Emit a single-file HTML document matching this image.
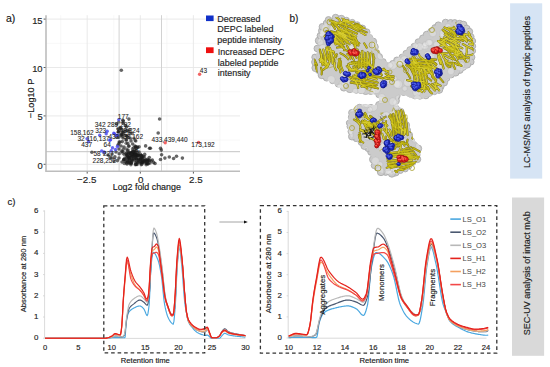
<!DOCTYPE html>
<html><head><meta charset="utf-8"><style>
html,body{margin:0;padding:0;background:#fff;}
body{width:550px;height:367px;overflow:hidden;position:relative;font-family:"Liberation Sans",sans-serif;}
svg{position:absolute;left:0;top:0;}
svg text{stroke:#2a2a2a;stroke-width:0.16px;}
</style></head><body>
<svg width="550" height="367" viewBox="0 0 550 367">
<defs><clipPath id="pc"><path d="M312.4,56.5 C312.7,53.2 314.1,50.8 314.8,48.0 C315.5,45.2 315.6,43.8 316.5,40.0 C317.4,36.2 318.6,28.8 320.5,25.0 C322.4,21.2 325.3,18.9 327.9,17.3 C330.5,15.7 332.8,15.1 336.1,15.2 C339.4,15.2 343.8,16.4 347.6,17.6 C351.4,18.8 355.5,20.3 359.0,22.5 C362.5,24.7 366.1,27.7 368.8,30.8 C371.5,33.9 373.8,37.5 375.4,41.0 C377.0,44.5 377.2,48.5 378.6,51.5 C380.0,54.5 381.9,57.4 384.0,59.0 C386.1,60.6 388.3,61.7 391.0,61.0 C393.7,60.3 396.5,57.8 400.0,55.0 C403.5,52.2 408.5,47.1 412.0,44.0 C415.5,40.9 418.2,38.5 421.1,36.1 C424.0,33.7 426.6,31.8 429.3,29.5 C432.0,27.2 434.8,24.2 437.5,22.6 C440.2,21.0 442.6,20.4 445.6,20.0 C448.6,19.6 452.2,19.4 455.5,20.0 C458.8,20.6 462.6,21.5 465.3,23.3 C468.0,25.1 470.1,27.9 471.8,30.8 C473.5,33.8 474.8,37.5 475.4,41.0 C476.0,44.5 475.9,47.7 475.4,51.5 C474.9,55.3 474.9,60.6 472.5,64.0 C470.1,67.4 464.9,69.3 461.0,72.0 C457.1,74.7 452.5,76.7 449.0,80.0 C445.5,83.3 443.8,89.0 440.0,92.0 C436.2,95.0 430.3,96.9 426.0,98.0 C421.7,99.1 417.7,99.0 414.0,98.5 C410.3,98.0 406.5,95.4 404.0,95.0 C401.5,94.6 400.0,94.2 399.0,96.0 C398.0,97.8 397.2,103.6 398.0,106.0 C398.8,108.4 401.9,107.4 403.6,110.5 C405.4,113.6 406.9,119.6 408.5,124.4 C410.1,129.2 411.3,135.0 413.4,139.1 C415.4,143.2 419.9,145.2 420.8,148.9 C421.7,152.6 421.4,157.4 419.0,161.2 C416.6,165.0 410.7,169.0 406.1,171.5 C401.5,174.0 395.9,175.8 391.4,176.2 C386.9,176.6 382.4,175.5 379.1,173.8 C375.8,172.1 373.4,169.3 371.8,166.0 C370.2,162.7 371.4,157.4 369.3,153.8 C367.2,150.2 362.8,147.3 359.5,144.5 C356.2,141.7 351.7,140.8 349.5,137.0 C347.3,133.2 346.3,126.4 346.5,122.0 C346.7,117.6 348.3,113.3 350.5,110.5 C352.7,107.7 355.1,106.0 359.5,105.0 C363.9,104.0 373.6,106.1 376.7,104.8 C379.8,103.5 379.0,98.8 378.0,97.0 C377.0,95.2 374.2,94.5 370.5,93.8 C366.8,93.1 360.3,93.7 355.7,93.0 C351.1,92.3 346.7,91.4 342.6,89.8 C338.5,88.2 335.0,85.4 331.2,83.2 C327.4,81.0 322.7,79.1 319.7,76.6 C316.7,74.1 314.2,71.3 313.0,68.0 C311.8,64.7 312.1,59.8 312.4,56.5 Z" transform="translate(393,95) scale(0.975) translate(-393,-95)"/></clipPath></defs>
<circle cx="314.9" cy="57.2" r="3.1" fill="#cbcbcb" stroke="#ababab" stroke-width="0.9"/>
<circle cx="317.3" cy="48.5" r="3.3" fill="#cbcbcb" stroke="#ababab" stroke-width="0.9"/>
<circle cx="319.0" cy="40.7" r="3.7" fill="#cbcbcb" stroke="#ababab" stroke-width="0.9"/>
<circle cx="320.3" cy="35.7" r="3.2" fill="#cbcbcb" stroke="#ababab" stroke-width="0.9"/>
<circle cx="321.7" cy="30.7" r="3.2" fill="#cbcbcb" stroke="#ababab" stroke-width="0.9"/>
<circle cx="322.4" cy="26.8" r="3.3" fill="#cbcbcb" stroke="#ababab" stroke-width="0.9"/>
<circle cx="326.1" cy="23.0" r="2.8" fill="#cbcbcb" stroke="#ababab" stroke-width="0.9"/>
<circle cx="328.5" cy="19.8" r="3.2" fill="#cbcbcb" stroke="#ababab" stroke-width="0.9"/>
<circle cx="335.6" cy="17.7" r="3.4" fill="#cbcbcb" stroke="#ababab" stroke-width="0.9"/>
<circle cx="341.3" cy="18.9" r="3.6" fill="#cbcbcb" stroke="#ababab" stroke-width="0.9"/>
<circle cx="346.6" cy="20.0" r="2.7" fill="#cbcbcb" stroke="#ababab" stroke-width="0.9"/>
<circle cx="352.3" cy="22.4" r="3.0" fill="#cbcbcb" stroke="#ababab" stroke-width="0.9"/>
<circle cx="357.3" cy="24.5" r="2.7" fill="#cbcbcb" stroke="#ababab" stroke-width="0.9"/>
<circle cx="362.2" cy="28.6" r="3.6" fill="#cbcbcb" stroke="#ababab" stroke-width="0.9"/>
<circle cx="366.6" cy="32.2" r="3.4" fill="#cbcbcb" stroke="#ababab" stroke-width="0.9"/>
<circle cx="369.9" cy="37.3" r="2.7" fill="#cbcbcb" stroke="#ababab" stroke-width="0.9"/>
<circle cx="372.9" cy="41.8" r="3.8" fill="#cbcbcb" stroke="#ababab" stroke-width="0.9"/>
<circle cx="374.5" cy="47.0" r="3.8" fill="#cbcbcb" stroke="#ababab" stroke-width="0.9"/>
<circle cx="376.5" cy="53.0" r="3.4" fill="#cbcbcb" stroke="#ababab" stroke-width="0.9"/>
<circle cx="379.2" cy="56.8" r="3.3" fill="#cbcbcb" stroke="#ababab" stroke-width="0.9"/>
<circle cx="383.3" cy="61.5" r="2.8" fill="#cbcbcb" stroke="#ababab" stroke-width="0.9"/>
<circle cx="392.4" cy="63.2" r="2.6" fill="#cbcbcb" stroke="#ababab" stroke-width="0.9"/>
<circle cx="396.9" cy="60.2" r="3.2" fill="#cbcbcb" stroke="#ababab" stroke-width="0.9"/>
<circle cx="401.8" cy="56.9" r="2.7" fill="#cbcbcb" stroke="#ababab" stroke-width="0.9"/>
<circle cx="405.8" cy="53.2" r="2.8" fill="#cbcbcb" stroke="#ababab" stroke-width="0.9"/>
<circle cx="409.8" cy="49.6" r="2.9" fill="#cbcbcb" stroke="#ababab" stroke-width="0.9"/>
<circle cx="413.7" cy="46.0" r="2.6" fill="#cbcbcb" stroke="#ababab" stroke-width="0.9"/>
<circle cx="418.3" cy="42.0" r="3.2" fill="#cbcbcb" stroke="#ababab" stroke-width="0.9"/>
<circle cx="422.7" cy="38.1" r="3.1" fill="#cbcbcb" stroke="#ababab" stroke-width="0.9"/>
<circle cx="426.8" cy="34.8" r="3.6" fill="#cbcbcb" stroke="#ababab" stroke-width="0.9"/>
<circle cx="431.0" cy="31.5" r="3.2" fill="#cbcbcb" stroke="#ababab" stroke-width="0.9"/>
<circle cx="435.1" cy="28.0" r="3.4" fill="#cbcbcb" stroke="#ababab" stroke-width="0.9"/>
<circle cx="438.3" cy="25.1" r="3.2" fill="#cbcbcb" stroke="#ababab" stroke-width="0.9"/>
<circle cx="445.6" cy="22.6" r="3.4" fill="#cbcbcb" stroke="#ababab" stroke-width="0.9"/>
<circle cx="450.6" cy="22.6" r="3.1" fill="#cbcbcb" stroke="#ababab" stroke-width="0.9"/>
<circle cx="454.7" cy="22.5" r="2.9" fill="#cbcbcb" stroke="#ababab" stroke-width="0.9"/>
<circle cx="459.6" cy="24.1" r="3.8" fill="#cbcbcb" stroke="#ababab" stroke-width="0.9"/>
<circle cx="463.3" cy="25.0" r="3.8" fill="#cbcbcb" stroke="#ababab" stroke-width="0.9"/>
<circle cx="466.6" cy="28.8" r="3.6" fill="#cbcbcb" stroke="#ababab" stroke-width="0.9"/>
<circle cx="469.3" cy="31.7" r="3.4" fill="#cbcbcb" stroke="#ababab" stroke-width="0.9"/>
<circle cx="471.1" cy="36.8" r="3.0" fill="#cbcbcb" stroke="#ababab" stroke-width="0.9"/>
<circle cx="472.8" cy="41.0" r="2.9" fill="#cbcbcb" stroke="#ababab" stroke-width="0.9"/>
<circle cx="472.8" cy="46.2" r="2.9" fill="#cbcbcb" stroke="#ababab" stroke-width="0.9"/>
<circle cx="472.9" cy="50.9" r="2.7" fill="#cbcbcb" stroke="#ababab" stroke-width="0.9"/>
<circle cx="471.4" cy="57.2" r="3.5" fill="#cbcbcb" stroke="#ababab" stroke-width="0.9"/>
<circle cx="471.0" cy="61.9" r="3.1" fill="#cbcbcb" stroke="#ababab" stroke-width="0.9"/>
<circle cx="467.2" cy="64.5" r="3.6" fill="#cbcbcb" stroke="#ababab" stroke-width="0.9"/>
<circle cx="463.3" cy="67.2" r="3.1" fill="#cbcbcb" stroke="#ababab" stroke-width="0.9"/>
<circle cx="459.6" cy="69.8" r="3.7" fill="#cbcbcb" stroke="#ababab" stroke-width="0.9"/>
<circle cx="455.6" cy="72.5" r="3.6" fill="#cbcbcb" stroke="#ababab" stroke-width="0.9"/>
<circle cx="451.6" cy="75.2" r="2.6" fill="#cbcbcb" stroke="#ababab" stroke-width="0.9"/>
<circle cx="446.9" cy="78.4" r="2.9" fill="#cbcbcb" stroke="#ababab" stroke-width="0.9"/>
<circle cx="443.9" cy="82.4" r="3.7" fill="#cbcbcb" stroke="#ababab" stroke-width="0.9"/>
<circle cx="440.9" cy="86.4" r="3.2" fill="#cbcbcb" stroke="#ababab" stroke-width="0.9"/>
<circle cx="439.0" cy="89.6" r="3.8" fill="#cbcbcb" stroke="#ababab" stroke-width="0.9"/>
<circle cx="434.3" cy="91.6" r="3.1" fill="#cbcbcb" stroke="#ababab" stroke-width="0.9"/>
<circle cx="429.6" cy="93.6" r="2.7" fill="#cbcbcb" stroke="#ababab" stroke-width="0.9"/>
<circle cx="425.9" cy="95.4" r="3.4" fill="#cbcbcb" stroke="#ababab" stroke-width="0.9"/>
<circle cx="419.9" cy="95.7" r="3.5" fill="#cbcbcb" stroke="#ababab" stroke-width="0.9"/>
<circle cx="414.9" cy="96.0" r="2.9" fill="#cbcbcb" stroke="#ababab" stroke-width="0.9"/>
<circle cx="409.9" cy="94.3" r="2.7" fill="#cbcbcb" stroke="#ababab" stroke-width="0.9"/>
<circle cx="403.5" cy="92.5" r="3.0" fill="#cbcbcb" stroke="#ababab" stroke-width="0.9"/>
<circle cx="396.4" cy="95.7" r="3.8" fill="#cbcbcb" stroke="#ababab" stroke-width="0.9"/>
<circle cx="395.9" cy="100.7" r="3.5" fill="#cbcbcb" stroke="#ababab" stroke-width="0.9"/>
<circle cx="396.4" cy="108.0" r="2.7" fill="#cbcbcb" stroke="#ababab" stroke-width="0.9"/>
<circle cx="401.1" cy="111.4" r="2.9" fill="#cbcbcb" stroke="#ababab" stroke-width="0.9"/>
<circle cx="402.8" cy="116.0" r="2.7" fill="#cbcbcb" stroke="#ababab" stroke-width="0.9"/>
<circle cx="404.4" cy="120.6" r="2.7" fill="#cbcbcb" stroke="#ababab" stroke-width="0.9"/>
<circle cx="406.0" cy="125.2" r="3.6" fill="#cbcbcb" stroke="#ababab" stroke-width="0.9"/>
<circle cx="407.7" cy="130.1" r="2.8" fill="#cbcbcb" stroke="#ababab" stroke-width="0.9"/>
<circle cx="409.3" cy="135.0" r="3.3" fill="#cbcbcb" stroke="#ababab" stroke-width="0.9"/>
<circle cx="411.3" cy="140.7" r="3.1" fill="#cbcbcb" stroke="#ababab" stroke-width="0.9"/>
<circle cx="415.0" cy="145.6" r="2.8" fill="#cbcbcb" stroke="#ababab" stroke-width="0.9"/>
<circle cx="418.2" cy="148.5" r="3.5" fill="#cbcbcb" stroke="#ababab" stroke-width="0.9"/>
<circle cx="417.3" cy="154.7" r="2.8" fill="#cbcbcb" stroke="#ababab" stroke-width="0.9"/>
<circle cx="417.4" cy="159.2" r="3.4" fill="#cbcbcb" stroke="#ababab" stroke-width="0.9"/>
<circle cx="413.1" cy="162.6" r="2.7" fill="#cbcbcb" stroke="#ababab" stroke-width="0.9"/>
<circle cx="408.8" cy="166.0" r="3.1" fill="#cbcbcb" stroke="#ababab" stroke-width="0.9"/>
<circle cx="405.3" cy="169.0" r="2.9" fill="#cbcbcb" stroke="#ababab" stroke-width="0.9"/>
<circle cx="400.4" cy="170.6" r="2.9" fill="#cbcbcb" stroke="#ababab" stroke-width="0.9"/>
<circle cx="395.5" cy="172.2" r="3.8" fill="#cbcbcb" stroke="#ababab" stroke-width="0.9"/>
<circle cx="391.9" cy="173.6" r="3.6" fill="#cbcbcb" stroke="#ababab" stroke-width="0.9"/>
<circle cx="385.7" cy="172.4" r="3.0" fill="#cbcbcb" stroke="#ababab" stroke-width="0.9"/>
<circle cx="381.0" cy="172.0" r="3.7" fill="#cbcbcb" stroke="#ababab" stroke-width="0.9"/>
<circle cx="377.3" cy="168.1" r="2.9" fill="#cbcbcb" stroke="#ababab" stroke-width="0.9"/>
<circle cx="374.3" cy="165.5" r="3.1" fill="#cbcbcb" stroke="#ababab" stroke-width="0.9"/>
<circle cx="373.1" cy="159.4" r="3.6" fill="#cbcbcb" stroke="#ababab" stroke-width="0.9"/>
<circle cx="371.1" cy="151.9" r="3.4" fill="#cbcbcb" stroke="#ababab" stroke-width="0.9"/>
<circle cx="367.8" cy="148.8" r="2.7" fill="#cbcbcb" stroke="#ababab" stroke-width="0.9"/>
<circle cx="364.6" cy="145.7" r="3.8" fill="#cbcbcb" stroke="#ababab" stroke-width="0.9"/>
<circle cx="361.1" cy="142.4" r="2.9" fill="#cbcbcb" stroke="#ababab" stroke-width="0.9"/>
<circle cx="356.1" cy="138.7" r="2.9" fill="#cbcbcb" stroke="#ababab" stroke-width="0.9"/>
<circle cx="352.0" cy="136.5" r="3.5" fill="#cbcbcb" stroke="#ababab" stroke-width="0.9"/>
<circle cx="351.0" cy="131.5" r="3.0" fill="#cbcbcb" stroke="#ababab" stroke-width="0.9"/>
<circle cx="350.0" cy="126.5" r="3.0" fill="#cbcbcb" stroke="#ababab" stroke-width="0.9"/>
<circle cx="349.0" cy="122.9" r="2.7" fill="#cbcbcb" stroke="#ababab" stroke-width="0.9"/>
<circle cx="351.0" cy="117.1" r="2.7" fill="#cbcbcb" stroke="#ababab" stroke-width="0.9"/>
<circle cx="351.9" cy="112.7" r="3.3" fill="#cbcbcb" stroke="#ababab" stroke-width="0.9"/>
<circle cx="356.4" cy="110.0" r="2.9" fill="#cbcbcb" stroke="#ababab" stroke-width="0.9"/>
<circle cx="359.5" cy="107.6" r="3.3" fill="#cbcbcb" stroke="#ababab" stroke-width="0.9"/>
<circle cx="365.3" cy="107.5" r="3.0" fill="#cbcbcb" stroke="#ababab" stroke-width="0.9"/>
<circle cx="371.0" cy="107.5" r="3.1" fill="#cbcbcb" stroke="#ababab" stroke-width="0.9"/>
<circle cx="379.3" cy="105.2" r="3.8" fill="#cbcbcb" stroke="#ababab" stroke-width="0.9"/>
<circle cx="379.0" cy="94.6" r="3.2" fill="#cbcbcb" stroke="#ababab" stroke-width="0.9"/>
<circle cx="370.6" cy="91.2" r="3.3" fill="#cbcbcb" stroke="#ababab" stroke-width="0.9"/>
<circle cx="365.7" cy="90.9" r="3.6" fill="#cbcbcb" stroke="#ababab" stroke-width="0.9"/>
<circle cx="360.8" cy="90.7" r="2.8" fill="#cbcbcb" stroke="#ababab" stroke-width="0.9"/>
<circle cx="356.3" cy="90.5" r="2.8" fill="#cbcbcb" stroke="#ababab" stroke-width="0.9"/>
<circle cx="349.8" cy="88.9" r="3.7" fill="#cbcbcb" stroke="#ababab" stroke-width="0.9"/>
<circle cx="343.9" cy="87.5" r="3.6" fill="#cbcbcb" stroke="#ababab" stroke-width="0.9"/>
<circle cx="338.2" cy="84.2" r="2.9" fill="#cbcbcb" stroke="#ababab" stroke-width="0.9"/>
<circle cx="332.5" cy="80.9" r="2.8" fill="#cbcbcb" stroke="#ababab" stroke-width="0.9"/>
<circle cx="326.7" cy="77.6" r="3.5" fill="#cbcbcb" stroke="#ababab" stroke-width="0.9"/>
<circle cx="321.8" cy="75.0" r="3.7" fill="#cbcbcb" stroke="#ababab" stroke-width="0.9"/>
<circle cx="318.4" cy="70.7" r="2.8" fill="#cbcbcb" stroke="#ababab" stroke-width="0.9"/>
<circle cx="315.6" cy="67.9" r="3.7" fill="#cbcbcb" stroke="#ababab" stroke-width="0.9"/>
<circle cx="315.3" cy="62.1" r="3.7" fill="#cbcbcb" stroke="#ababab" stroke-width="0.9"/>
<path d="M312.4,56.5 C312.7,53.2 314.1,50.8 314.8,48.0 C315.5,45.2 315.6,43.8 316.5,40.0 C317.4,36.2 318.6,28.8 320.5,25.0 C322.4,21.2 325.3,18.9 327.9,17.3 C330.5,15.7 332.8,15.1 336.1,15.2 C339.4,15.2 343.8,16.4 347.6,17.6 C351.4,18.8 355.5,20.3 359.0,22.5 C362.5,24.7 366.1,27.7 368.8,30.8 C371.5,33.9 373.8,37.5 375.4,41.0 C377.0,44.5 377.2,48.5 378.6,51.5 C380.0,54.5 381.9,57.4 384.0,59.0 C386.1,60.6 388.3,61.7 391.0,61.0 C393.7,60.3 396.5,57.8 400.0,55.0 C403.5,52.2 408.5,47.1 412.0,44.0 C415.5,40.9 418.2,38.5 421.1,36.1 C424.0,33.7 426.6,31.8 429.3,29.5 C432.0,27.2 434.8,24.2 437.5,22.6 C440.2,21.0 442.6,20.4 445.6,20.0 C448.6,19.6 452.2,19.4 455.5,20.0 C458.8,20.6 462.6,21.5 465.3,23.3 C468.0,25.1 470.1,27.9 471.8,30.8 C473.5,33.8 474.8,37.5 475.4,41.0 C476.0,44.5 475.9,47.7 475.4,51.5 C474.9,55.3 474.9,60.6 472.5,64.0 C470.1,67.4 464.9,69.3 461.0,72.0 C457.1,74.7 452.5,76.7 449.0,80.0 C445.5,83.3 443.8,89.0 440.0,92.0 C436.2,95.0 430.3,96.9 426.0,98.0 C421.7,99.1 417.7,99.0 414.0,98.5 C410.3,98.0 406.5,95.4 404.0,95.0 C401.5,94.6 400.0,94.2 399.0,96.0 C398.0,97.8 397.2,103.6 398.0,106.0 C398.8,108.4 401.9,107.4 403.6,110.5 C405.4,113.6 406.9,119.6 408.5,124.4 C410.1,129.2 411.3,135.0 413.4,139.1 C415.4,143.2 419.9,145.2 420.8,148.9 C421.7,152.6 421.4,157.4 419.0,161.2 C416.6,165.0 410.7,169.0 406.1,171.5 C401.5,174.0 395.9,175.8 391.4,176.2 C386.9,176.6 382.4,175.5 379.1,173.8 C375.8,172.1 373.4,169.3 371.8,166.0 C370.2,162.7 371.4,157.4 369.3,153.8 C367.2,150.2 362.8,147.3 359.5,144.5 C356.2,141.7 351.7,140.8 349.5,137.0 C347.3,133.2 346.3,126.4 346.5,122.0 C346.7,117.6 348.3,113.3 350.5,110.5 C352.7,107.7 355.1,106.0 359.5,105.0 C363.9,104.0 373.6,106.1 376.7,104.8 C379.8,103.5 379.0,98.8 378.0,97.0 C377.0,95.2 374.2,94.5 370.5,93.8 C366.8,93.1 360.3,93.7 355.7,93.0 C351.1,92.3 346.7,91.4 342.6,89.8 C338.5,88.2 335.0,85.4 331.2,83.2 C327.4,81.0 322.7,79.1 319.7,76.6 C316.7,74.1 314.2,71.3 313.0,68.0 C311.8,64.7 312.1,59.8 312.4,56.5 Z" fill="#cbcbcb" transform="translate(393,95) scale(0.965) translate(-393,-95)"/>
<g clip-path="url(#pc)">
<circle cx="411.4" cy="82.5" r="2.7" fill="#ececec" fill-opacity="0.42" stroke="#9a9a9a" stroke-opacity="0.3" stroke-width="0.6"/>
<circle cx="316.5" cy="171.8" r="3.0" fill="#ececec" fill-opacity="0.42" stroke="#9a9a9a" stroke-opacity="0.3" stroke-width="0.6"/>
<circle cx="428.4" cy="55.4" r="4.1" fill="#ececec" fill-opacity="0.42" stroke="#9a9a9a" stroke-opacity="0.3" stroke-width="0.6"/>
<circle cx="410.2" cy="61.4" r="2.9" fill="#ececec" fill-opacity="0.42" stroke="#9a9a9a" stroke-opacity="0.3" stroke-width="0.6"/>
<circle cx="431.0" cy="24.3" r="3.0" fill="#ececec" fill-opacity="0.42" stroke="#9a9a9a" stroke-opacity="0.3" stroke-width="0.6"/>
<circle cx="404.0" cy="153.6" r="3.7" fill="#ececec" fill-opacity="0.42" stroke="#9a9a9a" stroke-opacity="0.3" stroke-width="0.6"/>
<circle cx="357.1" cy="164.4" r="2.9" fill="#ececec" fill-opacity="0.42" stroke="#9a9a9a" stroke-opacity="0.3" stroke-width="0.6"/>
<circle cx="312.8" cy="57.4" r="3.4" fill="#ececec" fill-opacity="0.42" stroke="#9a9a9a" stroke-opacity="0.3" stroke-width="0.6"/>
<circle cx="320.2" cy="42.1" r="3.2" fill="#ececec" fill-opacity="0.42" stroke="#9a9a9a" stroke-opacity="0.3" stroke-width="0.6"/>
<circle cx="406.1" cy="34.7" r="3.2" fill="#ececec" fill-opacity="0.42" stroke="#9a9a9a" stroke-opacity="0.3" stroke-width="0.6"/>
<circle cx="459.7" cy="174.8" r="3.8" fill="#ececec" fill-opacity="0.42" stroke="#9a9a9a" stroke-opacity="0.3" stroke-width="0.6"/>
<circle cx="426.1" cy="109.4" r="2.8" fill="#ececec" fill-opacity="0.42" stroke="#9a9a9a" stroke-opacity="0.3" stroke-width="0.6"/>
<circle cx="315.9" cy="16.0" r="4.3" fill="#ececec" fill-opacity="0.42" stroke="#9a9a9a" stroke-opacity="0.3" stroke-width="0.6"/>
<circle cx="427.8" cy="171.9" r="2.5" fill="#ececec" fill-opacity="0.42" stroke="#9a9a9a" stroke-opacity="0.3" stroke-width="0.6"/>
<circle cx="416.9" cy="92.6" r="4.0" fill="#ececec" fill-opacity="0.42" stroke="#9a9a9a" stroke-opacity="0.3" stroke-width="0.6"/>
<circle cx="363.6" cy="177.9" r="2.7" fill="#ececec" fill-opacity="0.42" stroke="#9a9a9a" stroke-opacity="0.3" stroke-width="0.6"/>
<circle cx="401.7" cy="134.6" r="4.3" fill="#ececec" fill-opacity="0.42" stroke="#9a9a9a" stroke-opacity="0.3" stroke-width="0.6"/>
<circle cx="433.8" cy="129.1" r="4.1" fill="#ececec" fill-opacity="0.42" stroke="#9a9a9a" stroke-opacity="0.3" stroke-width="0.6"/>
<circle cx="463.7" cy="71.1" r="3.9" fill="#ececec" fill-opacity="0.42" stroke="#9a9a9a" stroke-opacity="0.3" stroke-width="0.6"/>
<circle cx="461.3" cy="156.7" r="3.3" fill="#ececec" fill-opacity="0.42" stroke="#9a9a9a" stroke-opacity="0.3" stroke-width="0.6"/>
<circle cx="442.8" cy="155.5" r="3.6" fill="#ececec" fill-opacity="0.42" stroke="#9a9a9a" stroke-opacity="0.3" stroke-width="0.6"/>
<circle cx="415.0" cy="76.1" r="3.7" fill="#ececec" fill-opacity="0.42" stroke="#9a9a9a" stroke-opacity="0.3" stroke-width="0.6"/>
<circle cx="412.3" cy="26.2" r="3.8" fill="#ececec" fill-opacity="0.42" stroke="#9a9a9a" stroke-opacity="0.3" stroke-width="0.6"/>
<circle cx="476.9" cy="158.2" r="4.0" fill="#ececec" fill-opacity="0.42" stroke="#9a9a9a" stroke-opacity="0.3" stroke-width="0.6"/>
<circle cx="375.3" cy="134.3" r="3.7" fill="#ececec" fill-opacity="0.42" stroke="#9a9a9a" stroke-opacity="0.3" stroke-width="0.6"/>
<circle cx="384.0" cy="151.3" r="2.7" fill="#ececec" fill-opacity="0.42" stroke="#9a9a9a" stroke-opacity="0.3" stroke-width="0.6"/>
<circle cx="436.0" cy="17.9" r="3.7" fill="#ececec" fill-opacity="0.42" stroke="#9a9a9a" stroke-opacity="0.3" stroke-width="0.6"/>
<circle cx="390.8" cy="51.0" r="3.9" fill="#ececec" fill-opacity="0.42" stroke="#9a9a9a" stroke-opacity="0.3" stroke-width="0.6"/>
<circle cx="393.5" cy="114.4" r="4.3" fill="#ececec" fill-opacity="0.42" stroke="#9a9a9a" stroke-opacity="0.3" stroke-width="0.6"/>
<circle cx="353.0" cy="14.9" r="3.1" fill="#ececec" fill-opacity="0.42" stroke="#9a9a9a" stroke-opacity="0.3" stroke-width="0.6"/>
<circle cx="423.9" cy="46.4" r="2.8" fill="#ececec" fill-opacity="0.42" stroke="#9a9a9a" stroke-opacity="0.3" stroke-width="0.6"/>
<circle cx="462.2" cy="121.9" r="3.4" fill="#ececec" fill-opacity="0.42" stroke="#9a9a9a" stroke-opacity="0.3" stroke-width="0.6"/>
<circle cx="459.8" cy="66.9" r="3.8" fill="#ececec" fill-opacity="0.42" stroke="#9a9a9a" stroke-opacity="0.3" stroke-width="0.6"/>
<circle cx="343.3" cy="84.1" r="4.1" fill="#ececec" fill-opacity="0.42" stroke="#9a9a9a" stroke-opacity="0.3" stroke-width="0.6"/>
<circle cx="463.6" cy="158.2" r="3.3" fill="#ececec" fill-opacity="0.42" stroke="#9a9a9a" stroke-opacity="0.3" stroke-width="0.6"/>
<circle cx="408.0" cy="65.2" r="2.8" fill="#ececec" fill-opacity="0.42" stroke="#9a9a9a" stroke-opacity="0.3" stroke-width="0.6"/>
<circle cx="393.4" cy="151.1" r="4.2" fill="#ececec" fill-opacity="0.42" stroke="#9a9a9a" stroke-opacity="0.3" stroke-width="0.6"/>
<circle cx="429.5" cy="169.8" r="3.1" fill="#ececec" fill-opacity="0.42" stroke="#9a9a9a" stroke-opacity="0.3" stroke-width="0.6"/>
<circle cx="338.4" cy="87.4" r="3.1" fill="#ececec" fill-opacity="0.42" stroke="#9a9a9a" stroke-opacity="0.3" stroke-width="0.6"/>
<circle cx="346.0" cy="81.3" r="3.8" fill="#ececec" fill-opacity="0.42" stroke="#9a9a9a" stroke-opacity="0.3" stroke-width="0.6"/>
<circle cx="393.0" cy="65.0" r="4.2" fill="#ececec" fill-opacity="0.42" stroke="#9a9a9a" stroke-opacity="0.3" stroke-width="0.6"/>
<circle cx="475.0" cy="87.7" r="2.6" fill="#ececec" fill-opacity="0.42" stroke="#9a9a9a" stroke-opacity="0.3" stroke-width="0.6"/>
<circle cx="315.3" cy="157.0" r="2.6" fill="#ececec" fill-opacity="0.42" stroke="#9a9a9a" stroke-opacity="0.3" stroke-width="0.6"/>
<circle cx="429.0" cy="107.1" r="3.1" fill="#ececec" fill-opacity="0.42" stroke="#9a9a9a" stroke-opacity="0.3" stroke-width="0.6"/>
<circle cx="443.0" cy="16.2" r="2.8" fill="#ececec" fill-opacity="0.42" stroke="#9a9a9a" stroke-opacity="0.3" stroke-width="0.6"/>
<circle cx="386.4" cy="17.1" r="4.2" fill="#ececec" fill-opacity="0.42" stroke="#9a9a9a" stroke-opacity="0.3" stroke-width="0.6"/>
<circle cx="349.9" cy="36.2" r="2.6" fill="#ececec" fill-opacity="0.42" stroke="#9a9a9a" stroke-opacity="0.3" stroke-width="0.6"/>
<circle cx="415.7" cy="86.7" r="3.8" fill="#ececec" fill-opacity="0.42" stroke="#9a9a9a" stroke-opacity="0.3" stroke-width="0.6"/>
<circle cx="420.0" cy="146.2" r="4.4" fill="#ececec" fill-opacity="0.42" stroke="#9a9a9a" stroke-opacity="0.3" stroke-width="0.6"/>
<circle cx="425.0" cy="45.9" r="3.5" fill="#ececec" fill-opacity="0.42" stroke="#9a9a9a" stroke-opacity="0.3" stroke-width="0.6"/>
<circle cx="340.0" cy="14.8" r="3.4" fill="#ececec" fill-opacity="0.42" stroke="#9a9a9a" stroke-opacity="0.3" stroke-width="0.6"/>
<circle cx="430.0" cy="42.6" r="3.0" fill="#ececec" fill-opacity="0.42" stroke="#9a9a9a" stroke-opacity="0.3" stroke-width="0.6"/>
<circle cx="368.1" cy="128.1" r="3.5" fill="#ececec" fill-opacity="0.42" stroke="#9a9a9a" stroke-opacity="0.3" stroke-width="0.6"/>
<circle cx="413.2" cy="137.8" r="3.3" fill="#ececec" fill-opacity="0.42" stroke="#9a9a9a" stroke-opacity="0.3" stroke-width="0.6"/>
<circle cx="443.0" cy="162.5" r="2.7" fill="#ececec" fill-opacity="0.42" stroke="#9a9a9a" stroke-opacity="0.3" stroke-width="0.6"/>
<circle cx="466.7" cy="132.2" r="2.8" fill="#ececec" fill-opacity="0.42" stroke="#9a9a9a" stroke-opacity="0.3" stroke-width="0.6"/>
<circle cx="386.2" cy="116.2" r="4.3" fill="#ececec" fill-opacity="0.42" stroke="#9a9a9a" stroke-opacity="0.3" stroke-width="0.6"/>
<circle cx="373.3" cy="106.9" r="4.3" fill="#ececec" fill-opacity="0.42" stroke="#9a9a9a" stroke-opacity="0.3" stroke-width="0.6"/>
<circle cx="443.9" cy="168.8" r="3.4" fill="#ececec" fill-opacity="0.42" stroke="#9a9a9a" stroke-opacity="0.3" stroke-width="0.6"/>
<circle cx="419.4" cy="46.8" r="3.9" fill="#ececec" fill-opacity="0.42" stroke="#9a9a9a" stroke-opacity="0.3" stroke-width="0.6"/>
<circle cx="447.5" cy="118.9" r="3.9" fill="#ececec" fill-opacity="0.42" stroke="#9a9a9a" stroke-opacity="0.3" stroke-width="0.6"/>
<circle cx="345.8" cy="161.5" r="4.5" fill="#ececec" fill-opacity="0.42" stroke="#9a9a9a" stroke-opacity="0.3" stroke-width="0.6"/>
<circle cx="474.2" cy="101.6" r="4.1" fill="#ececec" fill-opacity="0.42" stroke="#9a9a9a" stroke-opacity="0.3" stroke-width="0.6"/>
<circle cx="363.8" cy="163.1" r="4.2" fill="#ececec" fill-opacity="0.42" stroke="#9a9a9a" stroke-opacity="0.3" stroke-width="0.6"/>
<circle cx="368.5" cy="26.7" r="3.4" fill="#ececec" fill-opacity="0.42" stroke="#9a9a9a" stroke-opacity="0.3" stroke-width="0.6"/>
<circle cx="402.5" cy="139.8" r="3.5" fill="#ececec" fill-opacity="0.42" stroke="#9a9a9a" stroke-opacity="0.3" stroke-width="0.6"/>
<circle cx="314.8" cy="146.5" r="2.6" fill="#ececec" fill-opacity="0.42" stroke="#9a9a9a" stroke-opacity="0.3" stroke-width="0.6"/>
<circle cx="444.4" cy="41.5" r="3.2" fill="#ececec" fill-opacity="0.42" stroke="#9a9a9a" stroke-opacity="0.3" stroke-width="0.6"/>
<circle cx="442.4" cy="36.2" r="2.8" fill="#ececec" fill-opacity="0.42" stroke="#9a9a9a" stroke-opacity="0.3" stroke-width="0.6"/>
<circle cx="396.8" cy="132.4" r="4.2" fill="#ececec" fill-opacity="0.42" stroke="#9a9a9a" stroke-opacity="0.3" stroke-width="0.6"/>
<circle cx="425.8" cy="169.0" r="3.5" fill="#ececec" fill-opacity="0.42" stroke="#9a9a9a" stroke-opacity="0.3" stroke-width="0.6"/>
<circle cx="469.5" cy="27.2" r="2.9" fill="#ececec" fill-opacity="0.42" stroke="#9a9a9a" stroke-opacity="0.3" stroke-width="0.6"/>
<circle cx="398.5" cy="60.9" r="4.0" fill="#ececec" fill-opacity="0.42" stroke="#9a9a9a" stroke-opacity="0.3" stroke-width="0.6"/>
<circle cx="417.3" cy="99.3" r="4.2" fill="#ececec" fill-opacity="0.42" stroke="#9a9a9a" stroke-opacity="0.3" stroke-width="0.6"/>
<circle cx="404.1" cy="64.4" r="3.3" fill="#ececec" fill-opacity="0.42" stroke="#9a9a9a" stroke-opacity="0.3" stroke-width="0.6"/>
<circle cx="452.0" cy="161.6" r="2.9" fill="#ececec" fill-opacity="0.42" stroke="#9a9a9a" stroke-opacity="0.3" stroke-width="0.6"/>
<circle cx="452.9" cy="172.8" r="3.5" fill="#ececec" fill-opacity="0.42" stroke="#9a9a9a" stroke-opacity="0.3" stroke-width="0.6"/>
<circle cx="406.3" cy="46.2" r="3.6" fill="#ececec" fill-opacity="0.42" stroke="#9a9a9a" stroke-opacity="0.3" stroke-width="0.6"/>
<circle cx="394.5" cy="112.9" r="2.6" fill="#ececec" fill-opacity="0.42" stroke="#9a9a9a" stroke-opacity="0.3" stroke-width="0.6"/>
<circle cx="472.9" cy="98.1" r="3.3" fill="#ececec" fill-opacity="0.42" stroke="#9a9a9a" stroke-opacity="0.3" stroke-width="0.6"/>
<circle cx="444.6" cy="105.9" r="3.5" fill="#ececec" fill-opacity="0.42" stroke="#9a9a9a" stroke-opacity="0.3" stroke-width="0.6"/>
<circle cx="426.1" cy="23.9" r="3.6" fill="#ececec" fill-opacity="0.42" stroke="#9a9a9a" stroke-opacity="0.3" stroke-width="0.6"/>
<circle cx="379.5" cy="170.9" r="4.3" fill="#ececec" fill-opacity="0.42" stroke="#9a9a9a" stroke-opacity="0.3" stroke-width="0.6"/>
<circle cx="355.2" cy="91.1" r="2.8" fill="#ececec" fill-opacity="0.42" stroke="#9a9a9a" stroke-opacity="0.3" stroke-width="0.6"/>
<circle cx="382.9" cy="147.6" r="4.3" fill="#ececec" fill-opacity="0.42" stroke="#9a9a9a" stroke-opacity="0.3" stroke-width="0.6"/>
<circle cx="390.1" cy="65.3" r="2.9" fill="#ececec" fill-opacity="0.42" stroke="#9a9a9a" stroke-opacity="0.3" stroke-width="0.6"/>
<circle cx="413.8" cy="165.7" r="2.8" fill="#ececec" fill-opacity="0.42" stroke="#9a9a9a" stroke-opacity="0.3" stroke-width="0.6"/>
<circle cx="440.9" cy="16.8" r="2.9" fill="#ececec" fill-opacity="0.42" stroke="#9a9a9a" stroke-opacity="0.3" stroke-width="0.6"/>
<circle cx="348.2" cy="126.4" r="3.1" fill="#ececec" fill-opacity="0.42" stroke="#9a9a9a" stroke-opacity="0.3" stroke-width="0.6"/>
<circle cx="369.7" cy="115.3" r="2.7" fill="#ececec" fill-opacity="0.42" stroke="#9a9a9a" stroke-opacity="0.3" stroke-width="0.6"/>
<circle cx="432.8" cy="33.3" r="3.5" fill="#ececec" fill-opacity="0.42" stroke="#9a9a9a" stroke-opacity="0.3" stroke-width="0.6"/>
<circle cx="352.1" cy="45.6" r="3.6" fill="#ececec" fill-opacity="0.42" stroke="#9a9a9a" stroke-opacity="0.3" stroke-width="0.6"/>
<circle cx="383.4" cy="75.0" r="3.3" fill="#ececec" fill-opacity="0.42" stroke="#9a9a9a" stroke-opacity="0.3" stroke-width="0.6"/>
<circle cx="398.9" cy="39.4" r="2.9" fill="#ececec" fill-opacity="0.42" stroke="#9a9a9a" stroke-opacity="0.3" stroke-width="0.6"/>
<circle cx="416.1" cy="118.3" r="3.6" fill="#ececec" fill-opacity="0.42" stroke="#9a9a9a" stroke-opacity="0.3" stroke-width="0.6"/>
<circle cx="453.0" cy="113.9" r="4.2" fill="#ececec" fill-opacity="0.42" stroke="#9a9a9a" stroke-opacity="0.3" stroke-width="0.6"/>
<circle cx="349.1" cy="135.2" r="4.1" fill="#ececec" fill-opacity="0.42" stroke="#9a9a9a" stroke-opacity="0.3" stroke-width="0.6"/>
<circle cx="461.6" cy="65.1" r="3.1" fill="#ececec" fill-opacity="0.42" stroke="#9a9a9a" stroke-opacity="0.3" stroke-width="0.6"/>
<circle cx="465.0" cy="49.0" r="4.5" fill="#ececec" fill-opacity="0.42" stroke="#9a9a9a" stroke-opacity="0.3" stroke-width="0.6"/>
<circle cx="459.1" cy="35.1" r="3.0" fill="#ececec" fill-opacity="0.42" stroke="#9a9a9a" stroke-opacity="0.3" stroke-width="0.6"/>
<circle cx="432.1" cy="55.8" r="2.7" fill="#ececec" fill-opacity="0.42" stroke="#9a9a9a" stroke-opacity="0.3" stroke-width="0.6"/>
<circle cx="449.8" cy="82.6" r="4.1" fill="#ececec" fill-opacity="0.42" stroke="#9a9a9a" stroke-opacity="0.3" stroke-width="0.6"/>
<circle cx="331.2" cy="79.5" r="3.9" fill="#ececec" fill-opacity="0.42" stroke="#9a9a9a" stroke-opacity="0.3" stroke-width="0.6"/>
<circle cx="313.0" cy="46.2" r="3.9" fill="#ececec" fill-opacity="0.42" stroke="#9a9a9a" stroke-opacity="0.3" stroke-width="0.6"/>
<circle cx="463.1" cy="172.8" r="2.7" fill="#ececec" fill-opacity="0.42" stroke="#9a9a9a" stroke-opacity="0.3" stroke-width="0.6"/>
<circle cx="395.0" cy="138.1" r="3.5" fill="#ececec" fill-opacity="0.42" stroke="#9a9a9a" stroke-opacity="0.3" stroke-width="0.6"/>
<circle cx="425.2" cy="44.2" r="2.6" fill="#ececec" fill-opacity="0.42" stroke="#9a9a9a" stroke-opacity="0.3" stroke-width="0.6"/>
<circle cx="327.8" cy="19.2" r="3.6" fill="#ececec" fill-opacity="0.42" stroke="#9a9a9a" stroke-opacity="0.3" stroke-width="0.6"/>
<circle cx="396.5" cy="106.8" r="2.8" fill="#ececec" fill-opacity="0.42" stroke="#9a9a9a" stroke-opacity="0.3" stroke-width="0.6"/>
<circle cx="341.0" cy="46.6" r="4.2" fill="#ececec" fill-opacity="0.42" stroke="#9a9a9a" stroke-opacity="0.3" stroke-width="0.6"/>
<circle cx="476.4" cy="165.9" r="2.7" fill="#ececec" fill-opacity="0.42" stroke="#9a9a9a" stroke-opacity="0.3" stroke-width="0.6"/>
<circle cx="320.4" cy="170.0" r="3.4" fill="#ececec" fill-opacity="0.42" stroke="#9a9a9a" stroke-opacity="0.3" stroke-width="0.6"/>
<circle cx="438.5" cy="66.9" r="3.4" fill="#ececec" fill-opacity="0.42" stroke="#9a9a9a" stroke-opacity="0.3" stroke-width="0.6"/>
<circle cx="396.6" cy="84.0" r="3.7" fill="#ececec" fill-opacity="0.42" stroke="#9a9a9a" stroke-opacity="0.3" stroke-width="0.6"/>
<circle cx="312.2" cy="128.7" r="4.2" fill="#ececec" fill-opacity="0.42" stroke="#9a9a9a" stroke-opacity="0.3" stroke-width="0.6"/>
<circle cx="340.5" cy="87.9" r="4.0" fill="#ececec" fill-opacity="0.42" stroke="#9a9a9a" stroke-opacity="0.3" stroke-width="0.6"/>
<circle cx="378.1" cy="45.2" r="2.8" fill="#ececec" fill-opacity="0.42" stroke="#9a9a9a" stroke-opacity="0.3" stroke-width="0.6"/>
<circle cx="396.1" cy="15.5" r="4.3" fill="#ececec" fill-opacity="0.42" stroke="#9a9a9a" stroke-opacity="0.3" stroke-width="0.6"/>
<circle cx="444.7" cy="129.3" r="4.2" fill="#ececec" fill-opacity="0.42" stroke="#9a9a9a" stroke-opacity="0.3" stroke-width="0.6"/>
<circle cx="415.7" cy="79.7" r="3.7" fill="#ececec" fill-opacity="0.42" stroke="#9a9a9a" stroke-opacity="0.3" stroke-width="0.6"/>
<circle cx="394.7" cy="175.1" r="4.1" fill="#ececec" fill-opacity="0.42" stroke="#9a9a9a" stroke-opacity="0.3" stroke-width="0.6"/>
<circle cx="353.4" cy="163.4" r="4.0" fill="#ececec" fill-opacity="0.42" stroke="#9a9a9a" stroke-opacity="0.3" stroke-width="0.6"/>
<circle cx="440.7" cy="147.4" r="3.3" fill="#ececec" fill-opacity="0.42" stroke="#9a9a9a" stroke-opacity="0.3" stroke-width="0.6"/>
<circle cx="460.6" cy="158.2" r="3.9" fill="#ececec" fill-opacity="0.42" stroke="#9a9a9a" stroke-opacity="0.3" stroke-width="0.6"/>
<circle cx="438.9" cy="139.3" r="3.3" fill="#ececec" fill-opacity="0.42" stroke="#9a9a9a" stroke-opacity="0.3" stroke-width="0.6"/>
<circle cx="431.4" cy="24.6" r="3.2" fill="#ececec" fill-opacity="0.42" stroke="#9a9a9a" stroke-opacity="0.3" stroke-width="0.6"/>
<circle cx="388.8" cy="14.7" r="3.2" fill="#ececec" fill-opacity="0.42" stroke="#9a9a9a" stroke-opacity="0.3" stroke-width="0.6"/>
<circle cx="417.3" cy="116.0" r="3.0" fill="#ececec" fill-opacity="0.42" stroke="#9a9a9a" stroke-opacity="0.3" stroke-width="0.6"/>
<circle cx="468.7" cy="122.9" r="3.2" fill="#ececec" fill-opacity="0.42" stroke="#9a9a9a" stroke-opacity="0.3" stroke-width="0.6"/>
<circle cx="420.8" cy="107.0" r="3.6" fill="#ececec" fill-opacity="0.42" stroke="#9a9a9a" stroke-opacity="0.3" stroke-width="0.6"/>
<circle cx="375.5" cy="178.0" r="3.8" fill="#ececec" fill-opacity="0.42" stroke="#9a9a9a" stroke-opacity="0.3" stroke-width="0.6"/>
<circle cx="427.8" cy="138.7" r="4.5" fill="#ececec" fill-opacity="0.42" stroke="#9a9a9a" stroke-opacity="0.3" stroke-width="0.6"/>
<circle cx="313.8" cy="114.5" r="4.0" fill="#ececec" fill-opacity="0.42" stroke="#9a9a9a" stroke-opacity="0.3" stroke-width="0.6"/>
<circle cx="353.1" cy="79.3" r="2.6" fill="#ececec" fill-opacity="0.42" stroke="#9a9a9a" stroke-opacity="0.3" stroke-width="0.6"/>
<circle cx="342.8" cy="75.0" r="2.7" fill="#ececec" fill-opacity="0.42" stroke="#9a9a9a" stroke-opacity="0.3" stroke-width="0.6"/>
<circle cx="352.1" cy="162.4" r="3.6" fill="#ececec" fill-opacity="0.42" stroke="#9a9a9a" stroke-opacity="0.3" stroke-width="0.6"/>
<circle cx="395.3" cy="172.6" r="3.6" fill="#ececec" fill-opacity="0.42" stroke="#9a9a9a" stroke-opacity="0.3" stroke-width="0.6"/>
<circle cx="477.2" cy="118.3" r="4.1" fill="#ececec" fill-opacity="0.42" stroke="#9a9a9a" stroke-opacity="0.3" stroke-width="0.6"/>
<circle cx="322.8" cy="111.6" r="4.0" fill="#ececec" fill-opacity="0.42" stroke="#9a9a9a" stroke-opacity="0.3" stroke-width="0.6"/>
<circle cx="317.6" cy="166.5" r="2.8" fill="#ececec" fill-opacity="0.42" stroke="#9a9a9a" stroke-opacity="0.3" stroke-width="0.6"/>
<circle cx="389.3" cy="40.9" r="3.5" fill="#ececec" fill-opacity="0.42" stroke="#9a9a9a" stroke-opacity="0.3" stroke-width="0.6"/>
<circle cx="412.7" cy="22.7" r="4.4" fill="#ececec" fill-opacity="0.42" stroke="#9a9a9a" stroke-opacity="0.3" stroke-width="0.6"/>
<circle cx="380.7" cy="99.9" r="3.7" fill="#ececec" fill-opacity="0.42" stroke="#9a9a9a" stroke-opacity="0.3" stroke-width="0.6"/>
<circle cx="371.4" cy="60.1" r="3.8" fill="#ececec" fill-opacity="0.42" stroke="#9a9a9a" stroke-opacity="0.3" stroke-width="0.6"/>
<circle cx="404.2" cy="59.8" r="3.9" fill="#ececec" fill-opacity="0.42" stroke="#9a9a9a" stroke-opacity="0.3" stroke-width="0.6"/>
<circle cx="359.7" cy="15.3" r="3.0" fill="#ececec" fill-opacity="0.42" stroke="#9a9a9a" stroke-opacity="0.3" stroke-width="0.6"/>
<circle cx="317.2" cy="38.8" r="4.0" fill="#ececec" fill-opacity="0.42" stroke="#9a9a9a" stroke-opacity="0.3" stroke-width="0.6"/>
<circle cx="375.5" cy="161.1" r="4.0" fill="#ececec" fill-opacity="0.42" stroke="#9a9a9a" stroke-opacity="0.3" stroke-width="0.6"/>
<circle cx="318.4" cy="176.1" r="4.4" fill="#ececec" fill-opacity="0.42" stroke="#9a9a9a" stroke-opacity="0.3" stroke-width="0.6"/>
<circle cx="322.3" cy="162.4" r="3.4" fill="#ececec" fill-opacity="0.42" stroke="#9a9a9a" stroke-opacity="0.3" stroke-width="0.6"/>
<circle cx="390.2" cy="173.6" r="3.0" fill="#ececec" fill-opacity="0.42" stroke="#9a9a9a" stroke-opacity="0.3" stroke-width="0.6"/>
<circle cx="397.9" cy="167.6" r="3.9" fill="#ececec" fill-opacity="0.42" stroke="#9a9a9a" stroke-opacity="0.3" stroke-width="0.6"/>
<circle cx="388.7" cy="174.5" r="4.1" fill="#ececec" fill-opacity="0.42" stroke="#9a9a9a" stroke-opacity="0.3" stroke-width="0.6"/>
<circle cx="411.4" cy="32.0" r="3.7" fill="#ececec" fill-opacity="0.42" stroke="#9a9a9a" stroke-opacity="0.3" stroke-width="0.6"/>
<circle cx="386.6" cy="46.6" r="2.6" fill="#ececec" fill-opacity="0.42" stroke="#9a9a9a" stroke-opacity="0.3" stroke-width="0.6"/>
<circle cx="398.7" cy="33.5" r="3.4" fill="#ececec" fill-opacity="0.42" stroke="#9a9a9a" stroke-opacity="0.3" stroke-width="0.6"/>
<circle cx="422.2" cy="88.2" r="3.0" fill="#ececec" fill-opacity="0.42" stroke="#9a9a9a" stroke-opacity="0.3" stroke-width="0.6"/>
<circle cx="407.8" cy="82.2" r="4.1" fill="#ececec" fill-opacity="0.42" stroke="#9a9a9a" stroke-opacity="0.3" stroke-width="0.6"/>
<circle cx="399.2" cy="177.6" r="4.4" fill="#ececec" fill-opacity="0.42" stroke="#9a9a9a" stroke-opacity="0.3" stroke-width="0.6"/>
<circle cx="433.4" cy="52.3" r="2.7" fill="#ececec" fill-opacity="0.42" stroke="#9a9a9a" stroke-opacity="0.3" stroke-width="0.6"/>
<circle cx="460.0" cy="142.4" r="3.7" fill="#ececec" fill-opacity="0.42" stroke="#9a9a9a" stroke-opacity="0.3" stroke-width="0.6"/>
<circle cx="370.3" cy="57.8" r="3.9" fill="#ececec" fill-opacity="0.42" stroke="#9a9a9a" stroke-opacity="0.3" stroke-width="0.6"/>
<circle cx="404.9" cy="110.6" r="3.8" fill="#ececec" fill-opacity="0.42" stroke="#9a9a9a" stroke-opacity="0.3" stroke-width="0.6"/>
<circle cx="436.6" cy="44.3" r="3.0" fill="#ececec" fill-opacity="0.42" stroke="#9a9a9a" stroke-opacity="0.3" stroke-width="0.6"/>
<circle cx="474.6" cy="164.1" r="4.3" fill="#ececec" fill-opacity="0.42" stroke="#9a9a9a" stroke-opacity="0.3" stroke-width="0.6"/>
<circle cx="316.6" cy="23.0" r="3.0" fill="#ececec" fill-opacity="0.42" stroke="#9a9a9a" stroke-opacity="0.3" stroke-width="0.6"/>
<circle cx="381.4" cy="115.9" r="2.7" fill="#ececec" fill-opacity="0.42" stroke="#9a9a9a" stroke-opacity="0.3" stroke-width="0.6"/>
<circle cx="401.0" cy="25.0" r="2.7" fill="#ececec" fill-opacity="0.42" stroke="#9a9a9a" stroke-opacity="0.3" stroke-width="0.6"/>
<circle cx="423.6" cy="103.9" r="3.8" fill="#ececec" fill-opacity="0.42" stroke="#9a9a9a" stroke-opacity="0.3" stroke-width="0.6"/>
<circle cx="372.7" cy="92.0" r="2.9" fill="#ececec" fill-opacity="0.42" stroke="#9a9a9a" stroke-opacity="0.3" stroke-width="0.6"/>
<circle cx="367.7" cy="135.9" r="4.2" fill="#ececec" fill-opacity="0.42" stroke="#9a9a9a" stroke-opacity="0.3" stroke-width="0.6"/>
<circle cx="322.5" cy="32.8" r="4.1" fill="#ececec" fill-opacity="0.42" stroke="#9a9a9a" stroke-opacity="0.3" stroke-width="0.6"/>
<circle cx="414.8" cy="139.8" r="2.9" fill="#ececec" fill-opacity="0.42" stroke="#9a9a9a" stroke-opacity="0.3" stroke-width="0.6"/>
<circle cx="381.3" cy="55.6" r="4.1" fill="#ececec" fill-opacity="0.42" stroke="#9a9a9a" stroke-opacity="0.3" stroke-width="0.6"/>
<circle cx="372.0" cy="120.9" r="4.5" fill="#ececec" fill-opacity="0.42" stroke="#9a9a9a" stroke-opacity="0.3" stroke-width="0.6"/>
<circle cx="364.7" cy="103.5" r="4.0" fill="#ececec" fill-opacity="0.42" stroke="#9a9a9a" stroke-opacity="0.3" stroke-width="0.6"/>
<circle cx="464.7" cy="83.6" r="3.2" fill="#ececec" fill-opacity="0.42" stroke="#9a9a9a" stroke-opacity="0.3" stroke-width="0.6"/>
<circle cx="326.3" cy="157.4" r="2.7" fill="#ececec" fill-opacity="0.42" stroke="#9a9a9a" stroke-opacity="0.3" stroke-width="0.6"/>
<circle cx="323.9" cy="106.1" r="3.5" fill="#ececec" fill-opacity="0.42" stroke="#9a9a9a" stroke-opacity="0.3" stroke-width="0.6"/>
<circle cx="425.1" cy="62.3" r="4.1" fill="#ececec" fill-opacity="0.42" stroke="#9a9a9a" stroke-opacity="0.3" stroke-width="0.6"/>
<circle cx="322.8" cy="48.2" r="3.8" fill="#ececec" fill-opacity="0.42" stroke="#9a9a9a" stroke-opacity="0.3" stroke-width="0.6"/>
<circle cx="323.7" cy="63.1" r="3.9" fill="#ececec" fill-opacity="0.42" stroke="#9a9a9a" stroke-opacity="0.3" stroke-width="0.6"/>
<circle cx="426.6" cy="59.7" r="2.8" fill="#ececec" fill-opacity="0.42" stroke="#9a9a9a" stroke-opacity="0.3" stroke-width="0.6"/>
<circle cx="370.1" cy="132.8" r="3.2" fill="#ececec" fill-opacity="0.42" stroke="#9a9a9a" stroke-opacity="0.3" stroke-width="0.6"/>
<circle cx="329.7" cy="130.0" r="3.6" fill="#ececec" fill-opacity="0.42" stroke="#9a9a9a" stroke-opacity="0.3" stroke-width="0.6"/>
<circle cx="464.3" cy="168.1" r="4.3" fill="#ececec" fill-opacity="0.42" stroke="#9a9a9a" stroke-opacity="0.3" stroke-width="0.6"/>
<circle cx="383.6" cy="145.5" r="3.1" fill="#ececec" fill-opacity="0.42" stroke="#9a9a9a" stroke-opacity="0.3" stroke-width="0.6"/>
<circle cx="363.4" cy="78.9" r="4.4" fill="#ececec" fill-opacity="0.42" stroke="#9a9a9a" stroke-opacity="0.3" stroke-width="0.6"/>
<circle cx="460.3" cy="54.0" r="3.2" fill="#ececec" fill-opacity="0.42" stroke="#9a9a9a" stroke-opacity="0.3" stroke-width="0.6"/>
<circle cx="371.4" cy="72.9" r="3.3" fill="#ececec" fill-opacity="0.42" stroke="#9a9a9a" stroke-opacity="0.3" stroke-width="0.6"/>
<circle cx="375.1" cy="45.2" r="3.6" fill="#ececec" fill-opacity="0.42" stroke="#9a9a9a" stroke-opacity="0.3" stroke-width="0.6"/>
<circle cx="443.9" cy="102.2" r="4.2" fill="#ececec" fill-opacity="0.42" stroke="#9a9a9a" stroke-opacity="0.3" stroke-width="0.6"/>
<circle cx="404.5" cy="42.1" r="4.0" fill="#ececec" fill-opacity="0.42" stroke="#9a9a9a" stroke-opacity="0.3" stroke-width="0.6"/>
<circle cx="458.0" cy="59.4" r="2.5" fill="#ececec" fill-opacity="0.42" stroke="#9a9a9a" stroke-opacity="0.3" stroke-width="0.6"/>
<circle cx="396.6" cy="102.8" r="3.6" fill="#ececec" fill-opacity="0.42" stroke="#9a9a9a" stroke-opacity="0.3" stroke-width="0.6"/>
<circle cx="472.4" cy="120.4" r="4.1" fill="#ececec" fill-opacity="0.42" stroke="#9a9a9a" stroke-opacity="0.3" stroke-width="0.6"/>
<circle cx="320.8" cy="103.2" r="4.1" fill="#ececec" fill-opacity="0.42" stroke="#9a9a9a" stroke-opacity="0.3" stroke-width="0.6"/>
<circle cx="324.1" cy="26.5" r="4.0" fill="#ececec" fill-opacity="0.42" stroke="#9a9a9a" stroke-opacity="0.3" stroke-width="0.6"/>
<circle cx="461.0" cy="27.0" r="3.8" fill="#ececec" fill-opacity="0.42" stroke="#9a9a9a" stroke-opacity="0.3" stroke-width="0.6"/>
<circle cx="334.2" cy="136.1" r="3.8" fill="#ececec" fill-opacity="0.42" stroke="#9a9a9a" stroke-opacity="0.3" stroke-width="0.6"/>
<circle cx="351.2" cy="49.4" r="4.0" fill="#ececec" fill-opacity="0.42" stroke="#9a9a9a" stroke-opacity="0.3" stroke-width="0.6"/>
<circle cx="397.6" cy="139.2" r="3.3" fill="#ececec" fill-opacity="0.42" stroke="#9a9a9a" stroke-opacity="0.3" stroke-width="0.6"/>
<circle cx="366.8" cy="172.8" r="3.8" fill="#ececec" fill-opacity="0.42" stroke="#9a9a9a" stroke-opacity="0.3" stroke-width="0.6"/>
<circle cx="392.9" cy="101.7" r="3.9" fill="#ececec" fill-opacity="0.42" stroke="#9a9a9a" stroke-opacity="0.3" stroke-width="0.6"/>
<circle cx="429.0" cy="164.0" r="3.3" fill="#ececec" fill-opacity="0.42" stroke="#9a9a9a" stroke-opacity="0.3" stroke-width="0.6"/>
<circle cx="448.8" cy="123.0" r="4.2" fill="#ececec" fill-opacity="0.42" stroke="#9a9a9a" stroke-opacity="0.3" stroke-width="0.6"/>
<circle cx="445.4" cy="150.6" r="4.3" fill="#ececec" fill-opacity="0.42" stroke="#9a9a9a" stroke-opacity="0.3" stroke-width="0.6"/>
<circle cx="470.9" cy="118.6" r="3.5" fill="#ececec" fill-opacity="0.42" stroke="#9a9a9a" stroke-opacity="0.3" stroke-width="0.6"/>
<circle cx="429.3" cy="145.4" r="3.3" fill="#ececec" fill-opacity="0.42" stroke="#9a9a9a" stroke-opacity="0.3" stroke-width="0.6"/>
<circle cx="380.6" cy="37.1" r="4.0" fill="#ececec" fill-opacity="0.42" stroke="#9a9a9a" stroke-opacity="0.3" stroke-width="0.6"/>
<circle cx="476.5" cy="75.0" r="2.8" fill="#ececec" fill-opacity="0.42" stroke="#9a9a9a" stroke-opacity="0.3" stroke-width="0.6"/>
<circle cx="344.3" cy="83.1" r="3.1" fill="#ececec" fill-opacity="0.42" stroke="#9a9a9a" stroke-opacity="0.3" stroke-width="0.6"/>
<circle cx="472.9" cy="22.8" r="3.1" fill="#ececec" fill-opacity="0.42" stroke="#9a9a9a" stroke-opacity="0.3" stroke-width="0.6"/>
<circle cx="329.3" cy="119.9" r="4.1" fill="#ececec" fill-opacity="0.42" stroke="#9a9a9a" stroke-opacity="0.3" stroke-width="0.6"/>
<circle cx="340.1" cy="23.3" r="3.4" fill="#ececec" fill-opacity="0.42" stroke="#9a9a9a" stroke-opacity="0.3" stroke-width="0.6"/>
<circle cx="408.1" cy="163.0" r="2.6" fill="#ececec" fill-opacity="0.42" stroke="#9a9a9a" stroke-opacity="0.3" stroke-width="0.6"/>
<circle cx="328.3" cy="43.4" r="2.9" fill="#ececec" fill-opacity="0.42" stroke="#9a9a9a" stroke-opacity="0.3" stroke-width="0.6"/>
<circle cx="349.5" cy="131.3" r="3.7" fill="#ececec" fill-opacity="0.42" stroke="#9a9a9a" stroke-opacity="0.3" stroke-width="0.6"/>
<circle cx="347.6" cy="43.5" r="3.1" fill="#ececec" fill-opacity="0.42" stroke="#9a9a9a" stroke-opacity="0.3" stroke-width="0.6"/>
<circle cx="339.0" cy="138.0" r="3.1" fill="#ececec" fill-opacity="0.42" stroke="#9a9a9a" stroke-opacity="0.3" stroke-width="0.6"/>
<circle cx="402.1" cy="147.8" r="3.5" fill="#ececec" fill-opacity="0.42" stroke="#9a9a9a" stroke-opacity="0.3" stroke-width="0.6"/>
<circle cx="353.8" cy="159.4" r="4.3" fill="#ececec" fill-opacity="0.42" stroke="#9a9a9a" stroke-opacity="0.3" stroke-width="0.6"/>
<circle cx="367.5" cy="103.3" r="4.4" fill="#ececec" fill-opacity="0.42" stroke="#9a9a9a" stroke-opacity="0.3" stroke-width="0.6"/>
<circle cx="391.1" cy="49.5" r="2.6" fill="#ececec" fill-opacity="0.42" stroke="#9a9a9a" stroke-opacity="0.3" stroke-width="0.6"/>
<circle cx="469.2" cy="145.2" r="3.3" fill="#ececec" fill-opacity="0.42" stroke="#9a9a9a" stroke-opacity="0.3" stroke-width="0.6"/>
<circle cx="398.6" cy="98.1" r="3.0" fill="#ececec" fill-opacity="0.42" stroke="#9a9a9a" stroke-opacity="0.3" stroke-width="0.6"/>
<circle cx="476.4" cy="121.5" r="3.0" fill="#ececec" fill-opacity="0.42" stroke="#9a9a9a" stroke-opacity="0.3" stroke-width="0.6"/>
<circle cx="311.8" cy="91.0" r="3.2" fill="#ececec" fill-opacity="0.42" stroke="#9a9a9a" stroke-opacity="0.3" stroke-width="0.6"/>
<circle cx="443.9" cy="130.7" r="3.7" fill="#ececec" fill-opacity="0.42" stroke="#9a9a9a" stroke-opacity="0.3" stroke-width="0.6"/>
<circle cx="336.4" cy="38.9" r="3.1" fill="#ececec" fill-opacity="0.42" stroke="#9a9a9a" stroke-opacity="0.3" stroke-width="0.6"/>
<circle cx="353.6" cy="156.4" r="3.5" fill="#ececec" fill-opacity="0.42" stroke="#9a9a9a" stroke-opacity="0.3" stroke-width="0.6"/>
<circle cx="417.0" cy="176.9" r="3.0" fill="#ececec" fill-opacity="0.42" stroke="#9a9a9a" stroke-opacity="0.3" stroke-width="0.6"/>
<circle cx="399.8" cy="37.9" r="4.0" fill="#ececec" fill-opacity="0.42" stroke="#9a9a9a" stroke-opacity="0.3" stroke-width="0.6"/>
<circle cx="310.2" cy="148.5" r="4.2" fill="#ececec" fill-opacity="0.42" stroke="#9a9a9a" stroke-opacity="0.3" stroke-width="0.6"/>
<circle cx="448.1" cy="26.6" r="3.0" fill="#ececec" fill-opacity="0.42" stroke="#9a9a9a" stroke-opacity="0.3" stroke-width="0.6"/>
<circle cx="430.4" cy="29.0" r="3.5" fill="#ececec" fill-opacity="0.42" stroke="#9a9a9a" stroke-opacity="0.3" stroke-width="0.6"/>
<circle cx="388.7" cy="170.7" r="3.7" fill="#ececec" fill-opacity="0.42" stroke="#9a9a9a" stroke-opacity="0.3" stroke-width="0.6"/>
<circle cx="454.0" cy="63.1" r="4.1" fill="#ececec" fill-opacity="0.42" stroke="#9a9a9a" stroke-opacity="0.3" stroke-width="0.6"/>
<circle cx="380.1" cy="164.3" r="2.7" fill="#ececec" fill-opacity="0.42" stroke="#9a9a9a" stroke-opacity="0.3" stroke-width="0.6"/>
<circle cx="448.8" cy="47.4" r="3.6" fill="#ececec" fill-opacity="0.42" stroke="#9a9a9a" stroke-opacity="0.3" stroke-width="0.6"/>
<circle cx="398.3" cy="39.0" r="4.2" fill="#ececec" fill-opacity="0.42" stroke="#9a9a9a" stroke-opacity="0.3" stroke-width="0.6"/>
<circle cx="362.3" cy="64.3" r="2.7" fill="#ececec" fill-opacity="0.42" stroke="#9a9a9a" stroke-opacity="0.3" stroke-width="0.6"/>
<circle cx="361.4" cy="90.1" r="3.9" fill="#ececec" fill-opacity="0.42" stroke="#9a9a9a" stroke-opacity="0.3" stroke-width="0.6"/>
<circle cx="370.4" cy="126.4" r="2.7" fill="#ececec" fill-opacity="0.42" stroke="#9a9a9a" stroke-opacity="0.3" stroke-width="0.6"/>
<circle cx="376.2" cy="89.2" r="4.4" fill="#ececec" fill-opacity="0.42" stroke="#9a9a9a" stroke-opacity="0.3" stroke-width="0.6"/>
<circle cx="449.4" cy="120.9" r="2.5" fill="#ececec" fill-opacity="0.42" stroke="#9a9a9a" stroke-opacity="0.3" stroke-width="0.6"/>
<circle cx="373.4" cy="130.2" r="3.0" fill="#ececec" fill-opacity="0.42" stroke="#9a9a9a" stroke-opacity="0.3" stroke-width="0.6"/>
<circle cx="404.8" cy="88.6" r="2.5" fill="#ececec" fill-opacity="0.42" stroke="#9a9a9a" stroke-opacity="0.3" stroke-width="0.6"/>
<circle cx="476.6" cy="144.9" r="2.9" fill="#ececec" fill-opacity="0.42" stroke="#9a9a9a" stroke-opacity="0.3" stroke-width="0.6"/>
<circle cx="413.5" cy="60.9" r="3.3" fill="#ececec" fill-opacity="0.42" stroke="#9a9a9a" stroke-opacity="0.3" stroke-width="0.6"/>
<circle cx="400.7" cy="62.2" r="3.2" fill="#ececec" fill-opacity="0.42" stroke="#9a9a9a" stroke-opacity="0.3" stroke-width="0.6"/>
<circle cx="375.9" cy="123.0" r="3.0" fill="#ececec" fill-opacity="0.42" stroke="#9a9a9a" stroke-opacity="0.3" stroke-width="0.6"/>
<circle cx="343.6" cy="133.7" r="3.2" fill="#ececec" fill-opacity="0.42" stroke="#9a9a9a" stroke-opacity="0.3" stroke-width="0.6"/>
<circle cx="468.8" cy="105.9" r="3.9" fill="#ececec" fill-opacity="0.42" stroke="#9a9a9a" stroke-opacity="0.3" stroke-width="0.6"/>
<circle cx="365.7" cy="149.4" r="2.7" fill="#ececec" fill-opacity="0.42" stroke="#9a9a9a" stroke-opacity="0.3" stroke-width="0.6"/>
<circle cx="333.7" cy="28.6" r="3.9" fill="#ececec" fill-opacity="0.42" stroke="#9a9a9a" stroke-opacity="0.3" stroke-width="0.6"/>
<circle cx="429.0" cy="42.7" r="3.3" fill="#ececec" fill-opacity="0.42" stroke="#9a9a9a" stroke-opacity="0.3" stroke-width="0.6"/>
<circle cx="450.6" cy="110.8" r="2.7" fill="#ececec" fill-opacity="0.42" stroke="#9a9a9a" stroke-opacity="0.3" stroke-width="0.6"/>
<circle cx="348.1" cy="38.9" r="2.7" fill="#ececec" fill-opacity="0.42" stroke="#9a9a9a" stroke-opacity="0.3" stroke-width="0.6"/>
<circle cx="378.3" cy="25.0" r="4.3" fill="#ececec" fill-opacity="0.42" stroke="#9a9a9a" stroke-opacity="0.3" stroke-width="0.6"/>
<circle cx="381.7" cy="97.4" r="3.8" fill="#ececec" fill-opacity="0.42" stroke="#9a9a9a" stroke-opacity="0.3" stroke-width="0.6"/>
<circle cx="438.8" cy="148.5" r="3.3" fill="#ececec" fill-opacity="0.42" stroke="#9a9a9a" stroke-opacity="0.3" stroke-width="0.6"/>
<circle cx="365.7" cy="81.0" r="2.5" fill="#ececec" fill-opacity="0.42" stroke="#9a9a9a" stroke-opacity="0.3" stroke-width="0.6"/>
<circle cx="377.3" cy="128.5" r="4.5" fill="#ececec" fill-opacity="0.42" stroke="#9a9a9a" stroke-opacity="0.3" stroke-width="0.6"/>
<circle cx="442.7" cy="121.9" r="3.7" fill="#ececec" fill-opacity="0.42" stroke="#9a9a9a" stroke-opacity="0.3" stroke-width="0.6"/>
<circle cx="313.1" cy="67.6" r="3.2" fill="#ececec" fill-opacity="0.42" stroke="#9a9a9a" stroke-opacity="0.3" stroke-width="0.6"/>
<circle cx="419.3" cy="30.5" r="3.3" fill="#ececec" fill-opacity="0.42" stroke="#9a9a9a" stroke-opacity="0.3" stroke-width="0.6"/>
<circle cx="395.6" cy="143.1" r="4.2" fill="#ececec" fill-opacity="0.42" stroke="#9a9a9a" stroke-opacity="0.3" stroke-width="0.6"/>
<circle cx="412.7" cy="39.1" r="4.0" fill="#ececec" fill-opacity="0.42" stroke="#9a9a9a" stroke-opacity="0.3" stroke-width="0.6"/>
<circle cx="461.7" cy="103.5" r="3.2" fill="#ececec" fill-opacity="0.42" stroke="#9a9a9a" stroke-opacity="0.3" stroke-width="0.6"/>
<circle cx="394.1" cy="36.4" r="3.9" fill="#ececec" fill-opacity="0.42" stroke="#9a9a9a" stroke-opacity="0.3" stroke-width="0.6"/>
<circle cx="475.8" cy="98.1" r="3.9" fill="#ececec" fill-opacity="0.42" stroke="#9a9a9a" stroke-opacity="0.3" stroke-width="0.6"/>
<circle cx="450.4" cy="45.5" r="4.4" fill="#ececec" fill-opacity="0.42" stroke="#9a9a9a" stroke-opacity="0.3" stroke-width="0.6"/>
<circle cx="415.4" cy="45.7" r="2.7" fill="#ececec" fill-opacity="0.42" stroke="#9a9a9a" stroke-opacity="0.3" stroke-width="0.6"/>
<circle cx="351.1" cy="108.1" r="3.9" fill="#ececec" fill-opacity="0.42" stroke="#9a9a9a" stroke-opacity="0.3" stroke-width="0.6"/>
<circle cx="365.3" cy="166.3" r="3.2" fill="#ececec" fill-opacity="0.42" stroke="#9a9a9a" stroke-opacity="0.3" stroke-width="0.6"/>
<circle cx="387.8" cy="33.5" r="4.4" fill="#ececec" fill-opacity="0.42" stroke="#9a9a9a" stroke-opacity="0.3" stroke-width="0.6"/>
<circle cx="332.8" cy="162.2" r="3.6" fill="#ececec" fill-opacity="0.42" stroke="#9a9a9a" stroke-opacity="0.3" stroke-width="0.6"/>
<circle cx="404.2" cy="105.5" r="3.0" fill="#ececec" fill-opacity="0.42" stroke="#9a9a9a" stroke-opacity="0.3" stroke-width="0.6"/>
<circle cx="462.8" cy="176.7" r="4.1" fill="#ececec" fill-opacity="0.42" stroke="#9a9a9a" stroke-opacity="0.3" stroke-width="0.6"/>
<circle cx="411.1" cy="33.2" r="4.1" fill="#ececec" fill-opacity="0.42" stroke="#9a9a9a" stroke-opacity="0.3" stroke-width="0.6"/>
<circle cx="358.5" cy="161.0" r="3.0" fill="#ececec" fill-opacity="0.42" stroke="#9a9a9a" stroke-opacity="0.3" stroke-width="0.6"/>
<circle cx="406.4" cy="150.1" r="2.9" fill="#ececec" fill-opacity="0.42" stroke="#9a9a9a" stroke-opacity="0.3" stroke-width="0.6"/>
<circle cx="402.0" cy="25.6" r="2.6" fill="#ececec" fill-opacity="0.42" stroke="#9a9a9a" stroke-opacity="0.3" stroke-width="0.6"/>
<circle cx="340.3" cy="175.9" r="4.4" fill="#ececec" fill-opacity="0.42" stroke="#9a9a9a" stroke-opacity="0.3" stroke-width="0.6"/>
<circle cx="420.6" cy="63.8" r="3.8" fill="#ececec" fill-opacity="0.42" stroke="#9a9a9a" stroke-opacity="0.3" stroke-width="0.6"/>
<circle cx="433.9" cy="76.0" r="3.7" fill="#ececec" fill-opacity="0.42" stroke="#9a9a9a" stroke-opacity="0.3" stroke-width="0.6"/>
<circle cx="445.0" cy="15.7" r="2.9" fill="#ececec" fill-opacity="0.42" stroke="#9a9a9a" stroke-opacity="0.3" stroke-width="0.6"/>
<circle cx="388.6" cy="36.6" r="3.3" fill="#ececec" fill-opacity="0.42" stroke="#9a9a9a" stroke-opacity="0.3" stroke-width="0.6"/>
<circle cx="405.7" cy="41.7" r="3.5" fill="#ececec" fill-opacity="0.42" stroke="#9a9a9a" stroke-opacity="0.3" stroke-width="0.6"/>
<circle cx="354.3" cy="106.7" r="3.2" fill="#ececec" fill-opacity="0.42" stroke="#9a9a9a" stroke-opacity="0.3" stroke-width="0.6"/>
<circle cx="417.8" cy="19.2" r="3.8" fill="#ececec" fill-opacity="0.42" stroke="#9a9a9a" stroke-opacity="0.3" stroke-width="0.6"/>
<circle cx="334.3" cy="171.3" r="3.7" fill="#ececec" fill-opacity="0.42" stroke="#9a9a9a" stroke-opacity="0.3" stroke-width="0.6"/>
<circle cx="388.9" cy="80.9" r="3.7" fill="#ececec" fill-opacity="0.42" stroke="#9a9a9a" stroke-opacity="0.3" stroke-width="0.6"/>
<circle cx="425.8" cy="138.1" r="4.0" fill="#ececec" fill-opacity="0.42" stroke="#9a9a9a" stroke-opacity="0.3" stroke-width="0.6"/>
<circle cx="391.6" cy="177.1" r="4.2" fill="#ececec" fill-opacity="0.42" stroke="#9a9a9a" stroke-opacity="0.3" stroke-width="0.6"/>
<circle cx="453.6" cy="80.5" r="3.4" fill="#ececec" fill-opacity="0.42" stroke="#9a9a9a" stroke-opacity="0.3" stroke-width="0.6"/>
<circle cx="405.1" cy="162.4" r="3.6" fill="#ececec" fill-opacity="0.42" stroke="#9a9a9a" stroke-opacity="0.3" stroke-width="0.6"/>
<circle cx="398.2" cy="84.3" r="4.3" fill="#ececec" fill-opacity="0.42" stroke="#9a9a9a" stroke-opacity="0.3" stroke-width="0.6"/>
<circle cx="363.9" cy="22.0" r="4.0" fill="#ececec" fill-opacity="0.42" stroke="#9a9a9a" stroke-opacity="0.3" stroke-width="0.6"/>
<circle cx="461.2" cy="133.8" r="3.7" fill="#ececec" fill-opacity="0.42" stroke="#9a9a9a" stroke-opacity="0.3" stroke-width="0.6"/>
<circle cx="436.3" cy="63.3" r="3.7" fill="#ececec" fill-opacity="0.42" stroke="#9a9a9a" stroke-opacity="0.3" stroke-width="0.6"/>
<circle cx="321.7" cy="33.5" r="3.4" fill="#ececec" fill-opacity="0.42" stroke="#9a9a9a" stroke-opacity="0.3" stroke-width="0.6"/>
<circle cx="394.4" cy="78.5" r="2.6" fill="#ececec" fill-opacity="0.42" stroke="#9a9a9a" stroke-opacity="0.3" stroke-width="0.6"/>
<circle cx="426.7" cy="99.8" r="3.0" fill="#ececec" fill-opacity="0.42" stroke="#9a9a9a" stroke-opacity="0.3" stroke-width="0.6"/>
<circle cx="361.5" cy="78.3" r="3.0" fill="#ececec" fill-opacity="0.42" stroke="#9a9a9a" stroke-opacity="0.3" stroke-width="0.6"/>
<circle cx="321.5" cy="163.4" r="4.4" fill="#ececec" fill-opacity="0.42" stroke="#9a9a9a" stroke-opacity="0.3" stroke-width="0.6"/>
<circle cx="421.8" cy="156.0" r="3.3" fill="#ececec" fill-opacity="0.42" stroke="#9a9a9a" stroke-opacity="0.3" stroke-width="0.6"/>
<circle cx="445.3" cy="49.6" r="4.0" fill="#ececec" fill-opacity="0.42" stroke="#9a9a9a" stroke-opacity="0.3" stroke-width="0.6"/>
<circle cx="405.2" cy="162.1" r="2.7" fill="#ececec" fill-opacity="0.42" stroke="#9a9a9a" stroke-opacity="0.3" stroke-width="0.6"/>
<circle cx="443.1" cy="33.4" r="3.6" fill="#ececec" fill-opacity="0.42" stroke="#9a9a9a" stroke-opacity="0.3" stroke-width="0.6"/>
<circle cx="469.8" cy="13.1" r="3.0" fill="#ececec" fill-opacity="0.42" stroke="#9a9a9a" stroke-opacity="0.3" stroke-width="0.6"/>
<circle cx="360.3" cy="66.6" r="2.6" fill="#ececec" fill-opacity="0.42" stroke="#9a9a9a" stroke-opacity="0.3" stroke-width="0.6"/>
<circle cx="460.4" cy="147.5" r="3.3" fill="#ececec" fill-opacity="0.42" stroke="#9a9a9a" stroke-opacity="0.3" stroke-width="0.6"/>
<circle cx="369.9" cy="109.6" r="2.6" fill="#ececec" fill-opacity="0.42" stroke="#9a9a9a" stroke-opacity="0.3" stroke-width="0.6"/>
<circle cx="315.2" cy="161.3" r="3.1" fill="#ececec" fill-opacity="0.42" stroke="#9a9a9a" stroke-opacity="0.3" stroke-width="0.6"/>
<circle cx="393.7" cy="167.1" r="4.5" fill="#ececec" fill-opacity="0.42" stroke="#9a9a9a" stroke-opacity="0.3" stroke-width="0.6"/>
<circle cx="389.4" cy="47.1" r="3.1" fill="#ececec" fill-opacity="0.42" stroke="#9a9a9a" stroke-opacity="0.3" stroke-width="0.6"/>
<circle cx="465.0" cy="161.0" r="2.9" fill="#ececec" fill-opacity="0.42" stroke="#9a9a9a" stroke-opacity="0.3" stroke-width="0.6"/>
<circle cx="450.8" cy="71.4" r="3.4" fill="#ececec" fill-opacity="0.42" stroke="#9a9a9a" stroke-opacity="0.3" stroke-width="0.6"/>
</g>
<circle cx="330.0" cy="22.0" r="3.0" fill="none" stroke="#a8a030" stroke-width="0.8"/>
<circle cx="326.0" cy="30.0" r="2.5" fill="none" stroke="#a8a030" stroke-width="0.8"/>
<circle cx="372.0" cy="45.0" r="3.0" fill="none" stroke="#a8a030" stroke-width="0.8"/>
<circle cx="346.0" cy="86.0" r="2.5" fill="none" stroke="#a8a030" stroke-width="0.8"/>
<circle cx="399.8" cy="64.3" r="3.0" fill="none" stroke="#a8a030" stroke-width="0.8"/>
<circle cx="405.9" cy="70.4" r="2.5" fill="none" stroke="#a8a030" stroke-width="0.8"/>
<circle cx="358.0" cy="112.0" r="3.0" fill="none" stroke="#a8a030" stroke-width="0.8"/>
<circle cx="352.0" cy="128.0" r="2.5" fill="none" stroke="#a8a030" stroke-width="0.8"/>
<circle cx="385.0" cy="100.0" r="2.5" fill="none" stroke="#a8a030" stroke-width="0.8"/>
<circle cx="378.0" cy="168.0" r="3.0" fill="none" stroke="#a8a030" stroke-width="0.8"/>
<circle cx="412.0" cy="168.0" r="2.5" fill="none" stroke="#a8a030" stroke-width="0.8"/>
<circle cx="467.0" cy="60.0" r="2.5" fill="none" stroke="#a8a030" stroke-width="0.8"/>
<circle cx="432.0" cy="30.0" r="2.5" fill="none" stroke="#a8a030" stroke-width="0.8"/>
<circle cx="392.0" cy="82.0" r="2.5" fill="none" stroke="#a8a030" stroke-width="0.8"/>
<circle cx="390.0" cy="72.0" r="2.0" fill="none" stroke="#a8a030" stroke-width="0.8"/>
<polyline points="338.8,40.1 343.8,37.1 345.1,34.0 348.9,29.5 345.0,31.8" fill="none" stroke="#b0a838" stroke-width="0.7"/>
<polyline points="342.8,40.6 346.5,42.7 342.8,44.7 347.2,44.1 343.0,41.4" fill="none" stroke="#b0a838" stroke-width="0.7"/>
<polyline points="342.6,36.1 339.6,32.9 336.9,34.5 339.8,33.2 341.4,37.1" fill="none" stroke="#b0a838" stroke-width="0.7"/>
<polyline points="342.5,33.5 340.5,37.8 342.2,35.5 343.6,31.4 348.4,30.8" fill="none" stroke="#b0a838" stroke-width="0.7"/>
<polyline points="340.8,40.7 336.2,41.7 334.1,39.2 337.1,35.1 335.0,37.7" fill="none" stroke="#b0a838" stroke-width="0.7"/>
<polyline points="332.9,34.7 333.4,31.6 337.3,36.4 332.7,36.1 335.2,34.9" fill="none" stroke="#b0a838" stroke-width="0.7"/>
<polyline points="338.0,55.0 334.8,55.6 336.3,54.2 337.9,57.0 338.0,57.0" fill="none" stroke="#b0a838" stroke-width="0.7"/>
<polyline points="335.7,59.4 335.9,63.9 332.6,66.7 329.3,67.8 326.6,67.2" fill="none" stroke="#b0a838" stroke-width="0.7"/>
<polyline points="333.6,61.9 336.6,59.2 336.4,56.4 337.2,56.4 332.6,57.4" fill="none" stroke="#b0a838" stroke-width="0.7"/>
<polyline points="372.0,61.7 375.7,58.5 372.3,53.7 372.2,53.1 371.6,50.7" fill="none" stroke="#b0a838" stroke-width="0.7"/>
<polyline points="374.4,49.7 378.4,50.4 378.9,53.3 376.2,49.8 374.4,45.2" fill="none" stroke="#b0a838" stroke-width="0.7"/>
<polyline points="360.8,62.9 361.1,60.6 361.9,56.4 365.1,53.2 362.7,49.8" fill="none" stroke="#b0a838" stroke-width="0.7"/>
<polyline points="371.3,87.9 374.2,83.6 373.3,82.2 370.5,86.9 365.9,86.8" fill="none" stroke="#b0a838" stroke-width="0.7"/>
<polyline points="373.3,91.7 369.8,91.2 372.2,86.6 369.6,90.5 366.0,89.4" fill="none" stroke="#b0a838" stroke-width="0.7"/>
<polyline points="360.3,78.2 356.1,73.5 361.1,76.2 363.4,73.5 360.9,74.0" fill="none" stroke="#b0a838" stroke-width="0.7"/>
<polyline points="444.8,39.1 449.1,37.7 447.5,42.5 448.6,37.9 447.6,39.4" fill="none" stroke="#b0a838" stroke-width="0.7"/>
<polyline points="439.6,36.2 441.6,39.9 442.5,43.7 442.1,42.7 445.5,41.5" fill="none" stroke="#b0a838" stroke-width="0.7"/>
<polyline points="459.9,33.2 458.4,30.0 458.8,26.6 455.9,23.8 455.6,21.9" fill="none" stroke="#b0a838" stroke-width="0.7"/>
<polyline points="453.5,63.8 455.3,67.5 452.4,66.3 448.1,68.2 446.7,66.0" fill="none" stroke="#b0a838" stroke-width="0.7"/>
<polyline points="441.5,44.4 439.1,43.3 443.4,45.5 441.1,44.1 437.6,48.4" fill="none" stroke="#b0a838" stroke-width="0.7"/>
<polyline points="451.1,58.4 453.3,62.4 448.5,60.7 447.4,56.5 451.2,54.8" fill="none" stroke="#b0a838" stroke-width="0.7"/>
<polyline points="427.6,64.5 423.1,63.4 420.5,58.8 417.0,59.8 412.3,57.9" fill="none" stroke="#b0a838" stroke-width="0.7"/>
<polyline points="417.9,65.1 414.2,67.1 411.8,69.4 413.5,65.8 410.5,63.7" fill="none" stroke="#b0a838" stroke-width="0.7"/>
<polyline points="426.0,61.7 424.8,65.4 422.1,63.3 420.5,60.5 415.9,55.7" fill="none" stroke="#b0a838" stroke-width="0.7"/>
<polyline points="423.7,79.6 426.7,84.3 424.7,86.0 428.9,83.2 430.8,84.9" fill="none" stroke="#b0a838" stroke-width="0.7"/>
<polyline points="432.7,86.8 430.1,88.2 426.0,87.4 424.9,83.0 423.7,81.3" fill="none" stroke="#b0a838" stroke-width="0.7"/>
<polyline points="419.9,72.7 416.5,71.7 416.3,68.4 417.9,65.8 413.8,64.2" fill="none" stroke="#b0a838" stroke-width="0.7"/>
<polyline points="396.8,115.6 397.7,117.6 398.2,119.6 393.4,118.5 392.1,114.2" fill="none" stroke="#b0a838" stroke-width="0.7"/>
<polyline points="396.3,113.3 396.3,114.2 396.0,112.4 393.5,107.7 392.0,111.6" fill="none" stroke="#b0a838" stroke-width="0.7"/>
<polyline points="400.8,118.3 402.5,115.1 402.2,116.3 406.8,114.9 407.5,119.3" fill="none" stroke="#b0a838" stroke-width="0.7"/>
<polyline points="407.6,161.1 408.8,160.2 408.0,157.9 411.3,161.7 410.1,165.8" fill="none" stroke="#b0a838" stroke-width="0.7"/>
<polyline points="387.1,149.3 387.1,147.3 385.7,152.1 382.2,149.0 379.5,150.8" fill="none" stroke="#b0a838" stroke-width="0.7"/>
<polyline points="392.6,146.0 393.0,145.0 390.4,144.9 391.9,145.4 393.1,146.0" fill="none" stroke="#b0a838" stroke-width="0.7"/>
<polyline points="381.3,133.3 379.6,131.7 383.5,129.9 385.6,131.8 387.5,136.4" fill="none" stroke="#b0a838" stroke-width="0.7"/>
<polyline points="381.1,113.8 382.3,113.7 382.9,112.4 380.8,114.9 381.1,112.3" fill="none" stroke="#b0a838" stroke-width="0.7"/>
<polyline points="365.0,117.8 361.8,117.9 358.0,113.6 353.7,109.6 355.8,105.7" fill="none" stroke="#b0a838" stroke-width="0.7"/>
<g clip-path="url(#pc)">
<path d="M343.3,20.5 Q352.2,24.6 361.0,28.8" fill="none" stroke="#7a7210" stroke-width="2.3" stroke-linecap="round"/>
<path d="M340.2,22.4 Q349.6,26.7 358.9,31.1" fill="none" stroke="#7a7210" stroke-width="2.3" stroke-linecap="round"/>
<path d="M340.4,25.8 Q348.3,30.5 356.9,33.5" fill="none" stroke="#7a7210" stroke-width="2.3" stroke-linecap="round"/>
<path d="M339.6,28.7 Q348.0,32.2 356.1,36.4" fill="none" stroke="#7a7210" stroke-width="2.3" stroke-linecap="round"/>
<path d="M337.0,30.9 Q345.2,35.5 354.0,38.7" fill="none" stroke="#7a7210" stroke-width="2.3" stroke-linecap="round"/>
<path d="M335.1,33.3 Q345.2,37.7 355.0,42.6" fill="none" stroke="#7a7210" stroke-width="2.3" stroke-linecap="round"/>
<path d="M338.5,34.0 Q343.4,37.9 347.4,42.9" fill="none" stroke="#7a7210" stroke-width="2.3" stroke-linecap="round"/>
<path d="M335.2,35.2 Q339.3,40.0 344.1,44.1" fill="none" stroke="#7a7210" stroke-width="2.3" stroke-linecap="round"/>
<path d="M333.7,38.3 Q339.1,43.5 344.4,49.0" fill="none" stroke="#7a7210" stroke-width="2.3" stroke-linecap="round"/>
<path d="M330.0,48.3 Q332.4,55.8 332.7,63.6" fill="none" stroke="#7a7210" stroke-width="2.3" stroke-linecap="round"/>
<path d="M326.4,47.6 Q327.0,53.8 328.6,59.9" fill="none" stroke="#7a7210" stroke-width="2.3" stroke-linecap="round"/>
<path d="M323.3,49.6 Q326.0,57.0 326.0,64.8" fill="none" stroke="#7a7210" stroke-width="2.3" stroke-linecap="round"/>
<path d="M319.9,49.6 Q322.1,57.2 322.6,65.1" fill="none" stroke="#7a7210" stroke-width="2.3" stroke-linecap="round"/>
<path d="M373.2,54.5 Q374.1,62.3 372.7,70.0" fill="none" stroke="#7a7210" stroke-width="2.3" stroke-linecap="round"/>
<path d="M370.4,53.3 Q369.1,61.4 369.9,69.6" fill="none" stroke="#7a7210" stroke-width="2.3" stroke-linecap="round"/>
<path d="M367.7,52.4 Q366.5,59.3 367.2,66.2" fill="none" stroke="#7a7210" stroke-width="2.3" stroke-linecap="round"/>
<path d="M364.8,52.8 Q364.3,59.5 364.4,66.2" fill="none" stroke="#7a7210" stroke-width="2.3" stroke-linecap="round"/>
<path d="M362.1,51.1 Q361.2,59.4 361.5,67.8" fill="none" stroke="#7a7210" stroke-width="2.3" stroke-linecap="round"/>
<path d="M359.2,54.5 Q359.1,61.2 358.7,67.9" fill="none" stroke="#7a7210" stroke-width="2.3" stroke-linecap="round"/>
<path d="M356.2,72.2 Q368.5,76.0 381.3,77.5" fill="none" stroke="#7a7210" stroke-width="2.3" stroke-linecap="round"/>
<path d="M355.1,74.8 Q366.2,75.7 376.7,79.4" fill="none" stroke="#7a7210" stroke-width="2.3" stroke-linecap="round"/>
<path d="M352.5,77.1 Q365.2,79.5 377.7,82.5" fill="none" stroke="#7a7210" stroke-width="2.3" stroke-linecap="round"/>
<path d="M354.1,80.3 Q365.4,82.3 376.6,85.1" fill="none" stroke="#7a7210" stroke-width="2.3" stroke-linecap="round"/>
<path d="M350.9,82.5 Q363.8,83.7 376.0,87.9" fill="none" stroke="#7a7210" stroke-width="2.3" stroke-linecap="round"/>
<path d="M444.5,27.5 Q454.0,32.0 463.0,37.4" fill="none" stroke="#7a7210" stroke-width="2.3" stroke-linecap="round"/>
<path d="M442.9,30.0 Q452.5,36.4 463.3,40.9" fill="none" stroke="#7a7210" stroke-width="2.3" stroke-linecap="round"/>
<path d="M444.8,34.5 Q452.1,38.6 459.6,42.3" fill="none" stroke="#7a7210" stroke-width="2.3" stroke-linecap="round"/>
<path d="M444.0,37.5 Q451.3,41.8 458.9,45.4" fill="none" stroke="#7a7210" stroke-width="2.3" stroke-linecap="round"/>
<path d="M440.8,39.1 Q449.1,42.8 456.8,47.7" fill="none" stroke="#7a7210" stroke-width="2.3" stroke-linecap="round"/>
<path d="M438.1,41.1 Q447.8,47.4 458.5,51.9" fill="none" stroke="#7a7210" stroke-width="2.3" stroke-linecap="round"/>
<path d="M455.6,45.0 Q458.4,51.4 463.5,56.2" fill="none" stroke="#7a7210" stroke-width="2.3" stroke-linecap="round"/>
<path d="M451.2,44.0 Q455.6,49.5 459.3,55.5" fill="none" stroke="#7a7210" stroke-width="2.3" stroke-linecap="round"/>
<path d="M449.5,46.7 Q455.0,52.1 458.2,59.1" fill="none" stroke="#7a7210" stroke-width="2.3" stroke-linecap="round"/>
<path d="M447.0,48.5 Q450.3,54.6 455.0,59.8" fill="none" stroke="#7a7210" stroke-width="2.3" stroke-linecap="round"/>
<path d="M409.7,58.9 Q421.5,60.6 433.4,61.0" fill="none" stroke="#7a7210" stroke-width="2.3" stroke-linecap="round"/>
<path d="M410.2,61.7 Q420.2,63.1 430.3,63.5" fill="none" stroke="#7a7210" stroke-width="2.3" stroke-linecap="round"/>
<path d="M407.5,64.3 Q419.7,66.4 432.1,66.5" fill="none" stroke="#7a7210" stroke-width="2.3" stroke-linecap="round"/>
<path d="M411.4,67.5 Q421.4,66.9 431.1,69.2" fill="none" stroke="#7a7210" stroke-width="2.3" stroke-linecap="round"/>
<path d="M424.4,68.5 Q425.1,76.4 427.2,84.1" fill="none" stroke="#7a7210" stroke-width="2.3" stroke-linecap="round"/>
<path d="M421.5,69.4 Q423.6,78.6 424.8,88.0" fill="none" stroke="#7a7210" stroke-width="2.3" stroke-linecap="round"/>
<path d="M418.3,68.5 Q421.1,77.0 421.4,86.0" fill="none" stroke="#7a7210" stroke-width="2.3" stroke-linecap="round"/>
<path d="M415.3,68.6 Q417.3,76.8 418.2,85.3" fill="none" stroke="#7a7210" stroke-width="2.3" stroke-linecap="round"/>
<path d="M412.4,69.3 Q414.9,77.1 415.2,85.2" fill="none" stroke="#7a7210" stroke-width="2.3" stroke-linecap="round"/>
<path d="M403.9,108.5 Q406.9,121.6 407.6,135.0" fill="none" stroke="#7a7210" stroke-width="2.3" stroke-linecap="round"/>
<path d="M401.3,110.2 Q404.4,122.0 404.7,134.1" fill="none" stroke="#7a7210" stroke-width="2.3" stroke-linecap="round"/>
<path d="M398.6,110.9 Q400.9,123.3 402.1,135.9" fill="none" stroke="#7a7210" stroke-width="2.3" stroke-linecap="round"/>
<path d="M395.8,111.3 Q399.2,125.0 399.7,139.1" fill="none" stroke="#7a7210" stroke-width="2.3" stroke-linecap="round"/>
<path d="M393.3,113.9 Q396.1,125.4 396.6,137.3" fill="none" stroke="#7a7210" stroke-width="2.3" stroke-linecap="round"/>
<path d="M390.6,114.6 Q393.2,126.7 394.0,139.0" fill="none" stroke="#7a7210" stroke-width="2.3" stroke-linecap="round"/>
<path d="M388.0,153.1 Q400.8,152.3 413.3,149.6" fill="none" stroke="#7a7210" stroke-width="2.3" stroke-linecap="round"/>
<path d="M389.0,155.6 Q401.2,153.4 413.5,152.2" fill="none" stroke="#7a7210" stroke-width="2.3" stroke-linecap="round"/>
<path d="M387.3,158.5 Q399.7,155.2 412.6,154.9" fill="none" stroke="#7a7210" stroke-width="2.3" stroke-linecap="round"/>
<path d="M387.6,161.1 Q399.8,159.8 411.8,157.7" fill="none" stroke="#7a7210" stroke-width="2.3" stroke-linecap="round"/>
<path d="M387.9,163.6 Q399.9,161.8 412.0,160.3" fill="none" stroke="#7a7210" stroke-width="2.3" stroke-linecap="round"/>
<path d="M388.8,166.1 Q401.0,164.6 413.0,162.7" fill="none" stroke="#7a7210" stroke-width="2.3" stroke-linecap="round"/>
<path d="M370.2,115.9 Q374.5,120.5 379.8,124.0" fill="none" stroke="#7a7210" stroke-width="2.3" stroke-linecap="round"/>
<path d="M365.9,116.9 Q372.0,121.5 377.6,126.7" fill="none" stroke="#7a7210" stroke-width="2.3" stroke-linecap="round"/>
<path d="M364.6,120.4 Q370.8,123.7 375.2,129.2" fill="none" stroke="#7a7210" stroke-width="2.3" stroke-linecap="round"/>
<path d="M347.0,35.1 Q348.7,37.3 351.9,39.1" fill="none" stroke="#7a7210" stroke-width="2.1" stroke-linecap="round"/>
<path d="M333.6,39.4 Q337.3,43.6 341.9,44.8" fill="none" stroke="#7a7210" stroke-width="2.1" stroke-linecap="round"/>
<path d="M347.3,54.1 Q350.1,55.0 350.5,58.7" fill="none" stroke="#7a7210" stroke-width="2.1" stroke-linecap="round"/>
<path d="M356.1,42.9 Q354.4,49.4 356.1,52.9" fill="none" stroke="#7a7210" stroke-width="2.1" stroke-linecap="round"/>
<path d="M338.7,33.1 Q341.3,34.8 344.4,36.6" fill="none" stroke="#7a7210" stroke-width="2.1" stroke-linecap="round"/>
<path d="M342.2,17.8 Q346.2,21.4 348.2,21.9" fill="none" stroke="#7a7210" stroke-width="2.1" stroke-linecap="round"/>
<path d="M349.9,53.8 Q355.0,50.3 357.6,49.5" fill="none" stroke="#7a7210" stroke-width="2.1" stroke-linecap="round"/>
<path d="M335.8,23.7 Q342.4,23.5 345.3,25.5" fill="none" stroke="#7a7210" stroke-width="2.1" stroke-linecap="round"/>
<path d="M336.3,17.5 Q340.0,18.6 340.4,23.1" fill="none" stroke="#7a7210" stroke-width="2.1" stroke-linecap="round"/>
<path d="M331.5,33.7 Q337.1,32.3 340.9,33.3" fill="none" stroke="#7a7210" stroke-width="2.1" stroke-linecap="round"/>
<path d="M353.4,49.3 Q353.8,52.4 356.6,57.9" fill="none" stroke="#7a7210" stroke-width="2.1" stroke-linecap="round"/>
<path d="M331.0,31.3 Q332.6,31.1 336.0,32.8" fill="none" stroke="#7a7210" stroke-width="2.1" stroke-linecap="round"/>
<path d="M351.8,33.9 Q353.6,36.2 353.4,39.6" fill="none" stroke="#7a7210" stroke-width="2.1" stroke-linecap="round"/>
<path d="M360.7,32.4 Q362.2,33.2 365.5,35.0" fill="none" stroke="#7a7210" stroke-width="2.1" stroke-linecap="round"/>
<path d="M342.3,32.6 Q345.3,34.6 346.7,38.8" fill="none" stroke="#7a7210" stroke-width="2.1" stroke-linecap="round"/>
<path d="M326.2,31.4 Q329.0,31.3 332.0,33.6" fill="none" stroke="#7a7210" stroke-width="2.1" stroke-linecap="round"/>
<path d="M349.8,36.6 Q352.2,38.9 355.0,37.5" fill="none" stroke="#7a7210" stroke-width="2.1" stroke-linecap="round"/>
<path d="M358.1,23.1 Q361.0,26.8 363.2,27.6" fill="none" stroke="#7a7210" stroke-width="2.1" stroke-linecap="round"/>
<path d="M344.9,29.2 Q347.8,31.2 350.4,36.5" fill="none" stroke="#7a7210" stroke-width="2.1" stroke-linecap="round"/>
<path d="M331.8,22.6 Q336.2,23.3 338.7,22.5" fill="none" stroke="#7a7210" stroke-width="2.1" stroke-linecap="round"/>
<path d="M356.1,49.5 Q358.2,51.5 360.2,53.7" fill="none" stroke="#7a7210" stroke-width="2.1" stroke-linecap="round"/>
<path d="M340.4,53.2 Q346.3,55.8 348.2,59.3" fill="none" stroke="#7a7210" stroke-width="2.1" stroke-linecap="round"/>
<path d="M347.0,45.7 Q349.2,50.6 352.1,54.2" fill="none" stroke="#7a7210" stroke-width="2.1" stroke-linecap="round"/>
<path d="M344.1,39.1 Q348.2,41.7 349.6,44.2" fill="none" stroke="#7a7210" stroke-width="2.1" stroke-linecap="round"/>
<path d="M361.8,28.1 Q365.7,27.4 367.6,28.7" fill="none" stroke="#7a7210" stroke-width="2.1" stroke-linecap="round"/>
<path d="M337.0,47.6 Q339.2,46.9 344.1,47.3" fill="none" stroke="#7a7210" stroke-width="2.1" stroke-linecap="round"/>
<path d="M329.6,20.8 Q334.5,21.1 337.0,23.0" fill="none" stroke="#7a7210" stroke-width="2.1" stroke-linecap="round"/>
<path d="M355.3,23.7 Q358.8,25.2 360.9,26.5" fill="none" stroke="#7a7210" stroke-width="2.1" stroke-linecap="round"/>
<path d="M332.1,40.3 Q333.9,41.2 337.9,42.6" fill="none" stroke="#7a7210" stroke-width="2.1" stroke-linecap="round"/>
<path d="M351.7,24.8 Q353.6,27.5 358.1,29.3" fill="none" stroke="#7a7210" stroke-width="2.1" stroke-linecap="round"/>
<path d="M364.2,43.4 Q366.4,46.5 366.7,47.8" fill="none" stroke="#7a7210" stroke-width="2.1" stroke-linecap="round"/>
<path d="M335.0,35.2 Q336.0,40.3 337.0,42.0" fill="none" stroke="#7a7210" stroke-width="2.1" stroke-linecap="round"/>
<path d="M344.1,50.2 Q345.6,49.5 349.0,51.9" fill="none" stroke="#7a7210" stroke-width="2.1" stroke-linecap="round"/>
<path d="M338.7,31.9 Q343.6,36.1 345.4,36.7" fill="none" stroke="#7a7210" stroke-width="2.1" stroke-linecap="round"/>
<path d="M327.4,31.1 Q328.8,33.1 333.5,32.6" fill="none" stroke="#7a7210" stroke-width="2.1" stroke-linecap="round"/>
<path d="M340.9,30.7 Q342.5,33.2 347.8,32.9" fill="none" stroke="#7a7210" stroke-width="2.1" stroke-linecap="round"/>
<path d="M334.3,24.9 Q337.4,25.5 338.8,29.8" fill="none" stroke="#7a7210" stroke-width="2.1" stroke-linecap="round"/>
<path d="M349.3,27.1 Q353.6,24.5 358.0,25.7" fill="none" stroke="#7a7210" stroke-width="2.1" stroke-linecap="round"/>
<path d="M355.8,25.5 Q361.7,27.5 363.9,27.9" fill="none" stroke="#7a7210" stroke-width="2.1" stroke-linecap="round"/>
<path d="M329.2,38.0 Q329.7,38.3 332.8,41.8" fill="none" stroke="#7a7210" stroke-width="2.1" stroke-linecap="round"/>
<path d="M339.8,23.3 Q343.6,20.8 348.2,20.1" fill="none" stroke="#7a7210" stroke-width="2.1" stroke-linecap="round"/>
<path d="M331.6,23.9 Q332.3,24.5 335.0,28.9" fill="none" stroke="#7a7210" stroke-width="2.1" stroke-linecap="round"/>
<path d="M351.9,52.2 Q351.1,56.6 353.9,60.1" fill="none" stroke="#7a7210" stroke-width="2.1" stroke-linecap="round"/>
<path d="M334.2,23.0 Q337.6,26.9 340.0,29.3" fill="none" stroke="#7a7210" stroke-width="2.1" stroke-linecap="round"/>
<path d="M355.5,38.6 Q353.5,43.9 355.0,47.0" fill="none" stroke="#7a7210" stroke-width="2.1" stroke-linecap="round"/>
<path d="M358.6,28.7 Q363.4,31.6 366.7,32.2" fill="none" stroke="#7a7210" stroke-width="2.1" stroke-linecap="round"/>
<path d="M333.9,39.5 Q335.4,42.2 335.6,44.5" fill="none" stroke="#7a7210" stroke-width="2.1" stroke-linecap="round"/>
<path d="M354.6,37.2 Q356.9,39.5 358.0,44.9" fill="none" stroke="#7a7210" stroke-width="2.1" stroke-linecap="round"/>
<path d="M332.9,21.6 Q334.0,23.2 336.9,25.7" fill="none" stroke="#7a7210" stroke-width="2.1" stroke-linecap="round"/>
<path d="M352.8,40.3 Q357.3,41.8 359.4,43.3" fill="none" stroke="#7a7210" stroke-width="2.1" stroke-linecap="round"/>
<path d="M325.5,35.0 Q327.8,34.3 331.2,36.4" fill="none" stroke="#7a7210" stroke-width="2.1" stroke-linecap="round"/>
<path d="M334.8,42.9 Q338.5,44.7 342.7,45.8" fill="none" stroke="#7a7210" stroke-width="2.1" stroke-linecap="round"/>
<path d="M338.1,35.5 Q341.0,37.5 342.3,41.6" fill="none" stroke="#7a7210" stroke-width="2.1" stroke-linecap="round"/>
<path d="M341.0,29.9 Q345.0,32.3 345.6,32.3" fill="none" stroke="#7a7210" stroke-width="2.1" stroke-linecap="round"/>
<path d="M336.4,40.2 Q341.9,42.0 343.5,40.5" fill="none" stroke="#7a7210" stroke-width="2.1" stroke-linecap="round"/>
<path d="M347.7,21.4 Q351.1,22.4 353.6,21.9" fill="none" stroke="#7a7210" stroke-width="2.1" stroke-linecap="round"/>
<path d="M351.3,42.5 Q356.7,45.0 358.5,45.4" fill="none" stroke="#7a7210" stroke-width="2.1" stroke-linecap="round"/>
<path d="M324.5,36.2 Q325.5,38.4 328.9,40.4" fill="none" stroke="#7a7210" stroke-width="2.1" stroke-linecap="round"/>
<path d="M345.2,21.9 Q345.4,24.1 346.6,27.7" fill="none" stroke="#7a7210" stroke-width="2.1" stroke-linecap="round"/>
<path d="M330.5,42.7 Q327.9,45.7 327.1,50.7" fill="none" stroke="#7a7210" stroke-width="2.1" stroke-linecap="round"/>
<path d="M334.8,62.5 Q333.7,67.5 336.3,70.2" fill="none" stroke="#7a7210" stroke-width="2.1" stroke-linecap="round"/>
<path d="M329.9,51.9 Q329.9,55.0 329.6,61.0" fill="none" stroke="#7a7210" stroke-width="2.1" stroke-linecap="round"/>
<path d="M321.4,62.1 Q325.2,63.9 326.8,67.6" fill="none" stroke="#7a7210" stroke-width="2.1" stroke-linecap="round"/>
<path d="M319.6,59.8 Q323.5,61.6 327.1,63.4" fill="none" stroke="#7a7210" stroke-width="2.1" stroke-linecap="round"/>
<path d="M320.9,58.4 Q323.8,60.6 328.0,65.0" fill="none" stroke="#7a7210" stroke-width="2.1" stroke-linecap="round"/>
<path d="M340.9,61.2 Q340.3,66.1 342.8,70.5" fill="none" stroke="#7a7210" stroke-width="2.1" stroke-linecap="round"/>
<path d="M330.7,52.7 Q329.4,54.1 326.8,58.3" fill="none" stroke="#7a7210" stroke-width="2.1" stroke-linecap="round"/>
<path d="M314.3,64.0 Q312.8,68.2 308.5,70.0" fill="none" stroke="#7a7210" stroke-width="2.1" stroke-linecap="round"/>
<path d="M330.0,60.6 Q328.5,66.0 326.1,68.0" fill="none" stroke="#7a7210" stroke-width="2.1" stroke-linecap="round"/>
<path d="M321.2,54.3 Q322.4,58.4 320.1,59.4" fill="none" stroke="#7a7210" stroke-width="2.1" stroke-linecap="round"/>
<path d="M332.4,51.1 Q335.9,55.8 335.7,56.9" fill="none" stroke="#7a7210" stroke-width="2.1" stroke-linecap="round"/>
<path d="M326.5,49.6 Q331.0,51.1 334.1,51.7" fill="none" stroke="#7a7210" stroke-width="2.1" stroke-linecap="round"/>
<path d="M336.8,54.3 Q333.4,57.5 333.1,62.4" fill="none" stroke="#7a7210" stroke-width="2.1" stroke-linecap="round"/>
<path d="M328.1,64.2 Q326.5,68.3 322.8,70.0" fill="none" stroke="#7a7210" stroke-width="2.1" stroke-linecap="round"/>
<path d="M314.3,59.5 Q315.1,61.1 317.0,65.0" fill="none" stroke="#7a7210" stroke-width="2.1" stroke-linecap="round"/>
<path d="M324.6,55.3 Q323.8,59.8 324.3,62.9" fill="none" stroke="#7a7210" stroke-width="2.1" stroke-linecap="round"/>
<path d="M316.1,65.5 Q316.2,67.9 316.6,72.5" fill="none" stroke="#7a7210" stroke-width="2.1" stroke-linecap="round"/>
<path d="M321.7,54.1 Q321.4,58.4 320.4,62.0" fill="none" stroke="#7a7210" stroke-width="2.1" stroke-linecap="round"/>
<path d="M338.5,66.5 Q340.4,70.2 340.5,72.4" fill="none" stroke="#7a7210" stroke-width="2.1" stroke-linecap="round"/>
<path d="M340.3,58.7 Q338.2,61.9 338.1,67.3" fill="none" stroke="#7a7210" stroke-width="2.1" stroke-linecap="round"/>
<path d="M338.7,59.4 Q340.0,65.6 338.6,67.7" fill="none" stroke="#7a7210" stroke-width="2.1" stroke-linecap="round"/>
<path d="M321.0,67.7 Q322.4,70.5 321.6,74.4" fill="none" stroke="#7a7210" stroke-width="2.1" stroke-linecap="round"/>
<path d="M315.4,63.6 Q311.5,63.4 311.2,66.9" fill="none" stroke="#7a7210" stroke-width="2.1" stroke-linecap="round"/>
<path d="M364.2,62.4 Q365.5,62.6 369.5,62.9" fill="none" stroke="#7a7210" stroke-width="2.1" stroke-linecap="round"/>
<path d="M385.5,73.7 Q390.8,75.8 392.5,80.4" fill="none" stroke="#7a7210" stroke-width="2.1" stroke-linecap="round"/>
<path d="M376.0,68.0 Q380.5,72.2 381.9,75.1" fill="none" stroke="#7a7210" stroke-width="2.1" stroke-linecap="round"/>
<path d="M362.2,60.7 Q363.8,61.5 367.9,63.4" fill="none" stroke="#7a7210" stroke-width="2.1" stroke-linecap="round"/>
<path d="M349.5,63.4 Q352.5,64.3 357.2,64.9" fill="none" stroke="#7a7210" stroke-width="2.1" stroke-linecap="round"/>
<path d="M360.1,80.9 Q360.2,85.0 364.2,85.7" fill="none" stroke="#7a7210" stroke-width="2.1" stroke-linecap="round"/>
<path d="M367.7,63.4 Q370.6,64.7 373.0,67.5" fill="none" stroke="#7a7210" stroke-width="2.1" stroke-linecap="round"/>
<path d="M362.4,75.4 Q368.8,77.1 371.6,74.9" fill="none" stroke="#7a7210" stroke-width="2.1" stroke-linecap="round"/>
<path d="M361.6,74.7 Q364.4,74.1 368.9,77.2" fill="none" stroke="#7a7210" stroke-width="2.1" stroke-linecap="round"/>
<path d="M377.8,67.7 Q380.1,69.4 382.4,69.8" fill="none" stroke="#7a7210" stroke-width="2.1" stroke-linecap="round"/>
<path d="M355.0,80.9 Q357.4,83.4 358.3,88.0" fill="none" stroke="#7a7210" stroke-width="2.1" stroke-linecap="round"/>
<path d="M357.9,66.7 Q362.7,65.7 367.1,65.0" fill="none" stroke="#7a7210" stroke-width="2.1" stroke-linecap="round"/>
<path d="M385.2,78.2 Q389.9,79.8 393.6,78.2" fill="none" stroke="#7a7210" stroke-width="2.1" stroke-linecap="round"/>
<path d="M349.8,69.2 Q355.6,69.1 359.6,71.1" fill="none" stroke="#7a7210" stroke-width="2.1" stroke-linecap="round"/>
<path d="M359.2,77.6 Q362.6,79.9 364.8,81.1" fill="none" stroke="#7a7210" stroke-width="2.1" stroke-linecap="round"/>
<path d="M357.7,72.8 Q359.8,73.5 363.0,78.2" fill="none" stroke="#7a7210" stroke-width="2.1" stroke-linecap="round"/>
<path d="M360.6,71.7 Q365.5,69.9 369.8,71.6" fill="none" stroke="#7a7210" stroke-width="2.1" stroke-linecap="round"/>
<path d="M365.0,72.5 Q368.0,73.3 371.5,77.5" fill="none" stroke="#7a7210" stroke-width="2.1" stroke-linecap="round"/>
<path d="M350.6,79.1 Q354.1,81.6 359.5,80.8" fill="none" stroke="#7a7210" stroke-width="2.1" stroke-linecap="round"/>
<path d="M348.3,64.1 Q348.0,65.8 350.5,68.9" fill="none" stroke="#7a7210" stroke-width="2.1" stroke-linecap="round"/>
<path d="M366.3,68.6 Q367.5,71.8 370.9,72.4" fill="none" stroke="#7a7210" stroke-width="2.1" stroke-linecap="round"/>
<path d="M371.0,83.6 Q373.3,87.3 378.1,88.4" fill="none" stroke="#7a7210" stroke-width="2.1" stroke-linecap="round"/>
<path d="M372.3,74.1 Q376.4,71.4 379.2,69.6" fill="none" stroke="#7a7210" stroke-width="2.1" stroke-linecap="round"/>
<path d="M351.6,62.1 Q355.2,63.1 358.0,61.9" fill="none" stroke="#7a7210" stroke-width="2.1" stroke-linecap="round"/>
<path d="M346.5,74.9 Q350.3,77.3 351.1,77.5" fill="none" stroke="#7a7210" stroke-width="2.1" stroke-linecap="round"/>
<path d="M364.7,86.4 Q368.1,83.5 372.7,84.5" fill="none" stroke="#7a7210" stroke-width="2.1" stroke-linecap="round"/>
<path d="M361.4,86.6 Q364.8,85.9 367.3,88.3" fill="none" stroke="#7a7210" stroke-width="2.1" stroke-linecap="round"/>
<path d="M367.1,68.0 Q370.6,71.4 372.6,71.3" fill="none" stroke="#7a7210" stroke-width="2.1" stroke-linecap="round"/>
<path d="M360.7,58.3 Q362.4,60.7 363.8,62.4" fill="none" stroke="#7a7210" stroke-width="2.1" stroke-linecap="round"/>
<path d="M359.2,64.8 Q364.4,65.4 366.8,65.7" fill="none" stroke="#7a7210" stroke-width="2.1" stroke-linecap="round"/>
<path d="M376.3,76.8 Q381.1,77.1 382.5,78.5" fill="none" stroke="#7a7210" stroke-width="2.1" stroke-linecap="round"/>
<path d="M360.5,58.8 Q364.9,59.0 365.8,58.2" fill="none" stroke="#7a7210" stroke-width="2.1" stroke-linecap="round"/>
<path d="M346.7,66.0 Q349.1,69.0 352.1,71.0" fill="none" stroke="#7a7210" stroke-width="2.1" stroke-linecap="round"/>
<path d="M384.0,78.1 Q386.9,75.5 393.6,76.3" fill="none" stroke="#7a7210" stroke-width="2.1" stroke-linecap="round"/>
<path d="M349.0,70.3 Q353.0,71.1 355.3,70.2" fill="none" stroke="#7a7210" stroke-width="2.1" stroke-linecap="round"/>
<path d="M352.4,78.6 Q356.6,81.5 357.1,80.8" fill="none" stroke="#7a7210" stroke-width="2.1" stroke-linecap="round"/>
<path d="M353.2,75.7 Q355.1,76.6 360.0,78.0" fill="none" stroke="#7a7210" stroke-width="2.1" stroke-linecap="round"/>
<path d="M379.7,69.2 Q383.6,69.0 388.3,72.1" fill="none" stroke="#7a7210" stroke-width="2.1" stroke-linecap="round"/>
<path d="M367.5,59.0 Q367.9,61.4 369.1,64.1" fill="none" stroke="#7a7210" stroke-width="2.1" stroke-linecap="round"/>
<path d="M353.9,62.3 Q356.8,67.0 356.4,70.6" fill="none" stroke="#7a7210" stroke-width="2.1" stroke-linecap="round"/>
<path d="M358.3,62.8 Q363.0,63.2 367.5,64.4" fill="none" stroke="#7a7210" stroke-width="2.1" stroke-linecap="round"/>
<path d="M383.9,68.7 Q384.9,70.8 388.2,71.6" fill="none" stroke="#7a7210" stroke-width="2.1" stroke-linecap="round"/>
<path d="M364.3,67.2 Q367.5,68.3 371.5,71.0" fill="none" stroke="#7a7210" stroke-width="2.1" stroke-linecap="round"/>
<path d="M363.2,71.7 Q369.4,72.7 372.4,69.8" fill="none" stroke="#7a7210" stroke-width="2.1" stroke-linecap="round"/>
<path d="M354.8,62.1 Q358.9,65.6 362.2,65.2" fill="none" stroke="#7a7210" stroke-width="2.1" stroke-linecap="round"/>
<path d="M360.9,76.6 Q365.7,77.0 366.7,78.6" fill="none" stroke="#7a7210" stroke-width="2.1" stroke-linecap="round"/>
<path d="M357.6,81.3 Q360.4,78.5 363.9,79.0" fill="none" stroke="#7a7210" stroke-width="2.1" stroke-linecap="round"/>
<path d="M353.3,66.8 Q355.6,70.0 361.4,72.6" fill="none" stroke="#7a7210" stroke-width="2.1" stroke-linecap="round"/>
<path d="M466.7,47.4 Q467.2,52.4 466.0,55.3" fill="none" stroke="#7a7210" stroke-width="2.1" stroke-linecap="round"/>
<path d="M450.5,40.4 Q452.0,39.7 456.3,42.8" fill="none" stroke="#7a7210" stroke-width="2.1" stroke-linecap="round"/>
<path d="M443.4,48.0 Q447.3,49.0 453.0,49.4" fill="none" stroke="#7a7210" stroke-width="2.1" stroke-linecap="round"/>
<path d="M471.7,47.6 Q475.1,52.6 478.6,54.3" fill="none" stroke="#7a7210" stroke-width="2.1" stroke-linecap="round"/>
<path d="M468.8,34.0 Q471.3,34.4 474.1,34.3" fill="none" stroke="#7a7210" stroke-width="2.1" stroke-linecap="round"/>
<path d="M445.3,60.9 Q447.2,63.6 450.8,64.8" fill="none" stroke="#7a7210" stroke-width="2.1" stroke-linecap="round"/>
<path d="M456.7,31.5 Q459.2,33.5 464.5,34.9" fill="none" stroke="#7a7210" stroke-width="2.1" stroke-linecap="round"/>
<path d="M442.7,29.7 Q446.9,34.6 448.1,36.1" fill="none" stroke="#7a7210" stroke-width="2.1" stroke-linecap="round"/>
<path d="M463.0,57.3 Q463.3,57.5 466.0,61.5" fill="none" stroke="#7a7210" stroke-width="2.1" stroke-linecap="round"/>
<path d="M455.0,62.9 Q457.2,65.6 460.6,65.2" fill="none" stroke="#7a7210" stroke-width="2.1" stroke-linecap="round"/>
<path d="M459.6,58.1 Q463.8,58.9 464.7,57.4" fill="none" stroke="#7a7210" stroke-width="2.1" stroke-linecap="round"/>
<path d="M445.7,62.8 Q446.6,66.7 450.3,66.9" fill="none" stroke="#7a7210" stroke-width="2.1" stroke-linecap="round"/>
<path d="M453.4,63.2 Q453.0,66.4 455.0,68.8" fill="none" stroke="#7a7210" stroke-width="2.1" stroke-linecap="round"/>
<path d="M450.7,47.0 Q454.8,49.0 456.0,51.2" fill="none" stroke="#7a7210" stroke-width="2.1" stroke-linecap="round"/>
<path d="M440.7,45.7 Q444.0,44.4 445.8,46.7" fill="none" stroke="#7a7210" stroke-width="2.1" stroke-linecap="round"/>
<path d="M453.3,47.7 Q456.6,50.5 456.0,52.5" fill="none" stroke="#7a7210" stroke-width="2.1" stroke-linecap="round"/>
<path d="M449.7,29.5 Q453.6,31.6 455.9,35.1" fill="none" stroke="#7a7210" stroke-width="2.1" stroke-linecap="round"/>
<path d="M469.0,40.4 Q472.8,41.1 473.2,43.3" fill="none" stroke="#7a7210" stroke-width="2.1" stroke-linecap="round"/>
<path d="M462.3,38.1 Q465.9,39.6 466.7,41.5" fill="none" stroke="#7a7210" stroke-width="2.1" stroke-linecap="round"/>
<path d="M443.6,39.0 Q445.0,44.3 446.7,47.9" fill="none" stroke="#7a7210" stroke-width="2.1" stroke-linecap="round"/>
<path d="M454.0,38.4 Q457.6,38.4 461.5,38.2" fill="none" stroke="#7a7210" stroke-width="2.1" stroke-linecap="round"/>
<path d="M469.5,43.9 Q470.9,43.9 475.9,44.3" fill="none" stroke="#7a7210" stroke-width="2.1" stroke-linecap="round"/>
<path d="M436.0,50.0 Q438.9,54.8 440.4,58.1" fill="none" stroke="#7a7210" stroke-width="2.1" stroke-linecap="round"/>
<path d="M460.5,34.7 Q463.3,33.3 468.4,35.0" fill="none" stroke="#7a7210" stroke-width="2.1" stroke-linecap="round"/>
<path d="M467.1,55.4 Q470.0,56.0 474.5,53.7" fill="none" stroke="#7a7210" stroke-width="2.1" stroke-linecap="round"/>
<path d="M438.9,56.5 Q440.8,61.1 440.4,64.0" fill="none" stroke="#7a7210" stroke-width="2.1" stroke-linecap="round"/>
<path d="M440.8,59.5 Q442.6,64.2 443.7,68.6" fill="none" stroke="#7a7210" stroke-width="2.1" stroke-linecap="round"/>
<path d="M464.2,34.6 Q464.4,37.8 466.8,41.5" fill="none" stroke="#7a7210" stroke-width="2.1" stroke-linecap="round"/>
<path d="M463.9,56.7 Q467.3,58.9 468.9,57.6" fill="none" stroke="#7a7210" stroke-width="2.1" stroke-linecap="round"/>
<path d="M438.1,56.1 Q438.6,60.9 441.1,63.3" fill="none" stroke="#7a7210" stroke-width="2.1" stroke-linecap="round"/>
<path d="M453.7,26.8 Q456.3,30.6 457.1,32.6" fill="none" stroke="#7a7210" stroke-width="2.1" stroke-linecap="round"/>
<path d="M452.3,55.0 Q458.1,55.3 461.4,52.4" fill="none" stroke="#7a7210" stroke-width="2.1" stroke-linecap="round"/>
<path d="M441.3,42.0 Q446.6,38.1 448.3,37.9" fill="none" stroke="#7a7210" stroke-width="2.1" stroke-linecap="round"/>
<path d="M439.1,52.8 Q442.9,53.6 447.4,53.3" fill="none" stroke="#7a7210" stroke-width="2.1" stroke-linecap="round"/>
<path d="M451.5,31.0 Q454.4,33.5 456.0,39.5" fill="none" stroke="#7a7210" stroke-width="2.1" stroke-linecap="round"/>
<path d="M462.7,44.0 Q467.5,46.9 471.3,48.5" fill="none" stroke="#7a7210" stroke-width="2.1" stroke-linecap="round"/>
<path d="M445.3,48.9 Q447.0,50.3 452.2,51.8" fill="none" stroke="#7a7210" stroke-width="2.1" stroke-linecap="round"/>
<path d="M448.5,27.7 Q451.5,27.7 454.0,28.7" fill="none" stroke="#7a7210" stroke-width="2.1" stroke-linecap="round"/>
<path d="M455.7,50.7 Q455.0,54.0 458.2,56.1" fill="none" stroke="#7a7210" stroke-width="2.1" stroke-linecap="round"/>
<path d="M462.2,36.5 Q466.1,36.3 467.1,39.7" fill="none" stroke="#7a7210" stroke-width="2.1" stroke-linecap="round"/>
<path d="M457.0,32.2 Q459.8,32.3 463.6,35.1" fill="none" stroke="#7a7210" stroke-width="2.1" stroke-linecap="round"/>
<path d="M472.1,38.9 Q475.8,40.3 476.5,42.7" fill="none" stroke="#7a7210" stroke-width="2.1" stroke-linecap="round"/>
<path d="M469.0,36.2 Q473.6,39.4 474.4,40.2" fill="none" stroke="#7a7210" stroke-width="2.1" stroke-linecap="round"/>
<path d="M447.5,28.6 Q450.0,29.6 451.3,33.2" fill="none" stroke="#7a7210" stroke-width="2.1" stroke-linecap="round"/>
<path d="M456.8,60.8 Q458.7,64.3 461.6,66.0" fill="none" stroke="#7a7210" stroke-width="2.1" stroke-linecap="round"/>
<path d="M451.3,40.8 Q453.0,39.7 456.1,42.6" fill="none" stroke="#7a7210" stroke-width="2.1" stroke-linecap="round"/>
<path d="M469.5,44.2 Q473.2,44.1 475.5,46.7" fill="none" stroke="#7a7210" stroke-width="2.1" stroke-linecap="round"/>
<path d="M438.6,41.0 Q443.4,40.9 444.1,44.0" fill="none" stroke="#7a7210" stroke-width="2.1" stroke-linecap="round"/>
<path d="M442.4,53.8 Q443.4,59.3 447.4,61.0" fill="none" stroke="#7a7210" stroke-width="2.1" stroke-linecap="round"/>
<path d="M447.1,48.5 Q452.4,51.3 454.6,51.0" fill="none" stroke="#7a7210" stroke-width="2.1" stroke-linecap="round"/>
<path d="M447.7,62.9 Q450.2,63.2 453.4,63.0" fill="none" stroke="#7a7210" stroke-width="2.1" stroke-linecap="round"/>
<path d="M458.6,55.1 Q463.8,55.8 465.4,57.3" fill="none" stroke="#7a7210" stroke-width="2.1" stroke-linecap="round"/>
<path d="M443.9,55.0 Q447.5,56.7 452.9,59.3" fill="none" stroke="#7a7210" stroke-width="2.1" stroke-linecap="round"/>
<path d="M456.2,47.7 Q460.2,46.5 462.4,48.4" fill="none" stroke="#7a7210" stroke-width="2.1" stroke-linecap="round"/>
<path d="M468.5,32.1 Q469.4,35.8 472.5,39.7" fill="none" stroke="#7a7210" stroke-width="2.1" stroke-linecap="round"/>
<path d="M420.3,71.3 Q422.7,74.6 427.1,76.2" fill="none" stroke="#7a7210" stroke-width="2.1" stroke-linecap="round"/>
<path d="M419.7,77.2 Q421.4,83.7 421.9,86.5" fill="none" stroke="#7a7210" stroke-width="2.1" stroke-linecap="round"/>
<path d="M432.3,67.4 Q435.6,68.8 437.1,69.6" fill="none" stroke="#7a7210" stroke-width="2.1" stroke-linecap="round"/>
<path d="M413.0,72.8 Q417.0,74.0 417.5,78.0" fill="none" stroke="#7a7210" stroke-width="2.1" stroke-linecap="round"/>
<path d="M427.9,87.0 Q428.4,90.8 432.1,93.5" fill="none" stroke="#7a7210" stroke-width="2.1" stroke-linecap="round"/>
<path d="M429.0,61.9 Q434.1,61.8 436.5,64.4" fill="none" stroke="#7a7210" stroke-width="2.1" stroke-linecap="round"/>
<path d="M406.2,65.2 Q410.8,68.5 414.0,70.0" fill="none" stroke="#7a7210" stroke-width="2.1" stroke-linecap="round"/>
<path d="M421.0,76.7 Q424.6,82.2 426.8,84.0" fill="none" stroke="#7a7210" stroke-width="2.1" stroke-linecap="round"/>
<path d="M423.8,65.8 Q427.6,68.4 428.6,71.1" fill="none" stroke="#7a7210" stroke-width="2.1" stroke-linecap="round"/>
<path d="M414.6,57.2 Q415.3,60.3 417.2,64.4" fill="none" stroke="#7a7210" stroke-width="2.1" stroke-linecap="round"/>
<path d="M414.9,65.9 Q419.0,68.7 419.8,71.6" fill="none" stroke="#7a7210" stroke-width="2.1" stroke-linecap="round"/>
<path d="M419.3,87.4 Q420.4,88.8 424.6,88.6" fill="none" stroke="#7a7210" stroke-width="2.1" stroke-linecap="round"/>
<path d="M402.9,65.8 Q404.9,69.3 406.0,70.7" fill="none" stroke="#7a7210" stroke-width="2.1" stroke-linecap="round"/>
<path d="M430.2,72.3 Q433.3,76.3 433.2,78.5" fill="none" stroke="#7a7210" stroke-width="2.1" stroke-linecap="round"/>
<path d="M434.4,83.4 Q435.9,84.5 435.4,89.0" fill="none" stroke="#7a7210" stroke-width="2.1" stroke-linecap="round"/>
<path d="M413.1,58.9 Q415.2,61.0 413.5,64.8" fill="none" stroke="#7a7210" stroke-width="2.1" stroke-linecap="round"/>
<path d="M423.3,59.0 Q427.0,62.1 429.4,65.4" fill="none" stroke="#7a7210" stroke-width="2.1" stroke-linecap="round"/>
<path d="M410.3,63.8 Q412.3,67.2 414.9,68.4" fill="none" stroke="#7a7210" stroke-width="2.1" stroke-linecap="round"/>
<path d="M425.8,61.8 Q428.1,66.0 431.0,66.8" fill="none" stroke="#7a7210" stroke-width="2.1" stroke-linecap="round"/>
<path d="M437.4,75.1 Q440.5,78.8 443.4,82.1" fill="none" stroke="#7a7210" stroke-width="2.1" stroke-linecap="round"/>
<path d="M411.4,67.3 Q413.9,69.6 414.4,73.1" fill="none" stroke="#7a7210" stroke-width="2.1" stroke-linecap="round"/>
<path d="M427.2,66.2 Q427.4,70.7 428.2,72.4" fill="none" stroke="#7a7210" stroke-width="2.1" stroke-linecap="round"/>
<path d="M419.3,65.7 Q418.4,69.4 420.5,71.5" fill="none" stroke="#7a7210" stroke-width="2.1" stroke-linecap="round"/>
<path d="M411.1,86.1 Q416.1,89.7 418.7,91.2" fill="none" stroke="#7a7210" stroke-width="2.1" stroke-linecap="round"/>
<path d="M414.6,74.2 Q418.5,74.7 421.2,76.2" fill="none" stroke="#7a7210" stroke-width="2.1" stroke-linecap="round"/>
<path d="M428.1,68.7 Q429.2,71.2 433.0,75.5" fill="none" stroke="#7a7210" stroke-width="2.1" stroke-linecap="round"/>
<path d="M431.3,70.5 Q433.4,73.0 432.2,77.0" fill="none" stroke="#7a7210" stroke-width="2.1" stroke-linecap="round"/>
<path d="M421.2,82.1 Q423.0,87.3 424.5,91.4" fill="none" stroke="#7a7210" stroke-width="2.1" stroke-linecap="round"/>
<path d="M407.1,72.9 Q408.5,74.3 410.2,78.1" fill="none" stroke="#7a7210" stroke-width="2.1" stroke-linecap="round"/>
<path d="M414.9,67.0 Q418.0,69.2 420.5,69.2" fill="none" stroke="#7a7210" stroke-width="2.1" stroke-linecap="round"/>
<path d="M419.0,54.3 Q418.8,56.2 422.4,58.5" fill="none" stroke="#7a7210" stroke-width="2.1" stroke-linecap="round"/>
<path d="M424.6,67.9 Q428.1,67.1 432.1,68.2" fill="none" stroke="#7a7210" stroke-width="2.1" stroke-linecap="round"/>
<path d="M407.0,80.1 Q412.4,80.6 415.3,84.3" fill="none" stroke="#7a7210" stroke-width="2.1" stroke-linecap="round"/>
<path d="M426.2,77.5 Q429.1,78.3 431.1,80.7" fill="none" stroke="#7a7210" stroke-width="2.1" stroke-linecap="round"/>
<path d="M414.9,85.6 Q418.4,90.0 422.2,92.1" fill="none" stroke="#7a7210" stroke-width="2.1" stroke-linecap="round"/>
<path d="M407.8,62.8 Q413.7,63.6 417.1,62.6" fill="none" stroke="#7a7210" stroke-width="2.1" stroke-linecap="round"/>
<path d="M417.6,84.5 Q422.9,85.2 426.3,83.0" fill="none" stroke="#7a7210" stroke-width="2.1" stroke-linecap="round"/>
<path d="M408.2,65.6 Q410.8,67.5 412.6,72.5" fill="none" stroke="#7a7210" stroke-width="2.1" stroke-linecap="round"/>
<path d="M431.5,63.7 Q434.9,68.2 436.2,71.9" fill="none" stroke="#7a7210" stroke-width="2.1" stroke-linecap="round"/>
<path d="M414.1,59.5 Q416.5,60.8 419.4,65.8" fill="none" stroke="#7a7210" stroke-width="2.1" stroke-linecap="round"/>
<path d="M435.5,67.7 Q437.6,67.9 439.1,72.1" fill="none" stroke="#7a7210" stroke-width="2.1" stroke-linecap="round"/>
<path d="M434.9,79.3 Q437.1,84.0 436.6,84.9" fill="none" stroke="#7a7210" stroke-width="2.1" stroke-linecap="round"/>
<path d="M419.6,88.5 Q422.8,88.5 427.1,89.1" fill="none" stroke="#7a7210" stroke-width="2.1" stroke-linecap="round"/>
<path d="M435.4,83.9 Q437.4,83.8 440.7,85.7" fill="none" stroke="#7a7210" stroke-width="2.1" stroke-linecap="round"/>
<path d="M431.8,83.8 Q435.3,87.4 436.5,88.7" fill="none" stroke="#7a7210" stroke-width="2.1" stroke-linecap="round"/>
<path d="M422.6,83.8 Q425.5,84.4 427.8,87.9" fill="none" stroke="#7a7210" stroke-width="2.1" stroke-linecap="round"/>
<path d="M420.5,75.4 Q425.8,72.8 429.7,72.4" fill="none" stroke="#7a7210" stroke-width="2.1" stroke-linecap="round"/>
<path d="M420.7,64.4 Q423.7,66.7 426.0,66.4" fill="none" stroke="#7a7210" stroke-width="2.1" stroke-linecap="round"/>
<path d="M422.4,60.1 Q424.5,61.1 429.1,59.4" fill="none" stroke="#7a7210" stroke-width="2.1" stroke-linecap="round"/>
<path d="M413.6,61.3 Q413.9,65.8 417.6,67.5" fill="none" stroke="#7a7210" stroke-width="2.1" stroke-linecap="round"/>
<path d="M422.6,67.9 Q426.4,72.2 427.7,73.1" fill="none" stroke="#7a7210" stroke-width="2.1" stroke-linecap="round"/>
<path d="M415.0,69.4 Q419.1,69.6 420.2,71.1" fill="none" stroke="#7a7210" stroke-width="2.1" stroke-linecap="round"/>
<path d="M412.6,57.1 Q413.0,61.9 415.9,63.6" fill="none" stroke="#7a7210" stroke-width="2.1" stroke-linecap="round"/>
<path d="M426.9,59.1 Q431.2,59.0 436.1,59.6" fill="none" stroke="#7a7210" stroke-width="2.1" stroke-linecap="round"/>
<path d="M432.3,75.4 Q434.0,77.8 436.3,80.0" fill="none" stroke="#7a7210" stroke-width="2.1" stroke-linecap="round"/>
<path d="M434.5,86.0 Q436.8,86.5 439.4,90.7" fill="none" stroke="#7a7210" stroke-width="2.1" stroke-linecap="round"/>
<path d="M423.4,69.6 Q424.0,70.8 426.3,75.2" fill="none" stroke="#7a7210" stroke-width="2.1" stroke-linecap="round"/>
<path d="M429.1,84.1 Q430.2,85.3 435.0,90.5" fill="none" stroke="#7a7210" stroke-width="2.1" stroke-linecap="round"/>
<path d="M432.3,61.3 Q434.1,62.7 436.0,65.4" fill="none" stroke="#7a7210" stroke-width="2.1" stroke-linecap="round"/>
<path d="M414.7,80.7 Q420.8,82.0 423.8,81.4" fill="none" stroke="#7a7210" stroke-width="2.1" stroke-linecap="round"/>
<path d="M377.3,125.6 Q378.6,131.9 376.0,135.0" fill="none" stroke="#7a7210" stroke-width="2.1" stroke-linecap="round"/>
<path d="M394.8,129.5 Q398.2,131.7 400.8,136.8" fill="none" stroke="#7a7210" stroke-width="2.1" stroke-linecap="round"/>
<path d="M411.8,127.3 Q414.7,131.2 419.2,132.1" fill="none" stroke="#7a7210" stroke-width="2.1" stroke-linecap="round"/>
<path d="M380.0,125.9 Q381.2,130.4 380.8,132.7" fill="none" stroke="#7a7210" stroke-width="2.1" stroke-linecap="round"/>
<path d="M398.1,125.1 Q400.0,128.1 405.3,131.6" fill="none" stroke="#7a7210" stroke-width="2.1" stroke-linecap="round"/>
<path d="M412.3,120.5 Q416.7,122.9 417.5,128.3" fill="none" stroke="#7a7210" stroke-width="2.1" stroke-linecap="round"/>
<path d="M392.9,117.6 Q392.9,121.4 392.7,125.1" fill="none" stroke="#7a7210" stroke-width="2.1" stroke-linecap="round"/>
<path d="M379.5,133.9 Q379.8,139.9 376.9,143.2" fill="none" stroke="#7a7210" stroke-width="2.1" stroke-linecap="round"/>
<path d="M410.4,131.8 Q414.9,133.8 418.2,137.4" fill="none" stroke="#7a7210" stroke-width="2.1" stroke-linecap="round"/>
<path d="M386.1,121.3 Q384.7,124.8 386.9,130.5" fill="none" stroke="#7a7210" stroke-width="2.1" stroke-linecap="round"/>
<path d="M396.9,139.1 Q398.6,141.0 399.5,145.9" fill="none" stroke="#7a7210" stroke-width="2.1" stroke-linecap="round"/>
<path d="M398.0,135.8 Q395.6,138.4 393.0,139.7" fill="none" stroke="#7a7210" stroke-width="2.1" stroke-linecap="round"/>
<path d="M413.1,132.4 Q413.7,133.9 412.3,138.6" fill="none" stroke="#7a7210" stroke-width="2.1" stroke-linecap="round"/>
<path d="M385.7,140.4 Q385.0,145.1 387.7,147.9" fill="none" stroke="#7a7210" stroke-width="2.1" stroke-linecap="round"/>
<path d="M385.3,117.0 Q382.0,119.6 379.0,120.9" fill="none" stroke="#7a7210" stroke-width="2.1" stroke-linecap="round"/>
<path d="M398.7,122.3 Q403.0,124.5 403.5,124.6" fill="none" stroke="#7a7210" stroke-width="2.1" stroke-linecap="round"/>
<path d="M385.8,136.6 Q386.6,140.5 385.9,143.9" fill="none" stroke="#7a7210" stroke-width="2.1" stroke-linecap="round"/>
<path d="M394.9,137.9 Q395.2,141.2 393.0,143.2" fill="none" stroke="#7a7210" stroke-width="2.1" stroke-linecap="round"/>
<path d="M388.1,132.8 Q388.1,137.1 391.6,140.1" fill="none" stroke="#7a7210" stroke-width="2.1" stroke-linecap="round"/>
<path d="M396.8,138.4 Q396.1,141.0 395.8,143.6" fill="none" stroke="#7a7210" stroke-width="2.1" stroke-linecap="round"/>
<path d="M401.1,141.8 Q404.3,144.2 404.5,145.7" fill="none" stroke="#7a7210" stroke-width="2.1" stroke-linecap="round"/>
<path d="M388.9,116.4 Q390.8,119.0 392.8,121.7" fill="none" stroke="#7a7210" stroke-width="2.1" stroke-linecap="round"/>
<path d="M387.7,140.1 Q391.9,139.9 397.0,143.6" fill="none" stroke="#7a7210" stroke-width="2.1" stroke-linecap="round"/>
<path d="M404.9,128.7 Q406.2,131.6 404.5,134.0" fill="none" stroke="#7a7210" stroke-width="2.1" stroke-linecap="round"/>
<path d="M411.8,122.3 Q414.5,126.4 418.4,126.8" fill="none" stroke="#7a7210" stroke-width="2.1" stroke-linecap="round"/>
<path d="M405.5,128.8 Q404.8,131.7 403.9,135.2" fill="none" stroke="#7a7210" stroke-width="2.1" stroke-linecap="round"/>
<path d="M396.4,121.9 Q395.6,125.0 398.2,129.3" fill="none" stroke="#7a7210" stroke-width="2.1" stroke-linecap="round"/>
<path d="M402.9,116.1 Q400.8,118.2 399.9,122.3" fill="none" stroke="#7a7210" stroke-width="2.1" stroke-linecap="round"/>
<path d="M412.4,133.5 Q413.3,138.4 417.2,139.7" fill="none" stroke="#7a7210" stroke-width="2.1" stroke-linecap="round"/>
<path d="M383.5,128.6 Q384.3,130.4 388.8,135.5" fill="none" stroke="#7a7210" stroke-width="2.1" stroke-linecap="round"/>
<path d="M391.6,123.1 Q395.8,127.1 396.0,128.0" fill="none" stroke="#7a7210" stroke-width="2.1" stroke-linecap="round"/>
<path d="M382.5,123.2 Q385.3,122.7 387.4,125.7" fill="none" stroke="#7a7210" stroke-width="2.1" stroke-linecap="round"/>
<path d="M389.4,129.7 Q391.5,131.2 391.1,135.6" fill="none" stroke="#7a7210" stroke-width="2.1" stroke-linecap="round"/>
<path d="M399.2,127.5 Q401.9,127.4 403.0,131.0" fill="none" stroke="#7a7210" stroke-width="2.1" stroke-linecap="round"/>
<path d="M395.8,113.5 Q397.0,119.1 399.0,123.0" fill="none" stroke="#7a7210" stroke-width="2.1" stroke-linecap="round"/>
<path d="M394.5,117.3 Q395.5,122.6 393.5,126.5" fill="none" stroke="#7a7210" stroke-width="2.1" stroke-linecap="round"/>
<path d="M385.2,125.6 Q387.6,130.0 386.3,132.4" fill="none" stroke="#7a7210" stroke-width="2.1" stroke-linecap="round"/>
<path d="M398.1,127.4 Q399.6,131.5 399.5,136.9" fill="none" stroke="#7a7210" stroke-width="2.1" stroke-linecap="round"/>
<path d="M407.6,139.7 Q406.1,142.7 408.4,145.8" fill="none" stroke="#7a7210" stroke-width="2.1" stroke-linecap="round"/>
<path d="M394.6,125.9 Q393.3,129.3 393.6,135.2" fill="none" stroke="#7a7210" stroke-width="2.1" stroke-linecap="round"/>
<path d="M382.3,133.8 Q383.7,137.7 383.7,138.9" fill="none" stroke="#7a7210" stroke-width="2.1" stroke-linecap="round"/>
<path d="M387.9,152.0 Q391.3,148.9 394.7,148.9" fill="none" stroke="#7a7210" stroke-width="2.1" stroke-linecap="round"/>
<path d="M400.5,143.8 Q403.0,142.2 407.3,144.3" fill="none" stroke="#7a7210" stroke-width="2.1" stroke-linecap="round"/>
<path d="M390.7,168.2 Q393.2,166.8 396.8,167.0" fill="none" stroke="#7a7210" stroke-width="2.1" stroke-linecap="round"/>
<path d="M398.5,166.2 Q401.2,167.6 404.8,166.7" fill="none" stroke="#7a7210" stroke-width="2.1" stroke-linecap="round"/>
<path d="M401.4,153.2 Q404.0,150.5 407.1,150.7" fill="none" stroke="#7a7210" stroke-width="2.1" stroke-linecap="round"/>
<path d="M388.5,149.2 Q390.5,149.2 395.7,147.6" fill="none" stroke="#7a7210" stroke-width="2.1" stroke-linecap="round"/>
<path d="M414.1,156.6 Q416.9,157.8 418.6,159.3" fill="none" stroke="#7a7210" stroke-width="2.1" stroke-linecap="round"/>
<path d="M396.9,171.5 Q398.6,168.8 402.6,170.0" fill="none" stroke="#7a7210" stroke-width="2.1" stroke-linecap="round"/>
<path d="M398.5,152.6 Q401.2,147.9 401.2,143.8" fill="none" stroke="#7a7210" stroke-width="2.1" stroke-linecap="round"/>
<path d="M404.0,159.2 Q407.6,155.8 410.1,155.2" fill="none" stroke="#7a7210" stroke-width="2.1" stroke-linecap="round"/>
<path d="M400.6,169.1 Q406.3,171.5 409.4,171.5" fill="none" stroke="#7a7210" stroke-width="2.1" stroke-linecap="round"/>
<path d="M392.1,148.9 Q393.6,145.9 398.1,144.8" fill="none" stroke="#7a7210" stroke-width="2.1" stroke-linecap="round"/>
<path d="M411.0,167.3 Q414.9,168.0 420.6,167.8" fill="none" stroke="#7a7210" stroke-width="2.1" stroke-linecap="round"/>
<path d="M403.0,160.3 Q408.3,159.2 409.6,156.2" fill="none" stroke="#7a7210" stroke-width="2.1" stroke-linecap="round"/>
<path d="M413.0,162.9 Q417.4,161.8 422.1,161.1" fill="none" stroke="#7a7210" stroke-width="2.1" stroke-linecap="round"/>
<path d="M405.6,166.0 Q409.7,166.1 413.9,164.9" fill="none" stroke="#7a7210" stroke-width="2.1" stroke-linecap="round"/>
<path d="M386.7,167.8 Q392.0,166.6 394.3,165.0" fill="none" stroke="#7a7210" stroke-width="2.1" stroke-linecap="round"/>
<path d="M405.6,169.6 Q408.9,167.2 413.3,168.1" fill="none" stroke="#7a7210" stroke-width="2.1" stroke-linecap="round"/>
<path d="M417.5,158.1 Q418.8,158.0 423.7,157.4" fill="none" stroke="#7a7210" stroke-width="2.1" stroke-linecap="round"/>
<path d="M413.4,156.2 Q415.5,157.6 420.8,156.4" fill="none" stroke="#7a7210" stroke-width="2.1" stroke-linecap="round"/>
<path d="M402.3,149.3 Q407.7,152.0 409.7,152.6" fill="none" stroke="#7a7210" stroke-width="2.1" stroke-linecap="round"/>
<path d="M409.0,158.0 Q413.4,157.4 415.2,159.2" fill="none" stroke="#7a7210" stroke-width="2.1" stroke-linecap="round"/>
<path d="M395.2,170.8 Q397.2,173.9 401.2,175.8" fill="none" stroke="#7a7210" stroke-width="2.1" stroke-linecap="round"/>
<path d="M409.8,164.1 Q412.5,164.5 417.7,163.4" fill="none" stroke="#7a7210" stroke-width="2.1" stroke-linecap="round"/>
<path d="M390.8,153.8 Q396.9,155.6 400.4,154.7" fill="none" stroke="#7a7210" stroke-width="2.1" stroke-linecap="round"/>
<path d="M405.1,169.3 Q408.3,167.8 412.4,165.7" fill="none" stroke="#7a7210" stroke-width="2.1" stroke-linecap="round"/>
<path d="M405.8,148.9 Q407.0,149.3 411.1,147.3" fill="none" stroke="#7a7210" stroke-width="2.1" stroke-linecap="round"/>
<path d="M401.0,160.0 Q404.8,157.6 408.2,157.2" fill="none" stroke="#7a7210" stroke-width="2.1" stroke-linecap="round"/>
<path d="M402.5,151.3 Q406.4,147.7 406.8,147.9" fill="none" stroke="#7a7210" stroke-width="2.1" stroke-linecap="round"/>
<path d="M400.6,155.6 Q402.5,154.6 406.5,155.4" fill="none" stroke="#7a7210" stroke-width="2.1" stroke-linecap="round"/>
<path d="M388.1,164.4 Q392.6,164.4 395.7,162.1" fill="none" stroke="#7a7210" stroke-width="2.1" stroke-linecap="round"/>
<path d="M398.0,146.6 Q400.0,142.6 403.8,141.8" fill="none" stroke="#7a7210" stroke-width="2.1" stroke-linecap="round"/>
<path d="M404.6,158.0 Q408.1,156.7 413.3,156.4" fill="none" stroke="#7a7210" stroke-width="2.1" stroke-linecap="round"/>
<path d="M400.7,168.4 Q404.5,167.5 408.2,166.4" fill="none" stroke="#7a7210" stroke-width="2.1" stroke-linecap="round"/>
<path d="M404.4,153.2 Q405.2,153.9 409.8,153.9" fill="none" stroke="#7a7210" stroke-width="2.1" stroke-linecap="round"/>
<path d="M413.0,147.9 Q418.3,150.7 420.8,152.1" fill="none" stroke="#7a7210" stroke-width="2.1" stroke-linecap="round"/>
<path d="M406.7,158.2 Q410.1,158.7 412.1,157.6" fill="none" stroke="#7a7210" stroke-width="2.1" stroke-linecap="round"/>
<path d="M399.8,163.7 Q402.5,159.2 406.9,158.6" fill="none" stroke="#7a7210" stroke-width="2.1" stroke-linecap="round"/>
<path d="M388.0,164.3 Q390.8,167.3 393.5,166.3" fill="none" stroke="#7a7210" stroke-width="2.1" stroke-linecap="round"/>
<path d="M405.8,155.1 Q407.8,157.2 413.3,157.0" fill="none" stroke="#7a7210" stroke-width="2.1" stroke-linecap="round"/>
<path d="M413.5,152.0 Q416.5,155.1 417.2,157.2" fill="none" stroke="#7a7210" stroke-width="2.1" stroke-linecap="round"/>
<path d="M368.7,123.4 Q368.5,126.4 369.4,129.3" fill="none" stroke="#7a7210" stroke-width="2.1" stroke-linecap="round"/>
<path d="M353.9,119.5 Q356.0,120.3 359.9,123.9" fill="none" stroke="#7a7210" stroke-width="2.1" stroke-linecap="round"/>
<path d="M365.1,112.9 Q367.1,116.5 368.0,119.0" fill="none" stroke="#7a7210" stroke-width="2.1" stroke-linecap="round"/>
<path d="M370.1,121.1 Q373.9,121.9 376.0,123.2" fill="none" stroke="#7a7210" stroke-width="2.1" stroke-linecap="round"/>
<path d="M370.7,123.5 Q374.1,126.6 380.3,126.3" fill="none" stroke="#7a7210" stroke-width="2.1" stroke-linecap="round"/>
<path d="M358.8,135.1 Q359.4,140.8 363.3,142.6" fill="none" stroke="#7a7210" stroke-width="2.1" stroke-linecap="round"/>
<path d="M359.5,132.8 Q361.3,136.0 359.6,142.4" fill="none" stroke="#7a7210" stroke-width="2.1" stroke-linecap="round"/>
<path d="M362.4,120.6 Q367.2,124.5 370.9,125.6" fill="none" stroke="#7a7210" stroke-width="2.1" stroke-linecap="round"/>
<path d="M368.5,125.2 Q371.0,126.0 374.1,129.0" fill="none" stroke="#7a7210" stroke-width="2.1" stroke-linecap="round"/>
<path d="M360.1,130.7 Q363.6,129.7 366.3,131.9" fill="none" stroke="#7a7210" stroke-width="2.1" stroke-linecap="round"/>
<path d="M360.0,112.5 Q364.3,114.0 365.1,117.3" fill="none" stroke="#7a7210" stroke-width="2.1" stroke-linecap="round"/>
<path d="M364.9,123.4 Q365.4,126.0 369.2,127.4" fill="none" stroke="#7a7210" stroke-width="2.1" stroke-linecap="round"/>
<path d="M368.5,137.4 Q373.6,139.3 375.7,140.8" fill="none" stroke="#7a7210" stroke-width="2.1" stroke-linecap="round"/>
<path d="M364.2,123.9 Q367.1,129.0 367.3,131.8" fill="none" stroke="#7a7210" stroke-width="2.1" stroke-linecap="round"/>
<path d="M358.0,122.0 Q360.8,125.8 360.4,127.8" fill="none" stroke="#7a7210" stroke-width="2.1" stroke-linecap="round"/>
<path d="M360.0,129.2 Q362.4,130.2 365.6,134.1" fill="none" stroke="#7a7210" stroke-width="2.1" stroke-linecap="round"/>
<path d="M374.9,124.8 Q376.3,127.2 374.9,131.8" fill="none" stroke="#7a7210" stroke-width="2.1" stroke-linecap="round"/>
<path d="M356.2,115.1 Q356.5,119.4 359.7,121.8" fill="none" stroke="#7a7210" stroke-width="2.1" stroke-linecap="round"/>
<path d="M361.9,121.3 Q365.6,122.7 370.4,122.3" fill="none" stroke="#7a7210" stroke-width="2.1" stroke-linecap="round"/>
<path d="M370.5,118.3 Q375.1,119.9 376.0,121.7" fill="none" stroke="#7a7210" stroke-width="2.1" stroke-linecap="round"/>
<path d="M361.6,123.1 Q367.4,121.4 371.1,122.5" fill="none" stroke="#7a7210" stroke-width="2.1" stroke-linecap="round"/>
<path d="M378.0,129.1 Q379.7,132.1 379.4,133.9" fill="none" stroke="#7a7210" stroke-width="2.1" stroke-linecap="round"/>
<path d="M367.6,124.1 Q369.8,127.5 369.6,131.1" fill="none" stroke="#7a7210" stroke-width="2.1" stroke-linecap="round"/>
<path d="M370.2,131.5 Q371.7,132.4 375.7,136.8" fill="none" stroke="#7a7210" stroke-width="2.1" stroke-linecap="round"/>
<path d="M343.3,20.5 Q352.2,24.6 361.0,28.8" fill="none" stroke="#ccc01a" stroke-width="1.4" stroke-linecap="round"/>
<path d="M340.2,22.4 Q349.6,26.7 358.9,31.1" fill="none" stroke="#bfb314" stroke-width="1.4" stroke-linecap="round"/>
<path d="M340.4,25.8 Q348.3,30.5 356.9,33.5" fill="none" stroke="#bfb314" stroke-width="1.4" stroke-linecap="round"/>
<path d="M339.6,28.7 Q348.0,32.2 356.1,36.4" fill="none" stroke="#d8ce30" stroke-width="1.4" stroke-linecap="round"/>
<path d="M337.0,30.9 Q345.2,35.5 354.0,38.7" fill="none" stroke="#d8ce30" stroke-width="1.4" stroke-linecap="round"/>
<path d="M335.1,33.3 Q345.2,37.7 355.0,42.6" fill="none" stroke="#d8ce30" stroke-width="1.4" stroke-linecap="round"/>
<path d="M338.5,34.0 Q343.4,37.9 347.4,42.9" fill="none" stroke="#ccc01a" stroke-width="1.4" stroke-linecap="round"/>
<path d="M335.2,35.2 Q339.3,40.0 344.1,44.1" fill="none" stroke="#ccc01a" stroke-width="1.4" stroke-linecap="round"/>
<path d="M333.7,38.3 Q339.1,43.5 344.4,49.0" fill="none" stroke="#d8ce30" stroke-width="1.4" stroke-linecap="round"/>
<path d="M330.0,48.3 Q332.4,55.8 332.7,63.6" fill="none" stroke="#d8ce30" stroke-width="1.4" stroke-linecap="round"/>
<path d="M326.4,47.6 Q327.0,53.8 328.6,59.9" fill="none" stroke="#bfb314" stroke-width="1.4" stroke-linecap="round"/>
<path d="M323.3,49.6 Q326.0,57.0 326.0,64.8" fill="none" stroke="#d8ce30" stroke-width="1.4" stroke-linecap="round"/>
<path d="M319.9,49.6 Q322.1,57.2 322.6,65.1" fill="none" stroke="#bfb314" stroke-width="1.4" stroke-linecap="round"/>
<path d="M373.2,54.5 Q374.1,62.3 372.7,70.0" fill="none" stroke="#bfb314" stroke-width="1.4" stroke-linecap="round"/>
<path d="M370.4,53.3 Q369.1,61.4 369.9,69.6" fill="none" stroke="#ccc01a" stroke-width="1.4" stroke-linecap="round"/>
<path d="M367.7,52.4 Q366.5,59.3 367.2,66.2" fill="none" stroke="#d8ce30" stroke-width="1.4" stroke-linecap="round"/>
<path d="M364.8,52.8 Q364.3,59.5 364.4,66.2" fill="none" stroke="#ccc01a" stroke-width="1.4" stroke-linecap="round"/>
<path d="M362.1,51.1 Q361.2,59.4 361.5,67.8" fill="none" stroke="#d8ce30" stroke-width="1.4" stroke-linecap="round"/>
<path d="M359.2,54.5 Q359.1,61.2 358.7,67.9" fill="none" stroke="#ccc01a" stroke-width="1.4" stroke-linecap="round"/>
<path d="M356.2,72.2 Q368.5,76.0 381.3,77.5" fill="none" stroke="#bfb314" stroke-width="1.4" stroke-linecap="round"/>
<path d="M355.1,74.8 Q366.2,75.7 376.7,79.4" fill="none" stroke="#d8ce30" stroke-width="1.4" stroke-linecap="round"/>
<path d="M352.5,77.1 Q365.2,79.5 377.7,82.5" fill="none" stroke="#bfb314" stroke-width="1.4" stroke-linecap="round"/>
<path d="M354.1,80.3 Q365.4,82.3 376.6,85.1" fill="none" stroke="#bfb314" stroke-width="1.4" stroke-linecap="round"/>
<path d="M350.9,82.5 Q363.8,83.7 376.0,87.9" fill="none" stroke="#bfb314" stroke-width="1.4" stroke-linecap="round"/>
<path d="M444.5,27.5 Q454.0,32.0 463.0,37.4" fill="none" stroke="#ccc01a" stroke-width="1.4" stroke-linecap="round"/>
<path d="M442.9,30.0 Q452.5,36.4 463.3,40.9" fill="none" stroke="#bfb314" stroke-width="1.4" stroke-linecap="round"/>
<path d="M444.8,34.5 Q452.1,38.6 459.6,42.3" fill="none" stroke="#d8ce30" stroke-width="1.4" stroke-linecap="round"/>
<path d="M444.0,37.5 Q451.3,41.8 458.9,45.4" fill="none" stroke="#d8ce30" stroke-width="1.4" stroke-linecap="round"/>
<path d="M440.8,39.1 Q449.1,42.8 456.8,47.7" fill="none" stroke="#ccc01a" stroke-width="1.4" stroke-linecap="round"/>
<path d="M438.1,41.1 Q447.8,47.4 458.5,51.9" fill="none" stroke="#d8ce30" stroke-width="1.4" stroke-linecap="round"/>
<path d="M455.6,45.0 Q458.4,51.4 463.5,56.2" fill="none" stroke="#d8ce30" stroke-width="1.4" stroke-linecap="round"/>
<path d="M451.2,44.0 Q455.6,49.5 459.3,55.5" fill="none" stroke="#d8ce30" stroke-width="1.4" stroke-linecap="round"/>
<path d="M449.5,46.7 Q455.0,52.1 458.2,59.1" fill="none" stroke="#ccc01a" stroke-width="1.4" stroke-linecap="round"/>
<path d="M447.0,48.5 Q450.3,54.6 455.0,59.8" fill="none" stroke="#bfb314" stroke-width="1.4" stroke-linecap="round"/>
<path d="M409.7,58.9 Q421.5,60.6 433.4,61.0" fill="none" stroke="#bfb314" stroke-width="1.4" stroke-linecap="round"/>
<path d="M410.2,61.7 Q420.2,63.1 430.3,63.5" fill="none" stroke="#ccc01a" stroke-width="1.4" stroke-linecap="round"/>
<path d="M407.5,64.3 Q419.7,66.4 432.1,66.5" fill="none" stroke="#bfb314" stroke-width="1.4" stroke-linecap="round"/>
<path d="M411.4,67.5 Q421.4,66.9 431.1,69.2" fill="none" stroke="#d8ce30" stroke-width="1.4" stroke-linecap="round"/>
<path d="M424.4,68.5 Q425.1,76.4 427.2,84.1" fill="none" stroke="#d8ce30" stroke-width="1.4" stroke-linecap="round"/>
<path d="M421.5,69.4 Q423.6,78.6 424.8,88.0" fill="none" stroke="#d8ce30" stroke-width="1.4" stroke-linecap="round"/>
<path d="M418.3,68.5 Q421.1,77.0 421.4,86.0" fill="none" stroke="#d8ce30" stroke-width="1.4" stroke-linecap="round"/>
<path d="M415.3,68.6 Q417.3,76.8 418.2,85.3" fill="none" stroke="#d8ce30" stroke-width="1.4" stroke-linecap="round"/>
<path d="M412.4,69.3 Q414.9,77.1 415.2,85.2" fill="none" stroke="#bfb314" stroke-width="1.4" stroke-linecap="round"/>
<path d="M403.9,108.5 Q406.9,121.6 407.6,135.0" fill="none" stroke="#ccc01a" stroke-width="1.4" stroke-linecap="round"/>
<path d="M401.3,110.2 Q404.4,122.0 404.7,134.1" fill="none" stroke="#bfb314" stroke-width="1.4" stroke-linecap="round"/>
<path d="M398.6,110.9 Q400.9,123.3 402.1,135.9" fill="none" stroke="#d8ce30" stroke-width="1.4" stroke-linecap="round"/>
<path d="M395.8,111.3 Q399.2,125.0 399.7,139.1" fill="none" stroke="#ccc01a" stroke-width="1.4" stroke-linecap="round"/>
<path d="M393.3,113.9 Q396.1,125.4 396.6,137.3" fill="none" stroke="#bfb314" stroke-width="1.4" stroke-linecap="round"/>
<path d="M390.6,114.6 Q393.2,126.7 394.0,139.0" fill="none" stroke="#bfb314" stroke-width="1.4" stroke-linecap="round"/>
<path d="M388.0,153.1 Q400.8,152.3 413.3,149.6" fill="none" stroke="#ccc01a" stroke-width="1.4" stroke-linecap="round"/>
<path d="M389.0,155.6 Q401.2,153.4 413.5,152.2" fill="none" stroke="#ccc01a" stroke-width="1.4" stroke-linecap="round"/>
<path d="M387.3,158.5 Q399.7,155.2 412.6,154.9" fill="none" stroke="#d8ce30" stroke-width="1.4" stroke-linecap="round"/>
<path d="M387.6,161.1 Q399.8,159.8 411.8,157.7" fill="none" stroke="#ccc01a" stroke-width="1.4" stroke-linecap="round"/>
<path d="M387.9,163.6 Q399.9,161.8 412.0,160.3" fill="none" stroke="#d8ce30" stroke-width="1.4" stroke-linecap="round"/>
<path d="M388.8,166.1 Q401.0,164.6 413.0,162.7" fill="none" stroke="#ccc01a" stroke-width="1.4" stroke-linecap="round"/>
<path d="M370.2,115.9 Q374.5,120.5 379.8,124.0" fill="none" stroke="#bfb314" stroke-width="1.4" stroke-linecap="round"/>
<path d="M365.9,116.9 Q372.0,121.5 377.6,126.7" fill="none" stroke="#ccc01a" stroke-width="1.4" stroke-linecap="round"/>
<path d="M364.6,120.4 Q370.8,123.7 375.2,129.2" fill="none" stroke="#ccc01a" stroke-width="1.4" stroke-linecap="round"/>
<path d="M347.0,35.1 Q348.7,37.3 351.9,39.1" fill="none" stroke="#bfb314" stroke-width="1.2" stroke-linecap="round"/>
<path d="M333.6,39.4 Q337.3,43.6 341.9,44.8" fill="none" stroke="#ccc01a" stroke-width="1.2" stroke-linecap="round"/>
<path d="M347.3,54.1 Q350.1,55.0 350.5,58.7" fill="none" stroke="#ccc01a" stroke-width="1.2" stroke-linecap="round"/>
<path d="M356.1,42.9 Q354.4,49.4 356.1,52.9" fill="none" stroke="#d8ce30" stroke-width="1.2" stroke-linecap="round"/>
<path d="M338.7,33.1 Q341.3,34.8 344.4,36.6" fill="none" stroke="#d8ce30" stroke-width="1.2" stroke-linecap="round"/>
<path d="M342.2,17.8 Q346.2,21.4 348.2,21.9" fill="none" stroke="#ccc01a" stroke-width="1.2" stroke-linecap="round"/>
<path d="M349.9,53.8 Q355.0,50.3 357.6,49.5" fill="none" stroke="#bfb314" stroke-width="1.2" stroke-linecap="round"/>
<path d="M335.8,23.7 Q342.4,23.5 345.3,25.5" fill="none" stroke="#bfb314" stroke-width="1.2" stroke-linecap="round"/>
<path d="M336.3,17.5 Q340.0,18.6 340.4,23.1" fill="none" stroke="#d8ce30" stroke-width="1.2" stroke-linecap="round"/>
<path d="M331.5,33.7 Q337.1,32.3 340.9,33.3" fill="none" stroke="#d8ce30" stroke-width="1.2" stroke-linecap="round"/>
<path d="M353.4,49.3 Q353.8,52.4 356.6,57.9" fill="none" stroke="#ccc01a" stroke-width="1.2" stroke-linecap="round"/>
<path d="M331.0,31.3 Q332.6,31.1 336.0,32.8" fill="none" stroke="#bfb314" stroke-width="1.2" stroke-linecap="round"/>
<path d="M351.8,33.9 Q353.6,36.2 353.4,39.6" fill="none" stroke="#bfb314" stroke-width="1.2" stroke-linecap="round"/>
<path d="M360.7,32.4 Q362.2,33.2 365.5,35.0" fill="none" stroke="#d8ce30" stroke-width="1.2" stroke-linecap="round"/>
<path d="M342.3,32.6 Q345.3,34.6 346.7,38.8" fill="none" stroke="#d8ce30" stroke-width="1.2" stroke-linecap="round"/>
<path d="M326.2,31.4 Q329.0,31.3 332.0,33.6" fill="none" stroke="#bfb314" stroke-width="1.2" stroke-linecap="round"/>
<path d="M349.8,36.6 Q352.2,38.9 355.0,37.5" fill="none" stroke="#bfb314" stroke-width="1.2" stroke-linecap="round"/>
<path d="M358.1,23.1 Q361.0,26.8 363.2,27.6" fill="none" stroke="#bfb314" stroke-width="1.2" stroke-linecap="round"/>
<path d="M344.9,29.2 Q347.8,31.2 350.4,36.5" fill="none" stroke="#ccc01a" stroke-width="1.2" stroke-linecap="round"/>
<path d="M331.8,22.6 Q336.2,23.3 338.7,22.5" fill="none" stroke="#bfb314" stroke-width="1.2" stroke-linecap="round"/>
<path d="M356.1,49.5 Q358.2,51.5 360.2,53.7" fill="none" stroke="#d8ce30" stroke-width="1.2" stroke-linecap="round"/>
<path d="M340.4,53.2 Q346.3,55.8 348.2,59.3" fill="none" stroke="#ccc01a" stroke-width="1.2" stroke-linecap="round"/>
<path d="M347.0,45.7 Q349.2,50.6 352.1,54.2" fill="none" stroke="#ccc01a" stroke-width="1.2" stroke-linecap="round"/>
<path d="M344.1,39.1 Q348.2,41.7 349.6,44.2" fill="none" stroke="#ccc01a" stroke-width="1.2" stroke-linecap="round"/>
<path d="M361.8,28.1 Q365.7,27.4 367.6,28.7" fill="none" stroke="#d8ce30" stroke-width="1.2" stroke-linecap="round"/>
<path d="M337.0,47.6 Q339.2,46.9 344.1,47.3" fill="none" stroke="#bfb314" stroke-width="1.2" stroke-linecap="round"/>
<path d="M329.6,20.8 Q334.5,21.1 337.0,23.0" fill="none" stroke="#d8ce30" stroke-width="1.2" stroke-linecap="round"/>
<path d="M355.3,23.7 Q358.8,25.2 360.9,26.5" fill="none" stroke="#bfb314" stroke-width="1.2" stroke-linecap="round"/>
<path d="M332.1,40.3 Q333.9,41.2 337.9,42.6" fill="none" stroke="#d8ce30" stroke-width="1.2" stroke-linecap="round"/>
<path d="M351.7,24.8 Q353.6,27.5 358.1,29.3" fill="none" stroke="#d8ce30" stroke-width="1.2" stroke-linecap="round"/>
<path d="M364.2,43.4 Q366.4,46.5 366.7,47.8" fill="none" stroke="#ccc01a" stroke-width="1.2" stroke-linecap="round"/>
<path d="M335.0,35.2 Q336.0,40.3 337.0,42.0" fill="none" stroke="#d8ce30" stroke-width="1.2" stroke-linecap="round"/>
<path d="M344.1,50.2 Q345.6,49.5 349.0,51.9" fill="none" stroke="#bfb314" stroke-width="1.2" stroke-linecap="round"/>
<path d="M338.7,31.9 Q343.6,36.1 345.4,36.7" fill="none" stroke="#d8ce30" stroke-width="1.2" stroke-linecap="round"/>
<path d="M327.4,31.1 Q328.8,33.1 333.5,32.6" fill="none" stroke="#bfb314" stroke-width="1.2" stroke-linecap="round"/>
<path d="M340.9,30.7 Q342.5,33.2 347.8,32.9" fill="none" stroke="#ccc01a" stroke-width="1.2" stroke-linecap="round"/>
<path d="M334.3,24.9 Q337.4,25.5 338.8,29.8" fill="none" stroke="#bfb314" stroke-width="1.2" stroke-linecap="round"/>
<path d="M349.3,27.1 Q353.6,24.5 358.0,25.7" fill="none" stroke="#bfb314" stroke-width="1.2" stroke-linecap="round"/>
<path d="M355.8,25.5 Q361.7,27.5 363.9,27.9" fill="none" stroke="#bfb314" stroke-width="1.2" stroke-linecap="round"/>
<path d="M329.2,38.0 Q329.7,38.3 332.8,41.8" fill="none" stroke="#bfb314" stroke-width="1.2" stroke-linecap="round"/>
<path d="M339.8,23.3 Q343.6,20.8 348.2,20.1" fill="none" stroke="#d8ce30" stroke-width="1.2" stroke-linecap="round"/>
<path d="M331.6,23.9 Q332.3,24.5 335.0,28.9" fill="none" stroke="#ccc01a" stroke-width="1.2" stroke-linecap="round"/>
<path d="M351.9,52.2 Q351.1,56.6 353.9,60.1" fill="none" stroke="#d8ce30" stroke-width="1.2" stroke-linecap="round"/>
<path d="M334.2,23.0 Q337.6,26.9 340.0,29.3" fill="none" stroke="#ccc01a" stroke-width="1.2" stroke-linecap="round"/>
<path d="M355.5,38.6 Q353.5,43.9 355.0,47.0" fill="none" stroke="#bfb314" stroke-width="1.2" stroke-linecap="round"/>
<path d="M358.6,28.7 Q363.4,31.6 366.7,32.2" fill="none" stroke="#bfb314" stroke-width="1.2" stroke-linecap="round"/>
<path d="M333.9,39.5 Q335.4,42.2 335.6,44.5" fill="none" stroke="#ccc01a" stroke-width="1.2" stroke-linecap="round"/>
<path d="M354.6,37.2 Q356.9,39.5 358.0,44.9" fill="none" stroke="#ccc01a" stroke-width="1.2" stroke-linecap="round"/>
<path d="M332.9,21.6 Q334.0,23.2 336.9,25.7" fill="none" stroke="#bfb314" stroke-width="1.2" stroke-linecap="round"/>
<path d="M352.8,40.3 Q357.3,41.8 359.4,43.3" fill="none" stroke="#bfb314" stroke-width="1.2" stroke-linecap="round"/>
<path d="M325.5,35.0 Q327.8,34.3 331.2,36.4" fill="none" stroke="#bfb314" stroke-width="1.2" stroke-linecap="round"/>
<path d="M334.8,42.9 Q338.5,44.7 342.7,45.8" fill="none" stroke="#bfb314" stroke-width="1.2" stroke-linecap="round"/>
<path d="M338.1,35.5 Q341.0,37.5 342.3,41.6" fill="none" stroke="#bfb314" stroke-width="1.2" stroke-linecap="round"/>
<path d="M341.0,29.9 Q345.0,32.3 345.6,32.3" fill="none" stroke="#bfb314" stroke-width="1.2" stroke-linecap="round"/>
<path d="M336.4,40.2 Q341.9,42.0 343.5,40.5" fill="none" stroke="#bfb314" stroke-width="1.2" stroke-linecap="round"/>
<path d="M347.7,21.4 Q351.1,22.4 353.6,21.9" fill="none" stroke="#d8ce30" stroke-width="1.2" stroke-linecap="round"/>
<path d="M351.3,42.5 Q356.7,45.0 358.5,45.4" fill="none" stroke="#bfb314" stroke-width="1.2" stroke-linecap="round"/>
<path d="M324.5,36.2 Q325.5,38.4 328.9,40.4" fill="none" stroke="#d8ce30" stroke-width="1.2" stroke-linecap="round"/>
<path d="M345.2,21.9 Q345.4,24.1 346.6,27.7" fill="none" stroke="#ccc01a" stroke-width="1.2" stroke-linecap="round"/>
<path d="M330.5,42.7 Q327.9,45.7 327.1,50.7" fill="none" stroke="#ccc01a" stroke-width="1.2" stroke-linecap="round"/>
<path d="M334.8,62.5 Q333.7,67.5 336.3,70.2" fill="none" stroke="#d8ce30" stroke-width="1.2" stroke-linecap="round"/>
<path d="M329.9,51.9 Q329.9,55.0 329.6,61.0" fill="none" stroke="#ccc01a" stroke-width="1.2" stroke-linecap="round"/>
<path d="M321.4,62.1 Q325.2,63.9 326.8,67.6" fill="none" stroke="#ccc01a" stroke-width="1.2" stroke-linecap="round"/>
<path d="M319.6,59.8 Q323.5,61.6 327.1,63.4" fill="none" stroke="#d8ce30" stroke-width="1.2" stroke-linecap="round"/>
<path d="M320.9,58.4 Q323.8,60.6 328.0,65.0" fill="none" stroke="#d8ce30" stroke-width="1.2" stroke-linecap="round"/>
<path d="M340.9,61.2 Q340.3,66.1 342.8,70.5" fill="none" stroke="#ccc01a" stroke-width="1.2" stroke-linecap="round"/>
<path d="M330.7,52.7 Q329.4,54.1 326.8,58.3" fill="none" stroke="#bfb314" stroke-width="1.2" stroke-linecap="round"/>
<path d="M314.3,64.0 Q312.8,68.2 308.5,70.0" fill="none" stroke="#d8ce30" stroke-width="1.2" stroke-linecap="round"/>
<path d="M330.0,60.6 Q328.5,66.0 326.1,68.0" fill="none" stroke="#d8ce30" stroke-width="1.2" stroke-linecap="round"/>
<path d="M321.2,54.3 Q322.4,58.4 320.1,59.4" fill="none" stroke="#ccc01a" stroke-width="1.2" stroke-linecap="round"/>
<path d="M332.4,51.1 Q335.9,55.8 335.7,56.9" fill="none" stroke="#ccc01a" stroke-width="1.2" stroke-linecap="round"/>
<path d="M326.5,49.6 Q331.0,51.1 334.1,51.7" fill="none" stroke="#d8ce30" stroke-width="1.2" stroke-linecap="round"/>
<path d="M336.8,54.3 Q333.4,57.5 333.1,62.4" fill="none" stroke="#bfb314" stroke-width="1.2" stroke-linecap="round"/>
<path d="M328.1,64.2 Q326.5,68.3 322.8,70.0" fill="none" stroke="#ccc01a" stroke-width="1.2" stroke-linecap="round"/>
<path d="M314.3,59.5 Q315.1,61.1 317.0,65.0" fill="none" stroke="#bfb314" stroke-width="1.2" stroke-linecap="round"/>
<path d="M324.6,55.3 Q323.8,59.8 324.3,62.9" fill="none" stroke="#bfb314" stroke-width="1.2" stroke-linecap="round"/>
<path d="M316.1,65.5 Q316.2,67.9 316.6,72.5" fill="none" stroke="#bfb314" stroke-width="1.2" stroke-linecap="round"/>
<path d="M321.7,54.1 Q321.4,58.4 320.4,62.0" fill="none" stroke="#d8ce30" stroke-width="1.2" stroke-linecap="round"/>
<path d="M338.5,66.5 Q340.4,70.2 340.5,72.4" fill="none" stroke="#ccc01a" stroke-width="1.2" stroke-linecap="round"/>
<path d="M340.3,58.7 Q338.2,61.9 338.1,67.3" fill="none" stroke="#bfb314" stroke-width="1.2" stroke-linecap="round"/>
<path d="M338.7,59.4 Q340.0,65.6 338.6,67.7" fill="none" stroke="#bfb314" stroke-width="1.2" stroke-linecap="round"/>
<path d="M321.0,67.7 Q322.4,70.5 321.6,74.4" fill="none" stroke="#bfb314" stroke-width="1.2" stroke-linecap="round"/>
<path d="M315.4,63.6 Q311.5,63.4 311.2,66.9" fill="none" stroke="#ccc01a" stroke-width="1.2" stroke-linecap="round"/>
<path d="M364.2,62.4 Q365.5,62.6 369.5,62.9" fill="none" stroke="#ccc01a" stroke-width="1.2" stroke-linecap="round"/>
<path d="M385.5,73.7 Q390.8,75.8 392.5,80.4" fill="none" stroke="#ccc01a" stroke-width="1.2" stroke-linecap="round"/>
<path d="M376.0,68.0 Q380.5,72.2 381.9,75.1" fill="none" stroke="#bfb314" stroke-width="1.2" stroke-linecap="round"/>
<path d="M362.2,60.7 Q363.8,61.5 367.9,63.4" fill="none" stroke="#ccc01a" stroke-width="1.2" stroke-linecap="round"/>
<path d="M349.5,63.4 Q352.5,64.3 357.2,64.9" fill="none" stroke="#d8ce30" stroke-width="1.2" stroke-linecap="round"/>
<path d="M360.1,80.9 Q360.2,85.0 364.2,85.7" fill="none" stroke="#d8ce30" stroke-width="1.2" stroke-linecap="round"/>
<path d="M367.7,63.4 Q370.6,64.7 373.0,67.5" fill="none" stroke="#d8ce30" stroke-width="1.2" stroke-linecap="round"/>
<path d="M362.4,75.4 Q368.8,77.1 371.6,74.9" fill="none" stroke="#ccc01a" stroke-width="1.2" stroke-linecap="round"/>
<path d="M361.6,74.7 Q364.4,74.1 368.9,77.2" fill="none" stroke="#bfb314" stroke-width="1.2" stroke-linecap="round"/>
<path d="M377.8,67.7 Q380.1,69.4 382.4,69.8" fill="none" stroke="#bfb314" stroke-width="1.2" stroke-linecap="round"/>
<path d="M355.0,80.9 Q357.4,83.4 358.3,88.0" fill="none" stroke="#d8ce30" stroke-width="1.2" stroke-linecap="round"/>
<path d="M357.9,66.7 Q362.7,65.7 367.1,65.0" fill="none" stroke="#bfb314" stroke-width="1.2" stroke-linecap="round"/>
<path d="M385.2,78.2 Q389.9,79.8 393.6,78.2" fill="none" stroke="#d8ce30" stroke-width="1.2" stroke-linecap="round"/>
<path d="M349.8,69.2 Q355.6,69.1 359.6,71.1" fill="none" stroke="#d8ce30" stroke-width="1.2" stroke-linecap="round"/>
<path d="M359.2,77.6 Q362.6,79.9 364.8,81.1" fill="none" stroke="#ccc01a" stroke-width="1.2" stroke-linecap="round"/>
<path d="M357.7,72.8 Q359.8,73.5 363.0,78.2" fill="none" stroke="#bfb314" stroke-width="1.2" stroke-linecap="round"/>
<path d="M360.6,71.7 Q365.5,69.9 369.8,71.6" fill="none" stroke="#bfb314" stroke-width="1.2" stroke-linecap="round"/>
<path d="M365.0,72.5 Q368.0,73.3 371.5,77.5" fill="none" stroke="#ccc01a" stroke-width="1.2" stroke-linecap="round"/>
<path d="M350.6,79.1 Q354.1,81.6 359.5,80.8" fill="none" stroke="#d8ce30" stroke-width="1.2" stroke-linecap="round"/>
<path d="M348.3,64.1 Q348.0,65.8 350.5,68.9" fill="none" stroke="#d8ce30" stroke-width="1.2" stroke-linecap="round"/>
<path d="M366.3,68.6 Q367.5,71.8 370.9,72.4" fill="none" stroke="#bfb314" stroke-width="1.2" stroke-linecap="round"/>
<path d="M371.0,83.6 Q373.3,87.3 378.1,88.4" fill="none" stroke="#bfb314" stroke-width="1.2" stroke-linecap="round"/>
<path d="M372.3,74.1 Q376.4,71.4 379.2,69.6" fill="none" stroke="#d8ce30" stroke-width="1.2" stroke-linecap="round"/>
<path d="M351.6,62.1 Q355.2,63.1 358.0,61.9" fill="none" stroke="#bfb314" stroke-width="1.2" stroke-linecap="round"/>
<path d="M346.5,74.9 Q350.3,77.3 351.1,77.5" fill="none" stroke="#ccc01a" stroke-width="1.2" stroke-linecap="round"/>
<path d="M364.7,86.4 Q368.1,83.5 372.7,84.5" fill="none" stroke="#ccc01a" stroke-width="1.2" stroke-linecap="round"/>
<path d="M361.4,86.6 Q364.8,85.9 367.3,88.3" fill="none" stroke="#ccc01a" stroke-width="1.2" stroke-linecap="round"/>
<path d="M367.1,68.0 Q370.6,71.4 372.6,71.3" fill="none" stroke="#bfb314" stroke-width="1.2" stroke-linecap="round"/>
<path d="M360.7,58.3 Q362.4,60.7 363.8,62.4" fill="none" stroke="#bfb314" stroke-width="1.2" stroke-linecap="round"/>
<path d="M359.2,64.8 Q364.4,65.4 366.8,65.7" fill="none" stroke="#bfb314" stroke-width="1.2" stroke-linecap="round"/>
<path d="M376.3,76.8 Q381.1,77.1 382.5,78.5" fill="none" stroke="#bfb314" stroke-width="1.2" stroke-linecap="round"/>
<path d="M360.5,58.8 Q364.9,59.0 365.8,58.2" fill="none" stroke="#bfb314" stroke-width="1.2" stroke-linecap="round"/>
<path d="M346.7,66.0 Q349.1,69.0 352.1,71.0" fill="none" stroke="#d8ce30" stroke-width="1.2" stroke-linecap="round"/>
<path d="M384.0,78.1 Q386.9,75.5 393.6,76.3" fill="none" stroke="#ccc01a" stroke-width="1.2" stroke-linecap="round"/>
<path d="M349.0,70.3 Q353.0,71.1 355.3,70.2" fill="none" stroke="#bfb314" stroke-width="1.2" stroke-linecap="round"/>
<path d="M352.4,78.6 Q356.6,81.5 357.1,80.8" fill="none" stroke="#ccc01a" stroke-width="1.2" stroke-linecap="round"/>
<path d="M353.2,75.7 Q355.1,76.6 360.0,78.0" fill="none" stroke="#d8ce30" stroke-width="1.2" stroke-linecap="round"/>
<path d="M379.7,69.2 Q383.6,69.0 388.3,72.1" fill="none" stroke="#d8ce30" stroke-width="1.2" stroke-linecap="round"/>
<path d="M367.5,59.0 Q367.9,61.4 369.1,64.1" fill="none" stroke="#ccc01a" stroke-width="1.2" stroke-linecap="round"/>
<path d="M353.9,62.3 Q356.8,67.0 356.4,70.6" fill="none" stroke="#bfb314" stroke-width="1.2" stroke-linecap="round"/>
<path d="M358.3,62.8 Q363.0,63.2 367.5,64.4" fill="none" stroke="#bfb314" stroke-width="1.2" stroke-linecap="round"/>
<path d="M383.9,68.7 Q384.9,70.8 388.2,71.6" fill="none" stroke="#ccc01a" stroke-width="1.2" stroke-linecap="round"/>
<path d="M364.3,67.2 Q367.5,68.3 371.5,71.0" fill="none" stroke="#ccc01a" stroke-width="1.2" stroke-linecap="round"/>
<path d="M363.2,71.7 Q369.4,72.7 372.4,69.8" fill="none" stroke="#bfb314" stroke-width="1.2" stroke-linecap="round"/>
<path d="M354.8,62.1 Q358.9,65.6 362.2,65.2" fill="none" stroke="#bfb314" stroke-width="1.2" stroke-linecap="round"/>
<path d="M360.9,76.6 Q365.7,77.0 366.7,78.6" fill="none" stroke="#d8ce30" stroke-width="1.2" stroke-linecap="round"/>
<path d="M357.6,81.3 Q360.4,78.5 363.9,79.0" fill="none" stroke="#bfb314" stroke-width="1.2" stroke-linecap="round"/>
<path d="M353.3,66.8 Q355.6,70.0 361.4,72.6" fill="none" stroke="#ccc01a" stroke-width="1.2" stroke-linecap="round"/>
<path d="M466.7,47.4 Q467.2,52.4 466.0,55.3" fill="none" stroke="#d8ce30" stroke-width="1.2" stroke-linecap="round"/>
<path d="M450.5,40.4 Q452.0,39.7 456.3,42.8" fill="none" stroke="#d8ce30" stroke-width="1.2" stroke-linecap="round"/>
<path d="M443.4,48.0 Q447.3,49.0 453.0,49.4" fill="none" stroke="#d8ce30" stroke-width="1.2" stroke-linecap="round"/>
<path d="M471.7,47.6 Q475.1,52.6 478.6,54.3" fill="none" stroke="#bfb314" stroke-width="1.2" stroke-linecap="round"/>
<path d="M468.8,34.0 Q471.3,34.4 474.1,34.3" fill="none" stroke="#bfb314" stroke-width="1.2" stroke-linecap="round"/>
<path d="M445.3,60.9 Q447.2,63.6 450.8,64.8" fill="none" stroke="#d8ce30" stroke-width="1.2" stroke-linecap="round"/>
<path d="M456.7,31.5 Q459.2,33.5 464.5,34.9" fill="none" stroke="#d8ce30" stroke-width="1.2" stroke-linecap="round"/>
<path d="M442.7,29.7 Q446.9,34.6 448.1,36.1" fill="none" stroke="#ccc01a" stroke-width="1.2" stroke-linecap="round"/>
<path d="M463.0,57.3 Q463.3,57.5 466.0,61.5" fill="none" stroke="#ccc01a" stroke-width="1.2" stroke-linecap="round"/>
<path d="M455.0,62.9 Q457.2,65.6 460.6,65.2" fill="none" stroke="#ccc01a" stroke-width="1.2" stroke-linecap="round"/>
<path d="M459.6,58.1 Q463.8,58.9 464.7,57.4" fill="none" stroke="#bfb314" stroke-width="1.2" stroke-linecap="round"/>
<path d="M445.7,62.8 Q446.6,66.7 450.3,66.9" fill="none" stroke="#bfb314" stroke-width="1.2" stroke-linecap="round"/>
<path d="M453.4,63.2 Q453.0,66.4 455.0,68.8" fill="none" stroke="#ccc01a" stroke-width="1.2" stroke-linecap="round"/>
<path d="M450.7,47.0 Q454.8,49.0 456.0,51.2" fill="none" stroke="#ccc01a" stroke-width="1.2" stroke-linecap="round"/>
<path d="M440.7,45.7 Q444.0,44.4 445.8,46.7" fill="none" stroke="#d8ce30" stroke-width="1.2" stroke-linecap="round"/>
<path d="M453.3,47.7 Q456.6,50.5 456.0,52.5" fill="none" stroke="#bfb314" stroke-width="1.2" stroke-linecap="round"/>
<path d="M449.7,29.5 Q453.6,31.6 455.9,35.1" fill="none" stroke="#bfb314" stroke-width="1.2" stroke-linecap="round"/>
<path d="M469.0,40.4 Q472.8,41.1 473.2,43.3" fill="none" stroke="#ccc01a" stroke-width="1.2" stroke-linecap="round"/>
<path d="M462.3,38.1 Q465.9,39.6 466.7,41.5" fill="none" stroke="#d8ce30" stroke-width="1.2" stroke-linecap="round"/>
<path d="M443.6,39.0 Q445.0,44.3 446.7,47.9" fill="none" stroke="#ccc01a" stroke-width="1.2" stroke-linecap="round"/>
<path d="M454.0,38.4 Q457.6,38.4 461.5,38.2" fill="none" stroke="#d8ce30" stroke-width="1.2" stroke-linecap="round"/>
<path d="M469.5,43.9 Q470.9,43.9 475.9,44.3" fill="none" stroke="#d8ce30" stroke-width="1.2" stroke-linecap="round"/>
<path d="M436.0,50.0 Q438.9,54.8 440.4,58.1" fill="none" stroke="#d8ce30" stroke-width="1.2" stroke-linecap="round"/>
<path d="M460.5,34.7 Q463.3,33.3 468.4,35.0" fill="none" stroke="#d8ce30" stroke-width="1.2" stroke-linecap="round"/>
<path d="M467.1,55.4 Q470.0,56.0 474.5,53.7" fill="none" stroke="#d8ce30" stroke-width="1.2" stroke-linecap="round"/>
<path d="M438.9,56.5 Q440.8,61.1 440.4,64.0" fill="none" stroke="#ccc01a" stroke-width="1.2" stroke-linecap="round"/>
<path d="M440.8,59.5 Q442.6,64.2 443.7,68.6" fill="none" stroke="#ccc01a" stroke-width="1.2" stroke-linecap="round"/>
<path d="M464.2,34.6 Q464.4,37.8 466.8,41.5" fill="none" stroke="#d8ce30" stroke-width="1.2" stroke-linecap="round"/>
<path d="M463.9,56.7 Q467.3,58.9 468.9,57.6" fill="none" stroke="#d8ce30" stroke-width="1.2" stroke-linecap="round"/>
<path d="M438.1,56.1 Q438.6,60.9 441.1,63.3" fill="none" stroke="#d8ce30" stroke-width="1.2" stroke-linecap="round"/>
<path d="M453.7,26.8 Q456.3,30.6 457.1,32.6" fill="none" stroke="#ccc01a" stroke-width="1.2" stroke-linecap="round"/>
<path d="M452.3,55.0 Q458.1,55.3 461.4,52.4" fill="none" stroke="#d8ce30" stroke-width="1.2" stroke-linecap="round"/>
<path d="M441.3,42.0 Q446.6,38.1 448.3,37.9" fill="none" stroke="#d8ce30" stroke-width="1.2" stroke-linecap="round"/>
<path d="M439.1,52.8 Q442.9,53.6 447.4,53.3" fill="none" stroke="#ccc01a" stroke-width="1.2" stroke-linecap="round"/>
<path d="M451.5,31.0 Q454.4,33.5 456.0,39.5" fill="none" stroke="#ccc01a" stroke-width="1.2" stroke-linecap="round"/>
<path d="M462.7,44.0 Q467.5,46.9 471.3,48.5" fill="none" stroke="#d8ce30" stroke-width="1.2" stroke-linecap="round"/>
<path d="M445.3,48.9 Q447.0,50.3 452.2,51.8" fill="none" stroke="#bfb314" stroke-width="1.2" stroke-linecap="round"/>
<path d="M448.5,27.7 Q451.5,27.7 454.0,28.7" fill="none" stroke="#d8ce30" stroke-width="1.2" stroke-linecap="round"/>
<path d="M455.7,50.7 Q455.0,54.0 458.2,56.1" fill="none" stroke="#d8ce30" stroke-width="1.2" stroke-linecap="round"/>
<path d="M462.2,36.5 Q466.1,36.3 467.1,39.7" fill="none" stroke="#ccc01a" stroke-width="1.2" stroke-linecap="round"/>
<path d="M457.0,32.2 Q459.8,32.3 463.6,35.1" fill="none" stroke="#bfb314" stroke-width="1.2" stroke-linecap="round"/>
<path d="M472.1,38.9 Q475.8,40.3 476.5,42.7" fill="none" stroke="#ccc01a" stroke-width="1.2" stroke-linecap="round"/>
<path d="M469.0,36.2 Q473.6,39.4 474.4,40.2" fill="none" stroke="#d8ce30" stroke-width="1.2" stroke-linecap="round"/>
<path d="M447.5,28.6 Q450.0,29.6 451.3,33.2" fill="none" stroke="#ccc01a" stroke-width="1.2" stroke-linecap="round"/>
<path d="M456.8,60.8 Q458.7,64.3 461.6,66.0" fill="none" stroke="#ccc01a" stroke-width="1.2" stroke-linecap="round"/>
<path d="M451.3,40.8 Q453.0,39.7 456.1,42.6" fill="none" stroke="#d8ce30" stroke-width="1.2" stroke-linecap="round"/>
<path d="M469.5,44.2 Q473.2,44.1 475.5,46.7" fill="none" stroke="#d8ce30" stroke-width="1.2" stroke-linecap="round"/>
<path d="M438.6,41.0 Q443.4,40.9 444.1,44.0" fill="none" stroke="#d8ce30" stroke-width="1.2" stroke-linecap="round"/>
<path d="M442.4,53.8 Q443.4,59.3 447.4,61.0" fill="none" stroke="#d8ce30" stroke-width="1.2" stroke-linecap="round"/>
<path d="M447.1,48.5 Q452.4,51.3 454.6,51.0" fill="none" stroke="#bfb314" stroke-width="1.2" stroke-linecap="round"/>
<path d="M447.7,62.9 Q450.2,63.2 453.4,63.0" fill="none" stroke="#ccc01a" stroke-width="1.2" stroke-linecap="round"/>
<path d="M458.6,55.1 Q463.8,55.8 465.4,57.3" fill="none" stroke="#bfb314" stroke-width="1.2" stroke-linecap="round"/>
<path d="M443.9,55.0 Q447.5,56.7 452.9,59.3" fill="none" stroke="#d8ce30" stroke-width="1.2" stroke-linecap="round"/>
<path d="M456.2,47.7 Q460.2,46.5 462.4,48.4" fill="none" stroke="#d8ce30" stroke-width="1.2" stroke-linecap="round"/>
<path d="M468.5,32.1 Q469.4,35.8 472.5,39.7" fill="none" stroke="#d8ce30" stroke-width="1.2" stroke-linecap="round"/>
<path d="M420.3,71.3 Q422.7,74.6 427.1,76.2" fill="none" stroke="#bfb314" stroke-width="1.2" stroke-linecap="round"/>
<path d="M419.7,77.2 Q421.4,83.7 421.9,86.5" fill="none" stroke="#ccc01a" stroke-width="1.2" stroke-linecap="round"/>
<path d="M432.3,67.4 Q435.6,68.8 437.1,69.6" fill="none" stroke="#d8ce30" stroke-width="1.2" stroke-linecap="round"/>
<path d="M413.0,72.8 Q417.0,74.0 417.5,78.0" fill="none" stroke="#d8ce30" stroke-width="1.2" stroke-linecap="round"/>
<path d="M427.9,87.0 Q428.4,90.8 432.1,93.5" fill="none" stroke="#ccc01a" stroke-width="1.2" stroke-linecap="round"/>
<path d="M429.0,61.9 Q434.1,61.8 436.5,64.4" fill="none" stroke="#bfb314" stroke-width="1.2" stroke-linecap="round"/>
<path d="M406.2,65.2 Q410.8,68.5 414.0,70.0" fill="none" stroke="#bfb314" stroke-width="1.2" stroke-linecap="round"/>
<path d="M421.0,76.7 Q424.6,82.2 426.8,84.0" fill="none" stroke="#bfb314" stroke-width="1.2" stroke-linecap="round"/>
<path d="M423.8,65.8 Q427.6,68.4 428.6,71.1" fill="none" stroke="#d8ce30" stroke-width="1.2" stroke-linecap="round"/>
<path d="M414.6,57.2 Q415.3,60.3 417.2,64.4" fill="none" stroke="#ccc01a" stroke-width="1.2" stroke-linecap="round"/>
<path d="M414.9,65.9 Q419.0,68.7 419.8,71.6" fill="none" stroke="#bfb314" stroke-width="1.2" stroke-linecap="round"/>
<path d="M419.3,87.4 Q420.4,88.8 424.6,88.6" fill="none" stroke="#d8ce30" stroke-width="1.2" stroke-linecap="round"/>
<path d="M402.9,65.8 Q404.9,69.3 406.0,70.7" fill="none" stroke="#bfb314" stroke-width="1.2" stroke-linecap="round"/>
<path d="M430.2,72.3 Q433.3,76.3 433.2,78.5" fill="none" stroke="#ccc01a" stroke-width="1.2" stroke-linecap="round"/>
<path d="M434.4,83.4 Q435.9,84.5 435.4,89.0" fill="none" stroke="#d8ce30" stroke-width="1.2" stroke-linecap="round"/>
<path d="M413.1,58.9 Q415.2,61.0 413.5,64.8" fill="none" stroke="#ccc01a" stroke-width="1.2" stroke-linecap="round"/>
<path d="M423.3,59.0 Q427.0,62.1 429.4,65.4" fill="none" stroke="#ccc01a" stroke-width="1.2" stroke-linecap="round"/>
<path d="M410.3,63.8 Q412.3,67.2 414.9,68.4" fill="none" stroke="#ccc01a" stroke-width="1.2" stroke-linecap="round"/>
<path d="M425.8,61.8 Q428.1,66.0 431.0,66.8" fill="none" stroke="#ccc01a" stroke-width="1.2" stroke-linecap="round"/>
<path d="M437.4,75.1 Q440.5,78.8 443.4,82.1" fill="none" stroke="#bfb314" stroke-width="1.2" stroke-linecap="round"/>
<path d="M411.4,67.3 Q413.9,69.6 414.4,73.1" fill="none" stroke="#bfb314" stroke-width="1.2" stroke-linecap="round"/>
<path d="M427.2,66.2 Q427.4,70.7 428.2,72.4" fill="none" stroke="#bfb314" stroke-width="1.2" stroke-linecap="round"/>
<path d="M419.3,65.7 Q418.4,69.4 420.5,71.5" fill="none" stroke="#d8ce30" stroke-width="1.2" stroke-linecap="round"/>
<path d="M411.1,86.1 Q416.1,89.7 418.7,91.2" fill="none" stroke="#bfb314" stroke-width="1.2" stroke-linecap="round"/>
<path d="M414.6,74.2 Q418.5,74.7 421.2,76.2" fill="none" stroke="#bfb314" stroke-width="1.2" stroke-linecap="round"/>
<path d="M428.1,68.7 Q429.2,71.2 433.0,75.5" fill="none" stroke="#d8ce30" stroke-width="1.2" stroke-linecap="round"/>
<path d="M431.3,70.5 Q433.4,73.0 432.2,77.0" fill="none" stroke="#bfb314" stroke-width="1.2" stroke-linecap="round"/>
<path d="M421.2,82.1 Q423.0,87.3 424.5,91.4" fill="none" stroke="#d8ce30" stroke-width="1.2" stroke-linecap="round"/>
<path d="M407.1,72.9 Q408.5,74.3 410.2,78.1" fill="none" stroke="#bfb314" stroke-width="1.2" stroke-linecap="round"/>
<path d="M414.9,67.0 Q418.0,69.2 420.5,69.2" fill="none" stroke="#bfb314" stroke-width="1.2" stroke-linecap="round"/>
<path d="M419.0,54.3 Q418.8,56.2 422.4,58.5" fill="none" stroke="#d8ce30" stroke-width="1.2" stroke-linecap="round"/>
<path d="M424.6,67.9 Q428.1,67.1 432.1,68.2" fill="none" stroke="#ccc01a" stroke-width="1.2" stroke-linecap="round"/>
<path d="M407.0,80.1 Q412.4,80.6 415.3,84.3" fill="none" stroke="#d8ce30" stroke-width="1.2" stroke-linecap="round"/>
<path d="M426.2,77.5 Q429.1,78.3 431.1,80.7" fill="none" stroke="#bfb314" stroke-width="1.2" stroke-linecap="round"/>
<path d="M414.9,85.6 Q418.4,90.0 422.2,92.1" fill="none" stroke="#d8ce30" stroke-width="1.2" stroke-linecap="round"/>
<path d="M407.8,62.8 Q413.7,63.6 417.1,62.6" fill="none" stroke="#d8ce30" stroke-width="1.2" stroke-linecap="round"/>
<path d="M417.6,84.5 Q422.9,85.2 426.3,83.0" fill="none" stroke="#bfb314" stroke-width="1.2" stroke-linecap="round"/>
<path d="M408.2,65.6 Q410.8,67.5 412.6,72.5" fill="none" stroke="#bfb314" stroke-width="1.2" stroke-linecap="round"/>
<path d="M431.5,63.7 Q434.9,68.2 436.2,71.9" fill="none" stroke="#d8ce30" stroke-width="1.2" stroke-linecap="round"/>
<path d="M414.1,59.5 Q416.5,60.8 419.4,65.8" fill="none" stroke="#ccc01a" stroke-width="1.2" stroke-linecap="round"/>
<path d="M435.5,67.7 Q437.6,67.9 439.1,72.1" fill="none" stroke="#ccc01a" stroke-width="1.2" stroke-linecap="round"/>
<path d="M434.9,79.3 Q437.1,84.0 436.6,84.9" fill="none" stroke="#ccc01a" stroke-width="1.2" stroke-linecap="round"/>
<path d="M419.6,88.5 Q422.8,88.5 427.1,89.1" fill="none" stroke="#ccc01a" stroke-width="1.2" stroke-linecap="round"/>
<path d="M435.4,83.9 Q437.4,83.8 440.7,85.7" fill="none" stroke="#d8ce30" stroke-width="1.2" stroke-linecap="round"/>
<path d="M431.8,83.8 Q435.3,87.4 436.5,88.7" fill="none" stroke="#d8ce30" stroke-width="1.2" stroke-linecap="round"/>
<path d="M422.6,83.8 Q425.5,84.4 427.8,87.9" fill="none" stroke="#ccc01a" stroke-width="1.2" stroke-linecap="round"/>
<path d="M420.5,75.4 Q425.8,72.8 429.7,72.4" fill="none" stroke="#bfb314" stroke-width="1.2" stroke-linecap="round"/>
<path d="M420.7,64.4 Q423.7,66.7 426.0,66.4" fill="none" stroke="#bfb314" stroke-width="1.2" stroke-linecap="round"/>
<path d="M422.4,60.1 Q424.5,61.1 429.1,59.4" fill="none" stroke="#ccc01a" stroke-width="1.2" stroke-linecap="round"/>
<path d="M413.6,61.3 Q413.9,65.8 417.6,67.5" fill="none" stroke="#ccc01a" stroke-width="1.2" stroke-linecap="round"/>
<path d="M422.6,67.9 Q426.4,72.2 427.7,73.1" fill="none" stroke="#d8ce30" stroke-width="1.2" stroke-linecap="round"/>
<path d="M415.0,69.4 Q419.1,69.6 420.2,71.1" fill="none" stroke="#ccc01a" stroke-width="1.2" stroke-linecap="round"/>
<path d="M412.6,57.1 Q413.0,61.9 415.9,63.6" fill="none" stroke="#d8ce30" stroke-width="1.2" stroke-linecap="round"/>
<path d="M426.9,59.1 Q431.2,59.0 436.1,59.6" fill="none" stroke="#bfb314" stroke-width="1.2" stroke-linecap="round"/>
<path d="M432.3,75.4 Q434.0,77.8 436.3,80.0" fill="none" stroke="#bfb314" stroke-width="1.2" stroke-linecap="round"/>
<path d="M434.5,86.0 Q436.8,86.5 439.4,90.7" fill="none" stroke="#d8ce30" stroke-width="1.2" stroke-linecap="round"/>
<path d="M423.4,69.6 Q424.0,70.8 426.3,75.2" fill="none" stroke="#ccc01a" stroke-width="1.2" stroke-linecap="round"/>
<path d="M429.1,84.1 Q430.2,85.3 435.0,90.5" fill="none" stroke="#d8ce30" stroke-width="1.2" stroke-linecap="round"/>
<path d="M432.3,61.3 Q434.1,62.7 436.0,65.4" fill="none" stroke="#bfb314" stroke-width="1.2" stroke-linecap="round"/>
<path d="M414.7,80.7 Q420.8,82.0 423.8,81.4" fill="none" stroke="#d8ce30" stroke-width="1.2" stroke-linecap="round"/>
<path d="M377.3,125.6 Q378.6,131.9 376.0,135.0" fill="none" stroke="#d8ce30" stroke-width="1.2" stroke-linecap="round"/>
<path d="M394.8,129.5 Q398.2,131.7 400.8,136.8" fill="none" stroke="#ccc01a" stroke-width="1.2" stroke-linecap="round"/>
<path d="M411.8,127.3 Q414.7,131.2 419.2,132.1" fill="none" stroke="#ccc01a" stroke-width="1.2" stroke-linecap="round"/>
<path d="M380.0,125.9 Q381.2,130.4 380.8,132.7" fill="none" stroke="#ccc01a" stroke-width="1.2" stroke-linecap="round"/>
<path d="M398.1,125.1 Q400.0,128.1 405.3,131.6" fill="none" stroke="#ccc01a" stroke-width="1.2" stroke-linecap="round"/>
<path d="M412.3,120.5 Q416.7,122.9 417.5,128.3" fill="none" stroke="#bfb314" stroke-width="1.2" stroke-linecap="round"/>
<path d="M392.9,117.6 Q392.9,121.4 392.7,125.1" fill="none" stroke="#ccc01a" stroke-width="1.2" stroke-linecap="round"/>
<path d="M379.5,133.9 Q379.8,139.9 376.9,143.2" fill="none" stroke="#ccc01a" stroke-width="1.2" stroke-linecap="round"/>
<path d="M410.4,131.8 Q414.9,133.8 418.2,137.4" fill="none" stroke="#d8ce30" stroke-width="1.2" stroke-linecap="round"/>
<path d="M386.1,121.3 Q384.7,124.8 386.9,130.5" fill="none" stroke="#ccc01a" stroke-width="1.2" stroke-linecap="round"/>
<path d="M396.9,139.1 Q398.6,141.0 399.5,145.9" fill="none" stroke="#bfb314" stroke-width="1.2" stroke-linecap="round"/>
<path d="M398.0,135.8 Q395.6,138.4 393.0,139.7" fill="none" stroke="#bfb314" stroke-width="1.2" stroke-linecap="round"/>
<path d="M413.1,132.4 Q413.7,133.9 412.3,138.6" fill="none" stroke="#ccc01a" stroke-width="1.2" stroke-linecap="round"/>
<path d="M385.7,140.4 Q385.0,145.1 387.7,147.9" fill="none" stroke="#d8ce30" stroke-width="1.2" stroke-linecap="round"/>
<path d="M385.3,117.0 Q382.0,119.6 379.0,120.9" fill="none" stroke="#d8ce30" stroke-width="1.2" stroke-linecap="round"/>
<path d="M398.7,122.3 Q403.0,124.5 403.5,124.6" fill="none" stroke="#bfb314" stroke-width="1.2" stroke-linecap="round"/>
<path d="M385.8,136.6 Q386.6,140.5 385.9,143.9" fill="none" stroke="#ccc01a" stroke-width="1.2" stroke-linecap="round"/>
<path d="M394.9,137.9 Q395.2,141.2 393.0,143.2" fill="none" stroke="#d8ce30" stroke-width="1.2" stroke-linecap="round"/>
<path d="M388.1,132.8 Q388.1,137.1 391.6,140.1" fill="none" stroke="#ccc01a" stroke-width="1.2" stroke-linecap="round"/>
<path d="M396.8,138.4 Q396.1,141.0 395.8,143.6" fill="none" stroke="#ccc01a" stroke-width="1.2" stroke-linecap="round"/>
<path d="M401.1,141.8 Q404.3,144.2 404.5,145.7" fill="none" stroke="#bfb314" stroke-width="1.2" stroke-linecap="round"/>
<path d="M388.9,116.4 Q390.8,119.0 392.8,121.7" fill="none" stroke="#ccc01a" stroke-width="1.2" stroke-linecap="round"/>
<path d="M387.7,140.1 Q391.9,139.9 397.0,143.6" fill="none" stroke="#bfb314" stroke-width="1.2" stroke-linecap="round"/>
<path d="M404.9,128.7 Q406.2,131.6 404.5,134.0" fill="none" stroke="#d8ce30" stroke-width="1.2" stroke-linecap="round"/>
<path d="M411.8,122.3 Q414.5,126.4 418.4,126.8" fill="none" stroke="#ccc01a" stroke-width="1.2" stroke-linecap="round"/>
<path d="M405.5,128.8 Q404.8,131.7 403.9,135.2" fill="none" stroke="#d8ce30" stroke-width="1.2" stroke-linecap="round"/>
<path d="M396.4,121.9 Q395.6,125.0 398.2,129.3" fill="none" stroke="#bfb314" stroke-width="1.2" stroke-linecap="round"/>
<path d="M402.9,116.1 Q400.8,118.2 399.9,122.3" fill="none" stroke="#ccc01a" stroke-width="1.2" stroke-linecap="round"/>
<path d="M412.4,133.5 Q413.3,138.4 417.2,139.7" fill="none" stroke="#d8ce30" stroke-width="1.2" stroke-linecap="round"/>
<path d="M383.5,128.6 Q384.3,130.4 388.8,135.5" fill="none" stroke="#ccc01a" stroke-width="1.2" stroke-linecap="round"/>
<path d="M391.6,123.1 Q395.8,127.1 396.0,128.0" fill="none" stroke="#d8ce30" stroke-width="1.2" stroke-linecap="round"/>
<path d="M382.5,123.2 Q385.3,122.7 387.4,125.7" fill="none" stroke="#ccc01a" stroke-width="1.2" stroke-linecap="round"/>
<path d="M389.4,129.7 Q391.5,131.2 391.1,135.6" fill="none" stroke="#d8ce30" stroke-width="1.2" stroke-linecap="round"/>
<path d="M399.2,127.5 Q401.9,127.4 403.0,131.0" fill="none" stroke="#d8ce30" stroke-width="1.2" stroke-linecap="round"/>
<path d="M395.8,113.5 Q397.0,119.1 399.0,123.0" fill="none" stroke="#d8ce30" stroke-width="1.2" stroke-linecap="round"/>
<path d="M394.5,117.3 Q395.5,122.6 393.5,126.5" fill="none" stroke="#bfb314" stroke-width="1.2" stroke-linecap="round"/>
<path d="M385.2,125.6 Q387.6,130.0 386.3,132.4" fill="none" stroke="#d8ce30" stroke-width="1.2" stroke-linecap="round"/>
<path d="M398.1,127.4 Q399.6,131.5 399.5,136.9" fill="none" stroke="#bfb314" stroke-width="1.2" stroke-linecap="round"/>
<path d="M407.6,139.7 Q406.1,142.7 408.4,145.8" fill="none" stroke="#bfb314" stroke-width="1.2" stroke-linecap="round"/>
<path d="M394.6,125.9 Q393.3,129.3 393.6,135.2" fill="none" stroke="#bfb314" stroke-width="1.2" stroke-linecap="round"/>
<path d="M382.3,133.8 Q383.7,137.7 383.7,138.9" fill="none" stroke="#d8ce30" stroke-width="1.2" stroke-linecap="round"/>
<path d="M387.9,152.0 Q391.3,148.9 394.7,148.9" fill="none" stroke="#ccc01a" stroke-width="1.2" stroke-linecap="round"/>
<path d="M400.5,143.8 Q403.0,142.2 407.3,144.3" fill="none" stroke="#bfb314" stroke-width="1.2" stroke-linecap="round"/>
<path d="M390.7,168.2 Q393.2,166.8 396.8,167.0" fill="none" stroke="#ccc01a" stroke-width="1.2" stroke-linecap="round"/>
<path d="M398.5,166.2 Q401.2,167.6 404.8,166.7" fill="none" stroke="#ccc01a" stroke-width="1.2" stroke-linecap="round"/>
<path d="M401.4,153.2 Q404.0,150.5 407.1,150.7" fill="none" stroke="#bfb314" stroke-width="1.2" stroke-linecap="round"/>
<path d="M388.5,149.2 Q390.5,149.2 395.7,147.6" fill="none" stroke="#bfb314" stroke-width="1.2" stroke-linecap="round"/>
<path d="M414.1,156.6 Q416.9,157.8 418.6,159.3" fill="none" stroke="#d8ce30" stroke-width="1.2" stroke-linecap="round"/>
<path d="M396.9,171.5 Q398.6,168.8 402.6,170.0" fill="none" stroke="#ccc01a" stroke-width="1.2" stroke-linecap="round"/>
<path d="M398.5,152.6 Q401.2,147.9 401.2,143.8" fill="none" stroke="#d8ce30" stroke-width="1.2" stroke-linecap="round"/>
<path d="M404.0,159.2 Q407.6,155.8 410.1,155.2" fill="none" stroke="#d8ce30" stroke-width="1.2" stroke-linecap="round"/>
<path d="M400.6,169.1 Q406.3,171.5 409.4,171.5" fill="none" stroke="#ccc01a" stroke-width="1.2" stroke-linecap="round"/>
<path d="M392.1,148.9 Q393.6,145.9 398.1,144.8" fill="none" stroke="#bfb314" stroke-width="1.2" stroke-linecap="round"/>
<path d="M411.0,167.3 Q414.9,168.0 420.6,167.8" fill="none" stroke="#ccc01a" stroke-width="1.2" stroke-linecap="round"/>
<path d="M403.0,160.3 Q408.3,159.2 409.6,156.2" fill="none" stroke="#bfb314" stroke-width="1.2" stroke-linecap="round"/>
<path d="M413.0,162.9 Q417.4,161.8 422.1,161.1" fill="none" stroke="#ccc01a" stroke-width="1.2" stroke-linecap="round"/>
<path d="M405.6,166.0 Q409.7,166.1 413.9,164.9" fill="none" stroke="#ccc01a" stroke-width="1.2" stroke-linecap="round"/>
<path d="M386.7,167.8 Q392.0,166.6 394.3,165.0" fill="none" stroke="#ccc01a" stroke-width="1.2" stroke-linecap="round"/>
<path d="M405.6,169.6 Q408.9,167.2 413.3,168.1" fill="none" stroke="#d8ce30" stroke-width="1.2" stroke-linecap="round"/>
<path d="M417.5,158.1 Q418.8,158.0 423.7,157.4" fill="none" stroke="#bfb314" stroke-width="1.2" stroke-linecap="round"/>
<path d="M413.4,156.2 Q415.5,157.6 420.8,156.4" fill="none" stroke="#bfb314" stroke-width="1.2" stroke-linecap="round"/>
<path d="M402.3,149.3 Q407.7,152.0 409.7,152.6" fill="none" stroke="#bfb314" stroke-width="1.2" stroke-linecap="round"/>
<path d="M409.0,158.0 Q413.4,157.4 415.2,159.2" fill="none" stroke="#d8ce30" stroke-width="1.2" stroke-linecap="round"/>
<path d="M395.2,170.8 Q397.2,173.9 401.2,175.8" fill="none" stroke="#bfb314" stroke-width="1.2" stroke-linecap="round"/>
<path d="M409.8,164.1 Q412.5,164.5 417.7,163.4" fill="none" stroke="#bfb314" stroke-width="1.2" stroke-linecap="round"/>
<path d="M390.8,153.8 Q396.9,155.6 400.4,154.7" fill="none" stroke="#ccc01a" stroke-width="1.2" stroke-linecap="round"/>
<path d="M405.1,169.3 Q408.3,167.8 412.4,165.7" fill="none" stroke="#ccc01a" stroke-width="1.2" stroke-linecap="round"/>
<path d="M405.8,148.9 Q407.0,149.3 411.1,147.3" fill="none" stroke="#bfb314" stroke-width="1.2" stroke-linecap="round"/>
<path d="M401.0,160.0 Q404.8,157.6 408.2,157.2" fill="none" stroke="#ccc01a" stroke-width="1.2" stroke-linecap="round"/>
<path d="M402.5,151.3 Q406.4,147.7 406.8,147.9" fill="none" stroke="#bfb314" stroke-width="1.2" stroke-linecap="round"/>
<path d="M400.6,155.6 Q402.5,154.6 406.5,155.4" fill="none" stroke="#ccc01a" stroke-width="1.2" stroke-linecap="round"/>
<path d="M388.1,164.4 Q392.6,164.4 395.7,162.1" fill="none" stroke="#bfb314" stroke-width="1.2" stroke-linecap="round"/>
<path d="M398.0,146.6 Q400.0,142.6 403.8,141.8" fill="none" stroke="#bfb314" stroke-width="1.2" stroke-linecap="round"/>
<path d="M404.6,158.0 Q408.1,156.7 413.3,156.4" fill="none" stroke="#bfb314" stroke-width="1.2" stroke-linecap="round"/>
<path d="M400.7,168.4 Q404.5,167.5 408.2,166.4" fill="none" stroke="#bfb314" stroke-width="1.2" stroke-linecap="round"/>
<path d="M404.4,153.2 Q405.2,153.9 409.8,153.9" fill="none" stroke="#d8ce30" stroke-width="1.2" stroke-linecap="round"/>
<path d="M413.0,147.9 Q418.3,150.7 420.8,152.1" fill="none" stroke="#bfb314" stroke-width="1.2" stroke-linecap="round"/>
<path d="M406.7,158.2 Q410.1,158.7 412.1,157.6" fill="none" stroke="#bfb314" stroke-width="1.2" stroke-linecap="round"/>
<path d="M399.8,163.7 Q402.5,159.2 406.9,158.6" fill="none" stroke="#ccc01a" stroke-width="1.2" stroke-linecap="round"/>
<path d="M388.0,164.3 Q390.8,167.3 393.5,166.3" fill="none" stroke="#ccc01a" stroke-width="1.2" stroke-linecap="round"/>
<path d="M405.8,155.1 Q407.8,157.2 413.3,157.0" fill="none" stroke="#ccc01a" stroke-width="1.2" stroke-linecap="round"/>
<path d="M413.5,152.0 Q416.5,155.1 417.2,157.2" fill="none" stroke="#bfb314" stroke-width="1.2" stroke-linecap="round"/>
<path d="M368.7,123.4 Q368.5,126.4 369.4,129.3" fill="none" stroke="#d8ce30" stroke-width="1.2" stroke-linecap="round"/>
<path d="M353.9,119.5 Q356.0,120.3 359.9,123.9" fill="none" stroke="#ccc01a" stroke-width="1.2" stroke-linecap="round"/>
<path d="M365.1,112.9 Q367.1,116.5 368.0,119.0" fill="none" stroke="#ccc01a" stroke-width="1.2" stroke-linecap="round"/>
<path d="M370.1,121.1 Q373.9,121.9 376.0,123.2" fill="none" stroke="#d8ce30" stroke-width="1.2" stroke-linecap="round"/>
<path d="M370.7,123.5 Q374.1,126.6 380.3,126.3" fill="none" stroke="#bfb314" stroke-width="1.2" stroke-linecap="round"/>
<path d="M358.8,135.1 Q359.4,140.8 363.3,142.6" fill="none" stroke="#ccc01a" stroke-width="1.2" stroke-linecap="round"/>
<path d="M359.5,132.8 Q361.3,136.0 359.6,142.4" fill="none" stroke="#bfb314" stroke-width="1.2" stroke-linecap="round"/>
<path d="M362.4,120.6 Q367.2,124.5 370.9,125.6" fill="none" stroke="#d8ce30" stroke-width="1.2" stroke-linecap="round"/>
<path d="M368.5,125.2 Q371.0,126.0 374.1,129.0" fill="none" stroke="#ccc01a" stroke-width="1.2" stroke-linecap="round"/>
<path d="M360.1,130.7 Q363.6,129.7 366.3,131.9" fill="none" stroke="#ccc01a" stroke-width="1.2" stroke-linecap="round"/>
<path d="M360.0,112.5 Q364.3,114.0 365.1,117.3" fill="none" stroke="#ccc01a" stroke-width="1.2" stroke-linecap="round"/>
<path d="M364.9,123.4 Q365.4,126.0 369.2,127.4" fill="none" stroke="#ccc01a" stroke-width="1.2" stroke-linecap="round"/>
<path d="M368.5,137.4 Q373.6,139.3 375.7,140.8" fill="none" stroke="#ccc01a" stroke-width="1.2" stroke-linecap="round"/>
<path d="M364.2,123.9 Q367.1,129.0 367.3,131.8" fill="none" stroke="#ccc01a" stroke-width="1.2" stroke-linecap="round"/>
<path d="M358.0,122.0 Q360.8,125.8 360.4,127.8" fill="none" stroke="#d8ce30" stroke-width="1.2" stroke-linecap="round"/>
<path d="M360.0,129.2 Q362.4,130.2 365.6,134.1" fill="none" stroke="#d8ce30" stroke-width="1.2" stroke-linecap="round"/>
<path d="M374.9,124.8 Q376.3,127.2 374.9,131.8" fill="none" stroke="#bfb314" stroke-width="1.2" stroke-linecap="round"/>
<path d="M356.2,115.1 Q356.5,119.4 359.7,121.8" fill="none" stroke="#bfb314" stroke-width="1.2" stroke-linecap="round"/>
<path d="M361.9,121.3 Q365.6,122.7 370.4,122.3" fill="none" stroke="#bfb314" stroke-width="1.2" stroke-linecap="round"/>
<path d="M370.5,118.3 Q375.1,119.9 376.0,121.7" fill="none" stroke="#d8ce30" stroke-width="1.2" stroke-linecap="round"/>
<path d="M361.6,123.1 Q367.4,121.4 371.1,122.5" fill="none" stroke="#d8ce30" stroke-width="1.2" stroke-linecap="round"/>
<path d="M378.0,129.1 Q379.7,132.1 379.4,133.9" fill="none" stroke="#ccc01a" stroke-width="1.2" stroke-linecap="round"/>
<path d="M367.6,124.1 Q369.8,127.5 369.6,131.1" fill="none" stroke="#ccc01a" stroke-width="1.2" stroke-linecap="round"/>
<path d="M370.2,131.5 Q371.7,132.4 375.7,136.8" fill="none" stroke="#ccc01a" stroke-width="1.2" stroke-linecap="round"/>
</g>
<line x1="366.6" y1="133.8" x2="366.7" y2="138.0" stroke="#141414" stroke-width="0.85"/>
<line x1="370.3" y1="131.6" x2="370.6" y2="136.0" stroke="#141414" stroke-width="0.85"/>
<line x1="371.3" y1="130.7" x2="373.9" y2="132.6" stroke="#141414" stroke-width="0.85"/>
<line x1="375.2" y1="136.3" x2="370.8" y2="137.6" stroke="#141414" stroke-width="0.85"/>
<line x1="368.4" y1="126.8" x2="371.5" y2="130.6" stroke="#141414" stroke-width="0.85"/>
<line x1="363.9" y1="129.8" x2="366.4" y2="134.9" stroke="#141414" stroke-width="0.85"/>
<line x1="363.7" y1="137.0" x2="367.1" y2="137.1" stroke="#141414" stroke-width="0.85"/>
<line x1="366.3" y1="132.6" x2="371.0" y2="133.6" stroke="#141414" stroke-width="0.85"/>
<line x1="373.9" y1="125.4" x2="372.9" y2="131.0" stroke="#141414" stroke-width="0.85"/>
<line x1="371.1" y1="130.1" x2="368.7" y2="134.0" stroke="#141414" stroke-width="0.85"/>
<line x1="365.4" y1="128.7" x2="367.8" y2="131.5" stroke="#141414" stroke-width="0.85"/>
<line x1="370.6" y1="130.2" x2="374.1" y2="134.4" stroke="#141414" stroke-width="0.85"/>
<line x1="371.9" y1="132.4" x2="369.4" y2="134.4" stroke="#141414" stroke-width="0.85"/>
<line x1="375.9" y1="126.5" x2="373.0" y2="131.0" stroke="#141414" stroke-width="0.85"/>
<line x1="372.7" y1="129.2" x2="368.7" y2="129.9" stroke="#141414" stroke-width="0.85"/>
<line x1="371.6" y1="130.5" x2="369.5" y2="136.0" stroke="#141414" stroke-width="0.85"/>
<line x1="374.7" y1="135.8" x2="372.1" y2="138.3" stroke="#141414" stroke-width="0.85"/>
<line x1="368.6" y1="132.9" x2="365.7" y2="137.9" stroke="#141414" stroke-width="0.85"/>
<line x1="370.9" y1="135.5" x2="366.1" y2="135.8" stroke="#141414" stroke-width="0.85"/>
<line x1="370.6" y1="131.8" x2="370.9" y2="135.9" stroke="#141414" stroke-width="0.85"/>
<line x1="366.5" y1="133.3" x2="362.0" y2="134.1" stroke="#141414" stroke-width="0.85"/>
<line x1="373.6" y1="127.8" x2="369.9" y2="129.5" stroke="#141414" stroke-width="0.85"/>
<line x1="368.1" y1="136.3" x2="369.8" y2="139.6" stroke="#141414" stroke-width="0.85"/>
<line x1="370.9" y1="132.2" x2="375.2" y2="134.2" stroke="#141414" stroke-width="0.85"/>
<line x1="365.3" y1="132.7" x2="367.6" y2="134.9" stroke="#141414" stroke-width="0.85"/>
<line x1="370.8" y1="130.9" x2="368.3" y2="133.5" stroke="#141414" stroke-width="0.85"/>
<line x1="382.1" y1="117.8" x2="382.7" y2="122.2" stroke="#555" stroke-width="0.5"/>
<line x1="385.6" y1="114.8" x2="387.0" y2="118.2" stroke="#555" stroke-width="0.5"/>
<line x1="384.4" y1="119.9" x2="381.4" y2="123.1" stroke="#555" stroke-width="0.5"/>
<line x1="380.6" y1="116.6" x2="381.5" y2="119.6" stroke="#555" stroke-width="0.5"/>
<line x1="379.9" y1="115.8" x2="381.3" y2="119.0" stroke="#555" stroke-width="0.5"/>
<line x1="381.4" y1="115.5" x2="385.2" y2="117.5" stroke="#555" stroke-width="0.5"/>
<circle cx="327.9" cy="41.7" r="2.1" fill="#2430c8" stroke="#101880" stroke-width="0.6"/>
<circle cx="327.7" cy="35.0" r="2.1" fill="#2430c8" stroke="#101880" stroke-width="0.6"/>
<circle cx="326.6" cy="38.6" r="2.1" fill="#2430c8" stroke="#101880" stroke-width="0.6"/>
<circle cx="327.8" cy="37.3" r="2.1" fill="#2430c8" stroke="#101880" stroke-width="0.6"/>
<circle cx="329.0" cy="34.9" r="2.1" fill="#2430c8" stroke="#101880" stroke-width="0.6"/>
<circle cx="329.0" cy="33.4" r="2.1" fill="#2430c8" stroke="#101880" stroke-width="0.6"/>
<circle cx="329.7" cy="37.5" r="2.1" fill="#2430c8" stroke="#101880" stroke-width="0.6"/>
<circle cx="328.4" cy="43.8" r="2.1" fill="#2430c8" stroke="#101880" stroke-width="0.6"/>
<circle cx="329.2" cy="41.9" r="2.1" fill="#2430c8" stroke="#101880" stroke-width="0.6"/>
<circle cx="332.2" cy="36.6" r="2.1" fill="#2430c8" stroke="#101880" stroke-width="0.6"/>
<circle cx="330.6" cy="34.8" r="2.1" fill="#2430c8" stroke="#101880" stroke-width="0.6"/>
<circle cx="329.8" cy="41.3" r="2.1" fill="#2430c8" stroke="#101880" stroke-width="0.6"/>
<circle cx="327.6" cy="38.9" r="2.1" fill="#2430c8" stroke="#101880" stroke-width="0.6"/>
<circle cx="331.7" cy="36.8" r="2.1" fill="#2430c8" stroke="#101880" stroke-width="0.6"/>
<circle cx="328.1" cy="33.8" r="2.1" fill="#2430c8" stroke="#101880" stroke-width="0.6"/>
<circle cx="330.9" cy="40.3" r="2.1" fill="#2430c8" stroke="#101880" stroke-width="0.6"/>
<circle cx="330.2" cy="41.7" r="2.1" fill="#2430c8" stroke="#101880" stroke-width="0.6"/>
<circle cx="331.5" cy="41.0" r="2.1" fill="#2430c8" stroke="#101880" stroke-width="0.6"/>
<circle cx="331.6" cy="39.9" r="2.1" fill="#2430c8" stroke="#101880" stroke-width="0.6"/>
<circle cx="330.2" cy="37.2" r="2.1" fill="#2430c8" stroke="#101880" stroke-width="0.6"/>
<circle cx="327.5" cy="37.7" r="2.1" fill="#2430c8" stroke="#101880" stroke-width="0.6"/>
<circle cx="330.6" cy="37.2" r="2.1" fill="#2430c8" stroke="#101880" stroke-width="0.6"/>
<circle cx="327.3" cy="41.1" r="0.7" fill="#5060e8"/>
<circle cx="327.1" cy="34.4" r="0.7" fill="#5060e8"/>
<circle cx="326.0" cy="37.9" r="0.7" fill="#5060e8"/>
<circle cx="327.1" cy="36.7" r="0.7" fill="#5060e8"/>
<circle cx="328.4" cy="34.3" r="0.7" fill="#5060e8"/>
<circle cx="328.4" cy="32.8" r="0.7" fill="#5060e8"/>
<circle cx="329.1" cy="36.9" r="0.7" fill="#5060e8"/>
<circle cx="327.7" cy="43.1" r="0.7" fill="#5060e8"/>
<circle cx="328.6" cy="41.2" r="0.7" fill="#5060e8"/>
<circle cx="331.6" cy="36.0" r="0.7" fill="#5060e8"/>
<circle cx="329.9" cy="34.2" r="0.7" fill="#5060e8"/>
<circle cx="329.2" cy="40.7" r="0.7" fill="#5060e8"/>
<circle cx="326.9" cy="38.3" r="0.7" fill="#5060e8"/>
<circle cx="331.0" cy="36.1" r="0.7" fill="#5060e8"/>
<circle cx="327.5" cy="33.1" r="0.7" fill="#5060e8"/>
<circle cx="330.3" cy="39.7" r="0.7" fill="#5060e8"/>
<circle cx="329.6" cy="41.1" r="0.7" fill="#5060e8"/>
<circle cx="330.8" cy="40.3" r="0.7" fill="#5060e8"/>
<circle cx="331.0" cy="39.3" r="0.7" fill="#5060e8"/>
<circle cx="329.5" cy="36.6" r="0.7" fill="#5060e8"/>
<circle cx="326.9" cy="37.1" r="0.7" fill="#5060e8"/>
<circle cx="330.0" cy="36.6" r="0.7" fill="#5060e8"/>
<circle cx="347.4" cy="74.6" r="1.9" fill="#2430c8" stroke="#101880" stroke-width="0.6"/>
<circle cx="348.6" cy="74.4" r="1.9" fill="#2430c8" stroke="#101880" stroke-width="0.6"/>
<circle cx="348.6" cy="73.8" r="1.9" fill="#2430c8" stroke="#101880" stroke-width="0.6"/>
<circle cx="346.8" cy="74.4" r="1.9" fill="#2430c8" stroke="#101880" stroke-width="0.6"/>
<circle cx="345.0" cy="73.6" r="1.9" fill="#2430c8" stroke="#101880" stroke-width="0.6"/>
<circle cx="346.7" cy="74.4" r="1.9" fill="#2430c8" stroke="#101880" stroke-width="0.6"/>
<circle cx="345.7" cy="73.1" r="1.9" fill="#2430c8" stroke="#101880" stroke-width="0.6"/>
<circle cx="346.9" cy="74.1" r="0.7" fill="#5060e8"/>
<circle cx="348.0" cy="73.8" r="0.7" fill="#5060e8"/>
<circle cx="348.0" cy="73.2" r="0.7" fill="#5060e8"/>
<circle cx="346.2" cy="73.8" r="0.7" fill="#5060e8"/>
<circle cx="344.4" cy="73.0" r="0.7" fill="#5060e8"/>
<circle cx="346.1" cy="73.8" r="0.7" fill="#5060e8"/>
<circle cx="345.1" cy="72.5" r="0.7" fill="#5060e8"/>
<circle cx="344.6" cy="79.4" r="1.9" fill="#2430c8" stroke="#101880" stroke-width="0.6"/>
<circle cx="345.6" cy="80.0" r="1.9" fill="#2430c8" stroke="#101880" stroke-width="0.6"/>
<circle cx="343.7" cy="80.4" r="1.9" fill="#2430c8" stroke="#101880" stroke-width="0.6"/>
<circle cx="342.8" cy="79.1" r="1.9" fill="#2430c8" stroke="#101880" stroke-width="0.6"/>
<circle cx="342.2" cy="78.5" r="1.9" fill="#2430c8" stroke="#101880" stroke-width="0.6"/>
<circle cx="346.0" cy="79.2" r="1.9" fill="#2430c8" stroke="#101880" stroke-width="0.6"/>
<circle cx="346.2" cy="79.4" r="1.9" fill="#2430c8" stroke="#101880" stroke-width="0.6"/>
<circle cx="344.1" cy="78.8" r="0.7" fill="#5060e8"/>
<circle cx="345.1" cy="79.4" r="0.7" fill="#5060e8"/>
<circle cx="343.1" cy="79.9" r="0.7" fill="#5060e8"/>
<circle cx="342.2" cy="78.5" r="0.7" fill="#5060e8"/>
<circle cx="341.6" cy="78.0" r="0.7" fill="#5060e8"/>
<circle cx="345.4" cy="78.6" r="0.7" fill="#5060e8"/>
<circle cx="345.7" cy="78.8" r="0.7" fill="#5060e8"/>
<circle cx="359.7" cy="75.6" r="2.1" fill="#2430c8" stroke="#101880" stroke-width="0.6"/>
<circle cx="363.7" cy="74.6" r="2.1" fill="#2430c8" stroke="#101880" stroke-width="0.6"/>
<circle cx="361.3" cy="73.9" r="2.1" fill="#2430c8" stroke="#101880" stroke-width="0.6"/>
<circle cx="361.3" cy="76.5" r="2.1" fill="#2430c8" stroke="#101880" stroke-width="0.6"/>
<circle cx="361.4" cy="75.0" r="2.1" fill="#2430c8" stroke="#101880" stroke-width="0.6"/>
<circle cx="361.5" cy="76.2" r="2.1" fill="#2430c8" stroke="#101880" stroke-width="0.6"/>
<circle cx="361.6" cy="76.6" r="2.1" fill="#2430c8" stroke="#101880" stroke-width="0.6"/>
<circle cx="364.1" cy="75.6" r="2.1" fill="#2430c8" stroke="#101880" stroke-width="0.6"/>
<circle cx="363.7" cy="75.8" r="2.1" fill="#2430c8" stroke="#101880" stroke-width="0.6"/>
<circle cx="361.9" cy="76.1" r="2.1" fill="#2430c8" stroke="#101880" stroke-width="0.6"/>
<circle cx="363.8" cy="75.1" r="2.1" fill="#2430c8" stroke="#101880" stroke-width="0.6"/>
<circle cx="359.1" cy="74.9" r="0.7" fill="#5060e8"/>
<circle cx="363.1" cy="74.0" r="0.7" fill="#5060e8"/>
<circle cx="360.7" cy="73.3" r="0.7" fill="#5060e8"/>
<circle cx="360.6" cy="75.8" r="0.7" fill="#5060e8"/>
<circle cx="360.8" cy="74.4" r="0.7" fill="#5060e8"/>
<circle cx="360.9" cy="75.6" r="0.7" fill="#5060e8"/>
<circle cx="361.0" cy="76.0" r="0.7" fill="#5060e8"/>
<circle cx="363.5" cy="75.0" r="0.7" fill="#5060e8"/>
<circle cx="363.1" cy="75.2" r="0.7" fill="#5060e8"/>
<circle cx="361.3" cy="75.5" r="0.7" fill="#5060e8"/>
<circle cx="363.2" cy="74.5" r="0.7" fill="#5060e8"/>
<circle cx="375.5" cy="72.1" r="2.1" fill="#2430c8" stroke="#101880" stroke-width="0.6"/>
<circle cx="378.5" cy="71.6" r="2.1" fill="#2430c8" stroke="#101880" stroke-width="0.6"/>
<circle cx="378.0" cy="72.8" r="2.1" fill="#2430c8" stroke="#101880" stroke-width="0.6"/>
<circle cx="376.1" cy="70.5" r="2.1" fill="#2430c8" stroke="#101880" stroke-width="0.6"/>
<circle cx="377.3" cy="71.6" r="2.1" fill="#2430c8" stroke="#101880" stroke-width="0.6"/>
<circle cx="376.5" cy="71.7" r="2.1" fill="#2430c8" stroke="#101880" stroke-width="0.6"/>
<circle cx="376.9" cy="71.4" r="2.1" fill="#2430c8" stroke="#101880" stroke-width="0.6"/>
<circle cx="378.5" cy="68.6" r="2.1" fill="#2430c8" stroke="#101880" stroke-width="0.6"/>
<circle cx="374.6" cy="71.0" r="2.1" fill="#2430c8" stroke="#101880" stroke-width="0.6"/>
<circle cx="376.9" cy="72.3" r="2.1" fill="#2430c8" stroke="#101880" stroke-width="0.6"/>
<circle cx="379.0" cy="69.3" r="2.1" fill="#2430c8" stroke="#101880" stroke-width="0.6"/>
<circle cx="376.1" cy="72.5" r="2.1" fill="#2430c8" stroke="#101880" stroke-width="0.6"/>
<circle cx="374.9" cy="71.5" r="0.7" fill="#5060e8"/>
<circle cx="377.8" cy="71.0" r="0.7" fill="#5060e8"/>
<circle cx="377.3" cy="72.2" r="0.7" fill="#5060e8"/>
<circle cx="375.5" cy="69.8" r="0.7" fill="#5060e8"/>
<circle cx="376.6" cy="71.0" r="0.7" fill="#5060e8"/>
<circle cx="375.8" cy="71.1" r="0.7" fill="#5060e8"/>
<circle cx="376.3" cy="70.7" r="0.7" fill="#5060e8"/>
<circle cx="377.8" cy="68.0" r="0.7" fill="#5060e8"/>
<circle cx="374.0" cy="70.4" r="0.7" fill="#5060e8"/>
<circle cx="376.3" cy="71.7" r="0.7" fill="#5060e8"/>
<circle cx="378.3" cy="68.7" r="0.7" fill="#5060e8"/>
<circle cx="375.4" cy="71.8" r="0.7" fill="#5060e8"/>
<circle cx="383.4" cy="85.8" r="2.1" fill="#2430c8" stroke="#101880" stroke-width="0.6"/>
<circle cx="384.7" cy="84.8" r="2.1" fill="#2430c8" stroke="#101880" stroke-width="0.6"/>
<circle cx="383.0" cy="85.7" r="2.1" fill="#2430c8" stroke="#101880" stroke-width="0.6"/>
<circle cx="383.3" cy="82.5" r="2.1" fill="#2430c8" stroke="#101880" stroke-width="0.6"/>
<circle cx="384.8" cy="82.7" r="2.1" fill="#2430c8" stroke="#101880" stroke-width="0.6"/>
<circle cx="382.3" cy="83.8" r="2.1" fill="#2430c8" stroke="#101880" stroke-width="0.6"/>
<circle cx="383.4" cy="85.4" r="2.1" fill="#2430c8" stroke="#101880" stroke-width="0.6"/>
<circle cx="382.7" cy="85.6" r="2.1" fill="#2430c8" stroke="#101880" stroke-width="0.6"/>
<circle cx="382.8" cy="85.1" r="0.7" fill="#5060e8"/>
<circle cx="384.1" cy="84.2" r="0.7" fill="#5060e8"/>
<circle cx="382.3" cy="85.1" r="0.7" fill="#5060e8"/>
<circle cx="382.7" cy="81.9" r="0.7" fill="#5060e8"/>
<circle cx="384.2" cy="82.1" r="0.7" fill="#5060e8"/>
<circle cx="381.7" cy="83.2" r="0.7" fill="#5060e8"/>
<circle cx="382.7" cy="84.8" r="0.7" fill="#5060e8"/>
<circle cx="382.1" cy="84.9" r="0.7" fill="#5060e8"/>
<circle cx="369.2" cy="67.9" r="1.3" fill="#2430c8" stroke="#101880" stroke-width="0.6"/>
<circle cx="368.6" cy="67.7" r="1.3" fill="#2430c8" stroke="#101880" stroke-width="0.6"/>
<circle cx="368.8" cy="67.5" r="0.5" fill="#5060e8"/>
<circle cx="368.2" cy="67.4" r="0.5" fill="#5060e8"/>
<circle cx="367.5" cy="70.7" r="1.3" fill="#2430c8" stroke="#101880" stroke-width="0.6"/>
<circle cx="367.9" cy="70.6" r="1.3" fill="#2430c8" stroke="#101880" stroke-width="0.6"/>
<circle cx="367.1" cy="70.3" r="0.5" fill="#5060e8"/>
<circle cx="367.5" cy="70.2" r="0.5" fill="#5060e8"/>
<circle cx="370.1" cy="74.3" r="1.3" fill="#2430c8" stroke="#101880" stroke-width="0.6"/>
<circle cx="370.1" cy="74.8" r="1.3" fill="#2430c8" stroke="#101880" stroke-width="0.6"/>
<circle cx="369.7" cy="73.9" r="0.5" fill="#5060e8"/>
<circle cx="369.7" cy="74.4" r="0.5" fill="#5060e8"/>
<circle cx="414.4" cy="52.5" r="2.1" fill="#2430c8" stroke="#101880" stroke-width="0.6"/>
<circle cx="413.3" cy="50.6" r="2.1" fill="#2430c8" stroke="#101880" stroke-width="0.6"/>
<circle cx="415.2" cy="52.8" r="2.1" fill="#2430c8" stroke="#101880" stroke-width="0.6"/>
<circle cx="412.5" cy="53.0" r="2.1" fill="#2430c8" stroke="#101880" stroke-width="0.6"/>
<circle cx="416.3" cy="51.6" r="2.1" fill="#2430c8" stroke="#101880" stroke-width="0.6"/>
<circle cx="415.9" cy="51.6" r="2.1" fill="#2430c8" stroke="#101880" stroke-width="0.6"/>
<circle cx="413.9" cy="53.3" r="2.1" fill="#2430c8" stroke="#101880" stroke-width="0.6"/>
<circle cx="416.1" cy="52.9" r="2.1" fill="#2430c8" stroke="#101880" stroke-width="0.6"/>
<circle cx="413.2" cy="50.9" r="2.1" fill="#2430c8" stroke="#101880" stroke-width="0.6"/>
<circle cx="413.6" cy="50.7" r="2.1" fill="#2430c8" stroke="#101880" stroke-width="0.6"/>
<circle cx="413.8" cy="51.9" r="0.7" fill="#5060e8"/>
<circle cx="412.6" cy="49.9" r="0.7" fill="#5060e8"/>
<circle cx="414.5" cy="52.1" r="0.7" fill="#5060e8"/>
<circle cx="411.9" cy="52.4" r="0.7" fill="#5060e8"/>
<circle cx="415.6" cy="50.9" r="0.7" fill="#5060e8"/>
<circle cx="415.3" cy="50.9" r="0.7" fill="#5060e8"/>
<circle cx="413.3" cy="52.6" r="0.7" fill="#5060e8"/>
<circle cx="415.5" cy="52.3" r="0.7" fill="#5060e8"/>
<circle cx="412.6" cy="50.3" r="0.7" fill="#5060e8"/>
<circle cx="413.0" cy="50.1" r="0.7" fill="#5060e8"/>
<circle cx="427.6" cy="55.7" r="1.8" fill="#2430c8" stroke="#101880" stroke-width="0.6"/>
<circle cx="426.9" cy="55.9" r="1.8" fill="#2430c8" stroke="#101880" stroke-width="0.6"/>
<circle cx="428.7" cy="57.8" r="1.8" fill="#2430c8" stroke="#101880" stroke-width="0.6"/>
<circle cx="428.5" cy="57.8" r="1.8" fill="#2430c8" stroke="#101880" stroke-width="0.6"/>
<circle cx="428.8" cy="57.3" r="1.8" fill="#2430c8" stroke="#101880" stroke-width="0.6"/>
<circle cx="427.6" cy="55.4" r="1.8" fill="#2430c8" stroke="#101880" stroke-width="0.6"/>
<circle cx="427.0" cy="55.1" r="0.6" fill="#5060e8"/>
<circle cx="426.4" cy="55.3" r="0.6" fill="#5060e8"/>
<circle cx="428.1" cy="57.3" r="0.6" fill="#5060e8"/>
<circle cx="427.9" cy="57.2" r="0.6" fill="#5060e8"/>
<circle cx="428.2" cy="56.7" r="0.6" fill="#5060e8"/>
<circle cx="427.1" cy="54.8" r="0.6" fill="#5060e8"/>
<circle cx="407.0" cy="60.6" r="1.8" fill="#2430c8" stroke="#101880" stroke-width="0.6"/>
<circle cx="407.1" cy="60.5" r="1.8" fill="#2430c8" stroke="#101880" stroke-width="0.6"/>
<circle cx="407.1" cy="61.6" r="1.8" fill="#2430c8" stroke="#101880" stroke-width="0.6"/>
<circle cx="408.5" cy="62.4" r="1.8" fill="#2430c8" stroke="#101880" stroke-width="0.6"/>
<circle cx="406.7" cy="61.5" r="1.8" fill="#2430c8" stroke="#101880" stroke-width="0.6"/>
<circle cx="406.5" cy="60.1" r="0.6" fill="#5060e8"/>
<circle cx="406.6" cy="59.9" r="0.6" fill="#5060e8"/>
<circle cx="406.6" cy="61.0" r="0.6" fill="#5060e8"/>
<circle cx="407.9" cy="61.9" r="0.6" fill="#5060e8"/>
<circle cx="406.1" cy="60.9" r="0.6" fill="#5060e8"/>
<circle cx="440.1" cy="73.7" r="2.1" fill="#2430c8" stroke="#101880" stroke-width="0.6"/>
<circle cx="440.1" cy="72.7" r="2.1" fill="#2430c8" stroke="#101880" stroke-width="0.6"/>
<circle cx="440.0" cy="70.9" r="2.1" fill="#2430c8" stroke="#101880" stroke-width="0.6"/>
<circle cx="440.1" cy="73.7" r="2.1" fill="#2430c8" stroke="#101880" stroke-width="0.6"/>
<circle cx="439.6" cy="73.6" r="2.1" fill="#2430c8" stroke="#101880" stroke-width="0.6"/>
<circle cx="437.8" cy="75.2" r="2.1" fill="#2430c8" stroke="#101880" stroke-width="0.6"/>
<circle cx="438.6" cy="71.5" r="2.1" fill="#2430c8" stroke="#101880" stroke-width="0.6"/>
<circle cx="437.6" cy="70.4" r="2.1" fill="#2430c8" stroke="#101880" stroke-width="0.6"/>
<circle cx="438.6" cy="73.3" r="2.1" fill="#2430c8" stroke="#101880" stroke-width="0.6"/>
<circle cx="438.1" cy="76.1" r="2.1" fill="#2430c8" stroke="#101880" stroke-width="0.6"/>
<circle cx="437.8" cy="72.0" r="2.1" fill="#2430c8" stroke="#101880" stroke-width="0.6"/>
<circle cx="438.2" cy="73.0" r="2.1" fill="#2430c8" stroke="#101880" stroke-width="0.6"/>
<circle cx="436.7" cy="72.3" r="2.1" fill="#2430c8" stroke="#101880" stroke-width="0.6"/>
<circle cx="436.4" cy="72.0" r="2.1" fill="#2430c8" stroke="#101880" stroke-width="0.6"/>
<circle cx="439.4" cy="73.1" r="0.7" fill="#5060e8"/>
<circle cx="439.5" cy="72.1" r="0.7" fill="#5060e8"/>
<circle cx="439.4" cy="70.3" r="0.7" fill="#5060e8"/>
<circle cx="439.4" cy="73.1" r="0.7" fill="#5060e8"/>
<circle cx="439.0" cy="73.0" r="0.7" fill="#5060e8"/>
<circle cx="437.2" cy="74.6" r="0.7" fill="#5060e8"/>
<circle cx="437.9" cy="70.8" r="0.7" fill="#5060e8"/>
<circle cx="436.9" cy="69.7" r="0.7" fill="#5060e8"/>
<circle cx="438.0" cy="72.7" r="0.7" fill="#5060e8"/>
<circle cx="437.5" cy="75.5" r="0.7" fill="#5060e8"/>
<circle cx="437.2" cy="71.4" r="0.7" fill="#5060e8"/>
<circle cx="437.6" cy="72.4" r="0.7" fill="#5060e8"/>
<circle cx="436.1" cy="71.7" r="0.7" fill="#5060e8"/>
<circle cx="435.7" cy="71.4" r="0.7" fill="#5060e8"/>
<circle cx="415.3" cy="89.0" r="2.1" fill="#2430c8" stroke="#101880" stroke-width="0.6"/>
<circle cx="418.8" cy="85.4" r="2.1" fill="#2430c8" stroke="#101880" stroke-width="0.6"/>
<circle cx="415.3" cy="86.4" r="2.1" fill="#2430c8" stroke="#101880" stroke-width="0.6"/>
<circle cx="416.8" cy="87.4" r="2.1" fill="#2430c8" stroke="#101880" stroke-width="0.6"/>
<circle cx="414.9" cy="84.1" r="2.1" fill="#2430c8" stroke="#101880" stroke-width="0.6"/>
<circle cx="418.7" cy="86.7" r="2.1" fill="#2430c8" stroke="#101880" stroke-width="0.6"/>
<circle cx="416.3" cy="88.0" r="2.1" fill="#2430c8" stroke="#101880" stroke-width="0.6"/>
<circle cx="416.1" cy="84.5" r="2.1" fill="#2430c8" stroke="#101880" stroke-width="0.6"/>
<circle cx="415.4" cy="84.1" r="2.1" fill="#2430c8" stroke="#101880" stroke-width="0.6"/>
<circle cx="416.6" cy="84.9" r="2.1" fill="#2430c8" stroke="#101880" stroke-width="0.6"/>
<circle cx="414.9" cy="85.8" r="2.1" fill="#2430c8" stroke="#101880" stroke-width="0.6"/>
<circle cx="414.3" cy="88.0" r="2.1" fill="#2430c8" stroke="#101880" stroke-width="0.6"/>
<circle cx="418.6" cy="83.9" r="2.1" fill="#2430c8" stroke="#101880" stroke-width="0.6"/>
<circle cx="413.3" cy="83.8" r="2.1" fill="#2430c8" stroke="#101880" stroke-width="0.6"/>
<circle cx="413.6" cy="86.3" r="2.1" fill="#2430c8" stroke="#101880" stroke-width="0.6"/>
<circle cx="416.9" cy="87.2" r="2.1" fill="#2430c8" stroke="#101880" stroke-width="0.6"/>
<circle cx="414.7" cy="88.3" r="0.7" fill="#5060e8"/>
<circle cx="418.2" cy="84.8" r="0.7" fill="#5060e8"/>
<circle cx="414.7" cy="85.7" r="0.7" fill="#5060e8"/>
<circle cx="416.2" cy="86.7" r="0.7" fill="#5060e8"/>
<circle cx="414.2" cy="83.4" r="0.7" fill="#5060e8"/>
<circle cx="418.1" cy="86.1" r="0.7" fill="#5060e8"/>
<circle cx="415.7" cy="87.4" r="0.7" fill="#5060e8"/>
<circle cx="415.4" cy="83.8" r="0.7" fill="#5060e8"/>
<circle cx="414.7" cy="83.5" r="0.7" fill="#5060e8"/>
<circle cx="415.9" cy="84.3" r="0.7" fill="#5060e8"/>
<circle cx="414.3" cy="85.2" r="0.7" fill="#5060e8"/>
<circle cx="413.7" cy="87.4" r="0.7" fill="#5060e8"/>
<circle cx="418.0" cy="83.3" r="0.7" fill="#5060e8"/>
<circle cx="412.7" cy="83.2" r="0.7" fill="#5060e8"/>
<circle cx="412.9" cy="85.6" r="0.7" fill="#5060e8"/>
<circle cx="416.3" cy="86.5" r="0.7" fill="#5060e8"/>
<circle cx="460.3" cy="26.4" r="2.1" fill="#2430c8" stroke="#101880" stroke-width="0.6"/>
<circle cx="461.3" cy="33.0" r="2.1" fill="#2430c8" stroke="#101880" stroke-width="0.6"/>
<circle cx="459.6" cy="27.7" r="2.1" fill="#2430c8" stroke="#101880" stroke-width="0.6"/>
<circle cx="458.7" cy="29.7" r="2.1" fill="#2430c8" stroke="#101880" stroke-width="0.6"/>
<circle cx="462.8" cy="31.1" r="2.1" fill="#2430c8" stroke="#101880" stroke-width="0.6"/>
<circle cx="461.0" cy="28.8" r="2.1" fill="#2430c8" stroke="#101880" stroke-width="0.6"/>
<circle cx="459.9" cy="32.4" r="2.1" fill="#2430c8" stroke="#101880" stroke-width="0.6"/>
<circle cx="461.2" cy="28.9" r="2.1" fill="#2430c8" stroke="#101880" stroke-width="0.6"/>
<circle cx="460.3" cy="29.1" r="2.1" fill="#2430c8" stroke="#101880" stroke-width="0.6"/>
<circle cx="458.9" cy="30.8" r="2.1" fill="#2430c8" stroke="#101880" stroke-width="0.6"/>
<circle cx="458.7" cy="26.1" r="2.1" fill="#2430c8" stroke="#101880" stroke-width="0.6"/>
<circle cx="462.3" cy="30.6" r="2.1" fill="#2430c8" stroke="#101880" stroke-width="0.6"/>
<circle cx="460.4" cy="32.7" r="2.1" fill="#2430c8" stroke="#101880" stroke-width="0.6"/>
<circle cx="457.9" cy="31.4" r="2.1" fill="#2430c8" stroke="#101880" stroke-width="0.6"/>
<circle cx="457.7" cy="31.0" r="2.1" fill="#2430c8" stroke="#101880" stroke-width="0.6"/>
<circle cx="460.1" cy="28.7" r="2.1" fill="#2430c8" stroke="#101880" stroke-width="0.6"/>
<circle cx="458.3" cy="32.6" r="2.1" fill="#2430c8" stroke="#101880" stroke-width="0.6"/>
<circle cx="459.6" cy="28.0" r="2.1" fill="#2430c8" stroke="#101880" stroke-width="0.6"/>
<circle cx="459.9" cy="32.2" r="2.1" fill="#2430c8" stroke="#101880" stroke-width="0.6"/>
<circle cx="461.0" cy="29.9" r="2.1" fill="#2430c8" stroke="#101880" stroke-width="0.6"/>
<circle cx="462.2" cy="28.8" r="2.1" fill="#2430c8" stroke="#101880" stroke-width="0.6"/>
<circle cx="459.7" cy="25.7" r="0.7" fill="#5060e8"/>
<circle cx="460.7" cy="32.4" r="0.7" fill="#5060e8"/>
<circle cx="459.0" cy="27.1" r="0.7" fill="#5060e8"/>
<circle cx="458.1" cy="29.1" r="0.7" fill="#5060e8"/>
<circle cx="462.2" cy="30.4" r="0.7" fill="#5060e8"/>
<circle cx="460.4" cy="28.2" r="0.7" fill="#5060e8"/>
<circle cx="459.2" cy="31.8" r="0.7" fill="#5060e8"/>
<circle cx="460.6" cy="28.3" r="0.7" fill="#5060e8"/>
<circle cx="459.7" cy="28.5" r="0.7" fill="#5060e8"/>
<circle cx="458.2" cy="30.2" r="0.7" fill="#5060e8"/>
<circle cx="458.1" cy="25.5" r="0.7" fill="#5060e8"/>
<circle cx="461.7" cy="30.0" r="0.7" fill="#5060e8"/>
<circle cx="459.7" cy="32.1" r="0.7" fill="#5060e8"/>
<circle cx="457.3" cy="30.8" r="0.7" fill="#5060e8"/>
<circle cx="457.1" cy="30.3" r="0.7" fill="#5060e8"/>
<circle cx="459.5" cy="28.1" r="0.7" fill="#5060e8"/>
<circle cx="457.7" cy="31.9" r="0.7" fill="#5060e8"/>
<circle cx="459.0" cy="27.3" r="0.7" fill="#5060e8"/>
<circle cx="459.2" cy="31.6" r="0.7" fill="#5060e8"/>
<circle cx="460.4" cy="29.3" r="0.7" fill="#5060e8"/>
<circle cx="461.6" cy="28.2" r="0.7" fill="#5060e8"/>
<circle cx="380.9" cy="70.4" r="1.3" fill="#2430c8" stroke="#101880" stroke-width="0.6"/>
<circle cx="380.2" cy="69.5" r="1.3" fill="#2430c8" stroke="#101880" stroke-width="0.6"/>
<circle cx="379.8" cy="71.8" r="1.3" fill="#2430c8" stroke="#101880" stroke-width="0.6"/>
<circle cx="380.5" cy="70.1" r="0.5" fill="#5060e8"/>
<circle cx="379.8" cy="69.1" r="0.5" fill="#5060e8"/>
<circle cx="379.4" cy="71.4" r="0.5" fill="#5060e8"/>
<circle cx="357.7" cy="114.3" r="2.1" fill="#2430c8" stroke="#101880" stroke-width="0.6"/>
<circle cx="359.2" cy="114.6" r="2.1" fill="#2430c8" stroke="#101880" stroke-width="0.6"/>
<circle cx="361.2" cy="114.3" r="2.1" fill="#2430c8" stroke="#101880" stroke-width="0.6"/>
<circle cx="358.3" cy="114.1" r="2.1" fill="#2430c8" stroke="#101880" stroke-width="0.6"/>
<circle cx="359.4" cy="116.0" r="2.1" fill="#2430c8" stroke="#101880" stroke-width="0.6"/>
<circle cx="358.6" cy="114.2" r="2.1" fill="#2430c8" stroke="#101880" stroke-width="0.6"/>
<circle cx="358.3" cy="114.0" r="2.1" fill="#2430c8" stroke="#101880" stroke-width="0.6"/>
<circle cx="359.7" cy="111.1" r="2.1" fill="#2430c8" stroke="#101880" stroke-width="0.6"/>
<circle cx="358.7" cy="114.7" r="2.1" fill="#2430c8" stroke="#101880" stroke-width="0.6"/>
<circle cx="360.2" cy="113.8" r="2.1" fill="#2430c8" stroke="#101880" stroke-width="0.6"/>
<circle cx="357.1" cy="113.7" r="0.7" fill="#5060e8"/>
<circle cx="358.6" cy="114.0" r="0.7" fill="#5060e8"/>
<circle cx="360.6" cy="113.6" r="0.7" fill="#5060e8"/>
<circle cx="357.6" cy="113.5" r="0.7" fill="#5060e8"/>
<circle cx="358.8" cy="115.4" r="0.7" fill="#5060e8"/>
<circle cx="357.9" cy="113.6" r="0.7" fill="#5060e8"/>
<circle cx="357.7" cy="113.4" r="0.7" fill="#5060e8"/>
<circle cx="359.0" cy="110.5" r="0.7" fill="#5060e8"/>
<circle cx="358.1" cy="114.0" r="0.7" fill="#5060e8"/>
<circle cx="359.6" cy="113.2" r="0.7" fill="#5060e8"/>
<circle cx="373.0" cy="120.0" r="1.8" fill="#2430c8" stroke="#101880" stroke-width="0.6"/>
<circle cx="374.9" cy="120.4" r="1.8" fill="#2430c8" stroke="#101880" stroke-width="0.6"/>
<circle cx="372.9" cy="119.9" r="1.8" fill="#2430c8" stroke="#101880" stroke-width="0.6"/>
<circle cx="372.1" cy="120.6" r="1.8" fill="#2430c8" stroke="#101880" stroke-width="0.6"/>
<circle cx="373.6" cy="119.6" r="1.8" fill="#2430c8" stroke="#101880" stroke-width="0.6"/>
<circle cx="372.0" cy="120.5" r="1.8" fill="#2430c8" stroke="#101880" stroke-width="0.6"/>
<circle cx="372.5" cy="119.4" r="0.6" fill="#5060e8"/>
<circle cx="374.4" cy="119.8" r="0.6" fill="#5060e8"/>
<circle cx="372.4" cy="119.4" r="0.6" fill="#5060e8"/>
<circle cx="371.5" cy="120.1" r="0.6" fill="#5060e8"/>
<circle cx="373.1" cy="119.1" r="0.6" fill="#5060e8"/>
<circle cx="371.5" cy="120.0" r="0.6" fill="#5060e8"/>
<circle cx="380.3" cy="125.9" r="1.8" fill="#2430c8" stroke="#101880" stroke-width="0.6"/>
<circle cx="380.1" cy="125.4" r="1.8" fill="#2430c8" stroke="#101880" stroke-width="0.6"/>
<circle cx="379.3" cy="126.4" r="1.8" fill="#2430c8" stroke="#101880" stroke-width="0.6"/>
<circle cx="381.4" cy="125.5" r="1.8" fill="#2430c8" stroke="#101880" stroke-width="0.6"/>
<circle cx="379.7" cy="126.3" r="1.8" fill="#2430c8" stroke="#101880" stroke-width="0.6"/>
<circle cx="379.8" cy="125.3" r="0.6" fill="#5060e8"/>
<circle cx="379.5" cy="124.8" r="0.6" fill="#5060e8"/>
<circle cx="378.8" cy="125.9" r="0.6" fill="#5060e8"/>
<circle cx="380.8" cy="125.0" r="0.6" fill="#5060e8"/>
<circle cx="379.2" cy="125.8" r="0.6" fill="#5060e8"/>
<circle cx="398.5" cy="136.7" r="2.1" fill="#2430c8" stroke="#101880" stroke-width="0.6"/>
<circle cx="401.8" cy="137.7" r="2.1" fill="#2430c8" stroke="#101880" stroke-width="0.6"/>
<circle cx="401.3" cy="137.3" r="2.1" fill="#2430c8" stroke="#101880" stroke-width="0.6"/>
<circle cx="396.4" cy="139.1" r="2.1" fill="#2430c8" stroke="#101880" stroke-width="0.6"/>
<circle cx="400.7" cy="137.6" r="2.1" fill="#2430c8" stroke="#101880" stroke-width="0.6"/>
<circle cx="398.6" cy="139.0" r="2.1" fill="#2430c8" stroke="#101880" stroke-width="0.6"/>
<circle cx="395.8" cy="138.0" r="2.1" fill="#2430c8" stroke="#101880" stroke-width="0.6"/>
<circle cx="396.3" cy="137.4" r="2.1" fill="#2430c8" stroke="#101880" stroke-width="0.6"/>
<circle cx="398.5" cy="136.0" r="2.1" fill="#2430c8" stroke="#101880" stroke-width="0.6"/>
<circle cx="398.5" cy="139.3" r="2.1" fill="#2430c8" stroke="#101880" stroke-width="0.6"/>
<circle cx="397.9" cy="136.1" r="0.7" fill="#5060e8"/>
<circle cx="401.2" cy="137.1" r="0.7" fill="#5060e8"/>
<circle cx="400.7" cy="136.7" r="0.7" fill="#5060e8"/>
<circle cx="395.8" cy="138.4" r="0.7" fill="#5060e8"/>
<circle cx="400.0" cy="137.0" r="0.7" fill="#5060e8"/>
<circle cx="397.9" cy="138.4" r="0.7" fill="#5060e8"/>
<circle cx="395.2" cy="137.4" r="0.7" fill="#5060e8"/>
<circle cx="395.7" cy="136.8" r="0.7" fill="#5060e8"/>
<circle cx="397.9" cy="135.4" r="0.7" fill="#5060e8"/>
<circle cx="397.9" cy="138.7" r="0.7" fill="#5060e8"/>
<circle cx="387.5" cy="142.3" r="2.1" fill="#2430c8" stroke="#101880" stroke-width="0.6"/>
<circle cx="387.8" cy="141.8" r="2.1" fill="#2430c8" stroke="#101880" stroke-width="0.6"/>
<circle cx="386.0" cy="143.1" r="2.1" fill="#2430c8" stroke="#101880" stroke-width="0.6"/>
<circle cx="386.6" cy="142.3" r="2.1" fill="#2430c8" stroke="#101880" stroke-width="0.6"/>
<circle cx="387.7" cy="142.1" r="2.1" fill="#2430c8" stroke="#101880" stroke-width="0.6"/>
<circle cx="386.5" cy="143.9" r="2.1" fill="#2430c8" stroke="#101880" stroke-width="0.6"/>
<circle cx="387.7" cy="143.6" r="2.1" fill="#2430c8" stroke="#101880" stroke-width="0.6"/>
<circle cx="387.1" cy="144.5" r="2.1" fill="#2430c8" stroke="#101880" stroke-width="0.6"/>
<circle cx="386.9" cy="141.7" r="0.7" fill="#5060e8"/>
<circle cx="387.2" cy="141.2" r="0.7" fill="#5060e8"/>
<circle cx="385.4" cy="142.5" r="0.7" fill="#5060e8"/>
<circle cx="386.0" cy="141.7" r="0.7" fill="#5060e8"/>
<circle cx="387.1" cy="141.5" r="0.7" fill="#5060e8"/>
<circle cx="385.8" cy="143.3" r="0.7" fill="#5060e8"/>
<circle cx="387.1" cy="143.0" r="0.7" fill="#5060e8"/>
<circle cx="386.5" cy="143.8" r="0.7" fill="#5060e8"/>
<circle cx="391.0" cy="145.8" r="2.1" fill="#2430c8" stroke="#101880" stroke-width="0.6"/>
<circle cx="391.6" cy="146.3" r="2.1" fill="#2430c8" stroke="#101880" stroke-width="0.6"/>
<circle cx="392.7" cy="145.2" r="2.1" fill="#2430c8" stroke="#101880" stroke-width="0.6"/>
<circle cx="391.9" cy="145.6" r="2.1" fill="#2430c8" stroke="#101880" stroke-width="0.6"/>
<circle cx="392.1" cy="148.1" r="2.1" fill="#2430c8" stroke="#101880" stroke-width="0.6"/>
<circle cx="390.5" cy="147.8" r="2.1" fill="#2430c8" stroke="#101880" stroke-width="0.6"/>
<circle cx="391.3" cy="148.2" r="2.1" fill="#2430c8" stroke="#101880" stroke-width="0.6"/>
<circle cx="389.6" cy="146.0" r="2.1" fill="#2430c8" stroke="#101880" stroke-width="0.6"/>
<circle cx="390.3" cy="145.2" r="0.7" fill="#5060e8"/>
<circle cx="390.9" cy="145.7" r="0.7" fill="#5060e8"/>
<circle cx="392.0" cy="144.6" r="0.7" fill="#5060e8"/>
<circle cx="391.3" cy="145.0" r="0.7" fill="#5060e8"/>
<circle cx="391.5" cy="147.5" r="0.7" fill="#5060e8"/>
<circle cx="389.8" cy="147.2" r="0.7" fill="#5060e8"/>
<circle cx="390.7" cy="147.6" r="0.7" fill="#5060e8"/>
<circle cx="389.0" cy="145.4" r="0.7" fill="#5060e8"/>
<circle cx="386.9" cy="151.2" r="2.1" fill="#2430c8" stroke="#101880" stroke-width="0.6"/>
<circle cx="386.9" cy="151.6" r="2.1" fill="#2430c8" stroke="#101880" stroke-width="0.6"/>
<circle cx="385.2" cy="149.0" r="2.1" fill="#2430c8" stroke="#101880" stroke-width="0.6"/>
<circle cx="387.9" cy="150.7" r="2.1" fill="#2430c8" stroke="#101880" stroke-width="0.6"/>
<circle cx="387.0" cy="148.4" r="2.1" fill="#2430c8" stroke="#101880" stroke-width="0.6"/>
<circle cx="384.7" cy="150.0" r="2.1" fill="#2430c8" stroke="#101880" stroke-width="0.6"/>
<circle cx="386.5" cy="149.4" r="2.1" fill="#2430c8" stroke="#101880" stroke-width="0.6"/>
<circle cx="385.2" cy="148.8" r="2.1" fill="#2430c8" stroke="#101880" stroke-width="0.6"/>
<circle cx="386.2" cy="150.5" r="0.7" fill="#5060e8"/>
<circle cx="386.2" cy="151.0" r="0.7" fill="#5060e8"/>
<circle cx="384.6" cy="148.4" r="0.7" fill="#5060e8"/>
<circle cx="387.3" cy="150.1" r="0.7" fill="#5060e8"/>
<circle cx="386.4" cy="147.8" r="0.7" fill="#5060e8"/>
<circle cx="384.1" cy="149.4" r="0.7" fill="#5060e8"/>
<circle cx="385.9" cy="148.7" r="0.7" fill="#5060e8"/>
<circle cx="384.5" cy="148.2" r="0.7" fill="#5060e8"/>
<circle cx="390.2" cy="157.4" r="1.8" fill="#2430c8" stroke="#101880" stroke-width="0.6"/>
<circle cx="389.0" cy="155.6" r="1.8" fill="#2430c8" stroke="#101880" stroke-width="0.6"/>
<circle cx="390.2" cy="157.1" r="1.8" fill="#2430c8" stroke="#101880" stroke-width="0.6"/>
<circle cx="389.0" cy="157.7" r="1.8" fill="#2430c8" stroke="#101880" stroke-width="0.6"/>
<circle cx="388.9" cy="156.9" r="1.8" fill="#2430c8" stroke="#101880" stroke-width="0.6"/>
<circle cx="390.7" cy="155.9" r="1.8" fill="#2430c8" stroke="#101880" stroke-width="0.6"/>
<circle cx="387.7" cy="155.9" r="1.8" fill="#2430c8" stroke="#101880" stroke-width="0.6"/>
<circle cx="389.7" cy="156.8" r="0.6" fill="#5060e8"/>
<circle cx="388.5" cy="155.1" r="0.6" fill="#5060e8"/>
<circle cx="389.7" cy="156.6" r="0.6" fill="#5060e8"/>
<circle cx="388.5" cy="157.2" r="0.6" fill="#5060e8"/>
<circle cx="388.4" cy="156.3" r="0.6" fill="#5060e8"/>
<circle cx="390.2" cy="155.4" r="0.6" fill="#5060e8"/>
<circle cx="387.1" cy="155.4" r="0.6" fill="#5060e8"/>
<circle cx="398.6" cy="164.2" r="1.4" fill="#2430c8" stroke="#101880" stroke-width="0.6"/>
<circle cx="398.1" cy="163.9" r="1.4" fill="#2430c8" stroke="#101880" stroke-width="0.6"/>
<circle cx="399.1" cy="163.9" r="1.4" fill="#2430c8" stroke="#101880" stroke-width="0.6"/>
<circle cx="398.2" cy="163.7" r="0.5" fill="#5060e8"/>
<circle cx="397.7" cy="163.4" r="0.5" fill="#5060e8"/>
<circle cx="398.7" cy="163.4" r="0.5" fill="#5060e8"/>
<circle cx="355.7" cy="52.6" r="2.1" fill="#e01c1c" stroke="#901010" stroke-width="0.6"/>
<circle cx="354.5" cy="54.0" r="2.1" fill="#e01c1c" stroke="#901010" stroke-width="0.6"/>
<circle cx="353.7" cy="52.5" r="2.1" fill="#e01c1c" stroke="#901010" stroke-width="0.6"/>
<circle cx="356.7" cy="52.7" r="2.1" fill="#e01c1c" stroke="#901010" stroke-width="0.6"/>
<circle cx="351.3" cy="51.7" r="2.1" fill="#e01c1c" stroke="#901010" stroke-width="0.6"/>
<circle cx="353.9" cy="52.9" r="2.1" fill="#e01c1c" stroke="#901010" stroke-width="0.6"/>
<circle cx="350.0" cy="51.8" r="2.1" fill="#e01c1c" stroke="#901010" stroke-width="0.6"/>
<circle cx="355.2" cy="54.0" r="2.1" fill="#e01c1c" stroke="#901010" stroke-width="0.6"/>
<circle cx="357.3" cy="52.8" r="2.1" fill="#e01c1c" stroke="#901010" stroke-width="0.6"/>
<circle cx="354.3" cy="50.6" r="2.1" fill="#e01c1c" stroke="#901010" stroke-width="0.6"/>
<circle cx="353.7" cy="53.3" r="2.1" fill="#e01c1c" stroke="#901010" stroke-width="0.6"/>
<circle cx="350.9" cy="53.5" r="2.1" fill="#e01c1c" stroke="#901010" stroke-width="0.6"/>
<circle cx="356.7" cy="53.8" r="2.1" fill="#e01c1c" stroke="#901010" stroke-width="0.6"/>
<circle cx="355.1" cy="52.0" r="0.7" fill="#ff6050"/>
<circle cx="353.9" cy="53.3" r="0.7" fill="#ff6050"/>
<circle cx="353.0" cy="51.9" r="0.7" fill="#ff6050"/>
<circle cx="356.0" cy="52.0" r="0.7" fill="#ff6050"/>
<circle cx="350.7" cy="51.1" r="0.7" fill="#ff6050"/>
<circle cx="353.3" cy="52.2" r="0.7" fill="#ff6050"/>
<circle cx="349.3" cy="51.2" r="0.7" fill="#ff6050"/>
<circle cx="354.6" cy="53.3" r="0.7" fill="#ff6050"/>
<circle cx="356.7" cy="52.2" r="0.7" fill="#ff6050"/>
<circle cx="353.7" cy="50.0" r="0.7" fill="#ff6050"/>
<circle cx="353.1" cy="52.6" r="0.7" fill="#ff6050"/>
<circle cx="350.3" cy="52.8" r="0.7" fill="#ff6050"/>
<circle cx="356.0" cy="53.2" r="0.7" fill="#ff6050"/>
<circle cx="434.0" cy="51.2" r="2.1" fill="#e01c1c" stroke="#901010" stroke-width="0.6"/>
<circle cx="434.7" cy="49.4" r="2.1" fill="#e01c1c" stroke="#901010" stroke-width="0.6"/>
<circle cx="438.3" cy="50.2" r="2.1" fill="#e01c1c" stroke="#901010" stroke-width="0.6"/>
<circle cx="437.7" cy="49.0" r="2.1" fill="#e01c1c" stroke="#901010" stroke-width="0.6"/>
<circle cx="434.7" cy="50.4" r="2.1" fill="#e01c1c" stroke="#901010" stroke-width="0.6"/>
<circle cx="433.6" cy="51.3" r="2.1" fill="#e01c1c" stroke="#901010" stroke-width="0.6"/>
<circle cx="436.2" cy="48.9" r="2.1" fill="#e01c1c" stroke="#901010" stroke-width="0.6"/>
<circle cx="437.2" cy="48.8" r="2.1" fill="#e01c1c" stroke="#901010" stroke-width="0.6"/>
<circle cx="440.5" cy="50.6" r="2.1" fill="#e01c1c" stroke="#901010" stroke-width="0.6"/>
<circle cx="436.5" cy="51.9" r="2.1" fill="#e01c1c" stroke="#901010" stroke-width="0.6"/>
<circle cx="436.1" cy="51.5" r="2.1" fill="#e01c1c" stroke="#901010" stroke-width="0.6"/>
<circle cx="437.0" cy="49.5" r="2.1" fill="#e01c1c" stroke="#901010" stroke-width="0.6"/>
<circle cx="432.9" cy="49.9" r="2.1" fill="#e01c1c" stroke="#901010" stroke-width="0.6"/>
<circle cx="433.4" cy="50.6" r="0.7" fill="#ff6050"/>
<circle cx="434.0" cy="48.8" r="0.7" fill="#ff6050"/>
<circle cx="437.6" cy="49.6" r="0.7" fill="#ff6050"/>
<circle cx="437.0" cy="48.4" r="0.7" fill="#ff6050"/>
<circle cx="434.0" cy="49.8" r="0.7" fill="#ff6050"/>
<circle cx="433.0" cy="50.6" r="0.7" fill="#ff6050"/>
<circle cx="435.5" cy="48.2" r="0.7" fill="#ff6050"/>
<circle cx="436.6" cy="48.2" r="0.7" fill="#ff6050"/>
<circle cx="439.8" cy="50.0" r="0.7" fill="#ff6050"/>
<circle cx="435.9" cy="51.2" r="0.7" fill="#ff6050"/>
<circle cx="435.5" cy="50.9" r="0.7" fill="#ff6050"/>
<circle cx="436.4" cy="48.9" r="0.7" fill="#ff6050"/>
<circle cx="432.3" cy="49.3" r="0.7" fill="#ff6050"/>
<circle cx="377.5" cy="142.1" r="1.9" fill="#e01c1c" stroke="#901010" stroke-width="0.6"/>
<circle cx="378.0" cy="134.4" r="1.9" fill="#e01c1c" stroke="#901010" stroke-width="0.6"/>
<circle cx="376.7" cy="146.0" r="1.9" fill="#e01c1c" stroke="#901010" stroke-width="0.6"/>
<circle cx="378.7" cy="138.5" r="1.9" fill="#e01c1c" stroke="#901010" stroke-width="0.6"/>
<circle cx="376.8" cy="143.5" r="1.9" fill="#e01c1c" stroke="#901010" stroke-width="0.6"/>
<circle cx="376.7" cy="132.4" r="1.9" fill="#e01c1c" stroke="#901010" stroke-width="0.6"/>
<circle cx="377.1" cy="137.4" r="1.9" fill="#e01c1c" stroke="#901010" stroke-width="0.6"/>
<circle cx="376.7" cy="145.9" r="1.9" fill="#e01c1c" stroke="#901010" stroke-width="0.6"/>
<circle cx="378.2" cy="144.2" r="1.9" fill="#e01c1c" stroke="#901010" stroke-width="0.6"/>
<circle cx="376.0" cy="140.7" r="1.9" fill="#e01c1c" stroke="#901010" stroke-width="0.6"/>
<circle cx="377.2" cy="133.7" r="1.9" fill="#e01c1c" stroke="#901010" stroke-width="0.6"/>
<circle cx="376.6" cy="136.4" r="1.9" fill="#e01c1c" stroke="#901010" stroke-width="0.6"/>
<circle cx="377.0" cy="141.5" r="1.9" fill="#e01c1c" stroke="#901010" stroke-width="0.6"/>
<circle cx="376.0" cy="140.8" r="1.9" fill="#e01c1c" stroke="#901010" stroke-width="0.6"/>
<circle cx="377.3" cy="131.5" r="1.9" fill="#e01c1c" stroke="#901010" stroke-width="0.6"/>
<circle cx="378.0" cy="136.5" r="1.9" fill="#e01c1c" stroke="#901010" stroke-width="0.6"/>
<circle cx="377.0" cy="136.2" r="1.9" fill="#e01c1c" stroke="#901010" stroke-width="0.6"/>
<circle cx="378.4" cy="132.2" r="1.9" fill="#e01c1c" stroke="#901010" stroke-width="0.6"/>
<circle cx="376.4" cy="136.2" r="1.9" fill="#e01c1c" stroke="#901010" stroke-width="0.6"/>
<circle cx="379.1" cy="141.0" r="1.9" fill="#e01c1c" stroke="#901010" stroke-width="0.6"/>
<circle cx="377.0" cy="141.5" r="0.7" fill="#ff6050"/>
<circle cx="377.4" cy="133.9" r="0.7" fill="#ff6050"/>
<circle cx="376.1" cy="145.5" r="0.7" fill="#ff6050"/>
<circle cx="378.1" cy="138.0" r="0.7" fill="#ff6050"/>
<circle cx="376.2" cy="142.9" r="0.7" fill="#ff6050"/>
<circle cx="376.1" cy="131.8" r="0.7" fill="#ff6050"/>
<circle cx="376.5" cy="136.8" r="0.7" fill="#ff6050"/>
<circle cx="376.1" cy="145.4" r="0.7" fill="#ff6050"/>
<circle cx="377.6" cy="143.6" r="0.7" fill="#ff6050"/>
<circle cx="375.4" cy="140.2" r="0.7" fill="#ff6050"/>
<circle cx="376.6" cy="133.1" r="0.7" fill="#ff6050"/>
<circle cx="376.0" cy="135.8" r="0.7" fill="#ff6050"/>
<circle cx="376.5" cy="141.0" r="0.7" fill="#ff6050"/>
<circle cx="375.5" cy="140.2" r="0.7" fill="#ff6050"/>
<circle cx="376.8" cy="131.0" r="0.7" fill="#ff6050"/>
<circle cx="377.4" cy="136.0" r="0.7" fill="#ff6050"/>
<circle cx="376.4" cy="135.6" r="0.7" fill="#ff6050"/>
<circle cx="377.9" cy="131.6" r="0.7" fill="#ff6050"/>
<circle cx="375.8" cy="135.6" r="0.7" fill="#ff6050"/>
<circle cx="378.5" cy="140.4" r="0.7" fill="#ff6050"/>
<circle cx="404.0" cy="158.8" r="2.1" fill="#e01c1c" stroke="#901010" stroke-width="0.6"/>
<circle cx="400.1" cy="157.0" r="2.1" fill="#e01c1c" stroke="#901010" stroke-width="0.6"/>
<circle cx="398.8" cy="157.3" r="2.1" fill="#e01c1c" stroke="#901010" stroke-width="0.6"/>
<circle cx="402.6" cy="158.8" r="2.1" fill="#e01c1c" stroke="#901010" stroke-width="0.6"/>
<circle cx="403.2" cy="157.8" r="2.1" fill="#e01c1c" stroke="#901010" stroke-width="0.6"/>
<circle cx="403.2" cy="157.9" r="2.1" fill="#e01c1c" stroke="#901010" stroke-width="0.6"/>
<circle cx="403.9" cy="158.7" r="2.1" fill="#e01c1c" stroke="#901010" stroke-width="0.6"/>
<circle cx="402.4" cy="157.6" r="2.1" fill="#e01c1c" stroke="#901010" stroke-width="0.6"/>
<circle cx="405.8" cy="159.7" r="2.1" fill="#e01c1c" stroke="#901010" stroke-width="0.6"/>
<circle cx="403.8" cy="159.9" r="2.1" fill="#e01c1c" stroke="#901010" stroke-width="0.6"/>
<circle cx="402.7" cy="159.7" r="2.1" fill="#e01c1c" stroke="#901010" stroke-width="0.6"/>
<circle cx="400.4" cy="160.0" r="2.1" fill="#e01c1c" stroke="#901010" stroke-width="0.6"/>
<circle cx="404.1" cy="160.3" r="2.1" fill="#e01c1c" stroke="#901010" stroke-width="0.6"/>
<circle cx="405.5" cy="158.3" r="2.1" fill="#e01c1c" stroke="#901010" stroke-width="0.6"/>
<circle cx="406.3" cy="159.2" r="2.1" fill="#e01c1c" stroke="#901010" stroke-width="0.6"/>
<circle cx="401.2" cy="160.1" r="2.1" fill="#e01c1c" stroke="#901010" stroke-width="0.6"/>
<circle cx="399.4" cy="160.0" r="2.1" fill="#e01c1c" stroke="#901010" stroke-width="0.6"/>
<circle cx="403.4" cy="158.2" r="0.7" fill="#ff6050"/>
<circle cx="399.5" cy="156.4" r="0.7" fill="#ff6050"/>
<circle cx="398.1" cy="156.7" r="0.7" fill="#ff6050"/>
<circle cx="402.0" cy="158.2" r="0.7" fill="#ff6050"/>
<circle cx="402.6" cy="157.2" r="0.7" fill="#ff6050"/>
<circle cx="402.6" cy="157.3" r="0.7" fill="#ff6050"/>
<circle cx="403.3" cy="158.1" r="0.7" fill="#ff6050"/>
<circle cx="401.8" cy="157.0" r="0.7" fill="#ff6050"/>
<circle cx="405.2" cy="159.1" r="0.7" fill="#ff6050"/>
<circle cx="403.1" cy="159.3" r="0.7" fill="#ff6050"/>
<circle cx="402.0" cy="159.0" r="0.7" fill="#ff6050"/>
<circle cx="399.8" cy="159.4" r="0.7" fill="#ff6050"/>
<circle cx="403.5" cy="159.7" r="0.7" fill="#ff6050"/>
<circle cx="404.9" cy="157.7" r="0.7" fill="#ff6050"/>
<circle cx="405.7" cy="158.6" r="0.7" fill="#ff6050"/>
<circle cx="400.6" cy="159.5" r="0.7" fill="#ff6050"/>
<circle cx="398.8" cy="159.4" r="0.7" fill="#ff6050"/>
<g>
<line x1="60.7" y1="15.2" x2="60.7" y2="171.0" stroke="#f2f2f2" stroke-width="0.6"/>
<line x1="113.8" y1="15.2" x2="113.8" y2="171.0" stroke="#f2f2f2" stroke-width="0.6"/>
<line x1="166.9" y1="15.2" x2="166.9" y2="171.0" stroke="#f2f2f2" stroke-width="0.6"/>
<line x1="219.9" y1="15.2" x2="219.9" y2="171.0" stroke="#f2f2f2" stroke-width="0.6"/>
<line x1="46.0" y1="140.1" x2="240.0" y2="140.1" stroke="#f2f2f2" stroke-width="0.6"/>
<line x1="46.0" y1="91.7" x2="240.0" y2="91.7" stroke="#f2f2f2" stroke-width="0.6"/>
<line x1="46.0" y1="43.3" x2="240.0" y2="43.3" stroke="#f2f2f2" stroke-width="0.6"/>
<line x1="87.2" y1="15.2" x2="87.2" y2="171.0" stroke="#e6e6e6" stroke-width="0.9"/>
<line x1="140.3" y1="15.2" x2="140.3" y2="171.0" stroke="#e6e6e6" stroke-width="0.9"/>
<line x1="193.4" y1="15.2" x2="193.4" y2="171.0" stroke="#e6e6e6" stroke-width="0.9"/>
<line x1="46.0" y1="164.3" x2="240.0" y2="164.3" stroke="#e6e6e6" stroke-width="0.9"/>
<line x1="46.0" y1="115.9" x2="240.0" y2="115.9" stroke="#e6e6e6" stroke-width="0.9"/>
<line x1="46.0" y1="67.5" x2="240.0" y2="67.5" stroke="#e6e6e6" stroke-width="0.9"/>
<line x1="46.0" y1="19.1" x2="240.0" y2="19.1" stroke="#e6e6e6" stroke-width="0.9"/>
<line x1="119.1" y1="15.2" x2="119.1" y2="171.0" stroke="#d2d2d2" stroke-width="1"/>
<line x1="161.5" y1="15.2" x2="161.5" y2="171.0" stroke="#d2d2d2" stroke-width="1"/>
<line x1="46.0" y1="151.7" x2="240.0" y2="151.7" stroke="#c4c4c4" stroke-width="1"/>
<line x1="46" y1="15.2" x2="46" y2="171.3" stroke="#bdbdbd" stroke-width="1.6"/>
<line x1="45.2" y1="171.2" x2="240" y2="171.2" stroke="#bdbdbd" stroke-width="1.6"/>
<line x1="43.6" y1="164.3" x2="45.5" y2="164.3" stroke="#333" stroke-width="0.8"/>
<line x1="43.6" y1="115.9" x2="45.5" y2="115.9" stroke="#333" stroke-width="0.8"/>
<line x1="43.6" y1="67.5" x2="45.5" y2="67.5" stroke="#333" stroke-width="0.8"/>
<line x1="43.6" y1="19.1" x2="45.5" y2="19.1" stroke="#333" stroke-width="0.8"/>
<line x1="87.2" y1="171.8" x2="87.2" y2="173.6" stroke="#333" stroke-width="0.8"/>
<line x1="140.3" y1="171.8" x2="140.3" y2="173.6" stroke="#333" stroke-width="0.8"/>
<line x1="193.4" y1="171.8" x2="193.4" y2="173.6" stroke="#333" stroke-width="0.8"/>
<text x="42.6" y="168.8" font-size="9.4" text-anchor="end" fill="#222" font-family="Liberation Sans, sans-serif">0</text>
<text x="42.6" y="120.4" font-size="9.4" text-anchor="end" fill="#222" font-family="Liberation Sans, sans-serif">5</text>
<text x="42.6" y="72.0" font-size="9.4" text-anchor="end" fill="#222" font-family="Liberation Sans, sans-serif">10</text>
<text x="42.6" y="23.6" font-size="9.4" text-anchor="end" fill="#222" font-family="Liberation Sans, sans-serif">15</text>
<text x="86.7" y="183.4" font-size="9.8" text-anchor="middle" fill="#222" font-family="Liberation Sans, sans-serif">−2.5</text>
<text x="140.7" y="183.4" font-size="9.8" text-anchor="middle" fill="#222" font-family="Liberation Sans, sans-serif">0</text>
<text x="195.9" y="183.4" font-size="9.8" text-anchor="middle" fill="#222" font-family="Liberation Sans, sans-serif">2.5</text>
<text x="146.8" y="189.6" font-size="8.9" text-anchor="middle" fill="#111" font-family="Liberation Sans, sans-serif">Log2 fold change</text>
<text transform="translate(33.6,98.4) rotate(-90)" font-size="9.2" text-anchor="middle" fill="#111" font-family="Liberation Sans, sans-serif">−Log10 P</text>
<circle cx="141.7" cy="161.9" r="1.75" fill="#1a1a1a" fill-opacity="0.58"/>
<circle cx="146.1" cy="164.8" r="1.75" fill="#1a1a1a" fill-opacity="0.58"/>
<circle cx="135.8" cy="153.9" r="1.75" fill="#1a1a1a" fill-opacity="0.58"/>
<circle cx="138.7" cy="159.2" r="1.75" fill="#1a1a1a" fill-opacity="0.58"/>
<circle cx="138.5" cy="160.8" r="1.75" fill="#1a1a1a" fill-opacity="0.58"/>
<circle cx="131.7" cy="152.7" r="1.75" fill="#1a1a1a" fill-opacity="0.58"/>
<circle cx="129.5" cy="159.6" r="1.75" fill="#1a1a1a" fill-opacity="0.58"/>
<circle cx="130.8" cy="155.0" r="1.75" fill="#1a1a1a" fill-opacity="0.58"/>
<circle cx="130.0" cy="157.7" r="1.75" fill="#1a1a1a" fill-opacity="0.58"/>
<circle cx="146.5" cy="163.5" r="1.75" fill="#1a1a1a" fill-opacity="0.58"/>
<circle cx="131.9" cy="159.3" r="1.75" fill="#1a1a1a" fill-opacity="0.58"/>
<circle cx="125.5" cy="162.1" r="1.75" fill="#1a1a1a" fill-opacity="0.58"/>
<circle cx="131.1" cy="155.7" r="1.75" fill="#1a1a1a" fill-opacity="0.58"/>
<circle cx="137.9" cy="162.4" r="1.75" fill="#1a1a1a" fill-opacity="0.58"/>
<circle cx="148.3" cy="163.8" r="1.75" fill="#1a1a1a" fill-opacity="0.58"/>
<circle cx="141.2" cy="164.7" r="1.75" fill="#1a1a1a" fill-opacity="0.58"/>
<circle cx="130.9" cy="164.8" r="1.75" fill="#1a1a1a" fill-opacity="0.58"/>
<circle cx="138.7" cy="155.0" r="1.75" fill="#1a1a1a" fill-opacity="0.58"/>
<circle cx="130.0" cy="152.8" r="1.75" fill="#1a1a1a" fill-opacity="0.58"/>
<circle cx="133.4" cy="153.8" r="1.75" fill="#1a1a1a" fill-opacity="0.58"/>
<circle cx="140.6" cy="163.2" r="1.75" fill="#1a1a1a" fill-opacity="0.58"/>
<circle cx="135.3" cy="156.7" r="1.75" fill="#1a1a1a" fill-opacity="0.58"/>
<circle cx="142.0" cy="162.6" r="1.75" fill="#1a1a1a" fill-opacity="0.58"/>
<circle cx="129.2" cy="157.3" r="1.75" fill="#1a1a1a" fill-opacity="0.58"/>
<circle cx="136.6" cy="161.7" r="1.75" fill="#1a1a1a" fill-opacity="0.58"/>
<circle cx="136.2" cy="154.7" r="1.75" fill="#1a1a1a" fill-opacity="0.58"/>
<circle cx="133.3" cy="152.3" r="1.75" fill="#1a1a1a" fill-opacity="0.58"/>
<circle cx="137.0" cy="155.4" r="1.75" fill="#1a1a1a" fill-opacity="0.58"/>
<circle cx="147.7" cy="163.9" r="1.75" fill="#1a1a1a" fill-opacity="0.58"/>
<circle cx="131.7" cy="162.6" r="1.75" fill="#1a1a1a" fill-opacity="0.58"/>
<circle cx="147.4" cy="161.1" r="1.75" fill="#1a1a1a" fill-opacity="0.58"/>
<circle cx="143.2" cy="162.2" r="1.75" fill="#1a1a1a" fill-opacity="0.58"/>
<circle cx="131.8" cy="161.3" r="1.75" fill="#1a1a1a" fill-opacity="0.58"/>
<circle cx="128.7" cy="157.8" r="1.75" fill="#1a1a1a" fill-opacity="0.58"/>
<circle cx="147.3" cy="161.1" r="1.75" fill="#1a1a1a" fill-opacity="0.58"/>
<circle cx="142.7" cy="159.3" r="1.75" fill="#1a1a1a" fill-opacity="0.58"/>
<circle cx="127.5" cy="160.7" r="1.75" fill="#1a1a1a" fill-opacity="0.58"/>
<circle cx="135.6" cy="163.1" r="1.75" fill="#1a1a1a" fill-opacity="0.58"/>
<circle cx="142.6" cy="162.8" r="1.75" fill="#1a1a1a" fill-opacity="0.58"/>
<circle cx="131.2" cy="160.3" r="1.75" fill="#1a1a1a" fill-opacity="0.58"/>
<circle cx="146.0" cy="163.3" r="1.75" fill="#1a1a1a" fill-opacity="0.58"/>
<circle cx="131.3" cy="163.5" r="1.75" fill="#1a1a1a" fill-opacity="0.58"/>
<circle cx="151.1" cy="161.0" r="1.75" fill="#1a1a1a" fill-opacity="0.58"/>
<circle cx="137.7" cy="158.5" r="1.75" fill="#1a1a1a" fill-opacity="0.58"/>
<circle cx="124.3" cy="163.4" r="1.75" fill="#1a1a1a" fill-opacity="0.58"/>
<circle cx="144.3" cy="161.5" r="1.75" fill="#1a1a1a" fill-opacity="0.58"/>
<circle cx="147.7" cy="159.3" r="1.75" fill="#1a1a1a" fill-opacity="0.58"/>
<circle cx="143.3" cy="156.7" r="1.75" fill="#1a1a1a" fill-opacity="0.58"/>
<circle cx="141.7" cy="162.4" r="1.75" fill="#1a1a1a" fill-opacity="0.58"/>
<circle cx="142.2" cy="161.5" r="1.75" fill="#1a1a1a" fill-opacity="0.58"/>
<circle cx="134.8" cy="160.4" r="1.75" fill="#1a1a1a" fill-opacity="0.58"/>
<circle cx="126.3" cy="161.0" r="1.75" fill="#1a1a1a" fill-opacity="0.58"/>
<circle cx="135.9" cy="153.6" r="1.75" fill="#1a1a1a" fill-opacity="0.58"/>
<circle cx="130.1" cy="152.9" r="1.75" fill="#1a1a1a" fill-opacity="0.58"/>
<circle cx="135.7" cy="156.1" r="1.75" fill="#1a1a1a" fill-opacity="0.58"/>
<circle cx="141.2" cy="159.4" r="1.75" fill="#1a1a1a" fill-opacity="0.58"/>
<circle cx="128.6" cy="156.6" r="1.75" fill="#1a1a1a" fill-opacity="0.58"/>
<circle cx="138.7" cy="155.4" r="1.75" fill="#1a1a1a" fill-opacity="0.58"/>
<circle cx="148.9" cy="160.3" r="1.75" fill="#1a1a1a" fill-opacity="0.58"/>
<circle cx="132.0" cy="152.3" r="1.75" fill="#1a1a1a" fill-opacity="0.58"/>
<circle cx="140.6" cy="159.0" r="1.75" fill="#1a1a1a" fill-opacity="0.58"/>
<circle cx="141.1" cy="155.6" r="1.75" fill="#1a1a1a" fill-opacity="0.58"/>
<circle cx="141.9" cy="164.3" r="1.75" fill="#1a1a1a" fill-opacity="0.58"/>
<circle cx="132.3" cy="156.9" r="1.75" fill="#1a1a1a" fill-opacity="0.58"/>
<circle cx="126.6" cy="154.7" r="1.75" fill="#1a1a1a" fill-opacity="0.58"/>
<circle cx="140.6" cy="154.2" r="1.75" fill="#1a1a1a" fill-opacity="0.58"/>
<circle cx="133.8" cy="155.1" r="1.75" fill="#1a1a1a" fill-opacity="0.58"/>
<circle cx="128.9" cy="157.6" r="1.75" fill="#1a1a1a" fill-opacity="0.58"/>
<circle cx="134.9" cy="154.7" r="1.75" fill="#1a1a1a" fill-opacity="0.58"/>
<circle cx="147.7" cy="163.2" r="1.75" fill="#1a1a1a" fill-opacity="0.58"/>
<circle cx="141.1" cy="157.6" r="1.75" fill="#1a1a1a" fill-opacity="0.58"/>
<circle cx="142.5" cy="159.7" r="1.75" fill="#1a1a1a" fill-opacity="0.58"/>
<circle cx="138.3" cy="155.4" r="1.75" fill="#1a1a1a" fill-opacity="0.58"/>
<circle cx="129.3" cy="158.5" r="1.75" fill="#1a1a1a" fill-opacity="0.58"/>
<circle cx="135.6" cy="155.8" r="1.75" fill="#1a1a1a" fill-opacity="0.58"/>
<circle cx="146.3" cy="159.5" r="1.75" fill="#1a1a1a" fill-opacity="0.58"/>
<circle cx="135.3" cy="164.7" r="1.75" fill="#1a1a1a" fill-opacity="0.58"/>
<circle cx="134.3" cy="159.2" r="1.75" fill="#1a1a1a" fill-opacity="0.58"/>
<circle cx="144.9" cy="160.1" r="1.75" fill="#1a1a1a" fill-opacity="0.58"/>
<circle cx="136.3" cy="164.6" r="1.75" fill="#1a1a1a" fill-opacity="0.58"/>
<circle cx="132.6" cy="156.3" r="1.75" fill="#1a1a1a" fill-opacity="0.58"/>
<circle cx="129.3" cy="163.3" r="1.75" fill="#1a1a1a" fill-opacity="0.58"/>
<circle cx="144.4" cy="156.9" r="1.75" fill="#1a1a1a" fill-opacity="0.58"/>
<circle cx="128.9" cy="162.5" r="1.75" fill="#1a1a1a" fill-opacity="0.58"/>
<circle cx="136.2" cy="158.8" r="1.75" fill="#1a1a1a" fill-opacity="0.58"/>
<circle cx="136.9" cy="155.3" r="1.75" fill="#1a1a1a" fill-opacity="0.58"/>
<circle cx="123.8" cy="159.4" r="1.75" fill="#1a1a1a" fill-opacity="0.58"/>
<circle cx="126.7" cy="163.1" r="1.75" fill="#1a1a1a" fill-opacity="0.58"/>
<circle cx="148.1" cy="160.6" r="1.75" fill="#1a1a1a" fill-opacity="0.58"/>
<circle cx="123.7" cy="159.8" r="1.75" fill="#1a1a1a" fill-opacity="0.58"/>
<circle cx="133.7" cy="152.6" r="1.75" fill="#1a1a1a" fill-opacity="0.58"/>
<circle cx="139.9" cy="161.9" r="1.75" fill="#1a1a1a" fill-opacity="0.58"/>
<circle cx="134.4" cy="155.0" r="1.75" fill="#1a1a1a" fill-opacity="0.58"/>
<circle cx="140.8" cy="157.8" r="1.75" fill="#1a1a1a" fill-opacity="0.58"/>
<circle cx="123.7" cy="160.1" r="1.75" fill="#1a1a1a" fill-opacity="0.58"/>
<circle cx="137.2" cy="164.6" r="1.75" fill="#1a1a1a" fill-opacity="0.58"/>
<circle cx="139.1" cy="159.9" r="1.75" fill="#1a1a1a" fill-opacity="0.58"/>
<circle cx="128.0" cy="158.8" r="1.75" fill="#1a1a1a" fill-opacity="0.58"/>
<circle cx="127.7" cy="162.0" r="1.75" fill="#1a1a1a" fill-opacity="0.58"/>
<circle cx="126.9" cy="155.9" r="1.75" fill="#1a1a1a" fill-opacity="0.58"/>
<circle cx="145.1" cy="160.5" r="1.75" fill="#1a1a1a" fill-opacity="0.58"/>
<circle cx="130.3" cy="162.7" r="1.75" fill="#1a1a1a" fill-opacity="0.58"/>
<circle cx="141.7" cy="155.7" r="1.75" fill="#1a1a1a" fill-opacity="0.58"/>
<circle cx="126.9" cy="155.3" r="1.75" fill="#1a1a1a" fill-opacity="0.58"/>
<circle cx="141.3" cy="155.6" r="1.75" fill="#1a1a1a" fill-opacity="0.58"/>
<circle cx="132.7" cy="152.2" r="1.75" fill="#1a1a1a" fill-opacity="0.58"/>
<circle cx="149.6" cy="160.4" r="1.75" fill="#1a1a1a" fill-opacity="0.58"/>
<circle cx="140.5" cy="159.2" r="1.75" fill="#1a1a1a" fill-opacity="0.58"/>
<circle cx="135.9" cy="164.2" r="1.75" fill="#1a1a1a" fill-opacity="0.58"/>
<circle cx="141.5" cy="156.9" r="1.75" fill="#1a1a1a" fill-opacity="0.58"/>
<circle cx="132.2" cy="156.2" r="1.75" fill="#1a1a1a" fill-opacity="0.58"/>
<circle cx="127.7" cy="154.4" r="1.75" fill="#1a1a1a" fill-opacity="0.58"/>
<circle cx="126.9" cy="157.7" r="1.75" fill="#1a1a1a" fill-opacity="0.58"/>
<circle cx="144.1" cy="160.8" r="1.75" fill="#1a1a1a" fill-opacity="0.58"/>
<circle cx="129.1" cy="160.8" r="1.75" fill="#1a1a1a" fill-opacity="0.58"/>
<circle cx="131.8" cy="155.0" r="1.75" fill="#1a1a1a" fill-opacity="0.58"/>
<circle cx="135.8" cy="154.5" r="1.75" fill="#1a1a1a" fill-opacity="0.58"/>
<circle cx="145.8" cy="161.5" r="1.75" fill="#1a1a1a" fill-opacity="0.58"/>
<circle cx="142.5" cy="156.9" r="1.75" fill="#1a1a1a" fill-opacity="0.58"/>
<circle cx="137.7" cy="155.6" r="1.75" fill="#1a1a1a" fill-opacity="0.58"/>
<circle cx="127.7" cy="156.5" r="1.75" fill="#1a1a1a" fill-opacity="0.58"/>
<circle cx="124.8" cy="158.1" r="1.75" fill="#1a1a1a" fill-opacity="0.58"/>
<circle cx="133.3" cy="158.5" r="1.75" fill="#1a1a1a" fill-opacity="0.58"/>
<circle cx="136.5" cy="159.1" r="1.75" fill="#1a1a1a" fill-opacity="0.58"/>
<circle cx="132.3" cy="160.0" r="1.75" fill="#1a1a1a" fill-opacity="0.58"/>
<circle cx="134.9" cy="154.5" r="1.75" fill="#1a1a1a" fill-opacity="0.58"/>
<circle cx="127.7" cy="151.1" r="1.75" fill="#1a1a1a" fill-opacity="0.58"/>
<circle cx="119.0" cy="130.5" r="1.75" fill="#1a1a1a" fill-opacity="0.58"/>
<circle cx="136.1" cy="150.8" r="1.75" fill="#1a1a1a" fill-opacity="0.58"/>
<circle cx="123.4" cy="133.0" r="1.75" fill="#1a1a1a" fill-opacity="0.58"/>
<circle cx="130.5" cy="153.8" r="1.75" fill="#1a1a1a" fill-opacity="0.58"/>
<circle cx="135.8" cy="141.0" r="1.75" fill="#1a1a1a" fill-opacity="0.58"/>
<circle cx="134.9" cy="146.0" r="1.75" fill="#1a1a1a" fill-opacity="0.58"/>
<circle cx="137.5" cy="147.1" r="1.75" fill="#1a1a1a" fill-opacity="0.58"/>
<circle cx="124.2" cy="154.6" r="1.75" fill="#1a1a1a" fill-opacity="0.58"/>
<circle cx="128.5" cy="153.3" r="1.75" fill="#1a1a1a" fill-opacity="0.58"/>
<circle cx="121.6" cy="129.1" r="1.75" fill="#1a1a1a" fill-opacity="0.58"/>
<circle cx="122.3" cy="132.1" r="1.75" fill="#1a1a1a" fill-opacity="0.58"/>
<circle cx="133.8" cy="152.5" r="1.75" fill="#1a1a1a" fill-opacity="0.58"/>
<circle cx="126.1" cy="130.7" r="1.75" fill="#1a1a1a" fill-opacity="0.58"/>
<circle cx="129.6" cy="129.4" r="1.75" fill="#1a1a1a" fill-opacity="0.58"/>
<circle cx="135.7" cy="146.6" r="1.75" fill="#1a1a1a" fill-opacity="0.58"/>
<circle cx="137.8" cy="147.5" r="1.75" fill="#1a1a1a" fill-opacity="0.58"/>
<circle cx="130.1" cy="133.7" r="1.75" fill="#1a1a1a" fill-opacity="0.58"/>
<circle cx="132.0" cy="133.5" r="1.75" fill="#1a1a1a" fill-opacity="0.58"/>
<circle cx="125.7" cy="153.5" r="1.75" fill="#1a1a1a" fill-opacity="0.58"/>
<circle cx="132.5" cy="148.7" r="1.75" fill="#1a1a1a" fill-opacity="0.58"/>
<circle cx="137.6" cy="153.1" r="1.75" fill="#1a1a1a" fill-opacity="0.58"/>
<circle cx="134.1" cy="151.6" r="1.75" fill="#1a1a1a" fill-opacity="0.58"/>
<circle cx="135.1" cy="150.7" r="1.75" fill="#1a1a1a" fill-opacity="0.58"/>
<circle cx="134.5" cy="155.0" r="1.75" fill="#1a1a1a" fill-opacity="0.58"/>
<circle cx="118.7" cy="122.1" r="1.75" fill="#1a1a1a" fill-opacity="0.58"/>
<circle cx="133.7" cy="147.7" r="1.75" fill="#1a1a1a" fill-opacity="0.58"/>
<circle cx="126.5" cy="139.7" r="1.75" fill="#1a1a1a" fill-opacity="0.58"/>
<circle cx="119.1" cy="141.9" r="1.75" fill="#1a1a1a" fill-opacity="0.58"/>
<circle cx="135.8" cy="146.9" r="1.75" fill="#1a1a1a" fill-opacity="0.58"/>
<circle cx="119.0" cy="137.2" r="1.75" fill="#1a1a1a" fill-opacity="0.58"/>
<circle cx="135.2" cy="154.7" r="1.75" fill="#1a1a1a" fill-opacity="0.58"/>
<circle cx="117.9" cy="128.8" r="1.75" fill="#1a1a1a" fill-opacity="0.58"/>
<circle cx="122.5" cy="136.3" r="1.75" fill="#1a1a1a" fill-opacity="0.58"/>
<circle cx="127.5" cy="136.9" r="1.75" fill="#1a1a1a" fill-opacity="0.58"/>
<circle cx="133.9" cy="138.3" r="1.75" fill="#1a1a1a" fill-opacity="0.58"/>
<circle cx="126.2" cy="149.1" r="1.75" fill="#1a1a1a" fill-opacity="0.58"/>
<circle cx="131.4" cy="154.1" r="1.75" fill="#1a1a1a" fill-opacity="0.58"/>
<circle cx="126.7" cy="153.0" r="1.75" fill="#1a1a1a" fill-opacity="0.58"/>
<circle cx="121.6" cy="134.9" r="1.75" fill="#1a1a1a" fill-opacity="0.58"/>
<circle cx="120.8" cy="135.2" r="1.75" fill="#1a1a1a" fill-opacity="0.58"/>
<circle cx="118.9" cy="143.7" r="1.75" fill="#1a1a1a" fill-opacity="0.58"/>
<circle cx="128.5" cy="146.2" r="1.75" fill="#1a1a1a" fill-opacity="0.58"/>
<circle cx="118.3" cy="131.7" r="1.75" fill="#1a1a1a" fill-opacity="0.58"/>
<circle cx="123.2" cy="149.3" r="1.75" fill="#1a1a1a" fill-opacity="0.58"/>
<circle cx="122.8" cy="151.2" r="1.75" fill="#1a1a1a" fill-opacity="0.58"/>
<circle cx="126.1" cy="143.2" r="1.75" fill="#1a1a1a" fill-opacity="0.58"/>
<circle cx="122.8" cy="153.1" r="1.75" fill="#1a1a1a" fill-opacity="0.58"/>
<circle cx="135.2" cy="140.4" r="1.75" fill="#1a1a1a" fill-opacity="0.58"/>
<circle cx="128.9" cy="152.9" r="1.75" fill="#1a1a1a" fill-opacity="0.58"/>
<circle cx="139.2" cy="146.8" r="1.75" fill="#1a1a1a" fill-opacity="0.58"/>
<circle cx="132.7" cy="151.7" r="1.75" fill="#1a1a1a" fill-opacity="0.58"/>
<circle cx="118.3" cy="132.1" r="1.75" fill="#1a1a1a" fill-opacity="0.58"/>
<circle cx="122.8" cy="134.3" r="1.75" fill="#1a1a1a" fill-opacity="0.58"/>
<circle cx="121.3" cy="70.3" r="1.8" fill="#1e1e1e" fill-opacity="0.68"/>
<circle cx="159.6" cy="119.0" r="1.8" fill="#1e1e1e" fill-opacity="0.68"/>
<circle cx="158.2" cy="133.0" r="1.8" fill="#1e1e1e" fill-opacity="0.68"/>
<circle cx="145.6" cy="145.9" r="1.8" fill="#1e1e1e" fill-opacity="0.68"/>
<circle cx="149.5" cy="148.3" r="1.8" fill="#1e1e1e" fill-opacity="0.68"/>
<circle cx="160.5" cy="148.3" r="1.8" fill="#1e1e1e" fill-opacity="0.68"/>
<circle cx="161.3" cy="150.1" r="1.8" fill="#1e1e1e" fill-opacity="0.68"/>
<circle cx="161.6" cy="154.8" r="1.8" fill="#1e1e1e" fill-opacity="0.68"/>
<circle cx="160.5" cy="159.5" r="1.8" fill="#1e1e1e" fill-opacity="0.68"/>
<circle cx="164.9" cy="158.1" r="1.8" fill="#1e1e1e" fill-opacity="0.68"/>
<circle cx="169.3" cy="157.0" r="1.8" fill="#1e1e1e" fill-opacity="0.68"/>
<circle cx="173.6" cy="158.5" r="1.8" fill="#1e1e1e" fill-opacity="0.68"/>
<circle cx="176.5" cy="156.3" r="1.8" fill="#1e1e1e" fill-opacity="0.68"/>
<circle cx="182.4" cy="158.1" r="1.8" fill="#1e1e1e" fill-opacity="0.68"/>
<circle cx="150.4" cy="148.3" r="1.8" fill="#1e1e1e" fill-opacity="0.68"/>
<circle cx="149.3" cy="157.5" r="1.8" fill="#1e1e1e" fill-opacity="0.68"/>
<circle cx="152.3" cy="160.0" r="1.8" fill="#1e1e1e" fill-opacity="0.68"/>
<circle cx="153.6" cy="162.4" r="1.8" fill="#1e1e1e" fill-opacity="0.68"/>
<circle cx="144.7" cy="154.4" r="1.8" fill="#1e1e1e" fill-opacity="0.68"/>
<circle cx="122.8" cy="120.3" r="1.8" fill="#1e1e1e" fill-opacity="0.68"/>
<circle cx="128.9" cy="119.1" r="1.8" fill="#1e1e1e" fill-opacity="0.68"/>
<circle cx="123.2" cy="123.2" r="1.8" fill="#1e1e1e" fill-opacity="0.68"/>
<circle cx="116.6" cy="124.0" r="1.8" fill="#1e1e1e" fill-opacity="0.68"/>
<circle cx="120.3" cy="128.5" r="1.8" fill="#1e1e1e" fill-opacity="0.68"/>
<circle cx="127.3" cy="130.5" r="1.8" fill="#1e1e1e" fill-opacity="0.68"/>
<circle cx="129.0" cy="131.5" r="1.8" fill="#1e1e1e" fill-opacity="0.68"/>
<circle cx="125.6" cy="135.4" r="1.8" fill="#1e1e1e" fill-opacity="0.68"/>
<circle cx="116.6" cy="137.0" r="1.8" fill="#1e1e1e" fill-opacity="0.68"/>
<circle cx="119.9" cy="142.0" r="1.8" fill="#1e1e1e" fill-opacity="0.68"/>
<circle cx="123.3" cy="121.1" r="1.8" fill="#1e1e1e" fill-opacity="0.68"/>
<circle cx="125.4" cy="125.6" r="1.8" fill="#1e1e1e" fill-opacity="0.68"/>
<circle cx="120.3" cy="127.7" r="1.8" fill="#1e1e1e" fill-opacity="0.68"/>
<circle cx="126.5" cy="127.0" r="1.8" fill="#1e1e1e" fill-opacity="0.68"/>
<circle cx="122.3" cy="141.6" r="1.8" fill="#1e1e1e" fill-opacity="0.68"/>
<circle cx="127.8" cy="143.4" r="1.8" fill="#1e1e1e" fill-opacity="0.68"/>
<circle cx="132.7" cy="144.0" r="1.8" fill="#1e1e1e" fill-opacity="0.68"/>
<circle cx="135.8" cy="148.3" r="1.8" fill="#1e1e1e" fill-opacity="0.68"/>
<circle cx="114.9" cy="156.9" r="1.8" fill="#1e1e1e" fill-opacity="0.68"/>
<circle cx="119.2" cy="153.8" r="1.8" fill="#1e1e1e" fill-opacity="0.68"/>
<circle cx="121.7" cy="151.4" r="1.8" fill="#1e1e1e" fill-opacity="0.68"/>
<circle cx="117.4" cy="160.6" r="1.8" fill="#1e1e1e" fill-opacity="0.68"/>
<circle cx="91.9" cy="152.2" r="1.8" fill="#1e1e1e" fill-opacity="0.68"/>
<circle cx="104.2" cy="152.9" r="1.8" fill="#1e1e1e" fill-opacity="0.68"/>
<circle cx="108.0" cy="155.0" r="1.8" fill="#1e1e1e" fill-opacity="0.68"/>
<circle cx="112.0" cy="158.0" r="1.8" fill="#1e1e1e" fill-opacity="0.68"/>
<circle cx="114.0" cy="161.0" r="1.8" fill="#1e1e1e" fill-opacity="0.68"/>
<circle cx="124.0" cy="131.0" r="1.8" fill="#1e1e1e" fill-opacity="0.68"/>
<circle cx="121.0" cy="134.0" r="1.8" fill="#1e1e1e" fill-opacity="0.68"/>
<circle cx="127.0" cy="136.0" r="1.8" fill="#1e1e1e" fill-opacity="0.68"/>
<circle cx="130.0" cy="138.0" r="1.8" fill="#1e1e1e" fill-opacity="0.68"/>
<circle cx="123.0" cy="138.0" r="1.8" fill="#1e1e1e" fill-opacity="0.68"/>
<circle cx="126.0" cy="140.0" r="1.8" fill="#1e1e1e" fill-opacity="0.68"/>
<circle cx="131.0" cy="141.0" r="1.8" fill="#1e1e1e" fill-opacity="0.68"/>
<circle cx="118.0" cy="145.0" r="1.8" fill="#1e1e1e" fill-opacity="0.68"/>
<circle cx="121.0" cy="146.0" r="1.8" fill="#1e1e1e" fill-opacity="0.68"/>
<circle cx="124.0" cy="147.0" r="1.8" fill="#1e1e1e" fill-opacity="0.68"/>
<circle cx="129.0" cy="146.0" r="1.8" fill="#1e1e1e" fill-opacity="0.68"/>
<circle cx="133.0" cy="151.0" r="1.8" fill="#1e1e1e" fill-opacity="0.68"/>
<circle cx="119.0" cy="149.0" r="1.8" fill="#1e1e1e" fill-opacity="0.68"/>
<circle cx="116.0" cy="152.0" r="1.8" fill="#1e1e1e" fill-opacity="0.68"/>
<circle cx="112.0" cy="154.0" r="1.8" fill="#1e1e1e" fill-opacity="0.68"/>
<circle cx="110.0" cy="157.0" r="1.8" fill="#1e1e1e" fill-opacity="0.68"/>
<circle cx="139.0" cy="152.0" r="1.8" fill="#1e1e1e" fill-opacity="0.68"/>
<circle cx="141.0" cy="156.0" r="1.8" fill="#1e1e1e" fill-opacity="0.68"/>
<circle cx="136.0" cy="158.0" r="1.8" fill="#1e1e1e" fill-opacity="0.68"/>
<circle cx="150.0" cy="163.0" r="1.8" fill="#1e1e1e" fill-opacity="0.68"/>
<circle cx="155.0" cy="163.5" r="1.8" fill="#1e1e1e" fill-opacity="0.68"/>
<circle cx="147.0" cy="162.0" r="1.8" fill="#1e1e1e" fill-opacity="0.68"/>
<circle cx="138.0" cy="162.0" r="1.8" fill="#1e1e1e" fill-opacity="0.68"/>
<circle cx="131.0" cy="163.0" r="1.8" fill="#1e1e1e" fill-opacity="0.68"/>
<circle cx="127.0" cy="164.0" r="1.8" fill="#1e1e1e" fill-opacity="0.68"/>
<circle cx="122.0" cy="162.0" r="1.8" fill="#1e1e1e" fill-opacity="0.68"/>
<circle cx="119.0" cy="158.0" r="1.8" fill="#1e1e1e" fill-opacity="0.68"/>
<circle cx="128.0" cy="150.0" r="1.8" fill="#1e1e1e" fill-opacity="0.68"/>
<circle cx="131.0" cy="154.0" r="1.8" fill="#1e1e1e" fill-opacity="0.68"/>
<circle cx="125.0" cy="159.0" r="1.8" fill="#1e1e1e" fill-opacity="0.68"/>
<circle cx="134.0" cy="157.0" r="1.8" fill="#1e1e1e" fill-opacity="0.68"/>
<circle cx="118.8" cy="119.6" r="1.7" fill="#4444ee" fill-opacity="0.8"/>
<circle cx="107.2" cy="131.2" r="1.7" fill="#4444ee" fill-opacity="0.8"/>
<circle cx="106.2" cy="133.7" r="1.7" fill="#4444ee" fill-opacity="0.8"/>
<circle cx="99.7" cy="135.2" r="1.7" fill="#4444ee" fill-opacity="0.8"/>
<circle cx="87.1" cy="138.7" r="1.7" fill="#4444ee" fill-opacity="0.8"/>
<circle cx="88.6" cy="141.8" r="1.7" fill="#4444ee" fill-opacity="0.8"/>
<circle cx="109.7" cy="140.3" r="1.7" fill="#4444ee" fill-opacity="0.8"/>
<circle cx="113.8" cy="133.2" r="1.7" fill="#4444ee" fill-opacity="0.8"/>
<circle cx="117.3" cy="135.2" r="1.7" fill="#4444ee" fill-opacity="0.8"/>
<circle cx="114.3" cy="133.6" r="1.7" fill="#4444ee" fill-opacity="0.8"/>
<circle cx="116.1" cy="135.4" r="1.7" fill="#4444ee" fill-opacity="0.8"/>
<circle cx="110.6" cy="139.7" r="1.7" fill="#4444ee" fill-opacity="0.8"/>
<circle cx="112.5" cy="147.7" r="1.7" fill="#4444ee" fill-opacity="0.8"/>
<circle cx="115.5" cy="149.5" r="1.7" fill="#4444ee" fill-opacity="0.8"/>
<circle cx="117.4" cy="146.5" r="1.7" fill="#4444ee" fill-opacity="0.8"/>
<circle cx="111.2" cy="150.8" r="1.7" fill="#4444ee" fill-opacity="0.8"/>
<circle cx="101.7" cy="150.9" r="1.7" fill="#4444ee" fill-opacity="0.8"/>
<circle cx="104.0" cy="152.0" r="1.7" fill="#4444ee" fill-opacity="0.8"/>
<circle cx="165.2" cy="142.8" r="1.7" fill="#f04848" fill-opacity="0.85"/>
<circle cx="199.6" cy="74.2" r="1.7" fill="#f04848" fill-opacity="0.85"/>
<circle cx="198.6" cy="142.4" r="1.7" fill="#f04848" fill-opacity="0.85"/>
<text x="123.2" y="118.5" font-size="6.5" text-anchor="middle" fill="#1a1a1a" style="stroke-width:0.08px" font-family="Liberation Sans, sans-serif">177</text>
<text x="112.8" y="126.7" font-size="6.5" text-anchor="middle" fill="#1a1a1a" style="stroke-width:0.08px" font-family="Liberation Sans, sans-serif">342 289,292</text>
<text x="100.8" y="132.7" font-size="6.5" text-anchor="middle" fill="#1a1a1a" style="stroke-width:0.08px" font-family="Liberation Sans, sans-serif">323</text>
<text x="93.7" y="135.4" font-size="6.5" text-anchor="end" fill="#1a1a1a" style="stroke-width:0.08px" font-family="Liberation Sans, sans-serif">158,162</text>
<text x="109.5" y="140.9" font-size="6.5" text-anchor="end" fill="#1a1a1a" style="stroke-width:0.08px" font-family="Liberation Sans, sans-serif">32 116,137</text>
<text x="86.6" y="147.2" font-size="6.5" text-anchor="middle" fill="#1a1a1a" style="stroke-width:0.08px" font-family="Liberation Sans, sans-serif">437</text>
<text x="127.8" y="132.7" font-size="6.5" text-anchor="middle" fill="#1a1a1a" style="stroke-width:0.08px" font-family="Liberation Sans, sans-serif">148,324</text>
<text x="108.4" y="139.3" font-size="6.5" text-anchor="start" fill="#1a1a1a" style="stroke-width:0.08px" font-family="Liberation Sans, sans-serif">433</text>
<text x="123.2" y="139.3" font-size="6.5" text-anchor="start" fill="#1a1a1a" style="stroke-width:0.08px" font-family="Liberation Sans, sans-serif">38,162</text>
<text x="107.2" y="147.2" font-size="6.5" text-anchor="middle" fill="#1a1a1a" style="stroke-width:0.08px" font-family="Liberation Sans, sans-serif">64</text>
<text x="97.1" y="155.9" font-size="6.5" text-anchor="middle" fill="#1a1a1a" style="stroke-width:0.08px" font-family="Liberation Sans, sans-serif">58</text>
<text x="108.5" y="155.9" font-size="6.5" text-anchor="middle" fill="#1a1a1a" style="stroke-width:0.08px" font-family="Liberation Sans, sans-serif">227</text>
<text x="104.3" y="162.6" font-size="6.5" text-anchor="middle" fill="#1a1a1a" style="stroke-width:0.08px" font-family="Liberation Sans, sans-serif">228,252</text>
<text x="136.5" y="151.5" font-size="6.5" text-anchor="middle" fill="#1a1a1a" style="stroke-width:0.08px" font-family="Liberation Sans, sans-serif">8</text>
<text x="169.5" y="141.6" font-size="6.5" text-anchor="middle" fill="#1a1a1a" style="stroke-width:0.08px" font-family="Liberation Sans, sans-serif">433,439,440</text>
<text x="202.9" y="147.4" font-size="6.5" text-anchor="middle" fill="#1a1a1a" style="stroke-width:0.08px" font-family="Liberation Sans, sans-serif">173,192</text>
<text x="199.8" y="73.4" font-size="6.5" text-anchor="start" fill="#1a1a1a" style="stroke-width:0.08px" font-family="Liberation Sans, sans-serif">43</text>
<rect x="206" y="15.5" width="7.6" height="5.6" fill="#1030c8"/>
<rect x="206" y="47.3" width="7.6" height="5.8" fill="#ee1010"/>
<text x="217.3" y="21.6" font-size="8.95" fill="#222" font-family="Liberation Sans, sans-serif">Decreased</text>
<text x="217.3" y="32.1" font-size="8.95" fill="#222" font-family="Liberation Sans, sans-serif">DEPC labeled</text>
<text x="217.3" y="42.6" font-size="8.95" fill="#222" font-family="Liberation Sans, sans-serif">peptide intensity</text>
<text x="217.8" y="55.3" font-size="8.95" fill="#222" font-family="Liberation Sans, sans-serif">Increased DEPC</text>
<text x="217.8" y="65.8" font-size="8.95" fill="#222" font-family="Liberation Sans, sans-serif">labeled peptide</text>
<text x="217.8" y="76.3" font-size="8.95" fill="#222" font-family="Liberation Sans, sans-serif">intensity</text>
</g>
<line x1="44.6" y1="210.4" x2="44.6" y2="338.4" stroke="#d0d0d0" stroke-width="0.8"/>
<line x1="44.6" y1="338.4" x2="245.4" y2="338.4" stroke="#d0d0d0" stroke-width="0.8"/>
<line x1="43" y1="338.2" x2="44.6" y2="338.2" stroke="#d0d0d0" stroke-width="0.8"/>
<text x="38.4" y="340.1" font-size="7.9" text-anchor="end" fill="#222" font-family="Liberation Sans, sans-serif">0</text>
<line x1="43" y1="317.0" x2="44.6" y2="317.0" stroke="#d0d0d0" stroke-width="0.8"/>
<text x="38.4" y="318.9" font-size="7.9" text-anchor="end" fill="#222" font-family="Liberation Sans, sans-serif">1</text>
<line x1="43" y1="295.8" x2="44.6" y2="295.8" stroke="#d0d0d0" stroke-width="0.8"/>
<text x="38.4" y="297.7" font-size="7.9" text-anchor="end" fill="#222" font-family="Liberation Sans, sans-serif">2</text>
<line x1="43" y1="274.6" x2="44.6" y2="274.6" stroke="#d0d0d0" stroke-width="0.8"/>
<text x="38.4" y="276.5" font-size="7.9" text-anchor="end" fill="#222" font-family="Liberation Sans, sans-serif">3</text>
<line x1="43" y1="253.4" x2="44.6" y2="253.4" stroke="#d0d0d0" stroke-width="0.8"/>
<text x="38.4" y="255.3" font-size="7.9" text-anchor="end" fill="#222" font-family="Liberation Sans, sans-serif">4</text>
<line x1="43" y1="232.2" x2="44.6" y2="232.2" stroke="#d0d0d0" stroke-width="0.8"/>
<text x="38.4" y="234.1" font-size="7.9" text-anchor="end" fill="#222" font-family="Liberation Sans, sans-serif">5</text>
<line x1="43" y1="211.0" x2="44.6" y2="211.0" stroke="#d0d0d0" stroke-width="0.8"/>
<text x="38.4" y="212.9" font-size="7.9" text-anchor="end" fill="#222" font-family="Liberation Sans, sans-serif">6</text>
<text x="45.0" y="349.6" font-size="7.6" text-anchor="middle" fill="#222" font-family="Liberation Sans, sans-serif">0</text>
<text x="78.4" y="349.6" font-size="7.6" text-anchor="middle" fill="#222" font-family="Liberation Sans, sans-serif">5</text>
<text x="111.8" y="349.6" font-size="7.6" text-anchor="middle" fill="#222" font-family="Liberation Sans, sans-serif">10</text>
<text x="145.2" y="349.6" font-size="7.6" text-anchor="middle" fill="#222" font-family="Liberation Sans, sans-serif">15</text>
<text x="178.6" y="349.6" font-size="7.6" text-anchor="middle" fill="#222" font-family="Liberation Sans, sans-serif">20</text>
<text x="212.0" y="349.6" font-size="7.6" text-anchor="middle" fill="#222" font-family="Liberation Sans, sans-serif">25</text>
<text x="245.4" y="349.6" font-size="7.6" text-anchor="middle" fill="#222" font-family="Liberation Sans, sans-serif">30</text>
<text x="145.3" y="362.7" font-size="7.6" text-anchor="middle" fill="#111" font-family="Liberation Sans, sans-serif">Retention time</text>
<text transform="translate(25.8,274) rotate(-90)" font-size="7.6" text-anchor="middle" fill="#111" font-family="Liberation Sans, sans-serif">Absorbance at 280 nm</text>
<polyline fill="none" stroke="#4aa8e0" stroke-width="1.15" stroke-linejoin="round" points="45.00,338.20 45.67,338.20 46.34,338.20 47.00,338.20 47.67,338.20 48.34,338.20 49.01,338.20 49.68,338.20 50.34,338.20 51.01,338.20 51.68,338.20 52.35,338.20 53.02,338.20 53.68,338.20 54.35,338.20 55.02,338.20 55.69,338.20 56.36,338.20 57.02,338.20 57.69,338.20 58.36,338.20 59.03,338.20 59.70,338.20 60.36,338.20 61.03,338.20 61.70,338.20 62.37,338.20 63.04,338.20 63.70,338.20 64.37,338.20 65.04,338.20 65.71,338.20 66.38,338.20 67.04,338.20 67.71,338.20 68.38,338.20 69.05,338.20 69.72,338.20 70.38,338.20 71.05,338.20 71.72,338.20 72.39,338.20 73.06,338.20 73.72,338.20 74.39,338.20 75.06,338.20 75.73,338.20 76.40,338.20 77.06,338.20 77.73,338.20 78.40,338.20 79.07,338.20 79.74,338.20 80.40,338.20 81.07,338.20 81.74,338.20 82.41,338.20 83.08,338.20 83.74,338.20 84.41,338.20 85.08,338.20 85.75,338.20 86.42,338.20 87.08,338.20 87.75,338.20 88.42,338.20 89.09,338.20 89.76,338.20 90.42,338.20 91.09,338.20 91.76,338.20 92.43,338.20 93.10,338.20 93.76,338.20 94.43,338.20 95.10,338.20 95.77,338.20 96.44,338.20 97.10,338.20 97.77,338.20 98.44,338.20 99.11,338.20 99.78,338.20 100.44,338.20 101.11,338.20 101.78,338.20 102.45,338.20 103.12,338.20 103.78,338.20 104.45,338.20 105.12,338.20 105.79,338.19 106.46,338.16 107.12,338.13 107.79,338.08 108.46,338.02 109.13,337.97 109.80,337.91 110.46,337.86 111.13,337.81 111.80,337.78 112.47,337.75 113.14,337.72 113.80,337.69 114.47,337.66 115.14,337.63 115.81,337.61 116.48,337.59 117.14,337.58 117.81,337.57 118.48,337.56 119.15,337.57 119.82,337.59 120.48,337.62 121.15,337.65 121.82,337.69 122.49,337.72 123.16,337.75 123.82,337.77 124.49,337.78 125.16,337.14 125.83,328.06 126.50,321.23 127.16,317.30 127.83,314.45 128.50,312.76 129.17,311.77 129.84,310.95 130.50,310.26 131.17,309.69 131.84,309.21 132.51,308.80 133.18,308.44 133.84,308.10 134.51,307.76 135.18,307.42 135.85,307.10 136.52,306.79 137.18,306.53 137.85,306.30 138.52,306.13 139.19,306.02 139.86,305.98 140.52,306.09 141.19,306.42 141.86,306.91 142.53,307.53 143.20,308.22 143.86,308.94 144.53,310.09 145.20,311.78 145.87,313.55 146.54,314.95 147.20,315.52 147.87,313.95 148.54,309.88 149.21,304.28 149.88,291.12 150.54,273.78 151.21,264.75 151.88,258.50 152.55,254.04 153.22,252.34 153.88,252.55 154.55,253.16 155.22,254.08 155.89,255.27 156.56,256.65 157.22,258.17 157.89,259.76 158.56,261.70 159.23,264.24 159.90,267.30 160.56,270.78 161.23,274.60 161.90,279.65 162.57,286.19 163.24,293.17 163.90,299.55 164.57,304.28 165.24,307.64 165.91,310.59 166.58,313.14 167.24,315.28 167.91,317.00 168.58,318.44 169.25,319.74 169.92,320.89 170.58,321.88 171.25,322.71 171.92,323.36 172.59,323.93 173.26,324.21 173.92,321.42 174.59,314.68 175.26,306.40 175.93,294.22 176.60,278.57 177.26,266.12 177.93,257.34 178.60,250.07 179.27,247.04 179.94,249.19 180.60,254.40 181.27,260.87 181.94,267.33 182.61,275.56 183.28,284.84 183.94,293.90 184.61,301.46 185.28,306.48 185.95,310.05 186.62,313.50 187.28,317.50 187.95,320.62 188.62,322.27 189.29,323.60 189.96,324.69 190.62,325.61 191.29,326.42 191.96,327.20 192.63,328.00 193.30,328.79 193.96,329.54 194.63,330.24 195.30,330.90 195.97,331.50 196.64,332.02 197.30,332.48 197.97,332.87 198.64,333.23 199.31,333.56 199.98,333.85 200.64,334.13 201.31,334.37 201.98,334.60 202.65,334.82 203.32,335.05 203.98,335.25 204.65,335.39 205.32,335.44 205.99,335.33 206.66,335.13 207.32,335.02 207.99,335.29 208.66,335.88 209.33,336.50 210.00,337.18 210.66,337.88 211.33,338.20 212.00,338.20 212.67,338.20 213.34,338.20 214.00,338.20 214.67,338.20 215.34,338.20 216.01,338.20 216.68,338.20 217.34,338.20 218.01,338.20 218.68,338.20 219.35,338.20 220.02,337.92 220.68,337.23 221.35,336.40 222.02,335.66 222.69,334.95 223.36,334.19 224.02,333.57 224.69,333.32 225.36,333.43 226.03,333.70 226.70,334.06 227.36,334.45 228.03,334.79 228.70,335.02 229.37,335.16 230.04,335.29 230.70,335.42 231.37,335.53 232.04,335.64 232.71,335.74 233.38,335.84 234.04,335.93 234.71,336.01 235.38,336.09 236.05,336.17 236.72,336.24 237.38,336.31 238.05,336.37 238.72,336.44 239.39,336.50 240.06,336.57 240.72,336.63 241.39,336.70 242.06,336.77 242.73,336.83 243.40,336.91 244.06,336.98 244.73,337.06 245.40,337.14"/>
<polyline fill="none" stroke="#4a5870" stroke-width="1.15" stroke-linejoin="round" points="45.00,338.20 45.67,338.20 46.34,338.20 47.00,338.20 47.67,338.20 48.34,338.20 49.01,338.20 49.68,338.20 50.34,338.20 51.01,338.20 51.68,338.20 52.35,338.20 53.02,338.20 53.68,338.20 54.35,338.20 55.02,338.20 55.69,338.20 56.36,338.20 57.02,338.20 57.69,338.20 58.36,338.20 59.03,338.20 59.70,338.20 60.36,338.20 61.03,338.20 61.70,338.20 62.37,338.20 63.04,338.20 63.70,338.20 64.37,338.20 65.04,338.20 65.71,338.20 66.38,338.20 67.04,338.20 67.71,338.20 68.38,338.20 69.05,338.20 69.72,338.20 70.38,338.20 71.05,338.20 71.72,338.20 72.39,338.20 73.06,338.20 73.72,338.20 74.39,338.20 75.06,338.20 75.73,338.20 76.40,338.20 77.06,338.20 77.73,338.20 78.40,338.20 79.07,338.20 79.74,338.20 80.40,338.20 81.07,338.20 81.74,338.20 82.41,338.20 83.08,338.20 83.74,338.20 84.41,338.20 85.08,338.20 85.75,338.20 86.42,338.20 87.08,338.20 87.75,338.20 88.42,338.20 89.09,338.20 89.76,338.20 90.42,338.20 91.09,338.20 91.76,338.20 92.43,338.20 93.10,338.20 93.76,338.20 94.43,338.20 95.10,338.20 95.77,338.20 96.44,338.20 97.10,338.20 97.77,338.20 98.44,338.20 99.11,338.20 99.78,338.20 100.44,338.20 101.11,338.20 101.78,338.20 102.45,338.20 103.12,338.20 103.78,338.20 104.45,338.20 105.12,338.20 105.79,338.18 106.46,338.13 107.12,338.06 107.79,337.96 108.46,337.84 109.13,337.71 109.80,337.57 110.46,337.42 111.13,337.28 111.80,337.14 112.47,336.97 113.14,336.74 113.80,336.51 114.47,336.29 115.14,336.14 115.81,336.08 116.48,336.11 117.14,336.19 117.81,336.30 118.48,336.43 119.15,336.57 119.82,336.71 120.48,336.82 121.15,336.90 121.82,336.93 122.49,336.80 123.16,336.42 123.82,335.82 124.49,335.02 125.16,331.76 125.83,325.70 126.50,319.75 127.16,316.00 127.83,312.82 128.50,310.22 129.17,308.52 129.84,307.49 130.50,306.65 131.17,305.95 131.84,305.37 132.51,304.85 133.18,304.36 133.84,303.86 134.51,303.31 135.18,302.74 135.85,302.17 136.52,301.62 137.18,301.11 137.85,300.68 138.52,300.34 139.19,300.12 139.86,300.04 140.52,300.13 141.19,300.39 141.86,300.76 142.53,301.20 143.20,301.68 143.86,302.16 144.53,302.78 145.20,303.61 145.87,304.44 146.54,305.08 147.20,305.34 147.87,303.97 148.54,300.48 149.21,295.80 149.88,286.94 150.54,273.84 151.21,261.88 151.88,251.22 152.55,240.74 153.22,233.86 153.88,232.92 154.55,233.52 155.22,234.59 155.89,235.96 156.56,237.50 157.22,239.64 157.89,242.62 158.56,245.98 159.23,249.67 159.90,253.86 160.56,258.43 161.23,263.26 161.90,268.24 162.57,273.83 163.24,280.15 163.90,286.54 164.57,292.33 165.24,296.86 165.91,300.29 166.58,303.14 167.24,305.34 167.91,307.17 168.58,308.96 169.25,310.65 169.92,312.16 170.58,313.44 171.25,314.44 171.92,315.08 172.59,315.30 173.26,314.36 173.92,311.91 174.59,308.52 175.26,300.57 175.93,287.11 176.60,272.70 177.26,261.88 177.93,254.16 178.60,247.45 179.27,243.97 179.94,244.94 180.60,248.69 181.27,254.02 181.94,259.76 182.61,266.69 183.28,275.53 183.94,285.06 184.61,294.03 185.28,301.59 185.95,308.56 186.62,313.56 187.28,317.09 187.95,319.71 188.62,321.32 189.29,322.60 189.96,323.72 190.62,324.68 191.29,325.51 191.96,326.24 192.63,326.89 193.30,327.48 193.96,328.02 194.63,328.54 195.30,329.02 195.97,329.46 196.64,329.85 197.30,330.21 197.97,330.52 198.64,330.78 199.31,331.03 199.98,331.27 200.64,331.49 201.31,331.67 201.98,331.80 202.65,331.84 203.32,331.84 203.98,331.84 204.65,331.84 205.32,331.84 205.99,331.18 206.66,329.96 207.32,329.30 207.99,329.95 208.66,331.40 209.33,332.90 210.00,334.45 210.66,336.16 211.33,337.36 212.00,337.60 212.67,337.66 213.34,337.70 214.00,337.73 214.67,337.76 215.34,337.77 216.01,337.78 216.68,337.69 217.34,337.44 218.01,337.06 218.68,336.60 219.35,336.08 220.02,335.20 220.68,333.89 221.35,332.51 222.02,331.42 222.69,330.56 223.36,329.73 224.02,329.12 224.69,328.87 225.36,329.06 226.03,329.53 226.70,330.16 227.36,330.84 228.03,331.44 228.70,331.84 229.37,332.09 230.04,332.33 230.70,332.55 231.37,332.76 232.04,332.95 232.71,333.13 233.38,333.30 234.04,333.46 234.71,333.62 235.38,333.76 236.05,333.89 236.72,334.02 237.38,334.15 238.05,334.27 238.72,334.39 239.39,334.51 240.06,334.62 240.72,334.74 241.39,334.86 242.06,334.98 242.73,335.10 243.40,335.23 244.06,335.37 244.73,335.51 245.40,335.66"/>
<polyline fill="none" stroke="#b8b8b8" stroke-width="1.15" stroke-linejoin="round" points="45.00,338.20 45.67,338.20 46.34,338.20 47.00,338.20 47.67,338.20 48.34,338.20 49.01,338.20 49.68,338.20 50.34,338.20 51.01,338.20 51.68,338.20 52.35,338.20 53.02,338.20 53.68,338.20 54.35,338.20 55.02,338.20 55.69,338.20 56.36,338.20 57.02,338.20 57.69,338.20 58.36,338.20 59.03,338.20 59.70,338.20 60.36,338.20 61.03,338.20 61.70,338.20 62.37,338.20 63.04,338.20 63.70,338.20 64.37,338.20 65.04,338.20 65.71,338.20 66.38,338.20 67.04,338.20 67.71,338.20 68.38,338.20 69.05,338.20 69.72,338.20 70.38,338.20 71.05,338.20 71.72,338.20 72.39,338.20 73.06,338.20 73.72,338.20 74.39,338.20 75.06,338.20 75.73,338.20 76.40,338.20 77.06,338.20 77.73,338.20 78.40,338.20 79.07,338.20 79.74,338.20 80.40,338.20 81.07,338.20 81.74,338.20 82.41,338.20 83.08,338.20 83.74,338.20 84.41,338.20 85.08,338.20 85.75,338.20 86.42,338.20 87.08,338.20 87.75,338.20 88.42,338.20 89.09,338.20 89.76,338.20 90.42,338.20 91.09,338.20 91.76,338.20 92.43,338.20 93.10,338.20 93.76,338.20 94.43,338.20 95.10,338.20 95.77,338.20 96.44,338.20 97.10,338.20 97.77,338.20 98.44,338.20 99.11,338.20 99.78,338.20 100.44,338.20 101.11,338.20 101.78,338.20 102.45,338.20 103.12,338.20 103.78,338.20 104.45,338.20 105.12,338.20 105.79,338.18 106.46,338.13 107.12,338.06 107.79,337.96 108.46,337.84 109.13,337.71 109.80,337.57 110.46,337.42 111.13,337.28 111.80,337.14 112.47,336.97 113.14,336.74 113.80,336.51 114.47,336.29 115.14,336.14 115.81,336.08 116.48,336.11 117.14,336.19 117.81,336.30 118.48,336.43 119.15,336.57 119.82,336.71 120.48,336.82 121.15,336.90 121.82,336.93 122.49,336.75 123.16,336.24 123.82,335.43 124.49,334.38 125.16,330.90 125.83,324.62 126.50,318.29 127.16,313.87 127.83,309.83 128.50,306.45 129.17,304.28 129.84,303.03 130.50,301.99 131.17,301.12 131.84,300.40 132.51,299.79 133.18,299.25 133.84,298.77 134.51,298.29 135.18,297.82 135.85,297.37 136.52,296.95 137.18,296.57 137.85,296.25 138.52,296.01 139.19,295.86 139.86,295.80 140.52,295.94 141.19,296.31 141.86,296.85 142.53,297.49 143.20,298.15 143.86,298.77 144.53,299.49 145.20,300.38 145.87,301.24 146.54,301.90 147.20,302.16 147.87,300.61 148.54,296.70 149.21,291.56 149.88,282.38 150.54,269.26 151.21,257.64 151.88,247.91 152.55,238.28 153.22,230.90 153.88,227.96 154.55,228.43 155.22,229.66 155.89,231.36 156.56,233.26 157.22,235.75 157.89,239.10 158.56,242.80 159.23,246.77 159.90,251.18 160.56,255.94 161.23,260.95 161.90,266.12 162.57,271.95 163.24,278.54 163.90,285.18 164.57,291.17 165.24,295.80 165.91,299.23 166.58,302.06 167.24,304.28 167.91,306.20 168.58,308.08 169.25,309.87 169.92,311.49 170.58,312.87 171.25,313.94 171.92,314.63 172.59,314.88 173.26,314.00 173.92,311.70 174.59,308.52 175.26,301.01 175.93,288.23 176.60,274.47 177.26,264.00 177.93,256.33 178.60,249.60 179.27,246.10 179.94,247.07 180.60,250.86 181.27,256.20 181.94,261.88 182.61,268.50 183.28,276.78 183.94,285.68 184.61,294.16 185.28,301.54 185.95,308.53 186.62,313.56 187.28,317.09 187.95,319.71 188.62,321.32 189.29,322.60 189.96,323.72 190.62,324.68 191.29,325.51 191.96,326.24 192.63,326.89 193.30,327.48 193.96,328.02 194.63,328.54 195.30,329.02 195.97,329.46 196.64,329.85 197.30,330.21 197.97,330.52 198.64,330.78 199.31,331.03 199.98,331.27 200.64,331.49 201.31,331.67 201.98,331.80 202.65,331.84 203.32,331.81 203.98,331.72 204.65,331.59 205.32,331.42 205.99,330.78 206.66,329.80 207.32,329.30 207.99,329.95 208.66,331.40 209.33,332.90 210.00,334.45 210.66,336.16 211.33,337.36 212.00,337.60 212.67,337.66 213.34,337.70 214.00,337.73 214.67,337.76 215.34,337.77 216.01,337.78 216.68,337.68 217.34,337.43 218.01,337.05 218.68,336.59 219.35,336.08 220.02,335.26 220.68,334.05 221.35,332.80 222.02,331.84 222.69,331.11 223.36,330.43 224.02,329.92 224.69,329.72 225.36,329.88 226.03,330.28 226.70,330.82 227.36,331.40 228.03,331.92 228.70,332.26 229.37,332.49 230.04,332.69 230.70,332.89 231.37,333.07 232.04,333.24 232.71,333.40 233.38,333.56 234.04,333.70 234.71,333.83 235.38,333.96 236.05,334.08 236.72,334.20 237.38,334.31 238.05,334.42 238.72,334.52 239.39,334.63 240.06,334.73 240.72,334.84 241.39,334.94 242.06,335.05 242.73,335.16 243.40,335.28 244.06,335.40 244.73,335.52 245.40,335.66"/>
<polyline fill="none" stroke="#f4a060" stroke-width="1.15" stroke-linejoin="round" points="45.00,338.20 45.67,338.20 46.34,338.20 47.00,338.20 47.67,338.20 48.34,338.20 49.01,338.20 49.68,338.20 50.34,338.20 51.01,338.20 51.68,338.20 52.35,338.20 53.02,338.20 53.68,338.20 54.35,338.20 55.02,338.20 55.69,338.20 56.36,338.20 57.02,338.20 57.69,338.20 58.36,338.20 59.03,338.20 59.70,338.20 60.36,338.20 61.03,338.20 61.70,338.20 62.37,338.20 63.04,338.20 63.70,338.20 64.37,338.20 65.04,338.20 65.71,338.20 66.38,338.20 67.04,338.20 67.71,338.20 68.38,338.20 69.05,338.20 69.72,338.20 70.38,338.20 71.05,338.20 71.72,338.20 72.39,338.20 73.06,338.20 73.72,338.20 74.39,338.20 75.06,338.20 75.73,338.20 76.40,338.20 77.06,338.20 77.73,338.20 78.40,338.20 79.07,338.20 79.74,338.20 80.40,338.20 81.07,338.20 81.74,338.20 82.41,338.20 83.08,338.20 83.74,338.20 84.41,338.20 85.08,338.20 85.75,338.20 86.42,338.20 87.08,338.20 87.75,338.20 88.42,338.20 89.09,338.20 89.76,338.20 90.42,338.20 91.09,338.20 91.76,338.20 92.43,338.20 93.10,338.20 93.76,338.20 94.43,338.20 95.10,338.20 95.77,338.20 96.44,338.20 97.10,338.20 97.77,338.20 98.44,338.20 99.11,338.20 99.78,338.20 100.44,338.20 101.11,338.20 101.78,338.20 102.45,338.20 103.12,338.20 103.78,338.20 104.45,338.20 105.12,338.20 105.79,338.18 106.46,338.11 107.12,337.99 107.79,337.85 108.46,337.67 109.13,337.47 109.80,337.24 110.46,337.01 111.13,336.76 111.80,336.50 112.47,336.12 113.14,335.57 113.80,335.01 114.47,334.56 115.14,334.38 115.81,334.42 116.48,334.52 117.14,334.66 117.81,334.82 118.48,334.98 119.15,335.12 119.82,335.21 120.48,335.13 121.15,332.03 121.82,326.54 122.49,316.61 123.16,304.19 123.82,294.97 124.49,286.87 125.16,279.48 125.83,271.24 126.50,264.29 127.16,262.12 127.83,263.15 128.50,265.26 129.17,268.01 129.84,270.93 130.50,273.55 131.17,275.54 131.84,277.45 132.51,279.31 133.18,281.08 133.84,282.70 134.51,284.09 135.18,285.20 135.85,286.06 136.52,286.78 137.18,287.40 137.85,287.97 138.52,288.54 139.19,289.15 139.86,289.86 140.52,290.67 141.19,291.53 141.86,292.44 142.53,293.39 143.20,294.37 143.86,295.38 144.53,296.63 145.20,298.13 145.87,299.48 146.54,300.34 147.20,300.22 147.87,298.54 148.54,295.80 149.21,288.25 149.88,275.72 150.54,264.23 151.21,257.22 151.88,251.97 152.55,250.51 153.22,250.11 153.88,249.81 154.55,249.25 155.22,248.32 155.89,247.44 156.56,247.04 157.22,247.55 157.89,248.85 158.56,250.65 159.23,254.39 159.90,259.44 160.56,264.23 161.23,269.17 161.90,274.22 162.57,279.29 163.24,284.83 163.90,290.36 164.57,295.28 165.24,298.98 165.91,301.51 166.58,303.53 167.24,305.34 167.91,307.25 168.58,309.29 169.25,311.28 169.92,313.10 170.58,314.58 171.25,315.57 171.92,315.94 172.59,315.77 173.26,315.30 173.92,311.34 174.59,303.54 175.26,294.12 175.93,281.24 176.60,268.76 177.26,259.89 177.93,251.74 178.60,245.37 179.27,242.80 179.94,244.40 180.60,248.47 181.27,253.95 181.94,259.76 182.61,266.73 183.28,275.57 183.94,285.08 184.61,294.04 185.28,301.58 185.95,308.53 186.62,313.57 187.28,317.23 187.95,319.94 188.62,321.49 189.29,322.67 189.96,323.68 190.62,324.53 191.29,325.26 191.96,325.90 192.63,326.48 193.30,327.04 193.96,327.60 194.63,328.17 195.30,328.71 195.97,329.19 196.64,329.61 197.30,329.93 197.97,330.20 198.64,330.46 199.31,330.70 199.98,330.90 200.64,331.06 201.31,331.17 201.98,331.20 202.65,331.17 203.32,331.09 203.98,330.96 204.65,330.78 205.32,330.57 205.99,329.92 206.66,328.95 207.32,328.45 207.99,329.18 208.66,330.81 209.33,332.48 210.00,334.18 210.66,336.04 211.33,337.34 212.00,337.60 212.67,337.66 213.34,337.70 214.00,337.73 214.67,337.76 215.34,337.77 216.01,337.78 216.68,337.70 217.34,337.48 218.01,337.15 218.68,336.74 219.35,336.29 220.02,335.54 220.68,334.42 221.35,333.29 222.02,332.48 222.69,331.94 223.36,331.47 224.02,331.12 224.69,330.99 225.36,331.14 226.03,331.51 226.70,332.01 227.36,332.55 228.03,333.02 228.70,333.32 229.37,333.51 230.04,333.69 230.70,333.85 231.37,334.00 232.04,334.14 232.71,334.28 233.38,334.40 234.04,334.52 234.71,334.62 235.38,334.73 236.05,334.83 236.72,334.92 237.38,335.01 238.05,335.09 238.72,335.18 239.39,335.26 240.06,335.34 240.72,335.43 241.39,335.51 242.06,335.60 242.73,335.68 243.40,335.78 244.06,335.87 244.73,335.97 245.40,336.08"/>
<polyline fill="none" stroke="#f24848" stroke-width="1.15" stroke-linejoin="round" points="45.00,338.20 45.67,338.20 46.34,338.20 47.00,338.20 47.67,338.20 48.34,338.20 49.01,338.20 49.68,338.20 50.34,338.20 51.01,338.20 51.68,338.20 52.35,338.20 53.02,338.20 53.68,338.20 54.35,338.20 55.02,338.20 55.69,338.20 56.36,338.20 57.02,338.20 57.69,338.20 58.36,338.20 59.03,338.20 59.70,338.20 60.36,338.20 61.03,338.20 61.70,338.20 62.37,338.20 63.04,338.20 63.70,338.20 64.37,338.20 65.04,338.20 65.71,338.20 66.38,338.20 67.04,338.20 67.71,338.20 68.38,338.20 69.05,338.20 69.72,338.20 70.38,338.20 71.05,338.20 71.72,338.20 72.39,338.20 73.06,338.20 73.72,338.20 74.39,338.20 75.06,338.20 75.73,338.20 76.40,338.20 77.06,338.20 77.73,338.20 78.40,338.20 79.07,338.20 79.74,338.20 80.40,338.20 81.07,338.20 81.74,338.20 82.41,338.20 83.08,338.20 83.74,338.20 84.41,338.20 85.08,338.20 85.75,338.20 86.42,338.20 87.08,338.20 87.75,338.20 88.42,338.20 89.09,338.20 89.76,338.20 90.42,338.20 91.09,338.20 91.76,338.20 92.43,338.20 93.10,338.20 93.76,338.20 94.43,338.20 95.10,338.20 95.77,338.20 96.44,338.20 97.10,338.20 97.77,338.20 98.44,338.20 99.11,338.20 99.78,338.20 100.44,338.20 101.11,338.20 101.78,338.20 102.45,338.20 103.12,338.20 103.78,338.20 104.45,338.20 105.12,338.20 105.79,338.17 106.46,338.07 107.12,337.93 107.79,337.74 108.46,337.51 109.13,337.25 109.80,336.97 110.46,336.68 111.13,336.38 111.80,336.08 112.47,335.67 113.14,335.12 113.80,334.57 114.47,334.13 115.14,333.96 115.81,334.01 116.48,334.13 117.14,334.31 117.81,334.51 118.48,334.71 119.15,334.88 119.82,334.99 120.48,334.90 121.15,331.48 121.82,325.48 122.49,315.00 123.16,302.12 123.82,292.79 124.49,284.74 125.16,277.35 125.83,269.03 126.50,261.99 127.16,259.82 127.83,261.60 128.50,265.20 129.17,269.69 129.84,274.17 130.50,277.71 131.17,279.67 131.84,281.17 132.51,282.46 133.18,283.59 133.84,284.58 134.51,285.46 135.18,286.26 135.85,286.96 136.52,287.56 137.18,288.09 137.85,288.59 138.52,289.10 139.19,289.65 139.86,290.29 140.52,291.00 141.19,291.76 141.86,292.58 142.53,293.45 143.20,294.38 143.86,295.38 144.53,296.72 145.20,298.40 145.87,299.96 146.54,300.95 147.20,300.82 147.87,298.89 148.54,295.80 149.21,288.13 149.88,275.89 150.54,265.03 151.21,258.99 151.88,254.69 152.55,253.58 153.22,253.28 153.88,253.08 154.55,252.86 155.22,252.62 155.89,252.42 156.56,252.34 157.22,252.67 157.89,253.53 158.56,254.77 159.23,257.72 159.90,261.91 160.56,266.08 161.23,270.64 161.90,275.42 162.57,280.20 163.24,285.42 163.90,290.67 164.57,295.38 165.24,298.98 165.91,301.49 166.58,303.52 167.24,305.34 167.91,307.25 168.58,309.29 169.25,311.28 169.92,313.10 170.58,314.58 171.25,315.57 171.92,315.94 172.59,315.65 173.26,314.88 173.92,310.62 174.59,302.57 175.26,292.81 175.93,279.51 176.60,266.71 177.26,257.74 177.93,249.58 178.60,243.24 179.27,240.68 179.94,242.40 180.60,246.77 181.27,252.59 181.94,258.70 182.61,265.77 183.28,274.56 183.94,283.98 184.61,292.91 185.28,300.69 185.95,308.09 186.62,313.07 187.28,316.30 187.95,318.75 188.62,320.39 189.29,321.56 189.96,322.59 190.62,323.51 191.29,324.31 191.96,325.02 192.63,325.65 193.30,326.21 193.96,326.71 194.63,327.17 195.30,327.60 195.97,328.02 196.64,328.45 197.30,328.84 197.97,329.19 198.64,329.47 199.31,329.65 199.98,329.72 200.64,329.71 201.31,329.67 201.98,329.61 202.65,329.52 203.32,329.42 203.98,329.30 204.65,329.03 205.32,328.66 205.99,328.24 206.66,327.80 207.32,327.60 207.99,328.47 208.66,330.37 209.33,332.26 210.00,334.08 210.66,336.01 211.33,337.34 212.00,337.60 212.67,337.66 213.34,337.70 214.00,337.73 214.67,337.76 215.34,337.77 216.01,337.78 216.68,337.68 217.34,337.43 218.01,337.05 218.68,336.59 219.35,336.08 220.02,335.26 220.68,334.08 221.35,332.89 222.02,332.05 222.69,331.52 223.36,331.04 224.02,330.70 224.69,330.57 225.36,330.71 226.03,331.09 226.70,331.59 227.36,332.12 228.03,332.59 228.70,332.90 229.37,333.09 230.04,333.26 230.70,333.42 231.37,333.58 232.04,333.72 232.71,333.85 233.38,333.98 234.04,334.09 234.71,334.20 235.38,334.30 236.05,334.40 236.72,334.49 237.38,334.58 238.05,334.67 238.72,334.75 239.39,334.84 240.06,334.92 240.72,335.00 241.39,335.09 242.06,335.17 242.73,335.26 243.40,335.35 244.06,335.45 244.73,335.55 245.40,335.66"/>
<polyline fill="none" stroke="#e4221c" stroke-width="1.15" stroke-linejoin="round" points="45.00,338.20 45.67,338.20 46.34,338.20 47.00,338.20 47.67,338.20 48.34,338.20 49.01,338.20 49.68,338.20 50.34,338.20 51.01,338.20 51.68,338.20 52.35,338.20 53.02,338.20 53.68,338.20 54.35,338.20 55.02,338.20 55.69,338.20 56.36,338.20 57.02,338.20 57.69,338.20 58.36,338.20 59.03,338.20 59.70,338.20 60.36,338.20 61.03,338.20 61.70,338.20 62.37,338.20 63.04,338.20 63.70,338.20 64.37,338.20 65.04,338.20 65.71,338.20 66.38,338.20 67.04,338.20 67.71,338.20 68.38,338.20 69.05,338.20 69.72,338.20 70.38,338.20 71.05,338.20 71.72,338.20 72.39,338.20 73.06,338.20 73.72,338.20 74.39,338.20 75.06,338.20 75.73,338.20 76.40,338.20 77.06,338.20 77.73,338.20 78.40,338.20 79.07,338.20 79.74,338.20 80.40,338.20 81.07,338.20 81.74,338.20 82.41,338.20 83.08,338.20 83.74,338.20 84.41,338.20 85.08,338.20 85.75,338.20 86.42,338.20 87.08,338.20 87.75,338.20 88.42,338.20 89.09,338.20 89.76,338.20 90.42,338.20 91.09,338.20 91.76,338.20 92.43,338.20 93.10,338.20 93.76,338.20 94.43,338.20 95.10,338.20 95.77,338.20 96.44,338.20 97.10,338.20 97.77,338.20 98.44,338.20 99.11,338.20 99.78,338.20 100.44,338.20 101.11,338.20 101.78,338.20 102.45,338.20 103.12,338.20 103.78,338.20 104.45,338.20 105.12,338.20 105.79,338.17 106.46,338.08 107.12,337.94 107.79,337.75 108.46,337.53 109.13,337.28 109.80,337.00 110.46,336.70 111.13,336.39 111.80,336.08 112.47,335.61 113.14,334.96 113.80,334.28 114.47,333.75 115.14,333.54 115.81,333.59 116.48,333.74 117.14,333.96 117.81,334.20 118.48,334.43 119.15,334.64 119.82,334.77 120.48,334.69 121.15,331.37 121.82,325.48 122.49,314.73 123.16,301.35 123.82,291.67 124.49,283.30 125.16,275.58 125.83,266.81 126.50,259.36 127.16,257.04 127.83,258.22 128.50,260.63 129.17,263.75 129.84,267.02 130.50,269.88 131.17,271.96 131.84,273.84 132.51,275.64 133.18,277.32 133.84,278.85 134.51,280.22 135.18,281.38 135.85,282.36 136.52,283.20 137.18,283.95 137.85,284.64 138.52,285.34 139.19,286.07 139.86,286.90 140.52,287.78 141.19,288.70 141.86,289.64 142.53,290.64 143.20,291.70 143.86,292.83 144.53,294.34 145.20,296.21 145.87,297.93 146.54,299.03 147.20,298.90 147.87,296.89 148.54,293.68 149.21,286.01 149.88,273.70 150.54,262.22 151.21,254.59 151.88,248.63 152.55,247.23 153.22,246.98 153.88,246.78 154.55,246.31 155.22,245.33 155.89,244.32 156.56,243.86 157.22,244.37 157.89,245.66 158.56,247.49 159.23,251.60 159.90,257.15 160.56,262.18 161.23,267.09 161.90,272.08 162.57,277.25 163.24,283.04 163.90,288.88 164.57,294.08 165.24,297.92 165.91,300.47 166.58,302.48 167.24,304.28 167.91,306.19 168.58,308.23 169.25,310.22 169.92,312.04 170.58,313.52 171.25,314.51 171.92,314.88 172.59,314.77 173.26,314.46 173.92,310.54 174.59,302.56 175.26,292.58 175.93,278.45 176.60,264.81 177.26,255.53 177.93,247.28 178.60,240.90 179.27,238.35 179.94,240.21 180.60,244.92 181.27,251.17 181.94,257.64 182.61,264.94 183.28,273.84 183.94,283.31 184.61,292.26 185.28,300.06 185.95,307.46 186.62,312.44 187.28,315.69 187.95,318.20 188.62,319.93 189.29,321.07 189.96,322.08 190.62,322.97 191.29,323.77 191.96,324.48 192.63,325.11 193.30,325.67 193.96,326.17 194.63,326.63 195.30,327.04 195.97,327.42 196.64,327.78 197.30,328.15 197.97,328.50 198.64,328.81 199.31,329.07 199.98,329.23 200.64,329.30 201.31,329.26 201.98,329.17 202.65,329.02 203.32,328.85 203.98,328.66 204.65,328.37 205.32,328.02 205.99,327.67 206.66,327.33 207.32,327.18 207.99,328.03 208.66,329.92 209.33,331.84 210.00,333.77 210.66,335.86 211.33,337.32 212.00,337.60 212.67,337.66 213.34,337.70 214.00,337.73 214.67,337.76 215.34,337.77 216.01,337.78 216.68,337.68 217.34,337.43 218.01,337.05 218.68,336.59 219.35,336.08 220.02,335.24 220.68,334.00 221.35,332.74 222.02,331.84 222.69,331.23 223.36,330.69 224.02,330.30 224.69,330.14 225.36,330.30 226.03,330.71 226.70,331.26 227.36,331.84 228.03,332.35 228.70,332.69 229.37,332.89 230.04,333.08 230.70,333.26 231.37,333.42 232.04,333.57 232.71,333.72 233.38,333.85 234.04,333.97 234.71,334.09 235.38,334.20 236.05,334.31 236.72,334.41 237.38,334.50 238.05,334.60 238.72,334.69 239.39,334.78 240.06,334.86 240.72,334.95 241.39,335.04 242.06,335.14 242.73,335.23 243.40,335.33 244.06,335.43 244.73,335.54 245.40,335.66"/>
<line x1="288.2" y1="211" x2="288.2" y2="338.2" stroke="#d0d0d0" stroke-width="0.8"/>
<line x1="288.2" y1="338.2" x2="486.5" y2="338.2" stroke="#d0d0d0" stroke-width="0.8"/>
<line x1="286.6" y1="338.0" x2="288.2" y2="338.0" stroke="#d0d0d0" stroke-width="0.8"/>
<text x="281.8" y="339.9" font-size="7.9" text-anchor="end" fill="#222" font-family="Liberation Sans, sans-serif">0</text>
<line x1="286.6" y1="316.9" x2="288.2" y2="316.9" stroke="#d0d0d0" stroke-width="0.8"/>
<text x="281.8" y="318.8" font-size="7.9" text-anchor="end" fill="#222" font-family="Liberation Sans, sans-serif">1</text>
<line x1="286.6" y1="295.8" x2="288.2" y2="295.8" stroke="#d0d0d0" stroke-width="0.8"/>
<text x="281.8" y="297.7" font-size="7.9" text-anchor="end" fill="#222" font-family="Liberation Sans, sans-serif">2</text>
<line x1="286.6" y1="274.7" x2="288.2" y2="274.7" stroke="#d0d0d0" stroke-width="0.8"/>
<text x="281.8" y="276.6" font-size="7.9" text-anchor="end" fill="#222" font-family="Liberation Sans, sans-serif">3</text>
<line x1="286.6" y1="253.6" x2="288.2" y2="253.6" stroke="#d0d0d0" stroke-width="0.8"/>
<text x="281.8" y="255.5" font-size="7.9" text-anchor="end" fill="#222" font-family="Liberation Sans, sans-serif">4</text>
<line x1="286.6" y1="232.5" x2="288.2" y2="232.5" stroke="#d0d0d0" stroke-width="0.8"/>
<text x="281.8" y="234.4" font-size="7.9" text-anchor="end" fill="#222" font-family="Liberation Sans, sans-serif">5</text>
<line x1="286.6" y1="211.4" x2="288.2" y2="211.4" stroke="#d0d0d0" stroke-width="0.8"/>
<text x="281.8" y="213.3" font-size="7.9" text-anchor="end" fill="#222" font-family="Liberation Sans, sans-serif">6</text>
<text x="288.7" y="350.2" font-size="7.6" text-anchor="middle" fill="#222" font-family="Liberation Sans, sans-serif">10</text>
<text x="316.9" y="350.2" font-size="7.6" text-anchor="middle" fill="#222" font-family="Liberation Sans, sans-serif">12</text>
<text x="345.1" y="350.2" font-size="7.6" text-anchor="middle" fill="#222" font-family="Liberation Sans, sans-serif">14</text>
<text x="373.3" y="350.2" font-size="7.6" text-anchor="middle" fill="#222" font-family="Liberation Sans, sans-serif">16</text>
<text x="401.5" y="350.2" font-size="7.6" text-anchor="middle" fill="#222" font-family="Liberation Sans, sans-serif">18</text>
<text x="429.7" y="350.2" font-size="7.6" text-anchor="middle" fill="#222" font-family="Liberation Sans, sans-serif">20</text>
<text x="457.9" y="350.2" font-size="7.6" text-anchor="middle" fill="#222" font-family="Liberation Sans, sans-serif">22</text>
<text x="486.1" y="350.2" font-size="7.6" text-anchor="middle" fill="#222" font-family="Liberation Sans, sans-serif">24</text>
<text x="384.3" y="363.1" font-size="7.7" text-anchor="middle" fill="#111" font-family="Liberation Sans, sans-serif">Retention time</text>
<text transform="translate(270.6,273.6) rotate(-90)" font-size="7.9" text-anchor="middle" fill="#111" font-family="Liberation Sans, sans-serif">Absorbance at 280 nm</text>
<polyline fill="none" stroke="#4aa8e0" stroke-width="1.2" stroke-linejoin="round" points="288.70,337.58 289.40,337.56 290.11,337.55 290.81,337.53 291.52,337.52 292.23,337.51 292.93,337.49 293.64,337.48 294.34,337.46 295.05,337.45 295.75,337.44 296.46,337.43 297.16,337.41 297.87,337.40 298.57,337.39 299.28,337.39 299.98,337.38 300.69,337.37 301.39,337.37 302.10,337.37 302.80,337.37 303.51,337.37 304.21,337.37 304.92,337.38 305.62,337.39 306.33,337.41 307.03,337.42 307.74,337.44 308.44,337.45 309.15,337.47 309.85,337.49 310.56,337.51 311.26,337.52 311.97,337.54 312.67,337.55 313.38,337.56 314.08,337.57 314.79,337.58 315.49,337.58 316.20,337.40 316.90,336.94 317.61,333.74 318.31,327.91 319.02,323.44 319.72,321.11 320.43,319.02 321.13,317.20 321.84,315.64 322.54,314.36 323.25,313.37 323.95,312.68 324.66,312.17 325.36,311.70 326.07,311.27 326.77,310.88 327.48,310.52 328.18,310.19 328.89,309.90 329.59,309.62 330.30,309.38 331.00,309.15 331.71,308.94 332.41,308.74 333.12,308.55 333.82,308.38 334.53,308.21 335.23,308.04 335.94,307.87 336.64,307.70 337.35,307.53 338.05,307.36 338.76,307.20 339.46,307.04 340.17,306.89 340.87,306.74 341.58,306.60 342.28,306.48 342.99,306.36 343.69,306.25 344.40,306.16 345.10,306.08 345.81,306.01 346.51,305.97 347.22,305.94 347.92,305.93 348.63,305.96 349.33,306.05 350.04,306.19 350.74,306.37 351.45,306.60 352.15,306.86 352.86,307.15 353.56,307.47 354.27,307.81 354.97,308.16 355.68,308.52 356.38,308.88 357.09,309.36 357.79,310.03 358.50,310.83 359.20,311.71 359.91,312.61 360.61,313.47 361.32,314.24 362.02,314.86 362.73,315.27 363.43,315.42 364.14,315.01 364.84,313.86 365.55,312.09 366.25,309.82 366.96,307.16 367.66,304.24 368.37,299.15 369.07,291.14 369.78,282.10 370.48,273.88 371.19,268.37 371.89,264.89 372.60,261.62 373.30,258.67 374.01,256.17 374.71,254.24 375.42,252.99 376.12,252.55 376.83,252.60 377.53,252.76 378.24,253.01 378.94,253.36 379.65,253.78 380.35,254.28 381.06,254.84 381.76,255.46 382.47,256.13 383.17,256.84 383.88,257.58 384.58,258.35 385.29,259.13 385.99,259.93 386.70,260.81 387.40,261.86 388.11,263.05 388.81,264.39 389.52,265.85 390.22,267.43 390.93,269.12 391.63,270.90 392.34,272.76 393.04,274.70 393.75,276.96 394.45,279.73 395.16,282.86 395.86,286.23 396.57,289.72 397.27,293.18 397.98,296.49 398.68,299.53 399.39,302.15 400.09,304.24 400.80,305.96 401.50,307.58 402.21,309.10 402.91,310.52 403.62,311.84 404.32,313.06 405.03,314.17 405.73,315.19 406.44,316.09 407.14,316.90 407.85,317.64 408.55,318.34 409.26,319.00 409.96,319.63 410.67,320.22 411.37,320.77 412.08,321.29 412.78,321.76 413.49,322.19 414.19,322.58 414.90,322.93 415.60,323.23 416.31,323.52 417.01,323.79 417.72,323.99 418.42,324.07 419.13,323.33 419.83,321.30 420.54,318.28 421.24,314.59 421.95,310.51 422.65,306.35 423.36,301.13 424.06,294.22 424.77,286.45 425.47,278.65 426.18,271.64 426.88,266.26 427.59,261.87 428.29,257.52 429.00,253.54 429.70,250.28 430.41,248.08 431.11,247.27 431.82,247.84 432.52,249.41 433.23,251.73 433.93,254.60 434.64,257.77 435.34,261.03 436.05,264.15 436.75,267.46 437.46,271.35 438.16,275.66 438.87,280.22 439.57,284.90 440.28,289.51 440.98,293.91 441.69,297.94 442.39,301.43 443.10,304.24 443.80,306.43 444.51,308.30 445.21,309.98 445.92,311.64 446.62,313.42 447.33,315.41 448.03,317.40 448.74,319.18 449.44,320.51 450.15,321.38 450.85,322.15 451.56,322.84 452.26,323.47 452.97,324.04 453.67,324.55 454.38,325.03 455.08,325.47 455.79,325.88 456.49,326.28 457.20,326.67 457.90,327.05 458.61,327.45 459.31,327.85 460.02,328.24 460.72,328.63 461.43,329.01 462.13,329.38 462.84,329.74 463.54,330.08 464.25,330.41 464.95,330.73 465.66,331.04 466.36,331.33 467.07,331.60 467.77,331.85 468.48,332.09 469.18,332.30 469.89,332.50 470.59,332.69 471.30,332.88 472.00,333.05 472.71,333.22 473.41,333.38 474.12,333.53 474.82,333.67 475.53,333.81 476.23,333.94 476.94,334.07 477.64,334.19 478.35,334.30 479.05,334.41 479.76,334.52 480.46,334.64 481.17,334.75 481.87,334.86 482.58,334.97 483.28,335.06 483.99,335.14 484.69,335.20 485.40,335.24 486.10,335.26 486.81,335.23 487.51,335.15 488.22,335.05"/>
<polyline fill="none" stroke="#4a5870" stroke-width="1.2" stroke-linejoin="round" points="288.70,336.94 289.40,336.87 290.11,336.77 290.81,336.67 291.52,336.55 292.23,336.43 292.93,336.32 293.64,336.21 294.34,336.10 295.05,336.02 295.75,335.95 296.46,335.91 297.16,335.89 297.87,335.90 298.57,335.92 299.28,335.95 299.98,336.00 300.69,336.05 301.39,336.11 302.10,336.17 302.80,336.24 303.51,336.31 304.21,336.38 304.92,336.45 305.62,336.52 306.33,336.57 307.03,336.63 307.74,336.67 308.44,336.71 309.15,336.73 309.85,336.73 310.56,336.70 311.26,336.60 311.97,336.44 312.67,336.23 313.38,335.96 314.08,335.63 314.79,335.26 315.49,334.83 316.20,333.74 316.90,331.59 317.61,328.74 318.31,325.56 319.02,322.40 319.72,319.64 320.43,317.61 321.13,315.91 321.84,314.27 322.54,312.74 323.25,311.35 323.95,310.15 324.66,309.17 325.36,308.46 326.07,307.92 326.77,307.43 327.48,306.99 328.18,306.60 328.89,306.24 329.59,305.91 330.30,305.60 331.00,305.32 331.71,305.06 332.41,304.81 333.12,304.56 333.82,304.32 334.53,304.07 335.23,303.82 335.94,303.55 336.64,303.28 337.35,302.99 338.05,302.71 338.76,302.42 339.46,302.14 340.17,301.86 340.87,301.59 341.58,301.33 342.28,301.09 342.99,300.86 343.69,300.66 344.40,300.48 345.10,300.32 345.81,300.19 346.51,300.10 347.22,300.04 347.92,300.02 348.63,300.04 349.33,300.11 350.04,300.22 350.74,300.36 351.45,300.54 352.15,300.73 352.86,300.95 353.56,301.18 354.27,301.42 354.97,301.66 355.68,301.90 356.38,302.13 357.09,302.40 357.79,302.75 358.50,303.15 359.20,303.57 359.91,304.00 360.61,304.40 361.32,304.76 362.02,305.04 362.73,305.23 363.43,305.30 364.14,304.93 364.84,303.93 365.55,302.40 366.25,300.46 366.96,298.22 367.66,295.80 368.37,292.25 369.07,286.98 369.78,280.65 370.48,273.95 371.19,267.52 371.89,262.04 372.60,256.93 373.30,251.43 374.01,245.98 374.71,241.00 375.42,236.91 376.12,234.15 376.83,233.13 377.53,233.22 378.24,233.45 378.94,233.82 379.65,234.30 380.35,234.88 381.06,235.53 381.76,236.25 382.47,237.00 383.17,237.78 383.88,238.71 384.58,239.90 385.29,241.31 385.99,242.87 386.70,244.52 387.40,246.22 388.11,247.98 388.81,249.88 389.52,251.91 390.22,254.05 390.93,256.29 391.63,258.60 392.34,260.98 393.04,263.42 393.75,265.88 394.45,268.37 395.16,271.02 395.86,273.94 396.57,277.03 397.27,280.23 397.98,283.44 398.68,286.58 399.39,289.58 400.09,292.35 400.80,294.80 401.50,296.86 402.21,298.63 402.91,300.26 403.62,301.76 404.32,303.11 405.03,304.29 405.73,305.30 406.44,306.21 407.14,307.12 407.85,308.02 408.55,308.90 409.26,309.76 409.96,310.58 410.67,311.35 411.37,312.08 412.08,312.75 412.78,313.36 413.49,313.89 414.19,314.35 414.90,314.71 415.60,314.99 416.31,315.15 417.01,315.21 417.72,314.97 418.42,314.27 419.13,313.21 419.83,311.83 420.54,310.23 421.24,308.46 421.95,305.48 422.65,300.55 423.36,294.26 424.06,287.15 424.77,279.82 425.47,272.81 426.18,266.69 426.88,262.04 427.59,258.21 428.29,254.35 429.00,250.75 429.70,247.68 430.41,245.41 431.11,244.22 431.82,244.26 432.52,245.18 433.23,246.78 433.93,248.91 434.64,251.44 435.34,254.22 436.05,257.10 436.75,259.93 437.46,263.06 438.16,266.82 438.87,271.06 439.57,275.63 440.28,280.36 440.98,285.11 441.69,289.72 442.39,294.04 443.10,297.91 443.80,301.56 444.51,305.16 445.21,308.50 445.92,311.32 446.62,313.47 447.33,315.33 448.03,316.99 448.74,318.42 449.44,319.60 450.15,320.49 450.85,321.20 451.56,321.86 452.26,322.48 452.97,323.05 453.67,323.59 454.38,324.08 455.08,324.54 455.79,324.97 456.49,325.37 457.20,325.75 457.90,326.10 458.61,326.43 459.31,326.74 460.02,327.04 460.72,327.33 461.43,327.60 462.13,327.87 462.84,328.13 463.54,328.39 464.25,328.63 464.95,328.86 465.66,329.09 466.36,329.30 467.07,329.50 467.77,329.69 468.48,329.87 469.18,330.04 469.89,330.20 470.59,330.35 471.30,330.49 472.00,330.62 472.71,330.74 473.41,330.86 474.12,330.98 474.82,331.10 475.53,331.22 476.23,331.32 476.94,331.42 477.64,331.50 478.35,331.57 479.05,331.63 479.76,331.66 480.46,331.67 481.17,331.67 481.87,331.67 482.58,331.67 483.28,331.67 483.99,331.67 484.69,331.67 485.40,331.67 486.10,331.67 486.81,331.48 487.51,331.01 488.22,330.40"/>
<polyline fill="none" stroke="#b8b8b8" stroke-width="1.2" stroke-linejoin="round" points="288.70,336.94 289.40,336.87 290.11,336.77 290.81,336.67 291.52,336.55 292.23,336.43 292.93,336.32 293.64,336.21 294.34,336.10 295.05,336.02 295.75,335.95 296.46,335.91 297.16,335.89 297.87,335.90 298.57,335.92 299.28,335.95 299.98,336.00 300.69,336.05 301.39,336.11 302.10,336.17 302.80,336.24 303.51,336.31 304.21,336.38 304.92,336.45 305.62,336.52 306.33,336.57 307.03,336.63 307.74,336.67 308.44,336.71 309.15,336.73 309.85,336.73 310.56,336.69 311.26,336.55 311.97,336.34 312.67,336.05 313.38,335.68 314.08,335.25 314.79,334.75 315.49,334.20 316.20,332.99 316.90,330.74 317.61,327.78 318.31,324.48 319.02,321.16 319.72,318.18 320.43,315.86 321.13,313.78 321.84,311.73 322.54,309.76 323.25,307.96 323.95,306.40 324.66,305.13 325.36,304.24 326.07,303.59 326.77,302.99 327.48,302.45 328.18,301.96 328.89,301.51 329.59,301.09 330.30,300.72 331.00,300.38 331.71,300.06 332.41,299.77 333.12,299.49 333.82,299.24 334.53,298.99 335.23,298.75 335.94,298.52 336.64,298.28 337.35,298.04 338.05,297.81 338.76,297.58 339.46,297.36 340.17,297.15 340.87,296.94 341.58,296.75 342.28,296.57 342.99,296.40 343.69,296.25 344.40,296.12 345.10,296.01 345.81,295.92 346.51,295.85 347.22,295.81 347.92,295.80 348.63,295.84 349.33,295.94 350.04,296.10 350.74,296.31 351.45,296.56 352.15,296.85 352.86,297.16 353.56,297.48 354.27,297.81 354.97,298.14 355.68,298.46 356.38,298.75 357.09,299.08 357.79,299.47 358.50,299.90 359.20,300.35 359.91,300.80 360.61,301.22 361.32,301.58 362.02,301.87 362.73,302.06 363.43,302.13 364.14,301.72 364.84,300.59 365.55,298.86 366.25,296.70 366.96,294.22 367.66,291.58 368.37,287.84 369.07,282.45 369.78,276.07 370.48,269.38 371.19,263.08 371.89,257.82 372.60,253.10 373.30,248.14 374.01,243.20 374.71,238.55 375.42,234.46 376.12,231.21 376.83,229.06 377.53,228.28 378.24,228.40 378.94,228.75 379.65,229.28 380.35,229.97 381.06,230.77 381.76,231.66 382.47,232.60 383.17,233.56 383.88,234.66 384.58,236.04 385.29,237.63 385.99,239.36 386.70,241.19 387.40,243.05 388.11,244.97 388.81,247.00 389.52,249.15 390.22,251.39 390.93,253.72 391.63,256.13 392.34,258.59 393.04,261.11 393.75,263.67 394.45,266.26 395.16,269.03 395.86,272.07 396.57,275.30 397.27,278.62 397.98,281.97 398.68,285.23 399.39,288.34 400.09,291.19 400.80,293.71 401.50,295.80 402.21,297.58 402.91,299.21 403.62,300.70 404.32,302.03 405.03,303.21 405.73,304.24 406.44,305.19 407.14,306.15 407.85,307.09 408.55,308.03 409.26,308.93 409.96,309.80 410.67,310.64 411.37,311.41 412.08,312.14 412.78,312.79 413.49,313.36 414.19,313.85 414.90,314.25 415.60,314.54 416.31,314.73 417.01,314.79 417.72,314.56 418.42,313.91 419.13,312.91 419.83,311.63 420.54,310.12 421.24,308.46 421.95,305.64 422.65,300.98 423.36,295.01 424.06,288.27 424.77,281.27 425.47,274.57 426.18,268.68 426.88,264.15 427.59,260.36 428.29,256.51 429.00,252.91 429.70,249.82 430.41,247.53 431.11,246.33 431.82,246.38 432.52,247.30 433.23,248.92 433.93,251.07 434.64,253.61 435.34,256.38 436.05,259.25 436.75,262.04 437.46,265.07 438.16,268.63 438.87,272.61 439.57,276.87 440.28,281.29 440.98,285.73 441.69,290.07 442.39,294.17 443.10,297.91 443.80,301.51 444.51,305.11 445.21,308.47 445.92,311.32 446.62,313.47 447.33,315.33 448.03,316.99 448.74,318.42 449.44,319.60 450.15,320.49 450.85,321.20 451.56,321.86 452.26,322.48 452.97,323.05 453.67,323.59 454.38,324.08 455.08,324.54 455.79,324.97 456.49,325.37 457.20,325.75 457.90,326.10 458.61,326.43 459.31,326.74 460.02,327.04 460.72,327.33 461.43,327.60 462.13,327.87 462.84,328.13 463.54,328.39 464.25,328.63 464.95,328.86 465.66,329.09 466.36,329.30 467.07,329.50 467.77,329.69 468.48,329.87 469.18,330.04 469.89,330.20 470.59,330.35 471.30,330.49 472.00,330.62 472.71,330.74 473.41,330.86 474.12,330.98 474.82,331.10 475.53,331.22 476.23,331.32 476.94,331.42 477.64,331.50 478.35,331.57 479.05,331.63 479.76,331.66 480.46,331.67 481.17,331.66 481.87,331.64 482.58,331.60 483.28,331.55 483.99,331.49 484.69,331.42 485.40,331.34 486.10,331.25 486.81,331.03 487.51,330.62 488.22,330.12"/>
<polyline fill="none" stroke="#f4a060" stroke-width="1.2" stroke-linejoin="round" points="288.70,336.31 289.40,336.15 290.11,335.93 290.81,335.67 291.52,335.39 292.23,335.10 292.93,334.82 293.64,334.58 294.34,334.38 295.05,334.25 295.75,334.20 296.46,334.21 297.16,334.24 297.87,334.28 298.57,334.34 299.28,334.41 299.98,334.48 300.69,334.56 301.39,334.64 302.10,334.72 302.80,334.80 303.51,334.87 304.21,334.93 304.92,334.98 305.62,335.02 306.33,335.04 307.03,334.94 307.74,333.86 308.44,331.86 309.15,329.26 309.85,326.39 310.56,322.30 311.26,316.52 311.97,310.11 312.67,304.15 313.38,299.36 314.08,294.97 314.79,290.83 315.49,286.91 316.20,283.18 316.90,279.56 317.61,275.52 318.31,271.36 319.02,267.51 319.72,264.44 320.43,262.59 321.13,262.28 321.84,262.63 322.54,263.30 323.25,264.25 323.95,265.41 324.66,266.73 325.36,268.14 326.07,269.60 326.77,271.05 327.48,272.41 328.18,273.65 328.89,274.70 329.59,275.64 330.30,276.59 331.00,277.53 331.71,278.47 332.41,279.39 333.12,280.29 333.82,281.15 334.53,281.98 335.23,282.76 335.94,283.48 336.64,284.14 337.35,284.74 338.05,285.25 338.76,285.70 339.46,286.11 340.17,286.48 340.87,286.82 341.58,287.14 342.28,287.44 342.99,287.72 343.69,288.00 344.40,288.28 345.10,288.57 345.81,288.87 346.51,289.18 347.22,289.52 347.92,289.89 348.63,290.29 349.33,290.69 350.04,291.12 350.74,291.55 351.45,292.00 352.15,292.45 352.86,292.92 353.56,293.40 354.27,293.88 354.97,294.37 355.68,294.87 356.38,295.38 357.09,295.95 357.79,296.63 358.50,297.37 359.20,298.12 359.91,298.83 360.61,299.47 361.32,299.98 362.02,300.32 362.73,300.44 363.43,300.20 364.14,299.54 364.84,298.53 365.55,297.26 366.25,295.80 366.96,293.03 367.66,288.28 368.37,282.29 369.07,275.81 369.78,269.59 370.48,264.38 371.19,260.71 371.89,257.40 372.60,254.42 373.30,252.18 374.01,251.07 374.71,250.73 375.42,250.50 376.12,250.33 376.83,250.18 377.53,250.02 378.24,249.80 378.94,249.47 379.65,249.03 380.35,248.55 381.06,248.07 381.76,247.66 382.47,247.38 383.17,247.27 383.88,247.40 384.58,247.78 385.29,248.35 385.99,249.07 386.70,249.90 387.40,250.86 388.11,252.44 388.81,254.58 389.52,257.05 390.22,259.61 390.93,262.04 391.63,264.38 392.34,266.81 393.04,269.30 393.75,271.81 394.45,274.32 395.16,276.81 395.86,279.37 396.57,282.09 397.27,284.88 397.98,287.67 398.68,290.38 399.39,292.94 400.09,295.28 400.80,297.31 401.50,298.97 402.21,300.31 402.91,301.49 403.62,302.53 404.32,303.49 405.03,304.40 405.73,305.30 406.44,306.22 407.14,307.20 407.85,308.21 408.55,309.22 409.26,310.23 409.96,311.21 410.67,312.14 411.37,313.01 412.08,313.80 412.78,314.49 413.49,315.05 414.19,315.48 414.90,315.75 415.60,315.85 416.31,315.80 417.01,315.68 417.72,315.48 418.42,315.21 419.13,313.99 419.83,311.27 420.54,307.59 421.24,303.50 421.95,299.37 422.65,294.13 423.36,287.93 424.06,281.31 424.77,274.78 425.47,268.88 426.18,264.15 426.88,260.06 427.59,255.91 428.29,251.95 429.00,248.43 429.70,245.61 430.41,243.73 431.11,243.05 431.82,243.47 432.52,244.64 433.23,246.43 433.93,248.69 434.64,251.31 435.34,254.15 436.05,257.06 436.75,259.93 437.46,263.09 438.16,266.86 438.87,271.11 439.57,275.67 440.28,280.40 440.98,285.13 441.69,289.73 442.39,294.04 443.10,297.91 443.80,301.55 444.51,305.15 445.21,308.47 445.92,311.31 446.62,313.49 447.33,315.41 448.03,317.13 448.74,318.62 449.44,319.82 450.15,320.70 450.85,321.37 451.56,321.98 452.26,322.55 452.97,323.07 453.67,323.54 454.38,323.98 455.08,324.39 455.79,324.77 456.49,325.12 457.20,325.44 457.90,325.75 458.61,326.05 459.31,326.34 460.02,326.61 460.72,326.89 461.43,327.17 462.13,327.45 462.84,327.74 463.54,328.02 464.25,328.29 464.95,328.55 465.66,328.80 466.36,329.04 467.07,329.25 467.77,329.45 468.48,329.62 469.18,329.77 469.89,329.90 470.59,330.04 471.30,330.17 472.00,330.29 472.71,330.42 473.41,330.53 474.12,330.64 474.82,330.73 475.53,330.82 476.23,330.89 476.94,330.95 477.64,331.00 478.35,331.03 479.05,331.04 479.76,331.03 480.46,331.01 481.17,330.97 481.87,330.92 482.58,330.86 483.28,330.79 483.99,330.71 484.69,330.62 485.40,330.51 486.10,330.40 486.81,330.17 487.51,329.76 488.22,329.26"/>
<polyline fill="none" stroke="#f24848" stroke-width="1.2" stroke-linejoin="round" points="288.70,335.89 289.40,335.71 290.11,335.48 290.81,335.22 291.52,334.94 292.23,334.65 292.93,334.38 293.64,334.14 294.34,333.95 295.05,333.83 295.75,333.78 296.46,333.79 297.16,333.83 297.87,333.88 298.57,333.95 299.28,334.04 299.98,334.13 300.69,334.23 301.39,334.33 302.10,334.43 302.80,334.52 303.51,334.61 304.21,334.69 304.92,334.76 305.62,334.80 306.33,334.83 307.03,334.72 307.74,333.52 308.44,331.31 309.15,328.46 309.85,325.34 310.56,320.98 311.26,314.91 311.97,308.24 312.67,302.09 313.38,297.22 314.08,292.80 314.79,288.68 315.49,284.79 316.20,281.08 316.90,277.44 317.61,273.37 318.31,269.15 319.02,265.26 319.72,262.15 320.43,260.27 321.13,259.99 321.84,260.59 322.54,261.76 323.25,263.38 323.95,265.34 324.66,267.52 325.36,269.82 326.07,272.10 326.77,274.27 327.48,276.21 328.18,277.79 328.89,278.92 329.59,279.75 330.30,280.52 331.00,281.24 331.71,281.90 332.41,282.53 333.12,283.11 333.82,283.65 334.53,284.16 335.23,284.63 335.94,285.08 336.64,285.51 337.35,285.92 338.05,286.31 338.76,286.67 339.46,287.00 340.17,287.31 340.87,287.60 341.58,287.87 342.28,288.13 342.99,288.38 343.69,288.63 344.40,288.88 345.10,289.13 345.81,289.40 346.51,289.68 347.22,289.99 347.92,290.31 348.63,290.66 349.33,291.02 350.04,291.40 350.74,291.78 351.45,292.18 352.15,292.59 352.86,293.02 353.56,293.46 354.27,293.92 354.97,294.39 355.68,294.87 356.38,295.38 357.09,295.98 357.79,296.72 358.50,297.54 359.20,298.38 359.91,299.20 360.61,299.94 361.32,300.53 362.02,300.93 362.73,301.07 363.43,300.80 364.14,300.03 364.84,298.87 365.55,297.43 366.25,295.80 366.96,292.92 367.66,288.17 368.37,282.27 369.07,275.98 369.78,270.04 370.48,265.18 371.19,261.96 371.89,259.16 372.60,256.70 373.30,254.88 374.01,254.02 374.71,253.78 375.42,253.61 376.12,253.48 376.83,253.37 377.53,253.28 378.24,253.18 378.94,253.06 379.65,252.94 380.35,252.82 381.06,252.71 381.76,252.63 382.47,252.57 383.17,252.55 383.88,252.63 384.58,252.87 385.29,253.25 385.99,253.73 386.70,254.29 387.40,254.96 388.11,256.18 388.81,257.90 389.52,259.93 390.22,262.07 390.93,264.15 391.63,266.22 392.34,268.44 393.04,270.76 393.75,273.13 394.45,275.52 395.16,277.87 395.86,280.28 396.57,282.84 397.27,285.47 397.98,288.12 398.68,290.70 399.39,293.14 400.09,295.38 400.80,297.35 401.50,298.97 402.21,300.29 402.91,301.47 403.62,302.52 404.32,303.49 405.03,304.40 405.73,305.30 406.44,306.22 407.14,307.20 407.85,308.21 408.55,309.22 409.26,310.23 409.96,311.21 410.67,312.14 411.37,313.01 412.08,313.80 412.78,314.49 413.49,315.05 414.19,315.48 414.90,315.75 415.60,315.85 416.31,315.77 417.01,315.56 417.72,315.22 418.42,314.79 419.13,313.40 419.83,310.55 420.54,306.75 421.24,302.54 421.95,298.25 422.65,292.82 423.36,286.42 424.06,279.59 424.77,272.88 425.47,266.85 426.18,262.04 426.88,257.92 427.59,253.76 428.29,249.80 429.00,246.29 429.70,243.48 430.41,241.62 431.11,240.94 431.82,241.39 432.52,242.65 433.23,244.57 433.93,247.00 434.64,249.79 435.34,252.80 436.05,255.88 436.75,258.88 437.46,262.11 438.16,265.91 438.87,270.14 439.57,274.66 440.28,279.34 440.98,284.03 441.69,288.61 442.39,292.93 443.10,296.86 443.80,300.66 444.51,304.50 445.21,308.03 445.92,310.94 446.62,312.99 447.33,314.69 448.03,316.20 448.74,317.52 449.44,318.64 450.15,319.56 450.85,320.28 451.56,320.87 452.26,321.44 452.97,321.97 453.67,322.47 454.38,322.94 455.08,323.38 455.79,323.79 456.49,324.18 457.20,324.54 457.90,324.89 458.61,325.21 459.31,325.51 460.02,325.80 460.72,326.07 461.43,326.32 462.13,326.57 462.84,326.80 463.54,327.02 464.25,327.24 464.95,327.45 465.66,327.66 466.36,327.87 467.07,328.08 467.77,328.29 468.48,328.49 469.18,328.69 469.89,328.87 470.59,329.03 471.30,329.18 472.00,329.31 472.71,329.42 473.41,329.49 474.12,329.54 474.82,329.56 475.53,329.56 476.23,329.55 476.94,329.53 477.64,329.51 478.35,329.48 479.05,329.45 479.76,329.41 480.46,329.36 481.17,329.31 481.87,329.26 482.58,329.20 483.28,329.14 483.99,329.03 484.69,328.87 485.40,328.69 486.10,328.50 486.81,328.31 487.51,328.08 488.22,327.85"/>
<polyline fill="none" stroke="#e4221c" stroke-width="1.2" stroke-linejoin="round" points="288.70,335.89 289.40,335.69 290.11,335.43 290.81,335.11 291.52,334.77 292.23,334.43 292.93,334.10 293.64,333.81 294.34,333.57 295.05,333.41 295.75,333.36 296.46,333.37 297.16,333.42 297.87,333.48 298.57,333.57 299.28,333.66 299.98,333.78 300.69,333.89 301.39,334.02 302.10,334.14 302.80,334.25 303.51,334.36 304.21,334.45 304.92,334.53 305.62,334.59 306.33,334.62 307.03,334.51 307.74,333.35 308.44,331.20 309.15,328.42 309.85,325.34 310.56,320.91 311.26,314.64 311.97,307.72 312.67,301.32 313.38,296.27 314.08,291.69 314.79,287.41 315.49,283.36 316.20,279.49 316.90,275.67 317.61,271.39 318.31,266.95 319.02,262.83 319.72,259.53 320.43,257.55 321.13,257.22 321.84,257.62 322.54,258.39 323.25,259.48 323.95,260.80 324.66,262.30 325.36,263.90 326.07,265.54 326.77,267.15 327.48,268.66 328.18,270.00 328.89,271.11 329.59,272.07 330.30,273.02 331.00,273.95 331.71,274.85 332.41,275.73 333.12,276.58 333.82,277.40 334.53,278.19 335.23,278.93 335.94,279.63 336.64,280.29 337.35,280.90 338.05,281.45 338.76,281.96 339.46,282.42 340.17,282.86 340.87,283.26 341.58,283.64 342.28,284.00 342.99,284.35 343.69,284.70 344.40,285.04 345.10,285.39 345.81,285.75 346.51,286.12 347.22,286.52 347.92,286.94 348.63,287.38 349.33,287.82 350.04,288.27 350.74,288.73 351.45,289.20 352.15,289.67 352.86,290.16 353.56,290.66 354.27,291.18 354.97,291.72 355.68,292.27 356.38,292.85 357.09,293.52 357.79,294.35 358.50,295.27 359.20,296.21 359.91,297.11 360.61,297.92 361.32,298.58 362.02,299.02 362.73,299.18 363.43,298.89 364.14,298.09 364.84,296.88 365.55,295.38 366.25,293.69 366.96,290.79 367.66,286.06 368.37,280.17 369.07,273.81 369.78,267.65 370.48,262.38 371.19,258.49 371.89,254.79 372.60,251.39 373.30,248.85 374.01,247.69 374.71,247.46 375.42,247.31 376.12,247.21 376.83,247.12 377.53,247.01 378.24,246.85 378.94,246.55 379.65,246.10 380.35,245.57 381.06,245.03 381.76,244.57 382.47,244.23 383.17,244.10 383.88,244.24 384.58,244.61 385.29,245.17 385.99,245.90 386.70,246.73 387.40,247.72 388.11,249.44 388.81,251.80 389.52,254.53 390.22,257.33 390.93,259.93 391.63,262.34 392.34,264.78 393.04,267.23 393.75,269.70 394.45,272.19 395.16,274.70 395.86,277.34 396.57,280.17 397.27,283.10 397.98,286.05 398.68,288.92 399.39,291.63 400.09,294.09 400.80,296.21 401.50,297.91 402.21,299.27 402.91,300.45 403.62,301.49 404.32,302.45 405.03,303.35 405.73,304.24 406.44,305.17 407.14,306.15 407.85,307.15 408.55,308.17 409.26,309.17 409.96,310.15 410.67,311.09 411.37,311.96 412.08,312.75 412.78,313.43 413.49,314.00 414.19,314.43 414.90,314.70 415.60,314.79 416.31,314.76 417.01,314.68 417.72,314.55 418.42,314.37 419.13,313.20 419.83,310.47 420.54,306.73 421.24,302.53 421.95,298.23 422.65,292.59 423.36,285.82 424.06,278.53 424.77,271.36 425.47,264.95 426.18,259.93 426.88,255.72 427.59,251.50 428.29,247.51 429.00,243.98 429.70,241.16 430.41,239.30 431.11,238.62 431.82,239.11 432.52,240.47 433.23,242.55 433.93,245.16 434.64,248.16 435.34,251.38 436.05,254.66 436.75,257.82 437.46,261.19 438.16,265.08 438.87,269.38 439.57,273.95 440.28,278.65 440.98,283.36 441.69,287.95 442.39,292.28 443.10,296.22 443.80,300.04 444.51,303.87 445.21,307.41 445.92,310.31 446.62,312.36 447.33,314.07 448.03,315.60 448.74,316.94 449.44,318.10 450.15,319.06 450.85,319.82 451.56,320.41 452.26,320.95 452.97,321.46 453.67,321.95 454.38,322.41 455.08,322.84 455.79,323.25 456.49,323.64 457.20,324.00 457.90,324.35 458.61,324.67 459.31,324.97 460.02,325.26 460.72,325.53 461.43,325.79 462.13,326.03 462.84,326.26 463.54,326.48 464.25,326.69 464.95,326.89 465.66,327.08 466.36,327.27 467.07,327.45 467.77,327.63 468.48,327.81 469.18,328.00 469.89,328.17 470.59,328.35 471.30,328.51 472.00,328.66 472.71,328.79 473.41,328.91 474.12,329.01 474.82,329.08 475.53,329.12 476.23,329.14 476.94,329.13 477.64,329.10 478.35,329.06 479.05,329.01 479.76,328.94 480.46,328.87 481.17,328.78 481.87,328.69 482.58,328.60 483.28,328.50 483.99,328.38 484.69,328.22 485.40,328.04 486.10,327.87 486.81,327.71 487.51,327.52 488.22,327.34"/>
<text transform="translate(325.2,294.7) rotate(-90)" font-size="7.8" text-anchor="middle" fill="#111" font-family="Liberation Sans, sans-serif">Aggregates</text>
<text transform="translate(383.6,282.5) rotate(-90)" font-size="7.8" text-anchor="middle" fill="#111" font-family="Liberation Sans, sans-serif">Monomers</text>
<text transform="translate(434.9,287.6) rotate(-90)" font-size="7.8" text-anchor="middle" fill="#111" font-family="Liberation Sans, sans-serif">Fragments</text>
<line x1="450.3" y1="219.1" x2="460.9" y2="219.1" stroke="#4aa8e0" stroke-width="1.6"/>
<text x="462.6" y="221.9" font-size="7.6" fill="#444" style="stroke:none" font-family="Liberation Sans, sans-serif">LS_O1</text>
<line x1="450.3" y1="232.2" x2="460.9" y2="232.2" stroke="#4a5870" stroke-width="1.6"/>
<text x="462.6" y="235.0" font-size="7.6" fill="#444" style="stroke:none" font-family="Liberation Sans, sans-serif">LS_O2</text>
<line x1="450.3" y1="245.3" x2="460.9" y2="245.3" stroke="#b8b8b8" stroke-width="1.6"/>
<text x="462.6" y="248.1" font-size="7.6" fill="#444" style="stroke:none" font-family="Liberation Sans, sans-serif">LS_O3</text>
<line x1="450.3" y1="258.4" x2="460.9" y2="258.4" stroke="#e4221c" stroke-width="1.6"/>
<text x="462.6" y="261.2" font-size="7.6" fill="#444" style="stroke:none" font-family="Liberation Sans, sans-serif">LS_H1</text>
<line x1="450.3" y1="271.5" x2="460.9" y2="271.5" stroke="#f4a060" stroke-width="1.6"/>
<text x="462.6" y="274.3" font-size="7.6" fill="#444" style="stroke:none" font-family="Liberation Sans, sans-serif">LS_H2</text>
<line x1="450.3" y1="284.6" x2="460.9" y2="284.6" stroke="#f24848" stroke-width="1.6"/>
<text x="462.6" y="287.4" font-size="7.6" fill="#444" style="stroke:none" font-family="Liberation Sans, sans-serif">LS_H3</text>
<rect x="103.8" y="205.8" width="100.9" height="147.1" fill="none" stroke="#333" stroke-width="1.3" stroke-dasharray="3.6 2.9"/>
<rect x="260.4" y="205.7" width="236.4" height="147.4" fill="none" stroke="#333" stroke-width="1.3" stroke-dasharray="3.6 2.9"/>
<line x1="219.4" y1="222" x2="244.5" y2="222" stroke="#9a9a9a" stroke-width="0.9"/>
<path d="M244,220.5 L247.8,222 L244,223.5 Z" fill="#111"/>
<rect x="510.1" y="3.3" width="32.1" height="175.3" fill="#d6e4f4"/>
<text transform="translate(529.6,91.9) rotate(-90)" font-size="9" text-anchor="middle" fill="#1a1a1a" font-family="Liberation Sans, sans-serif">LC-MS/MS analysis of tryptic peptides</text>
<rect x="512" y="197.5" width="32.1" height="158.3" fill="#d9d9d9"/>
<text transform="translate(529.8,273.2) rotate(-90)" font-size="9" text-anchor="middle" fill="#1a1a1a" font-family="Liberation Sans, sans-serif">SEC-UV analysis of intact mAb</text>
<text x="6" y="21.7" font-size="10.5" fill="#111" font-family="Liberation Sans, sans-serif">a)</text>
<text x="289.4" y="22.4" font-size="10" fill="#111" font-family="Liberation Sans, sans-serif">b)</text>
<text x="7.4" y="205.2" font-size="9.6" fill="#111" font-family="Liberation Sans, sans-serif">c)</text>
</svg>
</body></html>
